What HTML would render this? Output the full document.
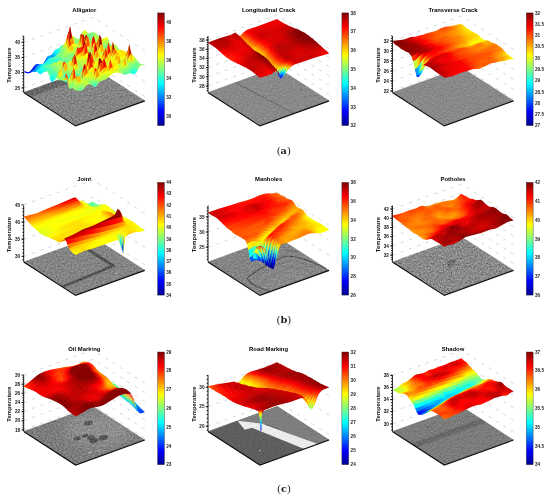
<!DOCTYPE html>
<html><head><meta charset="utf-8"><title>Temperature surfaces</title>
<style>
html,body{margin:0;padding:0;background:#fff}
svg{display:block}
text{font-family:"Liberation Sans",sans-serif;font-weight:bold;font-size:5.7px;fill:#161616}
.t{font-size:5.9px;text-anchor:middle;fill:#000}
.c{font-size:4.6px;fill:#1a1a1a}
.z{font-size:4.7px;text-anchor:end}
.y{font-size:5.9px;text-anchor:middle}
.cap{font-family:"Liberation Serif",serif;font-weight:normal;font-size:11px;text-anchor:middle;fill:#1c1c1c}
.cap tspan{font-family:"DejaVu Serif","Liberation Serif",serif;font-weight:bold;font-size:9.8px}
</style></head><body>
<svg width="550" height="502" viewBox="0 0 550 502">
<defs>
<linearGradient id="sp" x1="0" y1="0" x2="0" y2="1"><stop offset="0" stop-color="#d00"/><stop offset=".12" stop-color="#f80"/><stop offset=".25" stop-color="#ff0"/><stop offset=".42" stop-color="#7f7"/><stop offset=".6" stop-color="#0ef"/><stop offset=".8" stop-color="#05f"/><stop offset="1" stop-color="#00c"/></linearGradient>
<linearGradient id="jet" x1="0" y1="1" x2="0" y2="0">
<stop offset="0" stop-color="#00008f"/><stop offset=".125" stop-color="#00f"/><stop offset=".375" stop-color="#0ff"/><stop offset=".625" stop-color="#ff0"/><stop offset=".875" stop-color="#f00"/><stop offset="1" stop-color="#800000"/>
</linearGradient>
<filter id="n" x="0" y="0" width="1" height="1" color-interpolation-filters="sRGB">
<feTurbulence type="fractalNoise" baseFrequency=".62" numOctaves="2" seed="4"/>
<feColorMatrix type="matrix" values=".8 .8 .8 0 -.7  .8 .8 .8 0 -.7  .8 .8 .8 0 -.7  0 0 0 0 1"/>
<feComposite in2="SourceGraphic" operator="in"/>
</filter>
<filter id="n2" x="0" y="0" width="1" height="1" color-interpolation-filters="sRGB">
<feTurbulence type="fractalNoise" baseFrequency=".6" numOctaves="2" seed="9"/>
<feColorMatrix type="matrix" values="1.1 1.1 1.1 0 -1.15  1.1 1.1 1.1 0 -1.15  1.1 1.1 1.1 0 -1.15  0 0 0 0 1"/>
<feComposite in2="SourceGraphic" operator="in"/>
</filter>
<clipPath id="bc"><polygon points="23.7,92.2 75.6,125.6 144.8,100.6 92.9,67.2"/></clipPath>
<filter id="b1"><feGaussianBlur stdDeviation=".6"/></filter>
<filter id="b2" x="-.3" y="-.3" width="1.6" height="1.6"><feGaussianBlur stdDeviation="7"/></filter>
<filter id="bl"><feGaussianBlur stdDeviation=".012"/></filter>
</defs>
<rect width="550" height="502" fill="#fff"/>

<g transform="translate(0 0)">
<text class="t" x="84.3" y="11.5">Alligator</text>
<path d="M23.7 87.9 L92.9 62.9 L144.8 96.3 M23.7 72.7 L92.9 47.7 L144.8 81.1 M23.7 57.5 L92.9 32.5 L144.8 65.9 M23.7 42.3 L92.9 17.3 L144.8 50.7" fill="none" stroke="#d2d2d2" stroke-width=".9" stroke-dasharray="3.4 5.4"/>
<g transform="matrix(69.200 -25.000 -51.900 -33.400 75.60 125.60)">
<rect width="1" height="1" fill="#878787"/>
<rect x="0" y=".86" width=".75" height=".14" fill="#000" opacity=".3" filter="url(#bl)"/>
</g>
<polygon points="23.7,92.2 75.6,125.6 144.8,100.6 92.9,67.2" fill="#888" filter="url(#n)" opacity="0.24"/>
<path d="M23.7 92.5L75.6 125.9L144.8 100.9" fill="none" stroke="#0a0a0a" stroke-width="1.15" stroke-linejoin="miter"/>
<path d="M23.7 36.0 V92.2M23.7 91.0h-1.3M23.7 87.9h-1.3M23.7 84.9h-1.3M23.7 81.8h-1.3M23.7 78.8h-1.3M23.7 75.8h-1.3M23.7 72.7h-1.3M23.7 69.7h-1.3M23.7 66.6h-1.3M23.7 63.6h-1.3M23.7 60.6h-1.3M23.7 57.5h-1.3M23.7 54.5h-1.3M23.7 51.4h-1.3M23.7 48.4h-1.3M23.7 45.4h-1.3M23.7 42.3h-1.3M23.7 39.3h-1.3M23.7 36.2h-1.3M23.7 87.9h-2.2M23.7 72.7h-2.2M23.7 57.5h-2.2M23.7 42.3h-2.2" fill="none" stroke="#000" stroke-width=".9"/>
<text class="z" x="20.2" y="89.6">25</text>
<text class="z" x="20.2" y="74.4">30</text>
<text class="z" x="20.2" y="59.2">35</text>
<text class="z" x="20.2" y="44.0">40</text>
<text class="y" transform="translate(11.2 65) rotate(-90)">Temperature</text>
<g class="s">
<defs><linearGradient id="p139" gradientUnits="userSpaceOnUse" x1="24.3" x2="93.5"><stop offset="0" stop-color="#00f"/><stop offset=".075" stop-color="#00b"/><stop offset=".125" stop-color="#00e"/><stop offset=".175" stop-color="#04f"/><stop offset=".275" stop-color="#00f"/><stop offset=".35" stop-color="#0af"/><stop offset=".4" stop-color="#09f"/><stop offset=".45" stop-color="#0ff"/><stop offset=".55" stop-color="#5fa"/><stop offset=".6" stop-color="#4fb"/><stop offset=".65" stop-color="#bf4"/><stop offset=".675" stop-color="#ef1"/><stop offset=".7" stop-color="#df2"/><stop offset=".775" stop-color="#6f9"/><stop offset=".8" stop-color="#5fa"/><stop offset=".85" stop-color="#df2"/><stop offset=".875" stop-color="#ef1"/><stop offset=".925" stop-color="#9f6"/><stop offset=".95" stop-color="#7f8"/><stop offset="1" stop-color="#9f6"/></linearGradient>
<linearGradient id="p138" gradientUnits="userSpaceOnUse" x1="25.6" x2="94.8"><stop offset="0" stop-color="#00f"/><stop offset=".05" stop-color="#00d"/><stop offset=".1" stop-color="#00e"/><stop offset=".125" stop-color="#01f"/><stop offset=".15" stop-color="#04f"/><stop offset=".175" stop-color="#05f"/><stop offset=".275" stop-color="#02f"/><stop offset=".35" stop-color="#08f"/><stop offset=".4" stop-color="#08f"/><stop offset=".45" stop-color="#0ff"/><stop offset=".475" stop-color="#2fd"/><stop offset=".525" stop-color="#6f9"/><stop offset=".55" stop-color="#7f8"/><stop offset=".6" stop-color="#6f9"/><stop offset=".65" stop-color="#af5"/><stop offset=".675" stop-color="#bf4"/><stop offset=".725" stop-color="#af5"/><stop offset=".8" stop-color="#5fa"/><stop offset=".85" stop-color="#af5"/><stop offset=".875" stop-color="#af5"/><stop offset=".925" stop-color="#6f9"/><stop offset=".95" stop-color="#6f9"/><stop offset="1" stop-color="#9f6"/></linearGradient>
<linearGradient id="p137" gradientUnits="userSpaceOnUse" x1="26.9" x2="96.1"><stop offset="0" stop-color="#01f"/><stop offset=".075" stop-color="#00f"/><stop offset=".1" stop-color="#01f"/><stop offset=".15" stop-color="#05f"/><stop offset=".25" stop-color="#06f"/><stop offset=".3" stop-color="#05f"/><stop offset=".375" stop-color="#07f"/><stop offset=".4" stop-color="#09f"/><stop offset=".45" stop-color="#1fe"/><stop offset=".55" stop-color="#df2"/><stop offset=".575" stop-color="#df2"/><stop offset=".625" stop-color="#9f6"/><stop offset=".675" stop-color="#8f7"/><stop offset=".75" stop-color="#9f6"/><stop offset=".8" stop-color="#5fa"/><stop offset=".875" stop-color="#7f8"/><stop offset=".925" stop-color="#6f9"/><stop offset=".95" stop-color="#6f9"/><stop offset="1" stop-color="#af5"/></linearGradient>
<linearGradient id="p136" gradientUnits="userSpaceOnUse" x1="28.2" x2="97.4"><stop offset="0" stop-color="#02f"/><stop offset=".05" stop-color="#03f"/><stop offset=".15" stop-color="#07f"/><stop offset=".2" stop-color="#07f"/><stop offset=".25" stop-color="#0af"/><stop offset=".275" stop-color="#0af"/><stop offset=".325" stop-color="#08f"/><stop offset=".35" stop-color="#08f"/><stop offset=".425" stop-color="#1fe"/><stop offset=".5" stop-color="#9f6"/><stop offset=".525" stop-color="#ef1"/><stop offset=".55" stop-color="#f70"/><stop offset=".575" stop-color="#f00"/><stop offset=".6" stop-color="#f90"/><stop offset=".625" stop-color="#cf3"/><stop offset=".65" stop-color="#8f7"/><stop offset=".7" stop-color="#6f9"/><stop offset=".75" stop-color="#9f6"/><stop offset=".85" stop-color="#6f9"/><stop offset="1" stop-color="#9f6"/></linearGradient>
<linearGradient id="p135" gradientUnits="userSpaceOnUse" x1="29.5" x2="98.7"><stop offset="0" stop-color="#05f"/><stop offset=".025" stop-color="#04f"/><stop offset=".05" stop-color="#05f"/><stop offset=".15" stop-color="#0af"/><stop offset=".2" stop-color="#09f"/><stop offset=".25" stop-color="#0ef"/><stop offset=".275" stop-color="#0ff"/><stop offset=".325" stop-color="#0bf"/><stop offset=".375" stop-color="#0ef"/><stop offset=".5" stop-color="#af5"/><stop offset=".525" stop-color="#fe0"/><stop offset=".55" stop-color="#e00"/><stop offset=".575" stop-color="#800"/><stop offset=".6" stop-color="#f00"/><stop offset=".625" stop-color="#ff0"/><stop offset=".65" stop-color="#9f6"/><stop offset=".675" stop-color="#6f9"/><stop offset=".7" stop-color="#5fa"/><stop offset=".75" stop-color="#af5"/><stop offset=".775" stop-color="#bf4"/><stop offset=".8" stop-color="#af5"/><stop offset=".85" stop-color="#7f8"/><stop offset=".875" stop-color="#7f8"/><stop offset=".925" stop-color="#af5"/><stop offset=".95" stop-color="#bf4"/><stop offset="1" stop-color="#7f8"/></linearGradient>
<linearGradient id="p134" gradientUnits="userSpaceOnUse" x1="30.8" x2="100"><stop offset="0" stop-color="#08f"/><stop offset=".025" stop-color="#06f"/><stop offset=".05" stop-color="#07f"/><stop offset=".125" stop-color="#0cf"/><stop offset=".2" stop-color="#0cf"/><stop offset=".225" stop-color="#0ef"/><stop offset=".275" stop-color="#3fc"/><stop offset=".325" stop-color="#1fe"/><stop offset=".5" stop-color="#9f6"/><stop offset=".525" stop-color="#ef1"/><stop offset=".55" stop-color="#f30"/><stop offset=".575" stop-color="#800"/><stop offset=".6" stop-color="#f10"/><stop offset=".625" stop-color="#fe0"/><stop offset=".65" stop-color="#af5"/><stop offset=".7" stop-color="#5fa"/><stop offset=".725" stop-color="#6f9"/><stop offset=".775" stop-color="#cf3"/><stop offset=".8" stop-color="#cf3"/><stop offset=".85" stop-color="#8f7"/><stop offset=".875" stop-color="#7f8"/><stop offset=".925" stop-color="#bf4"/><stop offset=".95" stop-color="#bf4"/><stop offset="1" stop-color="#5fa"/></linearGradient>
<linearGradient id="p133" gradientUnits="userSpaceOnUse" x1="32.1" x2="101.3"><stop offset="0" stop-color="#09f"/><stop offset=".025" stop-color="#08f"/><stop offset=".05" stop-color="#08f"/><stop offset=".125" stop-color="#0df"/><stop offset=".225" stop-color="#1fe"/><stop offset=".275" stop-color="#4fb"/><stop offset=".325" stop-color="#4fb"/><stop offset=".375" stop-color="#6f9"/><stop offset=".425" stop-color="#7f8"/><stop offset=".475" stop-color="#9f6"/><stop offset=".525" stop-color="#ef1"/><stop offset=".55" stop-color="#fd0"/><stop offset=".575" stop-color="#f70"/><stop offset=".6" stop-color="#fa0"/><stop offset=".625" stop-color="#ff0"/><stop offset=".65" stop-color="#df2"/><stop offset=".675" stop-color="#df2"/><stop offset=".725" stop-color="#8f7"/><stop offset=".775" stop-color="#cf3"/><stop offset=".8" stop-color="#cf3"/><stop offset=".875" stop-color="#8f7"/><stop offset=".925" stop-color="#bf4"/><stop offset=".95" stop-color="#bf4"/><stop offset="1" stop-color="#2fd"/></linearGradient>
<linearGradient id="p132" gradientUnits="userSpaceOnUse" x1="33.4" x2="102.6"><stop offset="0" stop-color="#0af"/><stop offset=".05" stop-color="#09f"/><stop offset=".125" stop-color="#0ff"/><stop offset=".15" stop-color="#1fe"/><stop offset=".225" stop-color="#2fd"/><stop offset=".275" stop-color="#4fb"/><stop offset=".325" stop-color="#5fa"/><stop offset=".375" stop-color="#8f7"/><stop offset=".425" stop-color="#8f7"/><stop offset=".45" stop-color="#9f6"/><stop offset=".475" stop-color="#cf3"/><stop offset=".5" stop-color="#f90"/><stop offset=".525" stop-color="#f70"/><stop offset=".55" stop-color="#ff0"/><stop offset=".625" stop-color="#df2"/><stop offset=".65" stop-color="#fd0"/><stop offset=".675" stop-color="#f30"/><stop offset=".7" stop-color="#f60"/><stop offset=".725" stop-color="#df2"/><stop offset=".75" stop-color="#bf4"/><stop offset=".775" stop-color="#bf4"/><stop offset=".85" stop-color="#8f7"/><stop offset=".875" stop-color="#8f7"/><stop offset=".925" stop-color="#cf3"/><stop offset=".95" stop-color="#cf3"/><stop offset="1" stop-color="#2fd"/></linearGradient>
<linearGradient id="p131" gradientUnits="userSpaceOnUse" x1="34.7" x2="103.9"><stop offset="0" stop-color="#0cf"/><stop offset=".05" stop-color="#0bf"/><stop offset=".1" stop-color="#0ff"/><stop offset=".125" stop-color="#2fd"/><stop offset=".15" stop-color="#3fc"/><stop offset=".225" stop-color="#2fd"/><stop offset=".3" stop-color="#3fc"/><stop offset=".375" stop-color="#8f7"/><stop offset=".45" stop-color="#af5"/><stop offset=".475" stop-color="#df2"/><stop offset=".5" stop-color="#f50"/><stop offset=".525" stop-color="#f20"/><stop offset=".55" stop-color="#ff0"/><stop offset=".575" stop-color="#bf4"/><stop offset=".6" stop-color="#af5"/><stop offset=".625" stop-color="#cf3"/><stop offset=".65" stop-color="#fa0"/><stop offset=".675" stop-color="#800"/><stop offset=".7" stop-color="#a00"/><stop offset=".725" stop-color="#fc0"/><stop offset=".75" stop-color="#ef1"/><stop offset=".825" stop-color="#8f7"/><stop offset=".875" stop-color="#9f6"/><stop offset=".925" stop-color="#cf3"/><stop offset=".95" stop-color="#cf3"/><stop offset="1" stop-color="#5fa"/></linearGradient>
<linearGradient id="p130" gradientUnits="userSpaceOnUse" x1="36" x2="105.2"><stop offset="0" stop-color="#0ef"/><stop offset=".075" stop-color="#0ff"/><stop offset=".125" stop-color="#3fc"/><stop offset=".225" stop-color="#2fd"/><stop offset=".3" stop-color="#3fc"/><stop offset=".375" stop-color="#8f7"/><stop offset=".475" stop-color="#cf3"/><stop offset=".5" stop-color="#fc0"/><stop offset=".525" stop-color="#fb0"/><stop offset=".55" stop-color="#df2"/><stop offset=".575" stop-color="#9f6"/><stop offset=".6" stop-color="#8f7"/><stop offset=".625" stop-color="#af5"/><stop offset=".65" stop-color="#fd0"/><stop offset=".675" stop-color="#f10"/><stop offset=".7" stop-color="#900"/><stop offset=".725" stop-color="#f30"/><stop offset=".75" stop-color="#fd0"/><stop offset=".775" stop-color="#df2"/><stop offset=".825" stop-color="#af5"/><stop offset=".925" stop-color="#df2"/><stop offset="1" stop-color="#af5"/></linearGradient>
<linearGradient id="p129" gradientUnits="userSpaceOnUse" x1="37.3" x2="106.5"><stop offset="0" stop-color="#0ef"/><stop offset=".025" stop-color="#1fe"/><stop offset=".125" stop-color="#5fa"/><stop offset=".2" stop-color="#1fe"/><stop offset=".25" stop-color="#2fd"/><stop offset=".3" stop-color="#3fc"/><stop offset=".4" stop-color="#af5"/><stop offset=".475" stop-color="#9f6"/><stop offset=".525" stop-color="#df2"/><stop offset=".6" stop-color="#6f9"/><stop offset=".625" stop-color="#8f7"/><stop offset=".65" stop-color="#cf3"/><stop offset=".675" stop-color="#fc0"/><stop offset=".7" stop-color="#a00"/><stop offset=".725" stop-color="#b00"/><stop offset=".75" stop-color="#fc0"/><stop offset=".775" stop-color="#cf3"/><stop offset=".825" stop-color="#bf4"/><stop offset="1" stop-color="#ff0"/></linearGradient>
<linearGradient id="p128" gradientUnits="userSpaceOnUse" x1="38.6" x2="107.8"><stop offset="0" stop-color="#0df"/><stop offset=".025" stop-color="#0ff"/><stop offset=".125" stop-color="#6f9"/><stop offset=".2" stop-color="#2fd"/><stop offset=".325" stop-color="#5fa"/><stop offset=".4" stop-color="#9f6"/><stop offset=".475" stop-color="#7f8"/><stop offset=".525" stop-color="#bf4"/><stop offset=".6" stop-color="#7f8"/><stop offset=".65" stop-color="#af5"/><stop offset=".675" stop-color="#ff0"/><stop offset=".7" stop-color="#f50"/><stop offset=".725" stop-color="#f50"/><stop offset=".75" stop-color="#ef1"/><stop offset=".775" stop-color="#bf4"/><stop offset=".8" stop-color="#af5"/><stop offset=".875" stop-color="#df2"/><stop offset=".95" stop-color="#df2"/><stop offset="1" stop-color="#ff0"/></linearGradient>
<linearGradient id="p127" gradientUnits="userSpaceOnUse" x1="39.9" x2="109.1"><stop offset="0" stop-color="#0df"/><stop offset=".05" stop-color="#1fe"/><stop offset=".125" stop-color="#7f8"/><stop offset=".15" stop-color="#7f8"/><stop offset=".225" stop-color="#4fb"/><stop offset=".275" stop-color="#6f9"/><stop offset=".35" stop-color="#6f9"/><stop offset=".425" stop-color="#8f7"/><stop offset=".475" stop-color="#6f9"/><stop offset=".525" stop-color="#9f6"/><stop offset=".575" stop-color="#9f6"/><stop offset=".625" stop-color="#af5"/><stop offset=".675" stop-color="#af5"/><stop offset=".7" stop-color="#df2"/><stop offset=".725" stop-color="#fd0"/><stop offset=".75" stop-color="#fe0"/><stop offset=".8" stop-color="#bf4"/><stop offset=".875" stop-color="#cf3"/><stop offset=".925" stop-color="#af5"/><stop offset="1" stop-color="#bf4"/></linearGradient>
<linearGradient id="p126" gradientUnits="userSpaceOnUse" x1="41.2" x2="110.4"><stop offset="0" stop-color="#0ff"/><stop offset=".075" stop-color="#2fd"/><stop offset=".15" stop-color="#9f6"/><stop offset=".175" stop-color="#af5"/><stop offset=".225" stop-color="#8f7"/><stop offset=".275" stop-color="#8f7"/><stop offset=".35" stop-color="#6f9"/><stop offset=".425" stop-color="#9f6"/><stop offset=".475" stop-color="#7f8"/><stop offset=".55" stop-color="#af5"/><stop offset=".625" stop-color="#cf3"/><stop offset=".675" stop-color="#9f6"/><stop offset=".7" stop-color="#cf3"/><stop offset=".725" stop-color="#f30"/><stop offset=".75" stop-color="#f00"/><stop offset=".775" stop-color="#fc0"/><stop offset=".8" stop-color="#df2"/><stop offset=".875" stop-color="#bf4"/><stop offset=".925" stop-color="#8f7"/><stop offset="1" stop-color="#7f8"/></linearGradient>
<linearGradient id="p125" gradientUnits="userSpaceOnUse" x1="42.5" x2="111.7"><stop offset="0" stop-color="#4fb"/><stop offset=".075" stop-color="#2fd"/><stop offset=".1" stop-color="#3fc"/><stop offset=".15" stop-color="#af5"/><stop offset=".175" stop-color="#bf4"/><stop offset=".25" stop-color="#bf4"/><stop offset=".325" stop-color="#6f9"/><stop offset=".375" stop-color="#6f9"/><stop offset=".4" stop-color="#7f8"/><stop offset=".45" stop-color="#cf3"/><stop offset=".5" stop-color="#cf3"/><stop offset=".55" stop-color="#ff0"/><stop offset=".575" stop-color="#fc0"/><stop offset=".6" stop-color="#fe0"/><stop offset=".65" stop-color="#9f6"/><stop offset=".675" stop-color="#8f7"/><stop offset=".7" stop-color="#cf3"/><stop offset=".725" stop-color="#f10"/><stop offset=".75" stop-color="#c00"/><stop offset=".775" stop-color="#f90"/><stop offset=".8" stop-color="#fd0"/><stop offset=".825" stop-color="#df2"/><stop offset=".85" stop-color="#af5"/><stop offset=".925" stop-color="#7f8"/><stop offset="1" stop-color="#6f9"/></linearGradient>
<linearGradient id="p124" gradientUnits="userSpaceOnUse" x1="43.8" x2="113"><stop offset="0" stop-color="#8f7"/><stop offset=".075" stop-color="#4fb"/><stop offset=".1" stop-color="#4fb"/><stop offset=".175" stop-color="#af5"/><stop offset=".225" stop-color="#cf3"/><stop offset=".25" stop-color="#cf3"/><stop offset=".3" stop-color="#7f8"/><stop offset=".325" stop-color="#7f8"/><stop offset=".4" stop-color="#8f7"/><stop offset=".425" stop-color="#af5"/><stop offset=".45" stop-color="#fa0"/><stop offset=".475" stop-color="#f40"/><stop offset=".5" stop-color="#f50"/><stop offset=".55" stop-color="#f50"/><stop offset=".575" stop-color="#b00"/><stop offset=".6" stop-color="#f80"/><stop offset=".625" stop-color="#ef1"/><stop offset=".65" stop-color="#9f6"/><stop offset=".675" stop-color="#7f8"/><stop offset=".7" stop-color="#af5"/><stop offset=".725" stop-color="#fc0"/><stop offset=".75" stop-color="#f50"/><stop offset=".775" stop-color="#f30"/><stop offset=".8" stop-color="#f70"/><stop offset=".825" stop-color="#df2"/><stop offset=".85" stop-color="#8f7"/><stop offset=".875" stop-color="#7f8"/><stop offset=".95" stop-color="#7f8"/><stop offset="1" stop-color="#9f6"/></linearGradient>
<linearGradient id="p123" gradientUnits="userSpaceOnUse" x1="45.1" x2="114.3"><stop offset="0" stop-color="#af5"/><stop offset=".05" stop-color="#5fa"/><stop offset=".075" stop-color="#5fa"/><stop offset=".225" stop-color="#cf3"/><stop offset=".3" stop-color="#8f7"/><stop offset=".35" stop-color="#9f6"/><stop offset=".4" stop-color="#8f7"/><stop offset=".425" stop-color="#bf4"/><stop offset=".45" stop-color="#f90"/><stop offset=".475" stop-color="#f20"/><stop offset=".525" stop-color="#f30"/><stop offset=".55" stop-color="#e00"/><stop offset=".575" stop-color="#800"/><stop offset=".6" stop-color="#f40"/><stop offset=".625" stop-color="#ef1"/><stop offset=".65" stop-color="#9f6"/><stop offset=".675" stop-color="#7f8"/><stop offset=".7" stop-color="#9f6"/><stop offset=".725" stop-color="#df2"/><stop offset=".75" stop-color="#f70"/><stop offset=".775" stop-color="#800"/><stop offset=".8" stop-color="#b00"/><stop offset=".825" stop-color="#ff0"/><stop offset=".85" stop-color="#7f8"/><stop offset=".95" stop-color="#9f6"/><stop offset="1" stop-color="#bf4"/></linearGradient>
<linearGradient id="p122" gradientUnits="userSpaceOnUse" x1="46.4" x2="115.6"><stop offset="0" stop-color="#af5"/><stop offset=".05" stop-color="#5fa"/><stop offset=".075" stop-color="#5fa"/><stop offset=".125" stop-color="#8f7"/><stop offset=".225" stop-color="#bf4"/><stop offset=".275" stop-color="#af5"/><stop offset=".35" stop-color="#bf4"/><stop offset=".4" stop-color="#9f6"/><stop offset=".425" stop-color="#af5"/><stop offset=".45" stop-color="#ff0"/><stop offset=".5" stop-color="#fb0"/><stop offset=".525" stop-color="#fc0"/><stop offset=".575" stop-color="#f00"/><stop offset=".6" stop-color="#fa0"/><stop offset=".625" stop-color="#df2"/><stop offset=".65" stop-color="#af5"/><stop offset=".675" stop-color="#af5"/><stop offset=".7" stop-color="#af5"/><stop offset=".725" stop-color="#df2"/><stop offset=".75" stop-color="#f90"/><stop offset=".775" stop-color="#800"/><stop offset=".8" stop-color="#c00"/><stop offset=".825" stop-color="#ff0"/><stop offset=".85" stop-color="#9f6"/><stop offset=".9" stop-color="#af5"/><stop offset=".95" stop-color="#af5"/><stop offset="1" stop-color="#cf3"/></linearGradient>
<linearGradient id="p121" gradientUnits="userSpaceOnUse" x1="47.7" x2="116.9"><stop offset="0" stop-color="#9f6"/><stop offset=".05" stop-color="#4fb"/><stop offset=".075" stop-color="#4fb"/><stop offset=".125" stop-color="#8f7"/><stop offset=".2" stop-color="#bf4"/><stop offset=".25" stop-color="#af5"/><stop offset=".325" stop-color="#df2"/><stop offset=".4" stop-color="#af5"/><stop offset=".5" stop-color="#ff0"/><stop offset=".525" stop-color="#ef1"/><stop offset=".575" stop-color="#ff0"/><stop offset=".6" stop-color="#df2"/><stop offset=".7" stop-color="#cf3"/><stop offset=".725" stop-color="#cf3"/><stop offset=".75" stop-color="#ff0"/><stop offset=".775" stop-color="#fa0"/><stop offset=".8" stop-color="#fb0"/><stop offset=".825" stop-color="#cf3"/><stop offset=".85" stop-color="#bf4"/><stop offset=".9" stop-color="#cf3"/><stop offset=".95" stop-color="#af5"/><stop offset="1" stop-color="#bf4"/></linearGradient>
<linearGradient id="p120" gradientUnits="userSpaceOnUse" x1="49" x2="118.2"><stop offset="0" stop-color="#5fa"/><stop offset=".075" stop-color="#3fc"/><stop offset=".175" stop-color="#cf3"/><stop offset=".2" stop-color="#df2"/><stop offset=".25" stop-color="#9f6"/><stop offset=".3" stop-color="#df2"/><stop offset=".325" stop-color="#ef1"/><stop offset=".4" stop-color="#af5"/><stop offset=".425" stop-color="#bf4"/><stop offset=".475" stop-color="#ff0"/><stop offset=".5" stop-color="#fe0"/><stop offset=".525" stop-color="#ef1"/><stop offset=".575" stop-color="#af5"/><stop offset=".6" stop-color="#cf3"/><stop offset=".625" stop-color="#fc0"/><stop offset=".65" stop-color="#fb0"/><stop offset=".675" stop-color="#ef1"/><stop offset=".7" stop-color="#cf3"/><stop offset=".775" stop-color="#bf4"/><stop offset=".825" stop-color="#cf3"/><stop offset=".85" stop-color="#ef1"/><stop offset=".875" stop-color="#fe0"/><stop offset=".9" stop-color="#ff0"/><stop offset=".95" stop-color="#af5"/><stop offset="1" stop-color="#9f6"/></linearGradient>
<linearGradient id="p119" gradientUnits="userSpaceOnUse" x1="50.3" x2="119.5"><stop offset="0" stop-color="#1fe"/><stop offset=".1" stop-color="#4fb"/><stop offset=".125" stop-color="#6f9"/><stop offset=".15" stop-color="#bf4"/><stop offset=".175" stop-color="#f90"/><stop offset=".2" stop-color="#f90"/><stop offset=".225" stop-color="#cf3"/><stop offset=".25" stop-color="#9f6"/><stop offset=".3" stop-color="#fe0"/><stop offset=".325" stop-color="#fe0"/><stop offset=".35" stop-color="#ef1"/><stop offset=".4" stop-color="#bf4"/><stop offset=".425" stop-color="#bf4"/><stop offset=".5" stop-color="#ff0"/><stop offset=".525" stop-color="#ef1"/><stop offset=".575" stop-color="#9f6"/><stop offset=".6" stop-color="#ff0"/><stop offset=".625" stop-color="#f10"/><stop offset=".65" stop-color="#d00"/><stop offset=".675" stop-color="#fc0"/><stop offset=".7" stop-color="#df2"/><stop offset=".775" stop-color="#9f6"/><stop offset=".8" stop-color="#af5"/><stop offset=".825" stop-color="#df2"/><stop offset=".85" stop-color="#fd0"/><stop offset=".875" stop-color="#fb0"/><stop offset=".9" stop-color="#fd0"/><stop offset=".925" stop-color="#ef1"/><stop offset=".95" stop-color="#af5"/><stop offset=".975" stop-color="#8f7"/><stop offset="1" stop-color="#8f7"/></linearGradient>
<linearGradient id="p118" gradientUnits="userSpaceOnUse" x1="51.6" x2="120.8"><stop offset="0" stop-color="#0df"/><stop offset=".025" stop-color="#0ff"/><stop offset=".125" stop-color="#6f9"/><stop offset=".15" stop-color="#bf4"/><stop offset=".175" stop-color="#f30"/><stop offset=".2" stop-color="#f30"/><stop offset=".225" stop-color="#ef1"/><stop offset=".25" stop-color="#af5"/><stop offset=".275" stop-color="#fe0"/><stop offset=".3" stop-color="#f40"/><stop offset=".325" stop-color="#f60"/><stop offset=".35" stop-color="#ff0"/><stop offset=".375" stop-color="#cf3"/><stop offset=".4" stop-color="#af5"/><stop offset=".45" stop-color="#bf4"/><stop offset=".5" stop-color="#df2"/><stop offset=".525" stop-color="#df2"/><stop offset=".575" stop-color="#9f6"/><stop offset=".6" stop-color="#ff0"/><stop offset=".625" stop-color="#f00"/><stop offset=".65" stop-color="#b00"/><stop offset=".675" stop-color="#fc0"/><stop offset=".7" stop-color="#df2"/><stop offset=".775" stop-color="#cf3"/><stop offset=".8" stop-color="#cf3"/><stop offset=".825" stop-color="#ff0"/><stop offset=".85" stop-color="#fc0"/><stop offset=".875" stop-color="#fa0"/><stop offset=".9" stop-color="#fc0"/><stop offset=".925" stop-color="#df2"/><stop offset=".95" stop-color="#af5"/><stop offset=".975" stop-color="#8f7"/><stop offset="1" stop-color="#8f7"/></linearGradient>
<linearGradient id="p117" gradientUnits="userSpaceOnUse" x1="52.9" x2="122.1"><stop offset="0" stop-color="#0ff"/><stop offset=".075" stop-color="#6f9"/><stop offset=".125" stop-color="#5fa"/><stop offset=".15" stop-color="#9f6"/><stop offset=".175" stop-color="#fb0"/><stop offset=".2" stop-color="#fa0"/><stop offset=".225" stop-color="#cf3"/><stop offset=".25" stop-color="#cf3"/><stop offset=".275" stop-color="#f90"/><stop offset=".3" stop-color="#800"/><stop offset=".325" stop-color="#e00"/><stop offset=".35" stop-color="#ff0"/><stop offset=".375" stop-color="#af5"/><stop offset=".525" stop-color="#cf3"/><stop offset=".575" stop-color="#9f6"/><stop offset=".6" stop-color="#cf3"/><stop offset=".625" stop-color="#fa0"/><stop offset=".65" stop-color="#f80"/><stop offset=".675" stop-color="#ff0"/><stop offset=".7" stop-color="#df2"/><stop offset=".725" stop-color="#df2"/><stop offset=".75" stop-color="#fd0"/><stop offset=".775" stop-color="#fa0"/><stop offset=".8" stop-color="#fd0"/><stop offset=".825" stop-color="#fd0"/><stop offset=".875" stop-color="#fb0"/><stop offset=".9" stop-color="#fe0"/><stop offset=".95" stop-color="#9f6"/><stop offset="1" stop-color="#9f6"/></linearGradient>
<linearGradient id="p116" gradientUnits="userSpaceOnUse" x1="54.2" x2="123.4"><stop offset="0" stop-color="#4fb"/><stop offset=".025" stop-color="#6f9"/><stop offset=".05" stop-color="#df2"/><stop offset=".075" stop-color="#ff0"/><stop offset=".1" stop-color="#7f8"/><stop offset=".125" stop-color="#4fb"/><stop offset=".15" stop-color="#5fa"/><stop offset=".175" stop-color="#9f6"/><stop offset=".2" stop-color="#bf4"/><stop offset=".225" stop-color="#af5"/><stop offset=".25" stop-color="#cf3"/><stop offset=".275" stop-color="#fa0"/><stop offset=".3" stop-color="#c00"/><stop offset=".325" stop-color="#f50"/><stop offset=".35" stop-color="#bf4"/><stop offset=".375" stop-color="#8f7"/><stop offset=".425" stop-color="#bf4"/><stop offset=".5" stop-color="#df2"/><stop offset=".575" stop-color="#9f6"/><stop offset=".65" stop-color="#ef1"/><stop offset=".7" stop-color="#df2"/><stop offset=".725" stop-color="#ff0"/><stop offset=".75" stop-color="#f50"/><stop offset=".775" stop-color="#a00"/><stop offset=".8" stop-color="#f90"/><stop offset=".825" stop-color="#fe0"/><stop offset=".875" stop-color="#fd0"/><stop offset=".9" stop-color="#fe0"/><stop offset=".95" stop-color="#bf4"/><stop offset="1" stop-color="#af5"/></linearGradient>
<linearGradient id="p115" gradientUnits="userSpaceOnUse" x1="55.5" x2="124.7"><stop offset="0" stop-color="#8f7"/><stop offset=".025" stop-color="#af5"/><stop offset=".05" stop-color="#fa0"/><stop offset=".075" stop-color="#f70"/><stop offset=".1" stop-color="#9f6"/><stop offset=".125" stop-color="#4fb"/><stop offset=".15" stop-color="#4fb"/><stop offset=".225" stop-color="#9f6"/><stop offset=".275" stop-color="#ff0"/><stop offset=".3" stop-color="#fc0"/><stop offset=".325" stop-color="#df2"/><stop offset=".35" stop-color="#7f8"/><stop offset=".375" stop-color="#6f9"/><stop offset=".45" stop-color="#ef1"/><stop offset=".475" stop-color="#fd0"/><stop offset=".525" stop-color="#ef1"/><stop offset=".575" stop-color="#bf4"/><stop offset=".6" stop-color="#bf4"/><stop offset=".675" stop-color="#ff0"/><stop offset=".7" stop-color="#ef1"/><stop offset=".725" stop-color="#ef1"/><stop offset=".75" stop-color="#f60"/><stop offset=".775" stop-color="#d00"/><stop offset=".8" stop-color="#f70"/><stop offset=".825" stop-color="#fd0"/><stop offset=".85" stop-color="#ff0"/><stop offset=".9" stop-color="#fe0"/><stop offset=".925" stop-color="#ff0"/><stop offset="1" stop-color="#af5"/></linearGradient>
<linearGradient id="p114" gradientUnits="userSpaceOnUse" x1="56.8" x2="126"><stop offset="0" stop-color="#9f6"/><stop offset=".025" stop-color="#af5"/><stop offset=".05" stop-color="#fe0"/><stop offset=".075" stop-color="#fd0"/><stop offset=".1" stop-color="#8f7"/><stop offset=".125" stop-color="#4fb"/><stop offset=".15" stop-color="#4fb"/><stop offset=".2" stop-color="#6f9"/><stop offset=".275" stop-color="#bf4"/><stop offset=".3" stop-color="#bf4"/><stop offset=".35" stop-color="#6f9"/><stop offset=".375" stop-color="#5fa"/><stop offset=".4" stop-color="#7f8"/><stop offset=".425" stop-color="#bf4"/><stop offset=".45" stop-color="#fa0"/><stop offset=".475" stop-color="#e00"/><stop offset=".525" stop-color="#fe0"/><stop offset=".55" stop-color="#ef1"/><stop offset=".6" stop-color="#cf3"/><stop offset=".625" stop-color="#ef1"/><stop offset=".65" stop-color="#fb0"/><stop offset=".675" stop-color="#f60"/><stop offset=".7" stop-color="#fd0"/><stop offset=".725" stop-color="#cf3"/><stop offset=".75" stop-color="#ff0"/><stop offset=".775" stop-color="#f80"/><stop offset=".8" stop-color="#a00"/><stop offset=".825" stop-color="#f60"/><stop offset=".85" stop-color="#ff0"/><stop offset=".875" stop-color="#ff0"/><stop offset=".925" stop-color="#fd0"/><stop offset=".95" stop-color="#ff0"/><stop offset="1" stop-color="#af5"/></linearGradient>
<linearGradient id="p113" gradientUnits="userSpaceOnUse" x1="58.1" x2="127.3"><stop offset="0" stop-color="#8f7"/><stop offset=".05" stop-color="#9f6"/><stop offset=".075" stop-color="#8f7"/><stop offset=".125" stop-color="#3fc"/><stop offset=".175" stop-color="#3fc"/><stop offset=".2" stop-color="#3fc"/><stop offset=".275" stop-color="#8f7"/><stop offset=".375" stop-color="#8f7"/><stop offset=".425" stop-color="#cf3"/><stop offset=".45" stop-color="#f70"/><stop offset=".475" stop-color="#800"/><stop offset=".5" stop-color="#f30"/><stop offset=".525" stop-color="#fe0"/><stop offset=".55" stop-color="#ef1"/><stop offset=".6" stop-color="#df2"/><stop offset=".625" stop-color="#ff0"/><stop offset=".65" stop-color="#f70"/><stop offset=".675" stop-color="#900"/><stop offset=".7" stop-color="#f80"/><stop offset=".725" stop-color="#df2"/><stop offset=".75" stop-color="#cf3"/><stop offset=".775" stop-color="#f90"/><stop offset=".8" stop-color="#800"/><stop offset=".825" stop-color="#f30"/><stop offset=".85" stop-color="#fe0"/><stop offset=".875" stop-color="#ff0"/><stop offset=".925" stop-color="#fd0"/><stop offset=".95" stop-color="#fe0"/><stop offset="1" stop-color="#bf4"/></linearGradient>
<linearGradient id="p112" gradientUnits="userSpaceOnUse" x1="59.4" x2="128.6"><stop offset="0" stop-color="#9f6"/><stop offset=".125" stop-color="#1fe"/><stop offset=".2" stop-color="#2fd"/><stop offset=".325" stop-color="#9f6"/><stop offset=".375" stop-color="#fe0"/><stop offset=".4" stop-color="#fb0"/><stop offset=".425" stop-color="#fd0"/><stop offset=".45" stop-color="#fa0"/><stop offset=".475" stop-color="#f10"/><stop offset=".5" stop-color="#f90"/><stop offset=".525" stop-color="#ff0"/><stop offset=".6" stop-color="#bf4"/><stop offset=".625" stop-color="#df2"/><stop offset=".65" stop-color="#fa0"/><stop offset=".675" stop-color="#e00"/><stop offset=".7" stop-color="#f80"/><stop offset=".725" stop-color="#ef1"/><stop offset=".75" stop-color="#df2"/><stop offset=".775" stop-color="#fc0"/><stop offset=".8" stop-color="#f50"/><stop offset=".825" stop-color="#f70"/><stop offset=".85" stop-color="#fd0"/><stop offset=".875" stop-color="#ff0"/><stop offset=".925" stop-color="#fd0"/><stop offset=".95" stop-color="#fe0"/><stop offset="1" stop-color="#cf3"/></linearGradient>
<linearGradient id="p111" gradientUnits="userSpaceOnUse" x1="60.7" x2="129.9"><stop offset="0" stop-color="#af5"/><stop offset=".05" stop-color="#7f8"/><stop offset=".1" stop-color="#2fd"/><stop offset=".125" stop-color="#1fe"/><stop offset=".175" stop-color="#3fc"/><stop offset=".2" stop-color="#2fd"/><stop offset=".225" stop-color="#2fd"/><stop offset=".3" stop-color="#af5"/><stop offset=".325" stop-color="#bf4"/><stop offset=".35" stop-color="#fe0"/><stop offset=".375" stop-color="#f30"/><stop offset=".4" stop-color="#800"/><stop offset=".425" stop-color="#f20"/><stop offset=".45" stop-color="#fc0"/><stop offset=".5" stop-color="#ff0"/><stop offset=".55" stop-color="#ef1"/><stop offset=".6" stop-color="#af5"/><stop offset=".625" stop-color="#af5"/><stop offset=".65" stop-color="#ef1"/><stop offset=".675" stop-color="#fc0"/><stop offset=".7" stop-color="#fd0"/><stop offset=".725" stop-color="#ef1"/><stop offset=".75" stop-color="#df2"/><stop offset=".775" stop-color="#ef1"/><stop offset=".8" stop-color="#fc0"/><stop offset=".825" stop-color="#fb0"/><stop offset=".875" stop-color="#fe0"/><stop offset=".925" stop-color="#fd0"/><stop offset=".95" stop-color="#ff0"/><stop offset="1" stop-color="#df2"/></linearGradient>
<linearGradient id="p110" gradientUnits="userSpaceOnUse" x1="62" x2="131.2"><stop offset="0" stop-color="#cf3"/><stop offset=".025" stop-color="#cf3"/><stop offset=".1" stop-color="#5fa"/><stop offset=".15" stop-color="#6f9"/><stop offset=".175" stop-color="#5fa"/><stop offset=".2" stop-color="#3fc"/><stop offset=".225" stop-color="#3fc"/><stop offset=".25" stop-color="#6f9"/><stop offset=".275" stop-color="#bf4"/><stop offset=".3" stop-color="#fc0"/><stop offset=".35" stop-color="#fd0"/><stop offset=".375" stop-color="#d00"/><stop offset=".4" stop-color="#800"/><stop offset=".425" stop-color="#d00"/><stop offset=".45" stop-color="#fc0"/><stop offset=".475" stop-color="#df2"/><stop offset=".5" stop-color="#df2"/><stop offset=".55" stop-color="#ef1"/><stop offset=".625" stop-color="#9f6"/><stop offset=".7" stop-color="#ff0"/><stop offset=".775" stop-color="#df2"/><stop offset=".825" stop-color="#fe0"/><stop offset=".925" stop-color="#fd0"/><stop offset=".95" stop-color="#ff0"/><stop offset="1" stop-color="#df2"/></linearGradient>
<linearGradient id="p19" gradientUnits="userSpaceOnUse" x1="63.3" x2="132.5"><stop offset="0" stop-color="#ef1"/><stop offset=".075" stop-color="#bf4"/><stop offset=".1" stop-color="#fe0"/><stop offset=".125" stop-color="#fa0"/><stop offset=".15" stop-color="#ef1"/><stop offset=".2" stop-color="#4fb"/><stop offset=".225" stop-color="#4fb"/><stop offset=".25" stop-color="#af5"/><stop offset=".275" stop-color="#fe0"/><stop offset=".3" stop-color="#f00"/><stop offset=".325" stop-color="#f50"/><stop offset=".35" stop-color="#ff0"/><stop offset=".375" stop-color="#f60"/><stop offset=".4" stop-color="#d00"/><stop offset=".425" stop-color="#f60"/><stop offset=".45" stop-color="#ff0"/><stop offset=".475" stop-color="#bf4"/><stop offset=".5" stop-color="#bf4"/><stop offset=".55" stop-color="#ef1"/><stop offset=".575" stop-color="#ef1"/><stop offset=".625" stop-color="#af5"/><stop offset=".65" stop-color="#bf4"/><stop offset=".7" stop-color="#ff0"/><stop offset=".775" stop-color="#fb0"/><stop offset=".8" stop-color="#ef1"/><stop offset=".825" stop-color="#df2"/><stop offset=".875" stop-color="#ff0"/><stop offset=".925" stop-color="#f60"/><stop offset=".95" stop-color="#fb0"/><stop offset=".975" stop-color="#ef1"/><stop offset="1" stop-color="#df2"/></linearGradient>
<linearGradient id="p18" gradientUnits="userSpaceOnUse" x1="64.6" x2="133.8"><stop offset="0" stop-color="#fa0"/><stop offset=".025" stop-color="#ff0"/><stop offset=".05" stop-color="#cf3"/><stop offset=".075" stop-color="#ef1"/><stop offset=".1" stop-color="#f50"/><stop offset=".125" stop-color="#b00"/><stop offset=".15" stop-color="#fb0"/><stop offset=".175" stop-color="#9f6"/><stop offset=".2" stop-color="#4fb"/><stop offset=".225" stop-color="#7f8"/><stop offset=".25" stop-color="#f90"/><stop offset=".275" stop-color="#f10"/><stop offset=".3" stop-color="#f20"/><stop offset=".325" stop-color="#f80"/><stop offset=".35" stop-color="#df2"/><stop offset=".4" stop-color="#fe0"/><stop offset=".5" stop-color="#af5"/><stop offset=".575" stop-color="#ff0"/><stop offset=".65" stop-color="#cf3"/><stop offset=".7" stop-color="#ef1"/><stop offset=".725" stop-color="#fe0"/><stop offset=".75" stop-color="#f70"/><stop offset=".775" stop-color="#f30"/><stop offset=".8" stop-color="#ff0"/><stop offset=".825" stop-color="#bf4"/><stop offset=".85" stop-color="#bf4"/><stop offset=".875" stop-color="#ef1"/><stop offset=".9" stop-color="#f50"/><stop offset=".925" stop-color="#800"/><stop offset=".95" stop-color="#f60"/><stop offset=".975" stop-color="#ef1"/><stop offset="1" stop-color="#cf3"/></linearGradient>
<linearGradient id="p17" gradientUnits="userSpaceOnUse" x1="65.9" x2="135.1"><stop offset="0" stop-color="#e00"/><stop offset=".025" stop-color="#fd0"/><stop offset=".05" stop-color="#bf4"/><stop offset=".075" stop-color="#cf3"/><stop offset=".1" stop-color="#f90"/><stop offset=".125" stop-color="#f20"/><stop offset=".15" stop-color="#fe0"/><stop offset=".175" stop-color="#8f7"/><stop offset=".2" stop-color="#5fa"/><stop offset=".225" stop-color="#af5"/><stop offset=".25" stop-color="#f30"/><stop offset=".275" stop-color="#a00"/><stop offset=".3" stop-color="#fa0"/><stop offset=".325" stop-color="#ff0"/><stop offset=".35" stop-color="#af5"/><stop offset=".375" stop-color="#9f6"/><stop offset=".4" stop-color="#af5"/><stop offset=".425" stop-color="#df2"/><stop offset=".45" stop-color="#fc0"/><stop offset=".475" stop-color="#fd0"/><stop offset=".5" stop-color="#df2"/><stop offset=".6" stop-color="#ff0"/><stop offset=".725" stop-color="#ef1"/><stop offset=".775" stop-color="#f90"/><stop offset=".8" stop-color="#cf3"/><stop offset=".825" stop-color="#9f6"/><stop offset=".85" stop-color="#8f7"/><stop offset=".875" stop-color="#cf3"/><stop offset=".9" stop-color="#f70"/><stop offset=".925" stop-color="#a00"/><stop offset=".95" stop-color="#f70"/><stop offset=".975" stop-color="#df2"/><stop offset="1" stop-color="#cf3"/></linearGradient>
<linearGradient id="p16" gradientUnits="userSpaceOnUse" x1="67.2" x2="136.4"><stop offset="0" stop-color="#f30"/><stop offset=".025" stop-color="#ef1"/><stop offset=".05" stop-color="#9f6"/><stop offset=".075" stop-color="#9f6"/><stop offset=".1" stop-color="#df2"/><stop offset=".125" stop-color="#fb0"/><stop offset=".15" stop-color="#fd0"/><stop offset=".175" stop-color="#af5"/><stop offset=".2" stop-color="#7f8"/><stop offset=".225" stop-color="#bf4"/><stop offset=".25" stop-color="#f90"/><stop offset=".275" stop-color="#f50"/><stop offset=".3" stop-color="#fc0"/><stop offset=".325" stop-color="#df2"/><stop offset=".35" stop-color="#af5"/><stop offset=".375" stop-color="#9f6"/><stop offset=".4" stop-color="#bf4"/><stop offset=".425" stop-color="#fc0"/><stop offset=".45" stop-color="#c00"/><stop offset=".475" stop-color="#e00"/><stop offset=".5" stop-color="#f70"/><stop offset=".525" stop-color="#f90"/><stop offset=".55" stop-color="#ff0"/><stop offset=".65" stop-color="#fd0"/><stop offset=".7" stop-color="#ff0"/><stop offset=".725" stop-color="#bf4"/><stop offset=".75" stop-color="#bf4"/><stop offset=".8" stop-color="#ff0"/><stop offset=".85" stop-color="#8f7"/><stop offset=".875" stop-color="#af5"/><stop offset=".9" stop-color="#ff0"/><stop offset=".925" stop-color="#fb0"/><stop offset=".95" stop-color="#ff0"/><stop offset=".975" stop-color="#bf4"/><stop offset="1" stop-color="#af5"/></linearGradient>
<linearGradient id="p15" gradientUnits="userSpaceOnUse" x1="68.5" x2="137.7"><stop offset="0" stop-color="#bf4"/><stop offset=".025" stop-color="#8f7"/><stop offset=".05" stop-color="#7f8"/><stop offset=".075" stop-color="#8f7"/><stop offset=".1" stop-color="#cf3"/><stop offset=".125" stop-color="#f60"/><stop offset=".15" stop-color="#f70"/><stop offset=".175" stop-color="#df2"/><stop offset=".2" stop-color="#af5"/><stop offset=".225" stop-color="#bf4"/><stop offset=".25" stop-color="#ef1"/><stop offset=".275" stop-color="#fe0"/><stop offset=".3" stop-color="#ff0"/><stop offset=".4" stop-color="#cf3"/><stop offset=".425" stop-color="#f90"/><stop offset=".45" stop-color="#800"/><stop offset=".5" stop-color="#900"/><stop offset=".525" stop-color="#f00"/><stop offset=".55" stop-color="#fd0"/><stop offset=".575" stop-color="#fb0"/><stop offset=".625" stop-color="#fd0"/><stop offset=".675" stop-color="#fd0"/><stop offset=".7" stop-color="#ff0"/><stop offset=".725" stop-color="#bf4"/><stop offset=".75" stop-color="#9f6"/><stop offset=".775" stop-color="#ff0"/><stop offset=".8" stop-color="#f50"/><stop offset=".825" stop-color="#ff0"/><stop offset=".85" stop-color="#9f6"/><stop offset=".875" stop-color="#8f7"/><stop offset=".925" stop-color="#bf4"/><stop offset=".975" stop-color="#9f6"/><stop offset="1" stop-color="#9f6"/></linearGradient>
<linearGradient id="p14" gradientUnits="userSpaceOnUse" x1="69.8" x2="139"><stop offset="0" stop-color="#6f9"/><stop offset=".05" stop-color="#8f7"/><stop offset=".1" stop-color="#cf3"/><stop offset=".125" stop-color="#fb0"/><stop offset=".15" stop-color="#fc0"/><stop offset=".175" stop-color="#df2"/><stop offset=".225" stop-color="#af5"/><stop offset=".3" stop-color="#df2"/><stop offset=".325" stop-color="#fe0"/><stop offset=".35" stop-color="#f60"/><stop offset=".375" stop-color="#f80"/><stop offset=".4" stop-color="#ef1"/><stop offset=".425" stop-color="#fd0"/><stop offset=".45" stop-color="#f30"/><stop offset=".475" stop-color="#f40"/><stop offset=".5" stop-color="#d00"/><stop offset=".525" stop-color="#f30"/><stop offset=".55" stop-color="#fa0"/><stop offset=".575" stop-color="#e00"/><stop offset=".6" stop-color="#f90"/><stop offset=".625" stop-color="#fd0"/><stop offset=".7" stop-color="#ff0"/><stop offset=".75" stop-color="#bf4"/><stop offset=".775" stop-color="#ef1"/><stop offset=".8" stop-color="#f90"/><stop offset=".825" stop-color="#ef1"/><stop offset=".85" stop-color="#9f6"/><stop offset=".875" stop-color="#8f7"/><stop offset=".95" stop-color="#7f8"/><stop offset="1" stop-color="#7f8"/></linearGradient>
<linearGradient id="p13" gradientUnits="userSpaceOnUse" x1="71.1" x2="140.3"><stop offset="0" stop-color="#8f7"/><stop offset=".025" stop-color="#8f7"/><stop offset=".075" stop-color="#bf4"/><stop offset=".175" stop-color="#cf3"/><stop offset=".25" stop-color="#af5"/><stop offset=".3" stop-color="#cf3"/><stop offset=".325" stop-color="#fe0"/><stop offset=".35" stop-color="#f10"/><stop offset=".375" stop-color="#f30"/><stop offset=".4" stop-color="#ff0"/><stop offset=".425" stop-color="#df2"/><stop offset=".45" stop-color="#fd0"/><stop offset=".5" stop-color="#fa0"/><stop offset=".525" stop-color="#fd0"/><stop offset=".55" stop-color="#fa0"/><stop offset=".575" stop-color="#f00"/><stop offset=".6" stop-color="#fa0"/><stop offset=".625" stop-color="#ff0"/><stop offset=".7" stop-color="#df2"/><stop offset=".8" stop-color="#bf4"/><stop offset=".875" stop-color="#7f8"/><stop offset=".95" stop-color="#6f9"/><stop offset="1" stop-color="#7f8"/></linearGradient>
<linearGradient id="p12" gradientUnits="userSpaceOnUse" x1="72.4" x2="141.6"><stop offset="0" stop-color="#9f6"/><stop offset=".075" stop-color="#bf4"/><stop offset=".125" stop-color="#9f6"/><stop offset=".175" stop-color="#cf3"/><stop offset=".25" stop-color="#8f7"/><stop offset=".275" stop-color="#8f7"/><stop offset=".3" stop-color="#9f6"/><stop offset=".325" stop-color="#df2"/><stop offset=".35" stop-color="#f90"/><stop offset=".375" stop-color="#f90"/><stop offset=".4" stop-color="#df2"/><stop offset=".425" stop-color="#cf3"/><stop offset=".475" stop-color="#ff0"/><stop offset=".525" stop-color="#ef1"/><stop offset=".55" stop-color="#ff0"/><stop offset=".575" stop-color="#fd0"/><stop offset=".6" stop-color="#fe0"/><stop offset=".7" stop-color="#9f6"/><stop offset=".75" stop-color="#bf4"/><stop offset=".85" stop-color="#5fa"/><stop offset="1" stop-color="#7f8"/></linearGradient>
<linearGradient id="p11" gradientUnits="userSpaceOnUse" x1="73.7" x2="142.9"><stop offset="0" stop-color="#9f6"/><stop offset=".1" stop-color="#8f7"/><stop offset=".175" stop-color="#df2"/><stop offset=".2" stop-color="#cf3"/><stop offset=".275" stop-color="#5fa"/><stop offset=".3" stop-color="#6f9"/><stop offset=".35" stop-color="#cf3"/><stop offset=".375" stop-color="#df2"/><stop offset=".425" stop-color="#bf4"/><stop offset=".5" stop-color="#ef1"/><stop offset=".625" stop-color="#df2"/><stop offset=".65" stop-color="#cf3"/><stop offset=".7" stop-color="#7f8"/><stop offset=".775" stop-color="#8f7"/><stop offset=".85" stop-color="#2fd"/><stop offset=".875" stop-color="#3fc"/><stop offset=".925" stop-color="#8f7"/><stop offset="1" stop-color="#8f7"/></linearGradient>
<linearGradient id="p10" gradientUnits="userSpaceOnUse" x1="75" x2="144.2"><stop offset="0" stop-color="#9f6"/><stop offset=".1" stop-color="#6f9"/><stop offset=".15" stop-color="#bf4"/><stop offset=".175" stop-color="#cf3"/><stop offset=".225" stop-color="#9f6"/><stop offset=".275" stop-color="#4fb"/><stop offset=".3" stop-color="#4fb"/><stop offset=".35" stop-color="#af5"/><stop offset=".425" stop-color="#af5"/><stop offset=".525" stop-color="#ef1"/><stop offset=".575" stop-color="#ef1"/><stop offset=".65" stop-color="#cf3"/><stop offset=".7" stop-color="#6f9"/><stop offset=".775" stop-color="#6f9"/><stop offset=".85" stop-color="#1fe"/><stop offset=".875" stop-color="#2fd"/><stop offset=".925" stop-color="#9f6"/><stop offset=".95" stop-color="#bf4"/><stop offset="1" stop-color="#9f6"/></linearGradient></defs>
<path fill="url(#p139)" d="M23.7 71l1.7 0.5l1.8 0.8l1.7-0.1l1.7-1.4l1.8-2.2l1.7-2.7l1.7-1.7l1.7-0.2l3.5 0.9l1.7-0.6l1.8-2.5l1.7-3.5l1.7-2.3l3.5-1.1l1.7-2.1l1.7-2.6l1.8-1.2l1.7-0.6l3.5-3.2l3.4-0.7l1.8-2.3l1.7-3.7l1.7-2.6l1.7-0.5l1.8 1.1l1.7 1.6l1.7 1.2l1.8-0.6l1.7-3.2l1.7-3.8l1.8-1.4l1.7 0.8l1.7 1.6l1.7 0.6l3.5-1.4l1.3 1l-3.5 2.8l-1.7 0.2l-3.5-2l-1.7 0.9l-1.7 2.8l-1.7 2.4l-1.8 0.1l-3.4-1.4l-1.8-0.1l-1.7 0.4l-1.7 1.4l-3.5 5.1l-1.7 0.9l-1.7 0.2l-1.8 1l-3.4 3l-1.8 1.9l-1.7 3l-1.7 2.1l-3.5 0.8l-1.7 1.9l-1.7 2.9l-1.8 2l-1.7 0.3l-3.5-0.4l-1.7 0.1l-1.7 1.6l-1.8 2.7l-1.7 2.1l-1.7 1.1l-1.7 0.2l-3.5-0.5z"/>
<path fill="url(#p138)" d="M25 71.8l3.5 0.5l1.7-0.2l1.7-1.1l1.7-2.1l1.8-2.7l1.7-1.6l1.7-0.1l3.5 0.4l1.7-0.3l1.8-2l1.7-2.9l1.7-1.9l3.5-0.8l1.7-2.1l1.7-3l1.8-1.9l3.4-3l1.8-1l1.7-0.2l1.7-0.9l3.5-5.1l1.7-1.4l1.7-0.4l1.8 0.1l3.4 1.4l1.8-0.1l1.7-2.4l1.7-2.8l1.7-0.9l3.5 2l1.7-0.2l3.5-2.8l1.3 0.8l-3.5 4l-1.7 0.8l-3.5-0.6l-1.7 0.8l-1.7 1.8l-1.7 1.2l-3.5-1.1l-1.7 0.4l-1.8 1l-3.4 0.9l-3.5 2.7l-1.7 0.5l-1.7 0l-1.8 1l-3.4 4.2l-1.8 2.3l-1.7 3.2l-1.7 2.7l-1.8 0.9l-1.7 0.5l-1.7 1.3l-1.7 1.8l-1.8 1l-1.7 0.1l-5.2 1.3l-1.7 1.1l-3.5 4.1l-1.7 1l-1.7 0.7l-3.5 0.5z"/>
<path fill="url(#p137)" d="M26.3 72.6l3.5-0.5l1.7-0.7l1.7-1l3.5-4.1l1.7-1.1l5.2-1.3l1.7-0.1l1.8-1l1.7-1.8l1.7-1.3l1.7-0.5l1.8-0.9l1.7-2.7l1.7-3.2l1.8-2.3l3.4-4.2l1.8-1l1.7 0l1.7-0.5l3.5-2.7l3.4-0.9l1.8-1l1.7-0.4l3.5 1.1l1.7-1.2l1.7-1.8l1.7-0.8l3.5 0.6l1.7-0.8l3.5-4l1.3 1.7l-3.5 2.9l-5.2 2l-3.4 2.2l-1.7 0.4l-3.5-0.9l-1.7 1.1l-1.8 1.4l-1.7 0.7l-3.5-0.3l-3.4-2.4l-1.7 0.9l-3.5 5.5l-3.5 4.4l-3.4 6l-1.8 1.9l-3.4 2.2l-5.2 0.6l-3.5 2.9l-3.4 1l-3.5 3.3l-3.4 2.3l-1.8 0.8l-1.7 0.4z"/>
<path fill="url(#p136)" d="M27.6 72.9l1.7-0.4l1.8-0.8l3.4-2.3l3.5-3.3l3.4-1l3.5-2.9l5.2-0.6l3.4-2.2l1.8-1.9l3.4-6l3.5-4.4l3.5-5.5l1.7-0.9l3.4 2.4l3.5 0.3l1.7-0.7l1.8-1.4l1.7-1.1l3.5 0.9l1.7-0.4l3.4-2.2l5.2-2l3.5-2.9l1.3 2.5l-3.5 0.1l-1.7 0.8l-3.5 2.9l-1.7 0.9l-5.2-0.1l-1.7 0.7l-3.5 3.5l-1.7 0.4l-1.7-0.5l-1.8-1.7l-1.7-5.4l-1.7-6l-1.7 5.8l-1.8 6.4l-1.7 3.7l-3.5 3.8l-3.4 4.8l-3.5 4.2l-1.7 1.1l-3.5-1.3l-1.7 0.9l-1.7 2.4l-1.8 1.8l-3.4 0.6l-1.8 1.1l-5.1 4.3l-1.8 1.1l-1.7 0.3z"/>
<path fill="url(#p135)" d="M28.9 72.1l1.7-0.3l1.8-1.1l5.1-4.3l1.8-1.1l3.4-0.6l1.8-1.8l1.7-2.4l1.7-0.9l3.5 1.3l1.7-1.1l3.5-4.2l3.4-4.8l3.5-3.8l1.7-3.7l1.8-6.4l1.7-5.8l1.7 6l1.7 5.4l1.8 1.7l1.7 0.5l1.7-0.4l3.5-3.5l1.7-0.7l5.2 0.1l1.7-0.9l3.5-2.9l1.7-0.8l3.5-0.1l1.3 2.5l-1.7-1.2l-1.8-0.8l-1.7 0.9l-3.5 3.7l-1.7 0.2l-1.7-0.9l-1.8-0.5l-1.7 0.7l-1.7 1.9l-1.7 2.7l-1.8 1.7l-1.7-0.2l-1.7-1.3l-1.8-2.4l-1.7-7l-1.7-8.9l-1.8 10.2l-1.7 8.3l-1.7 3.7l-3.5 2.7l-8.6 8l-3.5-0.7l-1.7 1.1l-1.7 2.6l-1.8 1.8l-3.4 0.7l-1.8 0.9l-1.7 1.3l-3.5 3.4l-1.7 1.1l-1.7 0z"/>
<path fill="url(#p134)" d="M30.2 71.1l1.7 0l1.7-1.1l3.5-3.4l1.7-1.3l1.8-0.9l3.4-0.7l1.8-1.8l1.7-2.6l1.7-1.1l3.5 0.7l8.6-8l3.5-2.7l1.7-3.7l1.7-8.3l1.8-10.2l1.7 8.9l1.7 7l1.8 2.4l1.7 1.3l1.7 0.2l1.8-1.7l1.7-2.7l1.7-1.9l1.7-0.7l1.8 0.5l1.7 0.9l1.7-0.2l3.5-3.7l1.7-0.9l1.8 0.8l1.7 1.2l1.3 3.3l-1.7-2.2l-1.8-1.7l-1.7 0.8l-1.7 2.1l-1.8 1.3l-1.7-0.1l-1.7-0.9l-1.8-0.3l-1.7 1l-3.4 5.2l-1.8 0.9l-3.4-1.8l-1.8-2l-1.7-3.2l-1.7-1.7l-1.8 4.5l-1.7 5.3l-1.7 2.5l-3.5 1.6l-1.7 1.2l-3.5 1.7l-3.4 2.8l-3.5 0.7l-1.7 1.2l-1.7 2.3l-1.8 1.6l-3.4 1.1l-1.8 1.1l-1.7 1.4l-3.5 3.8l-1.7 0.7l-1.7-0.4z"/>
<path fill="url(#p133)" d="M31.5 70.6l1.7 0.4l1.7-0.7l3.5-3.8l1.7-1.4l1.8-1.1l3.4-1.1l1.8-1.6l1.7-2.3l1.7-1.2l3.5-0.7l3.4-2.8l3.5-1.7l1.7-1.2l3.5-1.6l1.7-2.5l1.7-5.3l1.8-4.5l1.7 1.7l1.7 3.2l1.8 2l3.4 1.8l1.8-0.9l3.4-5.2l1.7-1l1.8 0.3l1.7 0.9l1.7 0.1l1.8-1.3l1.7-2.1l1.7-0.8l1.8 1.7l1.7 2.2l1.3 2.8l-3.5-5.2l-1.7 0.4l-1.7 2l-1.8 1.4l-1.7 0.4l-3.5-0.2l-1.7 0.5l-1.7 1.7l-1.7 1.4l-3.5-2.4l-1.7 1.1l-1.8 0.7l-1.7-0.7l-1.7 0.5l-1.8 2.6l-1.7 0.1l-1.7 1.4l-1.7 2.2l-1.8 1.2l-1.7 1.2l-3.5 1.4l-3.4 2.7l-3.5 1.4l-1.7 1.3l-1.7 1.9l-1.8 1.3l-3.4 1.2l-1.8 1.4l-5.2 5.7l-1.7 0.5l-1.7-0.5z"/>
<path fill="url(#p132)" d="M32.8 70.9l1.7 0.5l1.7-0.5l5.2-5.7l1.8-1.4l3.4-1.2l1.8-1.3l1.7-1.9l1.7-1.3l3.5-1.4l3.4-2.7l3.5-1.4l1.7-1.2l1.8-1.2l1.7-2.2l1.7-1.4l1.7-0.1l1.8-2.6l1.7-0.5l1.7 0.7l1.8-0.7l1.7-1.1l3.5 2.4l1.7-1.4l1.7-1.7l1.7-0.5l3.5 0.2l1.7-0.4l1.8-1.4l1.7-2l1.7-0.4l3.5 5.2l1.3 0.4l-3.5-4.4l-1.7 0.3l-3.5 3.6l-1.7 1.1l-1.7 0.5l-3.5-0.8l-1.7 0.4l-1.7-0.8l-1.8-7l-1.7-1.2l-1.7 8.1l-1.8 3.5l-1.7 1.2l-1.7 0.7l-1.8-1l-1.7-5.8l-1.7 2l-1.7 6.8l-1.8 2.2l-1.7 1.2l-3.5 1.8l-3.4 3.2l-1.8 1l-1.7 0.5l-3.4 2.4l-5.2 1.7l-1.8 1.5l-3.4 4.3l-1.8 1.5l-1.7 0.5l-1.7 0z"/>
<path fill="url(#p131)" d="M34.1 71.1l1.7 0l1.7-0.5l1.8-1.5l3.4-4.3l1.8-1.5l5.2-1.7l3.4-2.4l1.7-0.5l1.8-1l3.4-3.2l3.5-1.8l1.7-1.2l1.8-2.2l1.7-6.8l1.7-2l1.7 5.8l1.8 1l1.7-0.7l1.7-1.2l1.8-3.5l1.7-8.1l1.7 1.2l1.8 7l1.7 0.8l1.7-0.4l3.5 0.8l1.7-0.5l1.7-1.1l3.5-3.6l1.7-0.3l3.5 4.4l1.3-1.7l-3.5-1.4l-1.7 0.4l-5.2 4.2l-1.7 0.6l-1.8-0.1l-5.2-2.1l-1.7-6.5l-1.7-0.7l-1.7 8.6l-1.8 4.5l-1.7 1.9l-1.7 0.1l-1.8-1.4l-1.7-3.6l-1.7 1.5l-1.8 4.5l-1.7 1.6l-5.2 3.4l-1.7 1.5l-1.7 2.1l-1.8 1.4l-5.2 2.2l-5.1 1l-1.8 1.1l-3.4 3.7l-1.8 0.9l-3.4 1.3z"/>
<path fill="url(#p130)" d="M35.4 70.5l3.4-1.3l1.8-0.9l3.4-3.7l1.8-1.1l5.1-1l5.2-2.2l1.8-1.4l1.7-2.1l1.7-1.5l5.2-3.4l1.7-1.6l1.8-4.5l1.7-1.5l1.7 3.6l1.8 1.4l1.7-0.1l1.7-1.9l1.8-4.5l1.7-8.6l1.7 0.7l1.7 6.5l5.2 2.1l1.8 0.1l1.7-0.6l5.2-4.2l1.7-0.4l3.5 1.4l1.3-2l-6.9 3l-3.5 2.1l-3.5 1.3l-1.7-0.2l-1.7-2.1l-1.8-6.2l-1.7 0.6l-1.7 7.6l-3.5 6.4l-1.7 1.6l-1.7-0.2l-1.8-1.1l-1.7-0.6l-1.7 1.3l-1.8 1.8l-3.4 0.9l-3.5 2.4l-1.7 1.5l-3.5 3.8l-1.7 1.1l-3.5 1.7l-1.7 0.5l-5.2 0.4l-3.4 2.4l-1.8 0.8l-3.4 2.6z"/>
<path fill="url(#p129)" d="M36.7 70.6l3.4-2.6l1.8-0.8l3.4-2.4l5.2-0.4l1.7-0.5l3.5-1.7l1.7-1.1l3.5-3.8l1.7-1.5l3.5-2.4l3.4-0.9l1.8-1.8l1.7-1.3l1.7 0.6l1.8 1.1l1.7 0.2l1.7-1.6l3.5-6.4l1.7-7.6l1.7-0.6l1.8 6.2l1.7 2.1l1.7 0.2l3.5-1.3l3.5-2.1l6.9-3l1.3-0.2l-3.5 2.8l-1.7 0.9l-3.5 1.1l-5.2 3.4l-1.7 0.5l-1.7-1.7l-1.8-6.6l-1.7 0.2l-1.7 8l-1.7 3.8l-1.8 2.2l-1.7 1.3l-1.7-0.2l-1.8-1l-1.7 0.1l-3.5 3.3l-1.7 0.3l-1.7-0.3l-1.7 0.7l-5.2 4.9l-7 4.7l-1.7 0.8l-1.7 0.1l-3.5-0.9l-1.7 0.9l-3.5 2.6l-3.4 3.9z"/>
<path fill="url(#p128)" d="M38 72.2l3.4-3.9l3.5-2.6l1.7-0.9l3.5 0.9l1.7-0.1l1.7-0.8l7-4.7l5.2-4.9l1.7-0.7l1.7 0.3l1.7-0.3l3.5-3.3l1.7-0.1l1.8 1l1.7 0.2l1.7-1.3l1.8-2.2l1.7-3.8l1.7-8l1.7-0.2l1.8 6.6l1.7 1.7l1.7-0.5l5.2-3.4l3.5-1.1l1.7-0.9l3.5-2.8l1.3 3l-5.2 3.1l-3.5 0.4l-3.4 2.4l-3.5 1.9l-1.7 0.3l-1.8-0.9l-1.7 0.6l-1.7 2l-3.5 2.1l-1.7 1.3l-1.7 0.6l-1.8-0.3l-1.7 0.5l-3.5 3.5l-1.7 0.3l-1.7-0.4l-1.7 0.6l-3.5 3l-5.2 2.3l-3.5 2.6l-1.7 0.6l-3.4-0.8l-1.8 0.2l-5.2 5l-3.4 4z"/>
<path fill="url(#p127)" d="M39.3 73.7l3.4-4l5.2-5l1.8-0.2l3.4 0.8l1.7-0.6l3.5-2.6l5.2-2.3l3.5-3l1.7-0.6l1.7 0.4l1.7-0.3l3.5-3.5l1.7-0.5l1.8 0.3l1.7-0.6l1.7-1.3l3.5-2.1l1.7-2l1.7-0.6l1.8 0.9l1.7-0.3l3.5-1.9l3.4-2.4l3.5-0.4l5.2-3.1l1.3 4.7l-5.2 1.5l-3.5-0.6l-3.4 1.4l-1.8 0.3l-1.7-0.4l-1.7-1.8l-1.8 1.8l-1.7 4.3l-1.7 1.2l-1.8-0.5l-1.7 0.1l-3.4 2.8l-3.5 1.3l-1.7 1.8l-1.8 1.2l-3.4-0.1l-1.8 1l-1.7 1.5l-1.7 0.9l-5.2 0.8l-3.5 2.3l-1.7 0.1l-1.7-0.5l-1.8 0.4l-1.7 1.6l-3.4 4.3l-5.2 4.2z"/>
<path fill="url(#p126)" d="M40.6 73.8l5.2-4.2l3.4-4.3l1.7-1.6l1.8-0.4l1.7 0.5l1.7-0.1l3.5-2.3l5.2-0.8l1.7-0.9l1.7-1.5l1.8-1l3.4 0.1l1.8-1.2l1.7-1.8l3.5-1.3l3.4-2.8l1.7-0.1l1.8 0.5l1.7-1.2l1.7-4.3l1.8-1.8l1.7 1.8l1.7 0.4l1.8-0.3l3.4-1.4l3.5 0.6l5.2-1.5l1.3 2.9l-5.2 1.2l-3.5-0.8l-3.4-0.3l-1.8-0.5l-1.7-2.1l-1.7-7l-1.8 3l-1.7 10.1l-1.7 3l-3.5-1l-1.7 0.4l-3.5 2.1l-3.4 3.4l-1.8 0.7l-1.7-0.3l-1.7 0.5l-3.5 2.9l-1.7 0.6l-1.7 0.4l-1.8 0l-1.7-0.6l-1.7 0.4l-1.8 0.9l-3.4 0.2l-1.8 1.4l-3.4 5.5l-1.7 1.3l-5.2 1.7z"/>
<path fill="url(#p125)" d="M41.9 72.3l5.2-1.7l1.7-1.3l3.4-5.5l1.8-1.4l3.4-0.2l1.8-0.9l1.7-0.4l1.7 0.6l1.8 0l1.7-0.4l1.7-0.6l3.5-2.9l1.7-0.5l1.7 0.3l1.8-0.7l3.4-3.4l3.5-2.1l1.7-0.4l3.5 1l1.7-3l1.7-10.1l1.8-3l1.7 7l1.7 2.1l1.8 0.5l3.4 0.3l3.5 0.8l5.2-1.2l1.3 0.5l-5.2 2.2l-5.2 0.5l-1.7-1.4l-1.8-2.5l-1.7-0.6l-1.7-1.9l-1.8 2.9l-1.7 6.6l-1.7 2.7l-1.8-0.6l-3.4-3.5l-1.7-1.3l-1.8 2.8l-3.4 3.3l-3.5 1.2l-1.7 2.7l-1.8 1.9l-1.7 1.1l-3.4 1.2l-1.8 0.1l-1.7-1.2l-1.7-0.5l-5.2 2.5l-1.8 1.9l-1.7 2.5l-1.7 2.2l-1.7 0.8l-5.2-0.1z"/>
<path fill="url(#p124)" d="M43.2 70.6l5.2 0.1l1.7-0.8l1.7-2.2l1.7-2.5l1.8-1.9l5.2-2.5l1.7 0.5l1.7 1.2l1.8-0.1l3.4-1.2l1.7-1.1l1.8-1.9l1.7-2.7l3.5-1.2l3.4-3.3l1.8-2.8l1.7 1.3l3.4 3.5l1.8 0.6l1.7-2.7l1.7-6.6l1.8-2.9l1.7 1.9l1.7 0.6l1.8 2.5l1.7 1.4l5.2-0.5l5.2-2.2l1.3-0.3l-3.5 2.6l-6.9 3.3l-1.7-2.6l-1.8-6.2l-1.7-1.7l-3.5 10l-1.7 3.2l-1.7 1.7l-1.8-0.7l-1.7-2.2l-1.7-4.7l-1.7-7.2l-1.8 6.7l-3.4 1.5l-1.8-0.7l-1.7 5.4l-1.7 6.1l-1.8 1.9l-3.4 1.1l-3.5 1.8l-3.4-1.8l-1.8 0.3l-6.9 6.3l-1.7 1.4l-1.8 0.8l-1.7 0.2l-3.4-0.9z"/>
<path fill="url(#p123)" d="M44.5 69.8l3.4 0.9l1.7-0.2l1.8-0.8l1.7-1.4l6.9-6.3l1.8-0.3l3.4 1.8l3.5-1.8l3.4-1.1l1.8-1.9l1.7-6.1l1.7-5.4l1.8 0.7l3.4-1.5l1.8-6.7l1.7 7.2l1.7 4.7l1.7 2.2l1.8 0.7l1.7-1.7l1.7-3.2l3.5-10l1.7 1.7l1.8 6.2l1.7 2.6l6.9-3.3l3.5-2.6l1.3 0.4l-3.5 2.8l-3.5 1.2l-3.4 2.6l-1.8-2.7l-1.7-10.5l-1.7-2.9l-1.7 10.8l-1.8 5.3l-1.7 2.4l-1.7 1.1l-1.8-0.1l-1.7-1.3l-1.7-3.9l-1.8-6.5l-1.7 5.8l-1.7 4.5l-1.7 0.2l-1.8 1.4l-1.7 1.8l-1.7 3.5l-1.8 1.2l-3.4 0.4l-3.5 2.2l-1.7 0.3l-1.7-0.4l-1.8 0l-1.7 1.2l-1.7 1.8l-3.5 2.1l-3.5 2.9l-1.7 0.5l-3.4-2z"/>
<path fill="url(#p122)" d="M45.8 69.7l3.4 2l1.7-0.5l3.5-2.9l3.5-2.1l1.7-1.8l1.7-1.2l1.8 0l1.7 0.4l1.7-0.3l3.5-2.2l3.4-0.4l1.8-1.2l1.7-3.5l1.7-1.8l1.8-1.4l1.7-0.2l1.7-4.5l1.7-5.8l1.8 6.5l1.7 3.9l1.7 1.3l1.8 0.1l1.7-1.1l1.7-2.4l1.8-5.3l1.7-10.8l1.7 2.9l1.7 10.5l1.8 2.7l3.4-2.6l3.5-1.2l3.5-2.8l1.3 1.5l-3.5 2.3l-3.5 0.4l-1.7 0.8l-1.7 1.6l-1.8-0.4l-1.7-4.6l-1.7-0.8l-1.7 5l-1.8 2.5l-1.7 1.1l-1.7 0.8l-3.5 0.8l-1.7-0.4l-1.8-1l-1.7 1.4l-1.7 1.9l-1.7-0.2l-3.5 2.2l-1.7 2l-1.8 0.8l-3.4-0.3l-1.8 0.5l-3.4 2.4l-1.7 0.8l-1.8 0.2l-1.7 0.6l-5.2 3.5l-3.5 3.7l-1.7 0.6l-3.4-2.4z"/>
<path fill="url(#p121)" d="M47.1 70.7l3.4 2.4l1.7-0.6l3.5-3.7l5.2-3.5l1.7-0.6l1.8-0.2l1.7-0.8l3.4-2.4l1.8-0.5l3.4 0.3l1.8-0.8l1.7-2l3.5-2.2l1.7 0.2l1.7-1.9l1.7-1.4l1.8 1l1.7 0.4l3.5-0.8l1.7-0.8l1.7-1.1l1.8-2.5l1.7-5l1.7 0.8l1.7 4.6l1.8 0.4l1.7-1.6l1.7-0.8l3.5-0.4l3.5-2.3l1.3 2.6l-1.8 0.8l-1.7 0.3l-3.5-1l-1.7 0.3l-3.5 3.6l-5.1 1.6l-1.8 0.1l-3.4 0.9l-1.8-0.1l-1.7 1.2l-1.7 2l-1.8 0.8l-5.1-1.5l-1.8 1.1l-3.4 3.7l-1.8 1l-3.4-0.4l-1.8 0.2l-1.7 0.9l-3.4 3.3l-3.5 0.6l-1.7 0.9l-3.5 3l-3.5 3.9l-1.7 0.4l-1.7-0.9l-1.7-0.5z"/>
<path fill="url(#p120)" d="M48.4 73.1l1.7 0.5l1.7 0.9l1.7-0.4l3.5-3.9l3.5-3l1.7-0.9l3.5-0.6l3.4-3.3l1.7-0.9l1.8-0.2l3.4 0.4l1.8-1l3.4-3.7l1.8-1.1l5.1 1.5l1.8-0.8l1.7-2l1.7-1.2l1.8 0.1l3.4-0.9l1.8-0.1l5.1-1.6l3.5-3.6l1.7-0.3l3.5 1l1.7-0.3l1.8-0.8l1.3 2.5l-1.8 0.3l-1.7-0.5l-3.5-2.6l-1.7-0.1l-1.7 1.9l-1.8 3l-1.7 2.4l-1.7 0.9l-3.5-1.2l-1.7 0.5l-1.7-0.4l-1.8-2.7l-1.7 1.2l-1.7 4.8l-1.8 2.5l-1.7-0.9l-1.7-1.4l-1.8-0.1l-1.7 1.3l-3.4 3.7l-1.8 0.9l-3.4-0.4l-1.8 0.2l-1.7 1.1l-3.4 3.8l-1.8 0l-1.7-1.1l-1.7 0.9l-1.8 2.8l-1.7 2.2l-3.5 3.5l-5.2 1.4z"/>
<path fill="url(#p119)" d="M49.6 76.7l5.2-1.4l3.5-3.5l1.7-2.2l1.8-2.8l1.7-0.9l1.7 1.1l1.8 0l3.4-3.8l1.7-1.1l1.8-0.2l3.4 0.4l1.8-0.9l3.4-3.7l1.7-1.3l1.8 0.1l1.7 1.4l1.7 0.9l1.8-2.5l1.7-4.8l1.7-1.2l1.8 2.7l1.7 0.4l1.7-0.5l3.5 1.2l1.7-0.9l1.7-2.4l1.8-3l1.7-1.9l1.7 0.1l3.5 2.6l1.7 0.5l1.8-0.3l1.2 1.5l-1.7 0.5l-1.7-0.6l-3.5-3.6l-1.7-0.5l-1.7 1.8l-3.5 5.9l-1.7 1.3l-3.5-0.8l-1.7 0.3l-1.7-1.7l-1.8-8.6l-1.7 3l-1.7 9.3l-1.8 3.4l-1.7-0.6l-1.7-1l-1.8 0.4l-3.4 3.2l-1.7 1.1l-1.8 0.6l-1.7-0.1l-3.5-1.5l-1.7 0.9l-1.7 3l-1.8 2.5l-1.7-1.2l-1.7-5.3l-1.7 0.9l-1.8 7.5l-1.7 3.1l-5.2 4.3l-3.5 3.4z"/>
<path fill="url(#p118)" d="M50.9 80.6l3.5-3.4l5.2-4.3l1.7-3.1l1.8-7.5l1.7-0.9l1.7 5.3l1.7 1.2l1.8-2.5l1.7-3l1.7-0.9l3.5 1.5l1.7 0.1l1.8-0.6l1.7-1.1l3.4-3.2l1.8-0.4l1.7 1l1.7 0.6l1.8-3.4l1.7-9.3l1.7-3l1.8 8.6l1.7 1.7l1.7-0.3l3.5 0.8l1.7-1.3l3.5-5.9l1.7-1.8l1.7 0.5l3.5 3.6l1.7 0.6l1.7-0.5l1.3 0.9l-1.7 1l-1.7 0l-1.7-1.4l-1.8-2.2l-1.7-0.9l-1.7 1.1l-3.5 4.5l-3.5 2.1l-3.4 1.1l-1.7-1l-1.8-4.2l-1.7 1.7l-1.7 6.1l-1.8 2.6l-3.4-1.1l-1.8 0.7l-3.4 2.6l-5.2 1.8l-1.7-1.4l-1.8-5l-1.7-1.3l-1.7 6.8l-1.8 4.3l-1.7-0.4l-1.7-4.8l-1.7 1.1l-1.8 7.2l-1.7 3l-3.5 2.2l-1.7 1.7l-3.5 4z"/>
<path fill="url(#p117)" d="M52.2 81.9l3.5-4l1.7-1.7l3.5-2.2l1.7-3l1.8-7.2l1.7-1.1l1.7 4.8l1.7 0.4l1.8-4.3l1.7-6.8l1.7 1.3l1.8 5l1.7 1.4l5.2-1.8l3.4-2.6l1.8-0.7l3.4 1.1l1.8-2.6l1.7-6.1l1.7-1.7l1.8 4.2l1.7 1l3.4-1.1l3.5-2.1l3.5-4.5l1.7-1.1l1.7 0.9l1.8 2.2l1.7 1.4l1.7 0l1.7-1l1.3 0.8l-1.7 1.1l-1.7 0.4l-1.7-0.9l-1.8-1.6l-1.7-0.9l-1.7 0.8l-1.8 1.2l-1.7-0.2l-1.7-1.7l-1.8 3l-1.7 3.5l-1.7 1.3l-3.5 0.4l-1.7 1.1l-1.7 2.3l-1.8 1.4l-3.4-0.8l-1.8 0.5l-5.1 2.7l-3.5 2.8l-1.7-1.1l-1.8-7.5l-1.7-4.3l-1.7 9.2l-1.8 5.1l-1.7 1.7l-1.7-0.3l-1.7 1.4l-1.8 2.9l-1.7 2l-1.7 0l-1.8-0.4l-1.7 1.3l-1.7 2.1l-1.8 1.2z"/>
<path fill="url(#p116)" d="M53.5 79.9l1.8-1.2l1.7-2.1l1.7-1.3l1.8 0.4l1.7 0l1.7-2l1.8-2.9l1.7-1.4l1.7 0.3l1.7-1.7l1.8-5.1l1.7-9.2l1.7 4.3l1.8 7.5l1.7 1.1l3.5-2.8l5.1-2.7l1.8-0.5l3.4 0.8l1.8-1.4l1.7-2.3l1.7-1.1l3.5-0.4l1.7-1.3l1.7-3.5l1.8-3l1.7 1.7l1.7 0.2l1.8-1.2l1.7-0.8l1.7 0.9l1.8 1.6l1.7 0.9l1.7-0.4l1.7-1.1l1.3 1.2l-1.7 0.4l-1.7-0.1l-3.5-1.1l-1.7 0.3l-3.5 2.1l-1.7-2.3l-1.7-7.8l-1.8 6.7l-1.7 6.3l-1.7 1.3l-1.7 0.6l-5.2 3.6l-1.8 0.7l-3.4-0.4l-1.8 0.2l-1.7 0.8l-3.5 2.4l-3.4 4.5l-1.7 0.1l-1.8-3.5l-1.7-2.2l-1.7 2.4l-1.8 2.8l-1.7 2.2l-1.7 1.4l-3.5 3.6l-1.7 1l-1.7-1.5l-1.8-5.3l-1.7 1.6l-1.7 4.8l-1.8 1.5z"/>
<path fill="url(#p115)" d="M54.8 77.9l1.8-1.5l1.7-4.8l1.7-1.6l1.8 5.3l1.7 1.5l1.7-1l3.5-3.6l1.7-1.4l1.7-2.2l1.8-2.8l1.7-2.4l1.7 2.2l1.8 3.5l1.7-0.1l3.4-4.5l3.5-2.4l1.7-0.8l1.8-0.2l3.4 0.4l1.8-0.7l5.2-3.6l1.7-0.6l1.7-1.3l1.7-6.3l1.8-6.7l1.7 7.8l1.7 2.3l3.5-2.1l1.7-0.3l3.5 1.1l1.7 0.1l1.7-0.4l1.3 1.9l-1.7-0.5l-1.7-1.2l-1.8-0.6l-1.7 0.5l-3.4 2.7l-3.5-1.9l-1.7 1.3l-3.5 5.2l-3.5-1.3l-3.4 3.2l-1.7 1.1l-1.8 0.5l-3.4-0.2l-1.8-0.9l-1.7-0.2l-3.5 5.9l-1.7 2.7l-1.7 2.3l-1.7 0.5l-3.5-2.9l-1.7 0.1l-1.8 1.4l-3.4 3.9l-1.8 1.6l-1.7 1.4l-1.7 0.5l-1.7-1.7l-1.8-5.5l-1.7 1.3l-1.7 4.8l-1.8 1.6z"/>
<path fill="url(#p114)" d="M56.1 77.7l1.8-1.6l1.7-4.8l1.7-1.3l1.8 5.5l1.7 1.7l1.7-0.5l1.7-1.4l1.8-1.6l3.4-3.9l1.8-1.4l1.7-0.1l3.5 2.9l1.7-0.5l1.7-2.3l1.7-2.7l3.5-5.9l1.7 0.2l1.8 0.9l3.4 0.2l1.8-0.5l1.7-1.1l3.4-3.2l3.5 1.3l3.5-5.2l1.7-1.3l3.5 1.9l3.4-2.7l1.7-0.5l1.8 0.6l1.7 1.2l1.7 0.5l1.3 1.2l-1.7-0.8l-1.7-1.4l-1.8-0.4l-1.7 1.2l-1.7 1.7l-1.7 0.2l-1.8-4.7l-1.7-7l-1.7 11.8l-1.8 5.3l-1.7 0.2l-1.7-3.5l-1.8-4.2l-1.7 4.4l-1.7 3.8l-1.7 1.4l-1.8 0.4l-1.7 0.1l-1.7-0.4l-1.8-3.9l-1.7-5.4l-1.7 8.8l-1.8 6.3l-1.7 2.8l-1.7 1.5l-1.7 0.4l-3.5-0.5l-1.7 0.3l-1.8 1l-3.4 3.7l-3.5 1.7l-1.7 0.5l-1.7-0.5l-1.8-1.3l-1.7 0.3l-1.7 1.3l-1.8 0.8z"/>
<path fill="url(#p113)" d="M57.4 78.6l1.8-0.8l1.7-1.3l1.7-0.3l1.8 1.3l1.7 0.5l1.7-0.5l3.5-1.7l3.4-3.7l1.8-1l1.7-0.3l3.5 0.5l1.7-0.4l1.7-1.5l1.7-2.8l1.8-6.3l1.7-8.8l1.7 5.4l1.8 3.9l1.7 0.4l1.7-0.1l1.8-0.4l1.7-1.4l1.7-3.8l1.7-4.4l1.8 4.2l1.7 3.5l1.7-0.2l1.8-5.3l1.7-11.8l1.7 7l1.8 4.7l1.7-0.2l1.7-1.7l1.7-1.2l1.8 0.4l1.7 1.4l1.7 0.8l1.3 0.2l-1.7-0.3l-1.7-0.8l-1.8-0.1l-3.4 2.7l-1.7-0.4l-1.8-3.3l-1.7-1.5l-1.7 5.5l-1.8 4.1l-1.7 0l-1.7-4.2l-1.8-6.5l-1.7 7.8l-1.7 5.3l-1.7 1.4l-5.2 0.2l-1.8-3.5l-1.7-4.9l-1.7 7.4l-1.8 5.4l-8.6 6.2l-3.5 2.1l-3.4 3.2l-5.2 1.8l-3.5-0.5l-5.2 0.2z"/>
<path fill="url(#p112)" d="M58.7 79.6l5.2-0.2l3.5 0.5l5.2-1.8l3.4-3.2l3.5-2.1l8.6-6.2l1.8-5.4l1.7-7.4l1.7 4.9l1.8 3.5l5.2-0.2l1.7-1.4l1.7-5.3l1.7-7.8l1.8 6.5l1.7 4.2l1.7 0l1.8-4.1l1.7-5.5l1.7 1.5l1.8 3.3l1.7 0.4l3.4-2.7l1.8 0.1l1.7 0.8l1.7 0.3l1.3 0.8l-1.7 0.1l-3.5-0.6l-3.4 1.8l-1.7-0.3l-1.8-1l-1.7 0.8l-1.7 3.1l-1.8 2.3l-1.7-0.2l-1.7-1.5l-1.8-0.4l-3.4 6.7l-1.7 0.9l-3.5-0.7l-1.7 0.6l-3.5-1.2l-1.7 1.7l-1.8-1.6l-1.7-1l-1.7 3l-1.8 3.9l-1.7 2.6l-3.4 3.2l-3.5 3.7l-1.7 1.1l-1.8 0.4l-3.4 2l-1.8-0.1l-5.1-2.1l-1.8 0z"/>
<path fill="url(#p111)" d="M60 79.7l1.8 0l5.1 2.1l1.8 0.1l3.4-2l1.8-0.4l1.7-1.1l3.5-3.7l3.4-3.2l1.7-2.6l1.8-3.9l1.7-3l1.7 1l1.8 1.6l1.7-1.7l3.5 1.2l1.7-0.6l3.5 0.7l1.7-0.9l3.4-6.7l1.8 0.4l1.7 1.5l1.7 0.2l1.8-2.3l1.7-3.1l1.7-0.8l1.8 1l1.7 0.3l3.4-1.8l3.5 0.6l1.7-0.1l1.3 1.4l-1.7 0.5l-3.5-0.6l-6.9 1.7l-3.4 4.2l-1.8 0.7l-3.4-0.6l-1.8 1.5l-1.7 2.6l-1.7 2l-1.8 0.1l-1.7-1l-1.7-0.5l-3.5 1.8l-1.7 0.4l-1.7-1.8l-1.8-5.9l-1.7-7.3l-1.7 9.1l-1.8 7.7l-1.7 2.9l-1.7 0.9l-1.7 2.2l-1.8 3l-1.7 2.3l-1.7 0.5l-1.8-0.2l-1.7 1.1l-1.7 1.6l-1.8 0.2l-3.4-2.7l-1.7-0.7l-1.8 0.1z"/>
<path fill="url(#p110)" d="M61.3 79.1l1.8-0.1l1.7 0.7l3.4 2.7l1.8-0.2l1.7-1.6l1.7-1.1l1.8 0.2l1.7-0.5l1.7-2.3l1.8-3l1.7-2.2l1.7-0.9l1.7-2.9l1.8-7.7l1.7-9.1l1.7 7.3l1.8 5.9l1.7 1.8l1.7-0.4l3.5-1.8l1.7 0.5l1.7 1l1.8-0.1l1.7-2l1.7-2.6l1.8-1.5l3.4 0.6l1.8-0.7l3.4-4.2l6.9-1.7l3.5 0.6l1.7-0.5l1.3 1.4l-1.7 0.7l-3.5-0.8l-6.9 3.6l-1.7 1.8l-1.7 0.7l-3.5-0.5l-1.7 0.9l-3.5 4l-1.7 1.1l-1.8-0.3l-1.7-0.9l-1.7-0.1l-3.5 3l-1.7 0.7l-1.7-1.5l-3.5-10.7l-3.5 13.3l-1.7-1.3l-1.7-0.5l-1.7 5.5l-1.8 4.1l-1.7 2.9l-1.7 0l-1.8-1.4l-1.7-0.3l-3.5 2.1l-1.7-0.1l-1.7-1.1l-1.7-0.4l-1.8 0.6z"/>
<path fill="url(#p19)" d="M62.6 79.2l1.8-0.6l1.7 0.4l1.7 1.1l1.7 0.1l3.5-2.1l1.7 0.3l1.8 1.4l1.7 0l1.7-2.9l1.8-4.1l1.7-5.5l1.7 0.5l1.7 1.3l3.5-13.3l3.5 10.7l1.7 1.5l1.7-0.7l3.5-3l1.7 0.1l1.7 0.9l1.8 0.3l1.7-1.1l3.5-4l1.7-0.9l3.5 0.5l1.7-0.7l1.7-1.8l6.9-3.6l3.5 0.8l1.7-0.7l1.3 1.7l-1.7 0.4l-1.7-2.4l-1.8-3.2l-3.4 7.8l-1.8 1.5l-1.7 0.8l-1.7-0.2l-1.7-3.5l-1.8 1.1l-1.7 2.6l-3.5 3.4l-1.7 1.3l-1.7 0.5l-3.5-0.6l-1.7 0.7l-3.5 3.8l-1.7 0.8l-1.7-0.4l-1.8-1.7l-1.7-0.9l-3.5 4.2l-1.7-5.1l-1.7-2.4l-1.7 7.9l-1.8 3.7l-1.7 4.9l-1.7 0.5l-1.8-2.7l-1.7-3.4l-1.7-4.2l-3.5 8.4l-1.7 0.7l-1.7-0.3l-1.8 0.3z"/>
<path fill="url(#p18)" d="M63.9 79.5l1.8-0.3l1.7 0.3l1.7-0.7l3.5-8.4l1.7 4.2l1.7 3.4l1.8 2.7l1.7-0.5l1.7-4.9l1.8-3.7l1.7-7.9l1.7 2.4l1.7 5.1l3.5-4.2l1.7 0.9l1.8 1.7l1.7 0.4l1.7-0.8l3.5-3.8l1.7-0.7l3.5 0.6l1.7-0.5l1.7-1.3l3.5-3.4l1.7-2.6l1.8-1.1l1.7 3.5l1.7 0.2l1.7-0.8l1.8-1.5l3.4-7.8l1.8 3.2l1.7 2.4l1.7-0.4l1.3 2l-1.7-0.1l-1.7-4.5l-1.8-7.8l-1.7 8.9l-1.7 6.5l-1.8 2.3l-1.7 0.6l-1.7-1.4l-1.7-5.9l-1.8 2.9l-1.7 3.5l-5.2 2.7l-3.5 0.5l-1.7 0.5l-1.7 1.4l-1.7 1.8l-1.8 1.3l-3.4 0.4l-5.2 3.4l-1.8 0.1l-1.7-2l-1.7-0.6l-1.8-7l-1.7 5.7l-1.7 9.5l-1.7 2.1l-1.8-2.2l-1.7-4.4l-1.7-7.5l-1.8 5.5l-1.7 6.4l-1.7 1.6l-1.7-1.6l-1.8-2.6z"/>
<path fill="url(#p17)" d="M65.2 76.6l1.8 2.6l1.7 1.6l1.7-1.6l1.7-6.4l1.8-5.5l1.7 7.5l1.7 4.4l1.8 2.2l1.7-2.1l1.7-9.5l1.7-5.7l1.8 7l1.7 0.6l1.7 2l1.8-0.1l5.2-3.4l3.4-0.4l1.8-1.3l1.7-1.8l1.7-1.4l1.7-0.5l3.5-0.5l5.2-2.7l1.7-3.5l1.8-2.9l1.7 5.9l1.7 1.4l1.7-0.6l1.8-2.3l1.7-6.5l1.7-8.9l1.8 7.8l1.7 4.5l1.7 0.1l1.3 1.9l-1.7 0.3l-3.5-4.2l-1.7 3.6l-1.7 4.2l-1.8 2l-3.4 0.3l-1.8-0.6l-3.4 0.6l-1.7-0.9l-1.8-0.4l-3.4 1.2l-5.2 3.6l-3.5 0.6l-1.7-2.3l-1.7 0.3l-1.8 4.3l-1.7 3.5l-1.7 1.5l-1.8-0.2l-1.7-1.2l-1.7-2.4l-1.8-4.3l-1.7 3.8l-1.7 7.3l-1.7 2.5l-1.8-0.4l-1.7-0.9l-1.7-1.6l-1.8 1.4l-1.7 2.5l-1.7 0.7l-1.8-2.7l-1.7-7.9z"/>
<path fill="url(#p16)" d="M66.5 72.1l1.7 7.9l1.8 2.7l1.7-0.7l1.7-2.5l1.8-1.4l1.7 1.6l1.7 0.9l1.8 0.4l1.7-2.5l1.7-7.3l1.7-3.8l1.8 4.3l1.7 2.4l1.7 1.2l1.8 0.2l1.7-1.5l1.7-3.5l1.8-4.3l1.7-0.3l1.7 2.3l3.5-0.6l5.2-3.6l3.4-1.2l1.8 0.4l1.7 0.9l3.4-0.6l1.8 0.6l3.4-0.3l1.8-2l1.7-4.2l1.7-3.6l3.5 4.2l1.7-0.3l1.3 2.2l-1.7 0.8l-3.5-0.2l-3.4 3.4l-1.8 0.6l-1.7-1.7l-1.7-2.3l-1.8 4.1l-1.7 2.6l-1.7-1l-1.7-2l-1.8-1l-1.7 0.4l-1.7 1.1l-3.5 2.9l-1.7 0.6l-1.8-4.4l-1.7-1.3l-1.7-3.3l-1.7-0.8l-1.8 10.4l-1.7 5.1l-1.7 1.7l-1.8 0.1l-5.2-1.9l-1.7 1.9l-1.7 3.3l-1.7 1.7l-1.8-0.6l-1.7-3.5l-1.7 0.4l-1.8 5.2l-1.7 2.3l-1.7 0.8l-1.8-0.5l-1.7-1.9z"/>
<path fill="url(#p15)" d="M67.8 82.5l1.7 1.9l1.8 0.5l1.7-0.8l1.7-2.3l1.8-5.2l1.7-0.4l1.7 3.5l1.8 0.6l1.7-1.7l1.7-3.3l1.7-1.9l5.2 1.9l1.8-0.1l1.7-1.7l1.7-5.1l1.8-10.4l1.7 0.8l1.7 3.3l1.7 1.3l1.8 4.4l1.7-0.6l3.5-2.9l1.7-1.1l1.7-0.4l1.8 1l1.7 2l1.7 1l1.7-2.6l1.8-4.1l1.7 2.3l1.7 1.7l1.8-0.6l3.4-3.4l3.5 0.2l1.7-0.8l1.3 2.5l-3.4 1.6l-5.2 1.4l-1.8-0.1l-1.7-2.2l-1.7-4.5l-1.8 6.2l-1.7 2.9l-1.7-0.9l-1.7-1.5l-1.8-0.5l-3.4 1.6l-1.8-0.1l-1.7-0.8l-1.7 3.3l-1.8-6.3l-1.7-2.9l-1.7 3.9l-1.7 0.2l-1.8 6.9l-1.7 3.8l-1.7-0.3l-1.8 0.1l-1.7 1.4l-3.5 1.5l-3.4 3.1l-1.7 0.7l-1.8-0.4l-1.7-3.4l-1.7 0.3l-1.8 5.3l-1.7 2.4l-1.7 2l-1.8 1.4l-1.7 0.6z"/>
<path fill="url(#p14)" d="M69.1 88.1l1.7-0.6l1.8-1.4l1.7-2l1.7-2.4l1.8-5.3l1.7-0.3l1.7 3.4l1.8 0.4l1.7-0.7l3.4-3.1l3.5-1.5l1.7-1.4l1.8-0.1l1.7 0.3l1.7-3.8l1.8-6.9l1.7-0.2l1.7-3.9l1.7 2.9l1.8 6.3l1.7-3.3l1.7 0.8l1.8 0.1l3.4-1.6l1.8 0.5l1.7 1.5l1.7 0.9l1.7-2.9l1.8-6.2l1.7 4.5l1.7 2.2l1.8 0.1l5.2-1.4l3.4-1.6l1.3 2.2l-3.4 1.6l-1.8 0.5l-5.2 0.3l-3.4-0.6l-1.8 1.1l-1.7 0.4l-1.7-0.5l-1.7 0l-5.2 1.1l-1.8-2l-1.7-6l-1.7 7.7l-1.8 1.3l-1.7-1l-1.7 1.9l-1.7 1.2l-1.8 2.9l-1.7 0.4l-1.7-4.7l-1.8-0.4l-1.7 6.2l-1.7 2.5l-3.5 2.5l-1.7 0.9l-1.8 0l-1.7 0.4l-6.9 2.9l-3.5 3.8l-1.7 0.9z"/>
<path fill="url(#p13)" d="M70.4 88.3l1.7-0.9l3.5-3.8l6.9-2.9l1.7-0.4l1.8 0l1.7-0.9l3.5-2.5l1.7-2.5l1.7-6.2l1.8 0.4l1.7 4.7l1.7-0.4l1.8-2.9l1.7-1.2l1.7-1.9l1.7 1l1.8-1.3l1.7-7.7l1.7 6l1.8 2l5.2-1.1l1.7 0l1.7 0.5l1.7-0.4l1.8-1.1l3.4 0.6l5.2-0.3l1.8-0.5l3.4-1.6l1.3 1.3l-3.5 1.7l-6.9 2.3l-3.4-0.2l-3.5-0.8l-1.7 0.7l-1.8 1.2l-1.7 0.3l-3.4-0.2l-3.5-1.4l-1.7 2.4l-1.8 1.4l-1.7-0.5l-1.7 0.8l-3.5 3.5l-1.7-0.3l-1.7-4.4l-1.8-0.1l-1.7 6.2l-1.7 2.7l-1.8 1.3l-1.7 1l-1.7 0.1l-1.8-0.4l-1.7 0.4l-3.4 2.9l-3.5-0.3l-3.5 2.8l-1.7 0.7z"/>
<path fill="url(#p12)" d="M71.7 87.5l1.7-0.7l3.5-2.8l3.5 0.3l3.4-2.9l1.7-0.4l1.8 0.4l1.7-0.1l1.7-1l1.8-1.3l1.7-2.7l1.7-6.2l1.8 0.1l1.7 4.4l1.7 0.3l3.5-3.5l1.7-0.8l1.7 0.5l1.8-1.4l1.7-2.4l3.5 1.4l3.4 0.2l1.7-0.3l1.8-1.2l1.7-0.7l3.5 0.8l3.4 0.2l6.9-2.3l3.5-1.7l1.3 0.9l-5.2 2.1l-3.4 3.2l-1.8 1l-1.7-0.2l-3.5-1.5l-1.7 0.3l-3.5 2.5l-3.4-1.4l-1.7 0l-1.8 0.4l-3.4 1.5l-3.5 0.3l-1.7 0.9l-3.5 3l-1.7 0.5l-1.7-0.4l-1.8 0.8l-1.7 2.5l-1.7 2.1l-1.8 1.2l-1.7 0.2l-3.5-1.5l-1.7 0l-1.7 1.5l-1.7 2l-1.8 0.9l-1.7-0.1l-1.7 0.6l-1.8 1.1l-1.7 0.7z"/>
<path fill="url(#p11)" d="M73 88.2l1.7-0.7l1.8-1.1l1.7-0.6l1.7 0.1l1.8-0.9l1.7-2l1.7-1.5l1.7 0l3.5 1.5l1.7-0.2l1.8-1.2l1.7-2.1l1.7-2.5l1.8-0.8l1.7 0.4l1.7-0.5l3.5-3l1.7-0.9l3.5-0.3l3.4-1.5l1.8-0.4l1.7 0l3.4 1.4l3.5-2.5l1.7-0.3l3.5 1.5l1.7 0.2l1.8-1l3.4-3.2l5.2-2.1l1.3 1l-3.5 0.3l-1.7 1.2l-3.4 5l-1.8 1.5l-1.7-0.3l-1.7-0.9l-1.8-0.3l-1.7 0.7l-1.7 1.1l-1.8 0.3l-3.4-2.1l-3.5 0.4l-6.9 2.4l-5.2 3.8l-3.4 1.2l-1.8 0.9l-3.4 4.4l-1.8 1.1l-1.7-0.7l-1.7-1.3l-1.8-0.7l-1.7-0.1l-1.7 1.4l-1.7 2.4l-1.8 1.8l-6.9 1.4z"/>
<path fill="url(#p10)" d="M74.3 89.3l6.9-1.4l1.8-1.8l1.7-2.4l1.7-1.4l1.7 0.1l1.8 0.7l1.7 1.3l1.7 0.7l1.8-1.1l3.4-4.4l1.8-0.9l3.4-1.2l5.2-3.8l6.9-2.4l3.5-0.4l3.4 2.1l1.8-0.3l1.7-1.1l1.7-0.7l1.8 0.3l1.7 0.9l1.7 0.3l1.8-1.5l3.4-5l1.7-1.2l3.5-0.3l1.3 1.2l-1.7-0.6l-1.8 0l-1.7 1.9l-3.4 5.8l-1.8 1.6l-1.7-0.1l-1.7-0.7l-1.8 0l-3.4 1.2l-1.8 0l-3.4-1.8l-5.2-0.4l-1.7 0.5l-1.8 1.1l-3.4 3.1l-3.5 2.6l-5.2 1.7l-1.7 2.2l-1.7 2.6l-1.8 0.9l-3.4-2.6l-1.8-0.4l-1.7 0.2l-1.7 1.3l-1.8 2.6l-1.7 2l-1.7 0.7l-1.7 0.1l-3.5-0.8z"/>
</g>

<rect x="157.6" y="12.9" width="6.8" height="112.7" fill="url(#jet)" stroke="#2a2a2a" stroke-width=".4"/>
<text class="c" x="166.3" y="117.9">30</text>
<text class="c" x="166.3" y="99.1">32</text>
<text class="c" x="166.3" y="80.3">34</text>
<text class="c" x="166.3" y="61.6">36</text>
<text class="c" x="166.3" y="42.8">38</text>
<text class="c" x="166.3" y="24.0">40</text>
</g>
<g transform="translate(184.3 0)">
<text class="t" x="84.3" y="11.5">Longitudinal Crack</text>
<path d="M23.7 86.0 L92.9 61.0 L144.8 94.4 M23.7 76.8 L92.9 51.8 L144.8 85.2 M23.7 67.6 L92.9 42.6 L144.8 76.0 M23.7 58.4 L92.9 33.4 L144.8 66.8 M23.7 49.2 L92.9 24.2 L144.8 57.6 M23.7 40.0 L92.9 15.0 L144.8 48.4" fill="none" stroke="#d2d2d2" stroke-width=".9" stroke-dasharray="3.4 5.4"/>
<g transform="matrix(69.200 -25.000 -51.900 -33.400 75.60 125.60)">
<rect width="1" height="1" fill="#8b8b8b"/>
<path d="M.392 1L.487 0" stroke="#4a4a4a" stroke-width=".013" fill="none" opacity=".8"/><circle cx=".9" cy=".405" r=".013" fill="#444" opacity=".7"/>
</g>
<polygon points="23.7,92.2 75.6,125.6 144.8,100.6 92.9,67.2" fill="#888" filter="url(#n)" opacity="0.13"/>
<path d="M23.7 92.5L75.6 125.9L144.8 100.9" fill="none" stroke="#0a0a0a" stroke-width="1.15" stroke-linejoin="miter"/>
<path d="M23.7 36.0 V92.2M23.7 90.6h-1.3M23.7 88.3h-1.3M23.7 86.0h-1.3M23.7 83.7h-1.3M23.7 81.4h-1.3M23.7 79.1h-1.3M23.7 76.8h-1.3M23.7 74.5h-1.3M23.7 72.2h-1.3M23.7 69.9h-1.3M23.7 67.6h-1.3M23.7 65.3h-1.3M23.7 63.0h-1.3M23.7 60.7h-1.3M23.7 58.4h-1.3M23.7 56.1h-1.3M23.7 53.8h-1.3M23.7 51.5h-1.3M23.7 49.2h-1.3M23.7 46.9h-1.3M23.7 44.6h-1.3M23.7 42.3h-1.3M23.7 40.0h-1.3M23.7 37.7h-1.3M23.7 86.0h-2.2M23.7 76.8h-2.2M23.7 67.6h-2.2M23.7 58.4h-2.2M23.7 49.2h-2.2M23.7 40.0h-2.2" fill="none" stroke="#000" stroke-width=".9"/>
<text class="z" x="20.2" y="87.7">28</text>
<text class="z" x="20.2" y="78.5">30</text>
<text class="z" x="20.2" y="69.3">32</text>
<text class="z" x="20.2" y="60.1">34</text>
<text class="z" x="20.2" y="50.9">36</text>
<text class="z" x="20.2" y="41.7">38</text>
<text class="y" transform="translate(11.2 65) rotate(-90)">Temperature</text>
<g class="s">
<defs><linearGradient id="p229" gradientUnits="userSpaceOnUse" x1="24.6" x2="93.8"><stop offset="0" stop-color="#b00"/><stop offset=".167" stop-color="#a00"/><stop offset=".333" stop-color="#c00"/><stop offset=".367" stop-color="#b00"/><stop offset=".4" stop-color="#b00"/><stop offset=".433" stop-color="#f50"/><stop offset=".467" stop-color="#f60"/><stop offset=".533" stop-color="#f00"/><stop offset=".6" stop-color="#e00"/><stop offset="1" stop-color="#e00"/></linearGradient>
<linearGradient id="p228" gradientUnits="userSpaceOnUse" x1="26.3" x2="95.5"><stop offset="0" stop-color="#b00"/><stop offset=".167" stop-color="#a00"/><stop offset=".3" stop-color="#c00"/><stop offset=".367" stop-color="#b00"/><stop offset=".4" stop-color="#c00"/><stop offset=".433" stop-color="#f80"/><stop offset=".467" stop-color="#f60"/><stop offset=".533" stop-color="#f00"/><stop offset=".6" stop-color="#e00"/><stop offset="1" stop-color="#e00"/></linearGradient>
<linearGradient id="p227" gradientUnits="userSpaceOnUse" x1="28" x2="97.2"><stop offset="0" stop-color="#b00"/><stop offset=".167" stop-color="#b00"/><stop offset=".3" stop-color="#d00"/><stop offset=".367" stop-color="#b00"/><stop offset=".4" stop-color="#d00"/><stop offset=".433" stop-color="#f90"/><stop offset=".533" stop-color="#f00"/><stop offset=".6" stop-color="#d00"/><stop offset="1" stop-color="#e00"/></linearGradient>
<linearGradient id="p226" gradientUnits="userSpaceOnUse" x1="29.8" x2="99"><stop offset="0" stop-color="#b00"/><stop offset=".167" stop-color="#b00"/><stop offset=".3" stop-color="#d00"/><stop offset=".367" stop-color="#b00"/><stop offset=".4" stop-color="#e00"/><stop offset=".433" stop-color="#fa0"/><stop offset=".467" stop-color="#f60"/><stop offset=".533" stop-color="#f00"/><stop offset=".6" stop-color="#d00"/><stop offset="1" stop-color="#e00"/></linearGradient>
<linearGradient id="p225" gradientUnits="userSpaceOnUse" x1="31.5" x2="100.7"><stop offset="0" stop-color="#b00"/><stop offset=".167" stop-color="#b00"/><stop offset=".3" stop-color="#e00"/><stop offset=".367" stop-color="#b00"/><stop offset=".4" stop-color="#f10"/><stop offset=".433" stop-color="#fa0"/><stop offset=".5" stop-color="#f20"/><stop offset=".533" stop-color="#e00"/><stop offset=".6" stop-color="#d00"/><stop offset="1" stop-color="#d00"/></linearGradient>
<linearGradient id="p224" gradientUnits="userSpaceOnUse" x1="33.2" x2="102.4"><stop offset="0" stop-color="#c00"/><stop offset=".133" stop-color="#b00"/><stop offset=".3" stop-color="#e00"/><stop offset=".367" stop-color="#c00"/><stop offset=".4" stop-color="#f30"/><stop offset=".433" stop-color="#fa0"/><stop offset=".5" stop-color="#f20"/><stop offset=".533" stop-color="#e00"/><stop offset=".6" stop-color="#c00"/><stop offset=".8" stop-color="#d00"/><stop offset="1" stop-color="#d00"/></linearGradient>
<linearGradient id="p223" gradientUnits="userSpaceOnUse" x1="34.9" x2="104.1"><stop offset="0" stop-color="#d00"/><stop offset=".133" stop-color="#c00"/><stop offset=".3" stop-color="#e00"/><stop offset=".367" stop-color="#c00"/><stop offset=".4" stop-color="#f60"/><stop offset=".433" stop-color="#fa0"/><stop offset=".5" stop-color="#f20"/><stop offset=".533" stop-color="#e00"/><stop offset=".6" stop-color="#c00"/><stop offset=".8" stop-color="#d00"/><stop offset="1" stop-color="#c00"/></linearGradient>
<linearGradient id="p222" gradientUnits="userSpaceOnUse" x1="36.7" x2="105.9"><stop offset="0" stop-color="#e00"/><stop offset=".133" stop-color="#d00"/><stop offset=".267" stop-color="#e00"/><stop offset=".3" stop-color="#e00"/><stop offset=".333" stop-color="#c00"/><stop offset=".367" stop-color="#d00"/><stop offset=".4" stop-color="#fa0"/><stop offset=".433" stop-color="#fa0"/><stop offset=".5" stop-color="#f20"/><stop offset=".533" stop-color="#e00"/><stop offset=".6" stop-color="#c00"/><stop offset=".8" stop-color="#d00"/><stop offset="1" stop-color="#b00"/></linearGradient>
<linearGradient id="p221" gradientUnits="userSpaceOnUse" x1="38.4" x2="107.6"><stop offset="0" stop-color="#f00"/><stop offset=".167" stop-color="#d00"/><stop offset=".3" stop-color="#e00"/><stop offset=".333" stop-color="#c00"/><stop offset=".367" stop-color="#e00"/><stop offset=".4" stop-color="#fd0"/><stop offset=".433" stop-color="#fa0"/><stop offset=".5" stop-color="#f20"/><stop offset=".533" stop-color="#e00"/><stop offset=".6" stop-color="#c00"/><stop offset=".767" stop-color="#d00"/><stop offset="1" stop-color="#b00"/></linearGradient>
<linearGradient id="p220" gradientUnits="userSpaceOnUse" x1="40.1" x2="109.3"><stop offset="0" stop-color="#f10"/><stop offset=".167" stop-color="#d00"/><stop offset=".267" stop-color="#e00"/><stop offset=".333" stop-color="#c00"/><stop offset=".367" stop-color="#f00"/><stop offset=".4" stop-color="#ff0"/><stop offset=".5" stop-color="#f30"/><stop offset=".533" stop-color="#f00"/><stop offset=".6" stop-color="#d00"/><stop offset=".767" stop-color="#d00"/><stop offset="1" stop-color="#a00"/></linearGradient>
<linearGradient id="p219" gradientUnits="userSpaceOnUse" x1="41.9" x2="111.1"><stop offset="0" stop-color="#f10"/><stop offset=".1" stop-color="#f00"/><stop offset=".167" stop-color="#e00"/><stop offset=".267" stop-color="#e00"/><stop offset=".333" stop-color="#c00"/><stop offset=".367" stop-color="#f10"/><stop offset=".4" stop-color="#ff0"/><stop offset=".5" stop-color="#f30"/><stop offset=".533" stop-color="#f00"/><stop offset=".6" stop-color="#d00"/><stop offset=".767" stop-color="#d00"/><stop offset="1" stop-color="#900"/></linearGradient>
<linearGradient id="p218" gradientUnits="userSpaceOnUse" x1="43.6" x2="112.8"><stop offset="0" stop-color="#f20"/><stop offset=".1" stop-color="#f00"/><stop offset=".167" stop-color="#e00"/><stop offset=".267" stop-color="#e00"/><stop offset=".333" stop-color="#c00"/><stop offset=".367" stop-color="#f40"/><stop offset=".4" stop-color="#ff0"/><stop offset=".5" stop-color="#f30"/><stop offset=".533" stop-color="#f00"/><stop offset=".6" stop-color="#d00"/><stop offset=".8" stop-color="#c00"/><stop offset="1" stop-color="#800"/></linearGradient>
<linearGradient id="p217" gradientUnits="userSpaceOnUse" x1="45.3" x2="114.5"><stop offset="0" stop-color="#f20"/><stop offset=".1" stop-color="#f00"/><stop offset=".333" stop-color="#c00"/><stop offset=".367" stop-color="#f70"/><stop offset=".4" stop-color="#ff0"/><stop offset=".5" stop-color="#f30"/><stop offset=".533" stop-color="#f00"/><stop offset=".6" stop-color="#d00"/><stop offset=".767" stop-color="#d00"/><stop offset=".933" stop-color="#800"/><stop offset="1" stop-color="#800"/></linearGradient>
<linearGradient id="p216" gradientUnits="userSpaceOnUse" x1="47.1" x2="116.3"><stop offset="0" stop-color="#f20"/><stop offset=".1" stop-color="#f00"/><stop offset=".167" stop-color="#d00"/><stop offset=".267" stop-color="#d00"/><stop offset=".3" stop-color="#c00"/><stop offset=".333" stop-color="#c00"/><stop offset=".367" stop-color="#fa0"/><stop offset=".4" stop-color="#ff0"/><stop offset=".5" stop-color="#f20"/><stop offset=".533" stop-color="#f00"/><stop offset=".6" stop-color="#d00"/><stop offset=".767" stop-color="#c00"/><stop offset=".933" stop-color="#800"/><stop offset="1" stop-color="#800"/></linearGradient>
<linearGradient id="p215" gradientUnits="userSpaceOnUse" x1="48.8" x2="118"><stop offset="0" stop-color="#f10"/><stop offset=".067" stop-color="#f00"/><stop offset=".167" stop-color="#d00"/><stop offset=".267" stop-color="#c00"/><stop offset=".3" stop-color="#b00"/><stop offset=".333" stop-color="#c00"/><stop offset=".367" stop-color="#fd0"/><stop offset=".4" stop-color="#fe0"/><stop offset=".5" stop-color="#f20"/><stop offset=".533" stop-color="#e00"/><stop offset=".6" stop-color="#c00"/><stop offset=".767" stop-color="#c00"/><stop offset=".933" stop-color="#800"/><stop offset="1" stop-color="#800"/></linearGradient>
<linearGradient id="p214" gradientUnits="userSpaceOnUse" x1="50.5" x2="119.7"><stop offset="0" stop-color="#f10"/><stop offset=".233" stop-color="#c00"/><stop offset=".3" stop-color="#a00"/><stop offset=".333" stop-color="#c00"/><stop offset=".367" stop-color="#ff0"/><stop offset=".4" stop-color="#fd0"/><stop offset=".5" stop-color="#f10"/><stop offset=".533" stop-color="#d00"/><stop offset=".6" stop-color="#c00"/><stop offset=".767" stop-color="#c00"/><stop offset=".9" stop-color="#800"/><stop offset="1" stop-color="#800"/></linearGradient>
<linearGradient id="p213" gradientUnits="userSpaceOnUse" x1="52.2" x2="121.4"><stop offset="0" stop-color="#f00"/><stop offset=".233" stop-color="#b00"/><stop offset=".3" stop-color="#900"/><stop offset=".333" stop-color="#c00"/><stop offset=".367" stop-color="#ff0"/><stop offset=".5" stop-color="#f00"/><stop offset=".567" stop-color="#b00"/><stop offset=".767" stop-color="#c00"/><stop offset=".9" stop-color="#800"/><stop offset="1" stop-color="#800"/></linearGradient>
<linearGradient id="p212" gradientUnits="userSpaceOnUse" x1="54" x2="123.2"><stop offset="0" stop-color="#e00"/><stop offset=".233" stop-color="#b00"/><stop offset=".3" stop-color="#800"/><stop offset=".333" stop-color="#d00"/><stop offset=".367" stop-color="#fe0"/><stop offset=".467" stop-color="#f20"/><stop offset=".5" stop-color="#e00"/><stop offset=".567" stop-color="#b00"/><stop offset=".767" stop-color="#b00"/><stop offset=".9" stop-color="#800"/><stop offset="1" stop-color="#800"/></linearGradient>
<linearGradient id="p211" gradientUnits="userSpaceOnUse" x1="55.7" x2="124.9"><stop offset="0" stop-color="#e00"/><stop offset=".233" stop-color="#a00"/><stop offset=".3" stop-color="#800"/><stop offset=".333" stop-color="#f10"/><stop offset=".367" stop-color="#fc0"/><stop offset=".467" stop-color="#f10"/><stop offset=".5" stop-color="#d00"/><stop offset=".567" stop-color="#b00"/><stop offset=".767" stop-color="#b00"/><stop offset=".9" stop-color="#800"/><stop offset="1" stop-color="#800"/></linearGradient>
<linearGradient id="p210" gradientUnits="userSpaceOnUse" x1="57.4" x2="126.6"><stop offset="0" stop-color="#d00"/><stop offset=".2" stop-color="#b00"/><stop offset=".233" stop-color="#a00"/><stop offset=".267" stop-color="#800"/><stop offset=".3" stop-color="#800"/><stop offset=".333" stop-color="#f40"/><stop offset=".367" stop-color="#fb0"/><stop offset=".467" stop-color="#f00"/><stop offset=".533" stop-color="#b00"/><stop offset=".767" stop-color="#b00"/><stop offset=".933" stop-color="#800"/><stop offset="1" stop-color="#800"/></linearGradient>
<linearGradient id="p29" gradientUnits="userSpaceOnUse" x1="59.2" x2="128.4"><stop offset="0" stop-color="#c00"/><stop offset=".2" stop-color="#b00"/><stop offset=".267" stop-color="#800"/><stop offset=".3" stop-color="#800"/><stop offset=".333" stop-color="#f80"/><stop offset=".367" stop-color="#fb0"/><stop offset=".433" stop-color="#f30"/><stop offset=".467" stop-color="#e00"/><stop offset=".533" stop-color="#b00"/><stop offset=".767" stop-color="#c00"/><stop offset=".933" stop-color="#800"/><stop offset="1" stop-color="#800"/></linearGradient>
<linearGradient id="p28" gradientUnits="userSpaceOnUse" x1="60.9" x2="130.1"><stop offset="0" stop-color="#c00"/><stop offset=".2" stop-color="#c00"/><stop offset=".267" stop-color="#800"/><stop offset=".3" stop-color="#800"/><stop offset=".333" stop-color="#fb0"/><stop offset=".367" stop-color="#fa0"/><stop offset=".433" stop-color="#f20"/><stop offset=".467" stop-color="#d00"/><stop offset=".533" stop-color="#b00"/><stop offset=".767" stop-color="#c00"/><stop offset="1" stop-color="#800"/></linearGradient>
<linearGradient id="p27" gradientUnits="userSpaceOnUse" x1="62.6" x2="131.8"><stop offset="0" stop-color="#c00"/><stop offset=".167" stop-color="#c00"/><stop offset=".2" stop-color="#c00"/><stop offset=".267" stop-color="#800"/><stop offset=".3" stop-color="#800"/><stop offset=".333" stop-color="#fd0"/><stop offset=".433" stop-color="#f10"/><stop offset=".467" stop-color="#d00"/><stop offset=".533" stop-color="#b00"/><stop offset=".667" stop-color="#d00"/><stop offset=".767" stop-color="#d00"/><stop offset="1" stop-color="#800"/></linearGradient>
<linearGradient id="p26" gradientUnits="userSpaceOnUse" x1="64.4" x2="133.6"><stop offset="0" stop-color="#b00"/><stop offset=".2" stop-color="#c00"/><stop offset=".267" stop-color="#800"/><stop offset=".3" stop-color="#b00"/><stop offset=".333" stop-color="#fd0"/><stop offset=".433" stop-color="#f10"/><stop offset=".5" stop-color="#b00"/><stop offset=".733" stop-color="#d00"/><stop offset="1" stop-color="#900"/></linearGradient>
<linearGradient id="p25" gradientUnits="userSpaceOnUse" x1="66.1" x2="135.3"><stop offset="0" stop-color="#b00"/><stop offset=".167" stop-color="#d00"/><stop offset=".2" stop-color="#c00"/><stop offset=".267" stop-color="#800"/><stop offset=".3" stop-color="#e00"/><stop offset=".333" stop-color="#fe0"/><stop offset=".433" stop-color="#f10"/><stop offset=".5" stop-color="#b00"/><stop offset=".7" stop-color="#d00"/><stop offset="1" stop-color="#a00"/></linearGradient>
<linearGradient id="p24" gradientUnits="userSpaceOnUse" x1="67.8" x2="137"><stop offset="0" stop-color="#b00"/><stop offset=".167" stop-color="#d00"/><stop offset=".2" stop-color="#d00"/><stop offset=".267" stop-color="#800"/><stop offset=".3" stop-color="#f40"/><stop offset=".333" stop-color="#ff0"/><stop offset=".433" stop-color="#f10"/><stop offset=".467" stop-color="#d00"/><stop offset=".5" stop-color="#b00"/><stop offset=".667" stop-color="#d00"/><stop offset="1" stop-color="#b00"/></linearGradient>
<linearGradient id="p23" gradientUnits="userSpaceOnUse" x1="69.5" x2="138.7"><stop offset="0" stop-color="#c00"/><stop offset=".167" stop-color="#e00"/><stop offset=".2" stop-color="#d00"/><stop offset=".233" stop-color="#a00"/><stop offset=".267" stop-color="#900"/><stop offset=".3" stop-color="#fc0"/><stop offset=".333" stop-color="#cf3"/><stop offset=".367" stop-color="#fd0"/><stop offset=".433" stop-color="#f20"/><stop offset=".467" stop-color="#d00"/><stop offset=".533" stop-color="#c00"/><stop offset=".667" stop-color="#d00"/><stop offset="1" stop-color="#c00"/></linearGradient>
<linearGradient id="p22" gradientUnits="userSpaceOnUse" x1="71.3" x2="140.5"><stop offset="0" stop-color="#c00"/><stop offset=".167" stop-color="#e00"/><stop offset=".2" stop-color="#d00"/><stop offset=".233" stop-color="#a00"/><stop offset=".267" stop-color="#a00"/><stop offset=".3" stop-color="#7f8"/><stop offset=".333" stop-color="#5fa"/><stop offset=".367" stop-color="#bf4"/><stop offset=".4" stop-color="#fb0"/><stop offset=".433" stop-color="#f40"/><stop offset=".467" stop-color="#f00"/><stop offset=".5" stop-color="#d00"/><stop offset=".533" stop-color="#c00"/><stop offset="1" stop-color="#d00"/></linearGradient>
<linearGradient id="p21" gradientUnits="userSpaceOnUse" x1="73" x2="142.2"><stop offset="0" stop-color="#d00"/><stop offset=".167" stop-color="#f00"/><stop offset=".2" stop-color="#d00"/><stop offset=".233" stop-color="#a00"/><stop offset=".267" stop-color="#c00"/><stop offset=".3" stop-color="#08f"/><stop offset=".333" stop-color="#0bf"/><stop offset=".367" stop-color="#4fb"/><stop offset=".4" stop-color="#ef1"/><stop offset=".433" stop-color="#f70"/><stop offset=".467" stop-color="#f20"/><stop offset=".5" stop-color="#d00"/><stop offset=".533" stop-color="#c00"/><stop offset=".767" stop-color="#c00"/><stop offset="1" stop-color="#e00"/></linearGradient>
<linearGradient id="p20" gradientUnits="userSpaceOnUse" x1="74.7" x2="143.9"><stop offset="0" stop-color="#d00"/><stop offset=".167" stop-color="#f00"/><stop offset=".233" stop-color="#a00"/><stop offset=".267" stop-color="#f10"/><stop offset=".3" stop-color="#00e"/><stop offset=".333" stop-color="#05f"/><stop offset=".367" stop-color="#0ef"/><stop offset=".4" stop-color="#bf4"/><stop offset=".433" stop-color="#fa0"/><stop offset=".467" stop-color="#f30"/><stop offset=".5" stop-color="#e00"/><stop offset=".533" stop-color="#d00"/><stop offset=".767" stop-color="#c00"/><stop offset="1" stop-color="#f00"/></linearGradient></defs>
<path fill="url(#p229)" d="M23.7 42.6l11.5-4.4l11.6-3.4l2.3-1.4l2.3-0.8l2.3 2.8l2.3 0.4l2.3-2.6l2.3-1.9l2.3-1.5l9.2-3.1l20.8-7.7l1.7 1.7l-20.7 7.7l-9.3 3.1l-2.3 1.4l-2.3 1.9l-2.3 2.4l-2.3 1.1l-2.3-3.8l-2.3 0.5l-2.3 1.5l-11.5 3.4l-11.6 4.4z"/>
<path fill="url(#p228)" d="M25.4 43.7l11.6-4.4l11.5-3.4l2.3-1.5l2.3-0.5l2.3 3.8l2.3-1.1l2.3-2.4l2.3-1.9l2.3-1.4l9.3-3.1l20.7-7.7l1.8 1.7l-20.8 7.6l-9.2 3.1l-2.3 1.4l-7 6.5l-2.3-4.5l-2.3 0.2l-2.3 1.6l-2.3 0.9l-9.2 2.4l-11.5 4.3z"/>
<path fill="url(#p227)" d="M27.2 44.7l11.5-4.3l9.2-2.4l2.3-0.9l2.3-1.6l2.3-0.2l2.3 4.5l7-6.5l2.3-1.4l9.2-3.1l20.8-7.6l1.7 1.6l-30 10.6l-2.3 1.4l-2.3 2l-2.3 2.3l-2.3 2.9l-2.3-4.5l-2.3-0.1l-2.3 1.5l-2.3 1l-9.3 2.3l-11.5 4.2z"/>
<path fill="url(#p226)" d="M28.9 45.8l11.5-4.2l9.3-2.3l2.3-1l2.3-1.5l2.3 0.1l2.3 4.5l2.3-2.9l2.3-2.3l2.3-2l2.3-1.4l30-10.6l1.7 1.6l-30 10.6l-2.3 1.4l-2.3 2l-2.3 2.3l-2.3 3l-2.3-3.8l-2.3-0.7l-4.6 2.6l-9.2 2.3l-11.6 4.1z"/>
<path fill="url(#p225)" d="M30.6 47l11.6-4.1l9.2-2.3l4.6-2.6l2.3 0.7l2.3 3.8l2.3-3l2.3-2.3l2.3-2l2.3-1.4l30-10.6l1.8 1.5l-13.9 5.2l-16.1 5.5l-2.3 1.4l-2.3 2.1l-2.4 2.3l-2.3 3l-2.3-2.8l-2.3-1.5l-4.6 2.6l-11.5 3l-9.2 3.5z"/>
<path fill="url(#p224)" d="M32.4 48.4l9.2-3.5l11.5-3l4.6-2.6l2.3 1.5l2.3 2.8l2.3-3l2.4-2.3l2.3-2.1l2.3-1.4l16.1-5.5l13.9-5.2l1.7 1.5l-13.9 5.3l-16.1 5.5l-2.3 1.5l-2.3 2l-4.6 5.3l-2.3-1.5l-2.3-2.5l-4.7 2.6l-11.5 3.1l-9.2 3.6z"/>
<path fill="url(#p223)" d="M34.1 49.9l9.2-3.6l11.5-3.1l4.7-2.6l2.3 2.5l2.3 1.5l4.6-5.3l2.3-2l2.3-1.5l16.1-5.5l13.9-5.3l1.7 1.4l-13.8 5.5l-11.6 3.8l-4.6 1.8l-2.3 1.5l-2.3 2.1l-4.6 5.1l-2.3 0.1l-2.3-3.7l-2.3 0.8l-2.3 1.5l-11.6 3.4l-9.2 3.8z"/>
<path fill="url(#p222)" d="M35.8 51.5l9.2-3.8l11.6-3.4l2.3-1.5l2.3-0.8l2.3 3.7l2.3-0.1l4.6-5.1l2.3-2.1l2.3-1.5l4.6-1.8l11.6-3.8l13.8-5.5l1.7 1.3l-13.8 5.8l-11.5 3.9l-4.6 1.9l-2.4 1.5l-2.3 2l-4.6 5.1l-2.3 1.5l-2.3-4.8l-2.3 0.4l-2.3 1.6l-2.3 0.9l-9.2 2.8l-9.3 4z"/>
<path fill="url(#p221)" d="M37.5 53.1l9.3-4l9.2-2.8l2.3-0.9l2.3-1.6l2.3-0.4l2.3 4.8l2.3-1.5l4.6-5.1l2.3-2l2.4-1.5l4.6-1.9l11.5-3.9l13.8-5.8l1.8 1.3l-16.2 7l-9.2 3.2l-4.6 1.9l-2.3 1.5l-2.3 2.1l-6.9 7.4l-2.4-5.4l-2.3 0l-2.3 1.5l-2.3 1l-6.9 2.1l-11.5 5.2z"/>
<path fill="url(#p220)" d="M39.3 54.7l11.5-5.2l6.9-2.1l2.3-1l2.3-1.5l2.3 0l2.4 5.4l6.9-7.4l2.3-2.1l2.3-1.5l4.6-1.9l9.2-3.2l16.2-7l1.7 1.3l-16.1 7.4l-9.3 3.3l-4.6 2l-2.3 1.5l-2.3 2l-6.9 7.6l-2.3-5.1l-2.3-0.6l-4.6 2.5l-7 2.2l-11.5 5.4z"/>
<path fill="url(#p219)" d="M41 56.1l11.5-5.4l7-2.2l4.6-2.5l2.3 0.6l2.3 5.1l6.9-7.6l2.3-2l2.3-1.5l4.6-2l9.3-3.3l16.1-7.4l1.7 1.2l-16.1 7.9l-9.2 3.4l-4.7 2l-2.3 1.5l-2.3 2l-6.9 7.6l-2.3-4.4l-2.3-1.4l-4.6 2.5l-6.9 2.3l-11.6 5.6z"/>
<path fill="url(#p218)" d="M42.7 57.5l11.6-5.6l6.9-2.3l4.6-2.5l2.3 1.4l2.3 4.4l6.9-7.6l2.3-2l2.3-1.5l4.7-2l9.2-3.4l16.1-7.9l1.8 1.3l-4.7 2.2l-11.5 6.1l-9.2 3.4l-4.6 2l-2.3 1.5l-2.3 2l-7 7.5l-2.3-3.1l-2.3-2.5l-4.6 2.3l-6.9 2.4l-11.5 5.7z"/>
<path fill="url(#p217)" d="M44.5 58.7l11.5-5.7l6.9-2.4l4.6-2.3l2.3 2.5l2.3 3.1l7-7.5l2.3-2l2.3-1.5l4.6-2l9.2-3.4l11.5-6.1l4.7-2.2l1.7 1.4l-4.6 2.2l-6.9 4.1l-4.7 2.3l-9.2 3.4l-4.6 2l-2.3 1.4l-2.3 2l-6.9 7.4l-2.3-1.5l-2.3-3.9l-2.3 0.7l-2.4 1.4l-6.9 2.5l-11.5 5.8z"/>
<path fill="url(#p216)" d="M46.2 59.8l11.5-5.8l6.9-2.5l2.4-1.4l2.3-0.7l2.3 3.9l2.3 1.5l6.9-7.4l2.3-2l2.3-1.4l4.6-2l9.2-3.4l4.7-2.3l6.9-4.1l4.6-2.2l1.7 1.5l-4.6 2.3l-6.9 4.1l-4.6 2.4l-9.3 3.2l-4.6 2l-2.3 1.4l-2.3 2l-6.9 7.3l-2.3 0.1l-2.3-5.3l-2.3 0.4l-2.3 1.5l-6.9 2.7l-11.6 5.7z"/>
<path fill="url(#p215)" d="M47.9 60.7l11.6-5.7l6.9-2.7l2.3-1.5l2.3-0.4l2.3 5.3l2.3-0.1l6.9-7.3l2.3-2l2.3-1.4l4.6-2l9.3-3.2l4.6-2.4l6.9-4.1l4.6-2.3l1.8 1.5l-4.7 2.3l-6.9 4.2l-4.6 2.3l-9.2 3.2l-4.6 1.9l-2.3 1.4l-2.4 1.9l-6.9 7.2l-2.3 1.5l-2.3-6.3l-2.3 0.1l-2.3 1.5l-6.9 2.9l-11.6 5.7z"/>
<path fill="url(#p214)" d="M49.6 61.6l11.6-5.7l6.9-2.9l2.3-1.5l2.3-0.1l2.3 6.3l2.3-1.5l6.9-7.2l2.4-1.9l2.3-1.4l4.6-1.9l9.2-3.2l4.6-2.3l6.9-4.2l4.7-2.3l1.7 1.6l-4.6 2.3l-9.3 5.4l-4.6 2l-9.2 3l-4.6 2.4l-2.3 1.7l-9.2 9.3l-2.4-6.4l-2.3-0.4l-4.6 2.8l-4.6 1.9l-11.5 5.6z"/>
<path fill="url(#p213)" d="M51.4 62.4l11.5-5.6l4.6-1.9l4.6-2.8l2.3 0.4l2.4 6.4l9.2-9.3l2.3-1.7l4.6-2.4l9.2-3l4.6-2l9.3-5.4l4.6-2.3l1.7 1.7l-4.6 2.3l-9.2 5.3l-4.6 1.9l-9.3 3l-4.6 2.2l-2.3 1.7l-2.3 2.1l-6.9 7.1l-2.3-5.7l-2.3-1l-4.6 2.9l-16.2 7.5z"/>
<path fill="url(#p212)" d="M53.1 63.2l16.2-7.5l4.6-2.9l2.3 1l2.3 5.7l6.9-7.1l2.3-2.1l2.3-1.7l4.6-2.2l9.3-3l4.6-1.9l9.2-5.3l4.6-2.3l1.7 1.8l-4.6 2.3l-9.2 5.1l-4.6 1.9l-9.2 3l-4.7 2l-2.3 1.5l-2.3 2l-6.9 7.1l-2.3-4.6l-2.3-1.9l-4.6 3.1l-16.2 7.4z"/>
<path fill="url(#p211)" d="M54.8 64l16.2-7.4l4.6-3.1l2.3 1.9l2.3 4.6l6.9-7.1l2.3-2l2.3-1.5l4.7-2l9.2-3l4.6-1.9l9.2-5.1l4.6-2.3l1.8 1.9l-16.2 8.3l-11.5 3.8l-4.6 1.8l-2.3 1.4l-2.3 1.8l-7 7l-4.6-6.1l-2.3 1.3l-2.3 1.9l-2.3 1.2l-13.8 6z"/>
<path fill="url(#p210)" d="M56.6 64.8l13.8-6l2.3-1.2l2.3-1.9l2.3-1.3l4.6 6.1l7-7l2.3-1.8l2.3-1.4l4.6-1.8l11.5-3.8l16.2-8.3l1.7 2l-16.1 8.2l-13.9 4.5l-4.6 2l-2.3 1.7l-6.9 6.9l-2.3-1l-2.3-4.7l-2.3 1.2l-2.4 2.1l-2.3 1.3l-13.8 5.7z"/>
<path fill="url(#p29)" d="M58.3 65.7l13.8-5.7l2.3-1.3l2.4-2.1l2.3-1.2l2.3 4.7l2.3 1l6.9-6.9l2.3-1.7l4.6-2l13.9-4.5l16.1-8.2l1.7 2l-16.1 8.1l-4.6 1.7l-11.6 3.4l-2.3 1.1l-2.3 1.5l-6.9 6.8l-2.3 0.8l-2.3-6l-2.3 1l-2.3 2.2l-2.3 1.4l-4.6 2l-9.3 3.4z"/>
<path fill="url(#p28)" d="M60 66.6l9.3-3.4l4.6-2l2.3-1.4l2.3-2.2l2.3-1l2.3 6l2.3-0.8l6.9-6.8l2.3-1.5l2.3-1.1l11.6-3.4l4.6-1.7l16.1-8.1l1.8 2.1l-13.9 6.9l-4.6 2l-16.1 4.9l-2.3 1.4l-2.4 2l-4.6 4.7l-2.3 2.1l-2.3-6.7l-2.3 0.6l-2.3 2.3l-2.3 1.6l-4.6 1.9l-9.2 3.1z"/>
<path fill="url(#p27)" d="M61.8 67.5l9.2-3.1l4.6-1.9l2.3-1.6l2.3-2.3l2.3-0.6l2.3 6.7l2.3-2.1l4.6-4.7l2.4-2l2.3-1.4l16.1-4.9l4.6-2l13.9-6.9l1.7 2.1l-18.5 8.6l-6.9 2.3l-9.2 2.4l-2.3 1.3l-2.3 2l-6.9 7.2l-2.4-6.3l-2.3 0.1l-2.3 2.2l-2.3 1.7l-4.6 1.8l-9.2 2.9z"/>
<path fill="url(#p26)" d="M63.5 68.4l9.2-2.9l4.6-1.8l2.3-1.7l2.3-2.2l2.3-0.1l2.4 6.3l6.9-7.2l2.3-2l2.3-1.3l9.2-2.4l6.9-2.3l18.5-8.6l1.7 2.1l-20.7 9.2l-4.7 1.5l-9.2 2.3l-2.3 1.2l-2.3 1.8l-6.9 7.5l-2.3-5.3l-2.3-0.9l-4.6 3.9l-4.7 1.8l-9.2 2.7z"/>
<path fill="url(#p25)" d="M65.2 69.4l9.2-2.7l4.7-1.8l4.6-3.9l2.3 0.9l2.3 5.3l6.9-7.5l2.3-1.8l2.3-1.2l9.2-2.3l4.7-1.5l20.7-9.2l1.8 2.2l-23.1 9.5l-11.5 3l-2.4 1.2l-2.3 1.8l-6.9 7.6l-2.3-3.8l-2.3-2.3l-4.6 3.8l-2.3 1.1l-11.6 3.3z"/>
<path fill="url(#p24)" d="M66.9 70.5l11.6-3.3l2.3-1.1l4.6-3.8l2.3 2.3l2.3 3.8l6.9-7.6l2.3-1.8l2.4-1.2l11.5-3l23.1-9.5l1.7 2.2l-23.1 8.9l-11.5 3.2l-2.3 1.1l-2.3 1.9l-7 7.8l-2.3-2.1l-2.3-4l-2.3 1.6l-2.3 2.1l-2.3 1.1l-11.5 3.3z"/>
<path fill="url(#p23)" d="M68.7 71.8l11.5-3.3l2.3-1.1l2.3-2.1l2.3-1.6l2.3 4l2.3 2.1l7-7.8l2.3-1.9l2.3-1.1l11.5-3.2l23.1-8.9l1.7 2.2l-13.8 4.7l-11.6 4.5l-9.2 2.5l-2.3 1.2l-2.3 1.8l-6.9 8l-2.3 0l-2.3-6l-2.3 1.2l-2.4 2.2l-2.3 1.2l-11.5 3.4z"/>
<path fill="url(#p22)" d="M70.4 73.2l11.5-3.4l2.3-1.2l2.4-2.2l2.3-1.2l2.3 6l2.3 0l6.9-8l2.3-1.8l2.3-1.2l9.2-2.5l11.6-4.5l13.8-4.7l1.7 2.1l-13.8 4.4l-11.5 4.4l-9.3 2.6l-2.3 1.2l-2.3 1.9l-6.9 8.4l-2.3 1.6l-2.3-7.7l-2.3 0.8l-2.3 2.2l-2.3 1.3l-11.6 3.5z"/>
<path fill="url(#p21)" d="M72.1 74.6l11.6-3.5l2.3-1.3l2.3-2.2l2.3-0.8l2.3 7.7l2.3-1.6l6.9-8.4l2.3-1.9l2.3-1.2l9.3-2.6l11.5-4.4l13.8-4.4l1.8 2.1l-13.9 4.1l-11.5 4.3l-9.2 2.8l-2.3 1.2l-2.3 2l-2.3 2.7l-4.7 6l-2.3 2.4l-2.3-8.5l-2.3 0.3l-2.3 2.1l-2.3 1.5l-11.5 3.6z"/>
<path fill="url(#p20)" d="M73.9 76l11.5-3.6l2.3-1.5l2.3-2.1l2.3-0.3l2.3 8.5l2.3-2.4l4.7-6l2.3-2.7l2.3-2l2.3-1.2l9.2-2.8l11.5-4.3l13.9-4.1l1.7 2l-13.8 3.9l-11.6 4.2l-9.2 2.8l-2.3 1.3l-2.3 2l-2.3 2.7l-4.6 6.2l-2.3 2.5l-2.3-7.8l-2.4-0.8l-4.6 3.7l-11.5 3.6z"/>
</g>

<rect x="157.6" y="12.9" width="6.8" height="112.7" fill="url(#jet)" stroke="#2a2a2a" stroke-width=".4"/>
<text class="c" x="166.3" y="127.3">32</text>
<text class="c" x="166.3" y="108.5">33</text>
<text class="c" x="166.3" y="89.7">34</text>
<text class="c" x="166.3" y="71.0">35</text>
<text class="c" x="166.3" y="52.2">36</text>
<text class="c" x="166.3" y="33.4">37</text>
<text class="c" x="166.3" y="14.6">38</text>
</g>
<g transform="translate(368.7 0)">
<text class="t" x="84.3" y="11.5">Transverse Crack</text>
<path d="M23.7 91.0 L92.9 66.0 L144.8 99.4 M23.7 81.0 L92.9 56.0 L144.8 89.4 M23.7 71.0 L92.9 46.0 L144.8 79.4 M23.7 61.0 L92.9 36.0 L144.8 69.4 M23.7 51.0 L92.9 26.0 L144.8 59.4 M23.7 41.0 L92.9 16.0 L144.8 49.4" fill="none" stroke="#d2d2d2" stroke-width=".9" stroke-dasharray="3.4 5.4"/>
<g transform="matrix(69.200 -25.000 -51.900 -33.400 75.60 125.60)">
<rect width="1" height="1" fill="#8b8b8b"/>

</g>
<polygon points="23.7,92.2 75.6,125.6 144.8,100.6 92.9,67.2" fill="#888" filter="url(#n)" opacity="0.13"/>
<path d="M23.7 92.5L75.6 125.9L144.8 100.9" fill="none" stroke="#0a0a0a" stroke-width="1.15" stroke-linejoin="miter"/>
<path d="M23.7 36.0 V92.2M23.7 91.0h-1.3M23.7 88.5h-1.3M23.7 86.0h-1.3M23.7 83.5h-1.3M23.7 81.0h-1.3M23.7 78.5h-1.3M23.7 76.0h-1.3M23.7 73.5h-1.3M23.7 71.0h-1.3M23.7 68.5h-1.3M23.7 66.0h-1.3M23.7 63.5h-1.3M23.7 61.0h-1.3M23.7 58.5h-1.3M23.7 56.0h-1.3M23.7 53.5h-1.3M23.7 51.0h-1.3M23.7 48.5h-1.3M23.7 46.0h-1.3M23.7 43.5h-1.3M23.7 41.0h-1.3M23.7 38.5h-1.3M23.7 36.0h-1.3M23.7 91.0h-2.2M23.7 81.0h-2.2M23.7 71.0h-2.2M23.7 61.0h-2.2M23.7 51.0h-2.2M23.7 41.0h-2.2" fill="none" stroke="#000" stroke-width=".9"/>
<text class="z" x="20.2" y="92.7">22</text>
<text class="z" x="20.2" y="82.7">24</text>
<text class="z" x="20.2" y="72.7">26</text>
<text class="z" x="20.2" y="62.7">28</text>
<text class="z" x="20.2" y="52.7">30</text>
<text class="z" x="20.2" y="42.7">32</text>
<text class="y" transform="translate(11.2 65) rotate(-90)">Temperature</text>
<g class="s">
<defs><linearGradient id="p329" gradientUnits="userSpaceOnUse" x1="24.6" x2="93.8"><stop offset="0" stop-color="#800"/><stop offset=".067" stop-color="#800"/><stop offset=".167" stop-color="#b00"/><stop offset=".267" stop-color="#c00"/><stop offset=".333" stop-color="#f10"/><stop offset=".633" stop-color="#f60"/><stop offset=".7" stop-color="#f40"/><stop offset=".767" stop-color="#f50"/><stop offset="1" stop-color="#fd0"/></linearGradient>
<linearGradient id="p328" gradientUnits="userSpaceOnUse" x1="26.3" x2="95.5"><stop offset="0" stop-color="#800"/><stop offset=".1" stop-color="#800"/><stop offset=".333" stop-color="#f10"/><stop offset=".633" stop-color="#f60"/><stop offset=".767" stop-color="#f50"/><stop offset="1" stop-color="#fd0"/></linearGradient>
<linearGradient id="p327" gradientUnits="userSpaceOnUse" x1="28" x2="97.2"><stop offset="0" stop-color="#800"/><stop offset=".1" stop-color="#800"/><stop offset=".333" stop-color="#f00"/><stop offset=".4" stop-color="#f20"/><stop offset=".633" stop-color="#f60"/><stop offset=".8" stop-color="#f70"/><stop offset="1" stop-color="#fe0"/></linearGradient>
<linearGradient id="p326" gradientUnits="userSpaceOnUse" x1="29.8" x2="99"><stop offset="0" stop-color="#800"/><stop offset=".1" stop-color="#800"/><stop offset=".333" stop-color="#f00"/><stop offset=".5" stop-color="#f50"/><stop offset=".833" stop-color="#f90"/><stop offset="1" stop-color="#fe0"/></linearGradient>
<linearGradient id="p325" gradientUnits="userSpaceOnUse" x1="31.5" x2="100.7"><stop offset="0" stop-color="#900"/><stop offset=".1" stop-color="#800"/><stop offset=".367" stop-color="#f00"/><stop offset=".5" stop-color="#f50"/><stop offset=".8" stop-color="#f90"/><stop offset="1" stop-color="#fe0"/></linearGradient>
<linearGradient id="p324" gradientUnits="userSpaceOnUse" x1="33.2" x2="102.4"><stop offset="0" stop-color="#900"/><stop offset=".2" stop-color="#a00"/><stop offset=".333" stop-color="#f00"/><stop offset=".5" stop-color="#f50"/><stop offset=".6" stop-color="#f50"/><stop offset="1" stop-color="#fe0"/></linearGradient>
<linearGradient id="p323" gradientUnits="userSpaceOnUse" x1="34.9" x2="104.1"><stop offset="0" stop-color="#800"/><stop offset=".167" stop-color="#900"/><stop offset=".333" stop-color="#f00"/><stop offset=".433" stop-color="#f30"/><stop offset=".8" stop-color="#f90"/><stop offset=".9" stop-color="#fc0"/><stop offset="1" stop-color="#fe0"/></linearGradient>
<linearGradient id="p322" gradientUnits="userSpaceOnUse" x1="36.7" x2="105.9"><stop offset="0" stop-color="#800"/><stop offset=".2" stop-color="#a00"/><stop offset=".367" stop-color="#f00"/><stop offset=".433" stop-color="#f30"/><stop offset=".767" stop-color="#f80"/><stop offset=".9" stop-color="#fc0"/><stop offset="1" stop-color="#fd0"/></linearGradient>
<linearGradient id="p321" gradientUnits="userSpaceOnUse" x1="38.4" x2="107.6"><stop offset="0" stop-color="#800"/><stop offset=".2" stop-color="#a00"/><stop offset=".367" stop-color="#f00"/><stop offset=".567" stop-color="#f50"/><stop offset=".767" stop-color="#f80"/><stop offset=".9" stop-color="#fc0"/><stop offset="1" stop-color="#fd0"/></linearGradient>
<linearGradient id="p320" gradientUnits="userSpaceOnUse" x1="40.1" x2="109.3"><stop offset="0" stop-color="#800"/><stop offset=".233" stop-color="#b00"/><stop offset=".367" stop-color="#f00"/><stop offset=".533" stop-color="#f40"/><stop offset=".6" stop-color="#f60"/><stop offset=".767" stop-color="#f90"/><stop offset=".9" stop-color="#fc0"/><stop offset="1" stop-color="#fd0"/></linearGradient>
<linearGradient id="p319" gradientUnits="userSpaceOnUse" x1="41.9" x2="111.1"><stop offset="0" stop-color="#a00"/><stop offset=".033" stop-color="#b00"/><stop offset=".1" stop-color="#900"/><stop offset=".2" stop-color="#a00"/><stop offset=".4" stop-color="#f00"/><stop offset=".867" stop-color="#fc0"/><stop offset="1" stop-color="#fe0"/></linearGradient>
<linearGradient id="p318" gradientUnits="userSpaceOnUse" x1="43.6" x2="112.8"><stop offset="0" stop-color="#f30"/><stop offset=".033" stop-color="#f30"/><stop offset=".067" stop-color="#f00"/><stop offset=".1" stop-color="#c00"/><stop offset=".167" stop-color="#a00"/><stop offset=".4" stop-color="#f00"/><stop offset=".667" stop-color="#f80"/><stop offset=".733" stop-color="#f90"/><stop offset=".867" stop-color="#fe0"/><stop offset=".933" stop-color="#fd0"/><stop offset="1" stop-color="#ff0"/></linearGradient>
<linearGradient id="p317" gradientUnits="userSpaceOnUse" x1="45.3" x2="114.5"><stop offset="0" stop-color="#bf4"/><stop offset=".033" stop-color="#cf3"/><stop offset=".067" stop-color="#fc0"/><stop offset=".1" stop-color="#f50"/><stop offset=".133" stop-color="#f10"/><stop offset=".167" stop-color="#e00"/><stop offset=".367" stop-color="#f00"/><stop offset=".6" stop-color="#f70"/><stop offset=".667" stop-color="#fa0"/><stop offset=".733" stop-color="#fa0"/><stop offset=".8" stop-color="#fd0"/><stop offset=".867" stop-color="#ff0"/><stop offset="1" stop-color="#ef1"/></linearGradient>
<linearGradient id="p316" gradientUnits="userSpaceOnUse" x1="47.1" x2="116.3"><stop offset="0" stop-color="#08f"/><stop offset=".033" stop-color="#0af"/><stop offset=".067" stop-color="#4fb"/><stop offset=".1" stop-color="#ef1"/><stop offset=".133" stop-color="#f70"/><stop offset=".167" stop-color="#f30"/><stop offset=".2" stop-color="#f10"/><stop offset=".267" stop-color="#f00"/><stop offset=".533" stop-color="#f60"/><stop offset=".8" stop-color="#fe0"/><stop offset="1" stop-color="#ff0"/></linearGradient>
<linearGradient id="p315" gradientUnits="userSpaceOnUse" x1="48.8" x2="118"><stop offset="0" stop-color="#00f"/><stop offset=".033" stop-color="#04f"/><stop offset=".067" stop-color="#0ef"/><stop offset=".1" stop-color="#bf4"/><stop offset=".133" stop-color="#fa0"/><stop offset=".167" stop-color="#f40"/><stop offset=".2" stop-color="#f20"/><stop offset=".267" stop-color="#f10"/><stop offset=".5" stop-color="#f50"/><stop offset=".567" stop-color="#f50"/><stop offset=".733" stop-color="#fb0"/><stop offset="1" stop-color="#fd0"/></linearGradient>
<linearGradient id="p314" gradientUnits="userSpaceOnUse" x1="50.5" x2="119.7"><stop offset="0" stop-color="#0af"/><stop offset=".033" stop-color="#0ef"/><stop offset=".067" stop-color="#8f7"/><stop offset=".1" stop-color="#fc0"/><stop offset=".133" stop-color="#f50"/><stop offset=".167" stop-color="#f10"/><stop offset=".2" stop-color="#f00"/><stop offset=".367" stop-color="#f00"/><stop offset=".5" stop-color="#f40"/><stop offset=".567" stop-color="#f40"/><stop offset=".633" stop-color="#f50"/><stop offset=".733" stop-color="#f90"/><stop offset=".867" stop-color="#f90"/><stop offset=".933" stop-color="#fb0"/><stop offset="1" stop-color="#fb0"/></linearGradient>
<linearGradient id="p313" gradientUnits="userSpaceOnUse" x1="52.2" x2="121.4"><stop offset="0" stop-color="#df2"/><stop offset=".033" stop-color="#fe0"/><stop offset=".1" stop-color="#f30"/><stop offset=".133" stop-color="#e00"/><stop offset=".167" stop-color="#d00"/><stop offset=".333" stop-color="#d00"/><stop offset=".4" stop-color="#f00"/><stop offset=".5" stop-color="#f30"/><stop offset=".6" stop-color="#f40"/><stop offset=".733" stop-color="#f80"/><stop offset=".833" stop-color="#f70"/><stop offset=".933" stop-color="#fa0"/><stop offset="1" stop-color="#fa0"/></linearGradient>
<linearGradient id="p312" gradientUnits="userSpaceOnUse" x1="54" x2="123.2"><stop offset="0" stop-color="#f30"/><stop offset=".067" stop-color="#e00"/><stop offset=".133" stop-color="#c00"/><stop offset=".233" stop-color="#d00"/><stop offset=".333" stop-color="#d00"/><stop offset=".4" stop-color="#f00"/><stop offset=".467" stop-color="#f30"/><stop offset=".733" stop-color="#f70"/><stop offset=".833" stop-color="#f70"/><stop offset=".933" stop-color="#fa0"/><stop offset="1" stop-color="#fa0"/></linearGradient>
<linearGradient id="p311" gradientUnits="userSpaceOnUse" x1="55.7" x2="124.9"><stop offset="0" stop-color="#d00"/><stop offset=".067" stop-color="#b00"/><stop offset=".2" stop-color="#e00"/><stop offset=".367" stop-color="#e00"/><stop offset=".467" stop-color="#f30"/><stop offset=".767" stop-color="#f80"/><stop offset="1" stop-color="#f90"/></linearGradient>
<linearGradient id="p310" gradientUnits="userSpaceOnUse" x1="57.4" x2="126.6"><stop offset="0" stop-color="#b00"/><stop offset=".067" stop-color="#b00"/><stop offset=".2" stop-color="#e00"/><stop offset=".367" stop-color="#f00"/><stop offset=".467" stop-color="#f30"/><stop offset=".767" stop-color="#f80"/><stop offset="1" stop-color="#f80"/></linearGradient>
<linearGradient id="p39" gradientUnits="userSpaceOnUse" x1="59.2" x2="128.4"><stop offset="0" stop-color="#a00"/><stop offset=".2" stop-color="#e00"/><stop offset=".3" stop-color="#f00"/><stop offset=".733" stop-color="#f70"/><stop offset="1" stop-color="#f70"/></linearGradient>
<linearGradient id="p38" gradientUnits="userSpaceOnUse" x1="60.9" x2="130.1"><stop offset="0" stop-color="#900"/><stop offset=".067" stop-color="#b00"/><stop offset=".133" stop-color="#b00"/><stop offset=".2" stop-color="#d00"/><stop offset=".367" stop-color="#f00"/><stop offset=".433" stop-color="#f30"/><stop offset=".633" stop-color="#f50"/><stop offset="1" stop-color="#f70"/></linearGradient>
<linearGradient id="p37" gradientUnits="userSpaceOnUse" x1="62.6" x2="131.8"><stop offset="0" stop-color="#900"/><stop offset=".2" stop-color="#d00"/><stop offset=".4" stop-color="#f10"/><stop offset=".567" stop-color="#f40"/><stop offset="1" stop-color="#f80"/></linearGradient>
<linearGradient id="p36" gradientUnits="userSpaceOnUse" x1="64.4" x2="133.6"><stop offset="0" stop-color="#a00"/><stop offset=".1" stop-color="#c00"/><stop offset=".4" stop-color="#f00"/><stop offset=".533" stop-color="#f40"/><stop offset=".8" stop-color="#f50"/><stop offset="1" stop-color="#f80"/></linearGradient>
<linearGradient id="p35" gradientUnits="userSpaceOnUse" x1="66.1" x2="135.3"><stop offset="0" stop-color="#a00"/><stop offset=".1" stop-color="#d00"/><stop offset=".367" stop-color="#f00"/><stop offset=".533" stop-color="#f40"/><stop offset=".8" stop-color="#f50"/><stop offset="1" stop-color="#fa0"/></linearGradient>
<linearGradient id="p34" gradientUnits="userSpaceOnUse" x1="67.8" x2="137"><stop offset="0" stop-color="#a00"/><stop offset=".2" stop-color="#e00"/><stop offset=".367" stop-color="#e00"/><stop offset=".533" stop-color="#f40"/><stop offset=".8" stop-color="#f60"/><stop offset="1" stop-color="#fc0"/></linearGradient>
<linearGradient id="p33" gradientUnits="userSpaceOnUse" x1="69.5" x2="138.7"><stop offset="0" stop-color="#b00"/><stop offset=".2" stop-color="#e00"/><stop offset=".367" stop-color="#f00"/><stop offset=".6" stop-color="#f60"/><stop offset=".733" stop-color="#f50"/><stop offset=".8" stop-color="#f70"/><stop offset=".867" stop-color="#f90"/><stop offset=".933" stop-color="#fb0"/><stop offset="1" stop-color="#fe0"/></linearGradient>
<linearGradient id="p32" gradientUnits="userSpaceOnUse" x1="71.3" x2="140.5"><stop offset="0" stop-color="#b00"/><stop offset=".2" stop-color="#e00"/><stop offset=".367" stop-color="#f00"/><stop offset=".5" stop-color="#f40"/><stop offset=".633" stop-color="#f60"/><stop offset=".733" stop-color="#f50"/><stop offset=".833" stop-color="#f90"/><stop offset=".9" stop-color="#fa0"/><stop offset="1" stop-color="#fe0"/></linearGradient>
<linearGradient id="p31" gradientUnits="userSpaceOnUse" x1="73" x2="142.2"><stop offset="0" stop-color="#b00"/><stop offset=".2" stop-color="#f00"/><stop offset=".367" stop-color="#f00"/><stop offset=".5" stop-color="#f50"/><stop offset=".733" stop-color="#f60"/><stop offset=".9" stop-color="#fa0"/><stop offset="1" stop-color="#fe0"/></linearGradient>
<linearGradient id="p30" gradientUnits="userSpaceOnUse" x1="74.7" x2="143.9"><stop offset="0" stop-color="#b00"/><stop offset=".067" stop-color="#d00"/><stop offset=".167" stop-color="#f00"/><stop offset=".333" stop-color="#f00"/><stop offset=".433" stop-color="#f30"/><stop offset=".5" stop-color="#f60"/><stop offset=".7" stop-color="#f50"/><stop offset=".8" stop-color="#f80"/><stop offset="1" stop-color="#ff0"/></linearGradient></defs>
<path fill="url(#p329)" d="M23.7 41l11.5-1.6l7-2.3l4.6-0.3l4.6-1.6l2.3-0.1l4.6-1.8l6.9-1.7l2.3-0.8l4.6-2.5l4.7-1.5l4.6-0.5l11.5-2.6l1.7 2.2l-16.1 2.8l-9.2 4l-4.7 1l-9.2 3l-6.9 1.9l-4.6 0.3l-6.9 2.1l-7 1l-4.6 1.7z"/>
<path fill="url(#p328)" d="M25.4 43.1l4.6-1.7l7-1l6.9-2.1l4.6-0.3l6.9-1.9l9.2-3l4.7-1l9.2-4l16.1-2.8l1.8 1.8l-16.2 3.1l-9.2 3.8l-4.6 1l-11.6 3.6l-4.6 1.1l-4.6 0.4l-6.9 1.8l-6.9 1.1l-4.6 2.4z"/>
<path fill="url(#p327)" d="M27.2 44.8l4.6-2.4l6.9-1.1l6.9-1.8l4.6-0.4l4.6-1.1l11.6-3.6l4.6-1l9.2-3.8l16.2-3.1l1.7 1.9l-11.5 2.1l-4.7 1.3l-6.9 2.8l-18.4 5.1l-6.9 1l-11.6 2.8l-4.6 0.5l-4.6 2.3z"/>
<path fill="url(#p326)" d="M28.9 45.7l4.6-2.3l4.6-0.5l11.6-2.8l6.9-1l18.4-5.1l6.9-2.8l4.7-1.3l11.5-2.1l1.7 1.7l-13.8 3.2l-20.8 6.6l-16.1 2.9l-9.3 2.5l-4.6 0.8l-4.6 2.1z"/>
<path fill="url(#p325)" d="M30.6 47l4.6-2.1l4.6-0.8l9.3-2.5l16.1-2.9l20.8-6.6l13.8-3.2l1.8 1.9l-25.4 6.4l-9.2 3.2l-4.7 0.5l-9.2 2.2l-6.9 1.1l-6.9 2.2l-6.9 2.8z"/>
<path fill="url(#p324)" d="M32.4 48.6l6.9-2.8l6.9-2.2l6.9-1.1l9.2-2.2l4.7-0.5l9.2-3.2l25.4-6.4l1.7 1.7l-2.3 0.9l-11.6 2.4l-6.9 2.1l-6.9 1.6l-4.6 1.6l-6.9 1.8l-7 1.5l-4.6 0.5l-4.6 0.9l-6.9 2.1l-4.6 2.2l-2.3 0.5z"/>
<path fill="url(#p323)" d="M34.1 49.4l2.3-0.5l4.6-2.2l6.9-2.1l4.6-0.9l4.6-0.5l7-1.5l6.9-1.8l4.6-1.6l6.9-1.6l6.9-2.1l11.6-2.4l2.3-0.9l1.7 1.3l-6.9 2.4l-6.9 1.1l-6.9 2.2l-16.2 4.3l-2.3 0.8l-9.2 1.4l-9.3 2.1l-11.5 4.1z"/>
<path fill="url(#p322)" d="M35.8 50.4l11.5-4.1l9.3-2.1l9.2-1.4l2.3-0.8l16.2-4.3l6.9-2.2l6.9-1.1l6.9-2.4l1.7 1.6l-6.9 2.4l-6.9 1.1l-6.9 1.8l-9.2 3.1l-2.4 0.4l-6.9 2l-6.9 1.1l-4.6 1.4l-4.6 0.8l-6.9 2.3l-4.7 0.9l-2.3 1z"/>
<path fill="url(#p321)" d="M37.5 51.3l2.3-1l4.7-0.9l6.9-2.3l4.6-0.8l4.6-1.4l6.9-1.1l6.9-2l2.4-0.4l9.2-3.1l6.9-1.8l6.9-1.1l6.9-2.4l1.8 1.7l-6.9 2.4l-4.7 1.2l-4.6 0.7l-6.9 1.8l-4.6 1.9l-4.6 0.6l-11.6 3l-9.2 1.9l-9.2 2.8l-6.9 1.4z"/>
<path fill="url(#p320)" d="M39.3 51.8l6.9-1.4l9.2-2.8l9.2-1.9l11.6-3l4.6-0.6l4.6-1.9l6.9-1.8l4.6-0.7l4.7-1.2l6.9-2.4l1.7 1.9l-9.2 3l-6.9 1.5l-11.6 3.2l-6.9 1.3l-9.2 2.3l-9.3 1.7l-13.8 4.6l-2.3 0.4z"/>
<path fill="url(#p319)" d="M41 53.4l2.3-0.4l13.8-4.6l9.3-1.7l9.2-2.3l6.9-1.3l11.6-3.2l6.9-1.5l9.2-3l1.7 2.2l-4.6 1l-4.6 1.9l-6.9 1.2l-20.8 5.2l-6.9 1.3l-13.8 3.3l-4.6 1.7l-4.7 3l-2.3 0.4z"/>
<path fill="url(#p318)" d="M42.7 56l2.3-0.4l4.7-3l4.6-1.7l13.8-3.3l6.9-1.3l20.8-5.2l6.9-1.2l4.6-1.9l4.6-1l1.8 2.2l-4.7 1l-2.3 1.3l-2.3 0.8l-9.2 1.3l-4.6 1.7l-4.6 0.5l-11.6 2.9l-2.3 0l-6.9 1.9l-4.6 1.7l-4.6 1.1l-2.3 1.1l-2.3 1.7l-4.6 4.7l-2.3 0.8z"/>
<path fill="url(#p317)" d="M44.5 61.1l2.3-0.8l4.6-4.7l2.3-1.7l2.3-1.1l4.6-1.1l4.6-1.7l6.9-1.9l2.3 0l11.6-2.9l4.6-0.5l4.6-1.7l9.2-1.3l2.3-0.8l2.3-1.3l4.7-1l1.7 1.8l-2.3 0.7l-4.6 1.9l-6.9 2.2l-4.7 0.5l-4.6 1.4l-4.6 0.5l-6.9 1.5l-4.6 1.4l-4.6 0.8l-4.6 1.4l-7 2.5l-2.3 1l-2.3 2l-2.3 3.1l-2.3 3.9l-2.3 3.2l-2.3 1.4z"/>
<path fill="url(#p316)" d="M46.2 69.2l2.3-1.4l2.3-3.2l2.3-3.9l2.3-3.1l2.3-2l2.3-1l7-2.5l4.6-1.4l4.6-0.8l4.6-1.4l6.9-1.5l4.6-0.5l4.6-1.4l4.7-0.5l6.9-2.2l4.6-1.9l2.3-0.7l1.7 1l-9.2 3.1l-4.6 2l-18.5 3.9l-6.9 2.2l-4.6 0.9l-2.3 1l-4.6 1.1l-4.6 2.1l-2.3 1.6l-2.4 2.9l-2.3 4.2l-2.3 4.9l-2.3 4.2l-2.3 2z"/>
<path fill="url(#p315)" d="M47.9 76.3l2.3-2l2.3-4.2l2.3-4.9l2.3-4.2l2.4-2.9l2.3-1.6l4.6-2.1l4.6-1.1l2.3-1l4.6-0.9l6.9-2.2l18.5-3.9l4.6-2l9.2-3.1l1.8 0.6l-4.7 1.9l-4.6 0.9l-4.6 2.1l-4.6 1.5l-4.6 0.6l-6.9 1.5l-4.7 2.1l-6.9 1.4l-9.2 2.9l-4.6 2.1l-2.3 1.6l-2.3 2.6l-2.3 3.9l-2.3 4.8l-2.3 4.3l-2.4 2.3z"/>
<path fill="url(#p314)" d="M49.6 76.7l2.4-2.3l2.3-4.3l2.3-4.8l2.3-3.9l2.3-2.6l2.3-1.6l4.6-2.1l9.2-2.9l6.9-1.4l4.7-2.1l6.9-1.5l4.6-0.6l4.6-1.5l4.6-2.1l4.6-0.9l4.7-1.9l1.7 1.1l-4.6 2l-4.6 0.6l-2.4 0.7l-2.3 1.2l-4.6 1.7l-9.2 2l-6.9 2.5l-6.9 1.2l-4.7 1.2l-4.6 2l-4.6 1.5l-2.3 1.1l-2.3 1.5l-2.3 2.7l-4.6 7.1l-2.3 2z"/>
<path fill="url(#p313)" d="M51.4 71.7l2.3-2l4.6-7.1l2.3-2.7l2.3-1.5l2.3-1.1l4.6-1.5l4.6-2l4.7-1.2l6.9-1.2l6.9-2.5l9.2-2l4.6-1.7l2.3-1.2l2.4-0.7l4.6-0.6l4.6-2l1.7 1.9l-4.6 1.8l-6.9 1.2l-6.9 2.9l-9.3 2.2l-6.9 2.2l-11.5 2.1l-4.6 2.1l-9.3 3.1l-2.3 1.3l-2.3 1.9l-2.3 2.4l-2.3 1.4z"/>
<path fill="url(#p312)" d="M53.1 66.6l2.3-1.4l2.3-2.4l2.3-1.9l2.3-1.3l9.3-3.1l4.6-2.1l11.5-2.1l6.9-2.2l9.3-2.2l6.9-2.9l6.9-1.2l4.6-1.8l1.7 1.3l-2.3 0.6l-4.6 1.9l-4.6 1.1l-6.9 2.7l-11.5 3l-7 2.2l-6.9 1.1l-11.5 4.2l-9.2 2.5l-4.7 2.6z"/>
<path fill="url(#p311)" d="M54.8 64.6l4.7-2.6l9.2-2.5l11.5-4.2l6.9-1.1l7-2.2l11.5-3l6.9-2.7l4.6-1.1l4.6-1.9l2.3-0.6l1.8 1.1l-2.3 0.8l-4.7 2.2l-4.6 1.4l-4.6 1.9l-6.9 1.7l-13.8 4.4l-7 1.2l-11.5 4.2l-9.2 2l-4.6 2.3z"/>
<path fill="url(#p310)" d="M56.6 65.3l4.6-2.3l9.2-2l11.5-4.2l7-1.2l13.8-4.4l6.9-1.7l4.6-1.9l4.6-1.4l4.7-2.2l2.3-0.8l1.7 1.4l-18.5 7.1l-6.9 1.7l-13.8 4.5l-4.6 0.9l-6.9 1.9l-4.7 2.1l-11.5 2.7l-2.3 1z"/>
<path fill="url(#p39)" d="M58.3 65.9l2.3-1l11.5-2.7l4.7-2.1l6.9-1.9l4.6-0.9l13.8-4.5l6.9-1.7l18.5-7.1l1.7 1.8l-13.8 4.8l-4.6 2l-11.6 3.6l-4.6 1.1l-4.6 1.8l-4.6 0.9l-6.9 1.9l-4.6 1.6l-4.6 0.9l-4.7 1.8l-4.6 0.9z"/>
<path fill="url(#p38)" d="M60 66.5l4.6-0.9l4.7-1.8l4.6-0.9l4.6-1.6l6.9-1.9l4.6-0.9l4.6-1.8l4.6-1.1l11.6-3.6l4.6-2l13.8-4.8l1.8 1.8l-7 2.5l-2.3 0.5l-9.2 3.5l-11.5 3.7l-9.3 2.6l-6.9 1.5l-9.2 3.1l-4.6 0.8l-4.6 1.9l-4.6 1z"/>
<path fill="url(#p37)" d="M61.8 67.5l4.6-1l4.6-1.9l4.6-0.8l9.2-3.1l6.9-1.5l9.3-2.6l11.5-3.7l9.2-3.5l2.3-0.5l7-2.5l1.7 1.7l-6.9 2.5l-2.3 0.3l-23.1 8l-13.8 3.3l-11.6 4.1l-11.5 3.1z"/>
<path fill="url(#p36)" d="M63.5 68.8l11.5-3.1l11.6-4.1l13.8-3.3l23.1-8l2.3-0.3l6.9-2.5l1.7 2.3l-13.8 3.7l-18.5 6.6l-4.6 0.8l-9.2 2.5l-6.9 2.4l-9.3 3.6l-6.9 1.2z"/>
<path fill="url(#p35)" d="M65.2 70l6.9-1.2l9.3-3.6l6.9-2.4l9.2-2.5l4.6-0.8l18.5-6.6l13.8-3.7l1.8 2.7l-13.9 2.7l-9.2 3.1l-9.2 3.6l-13.9 3.1l-16.1 6.1l-7 1.4z"/>
<path fill="url(#p34)" d="M66.9 71.3l7-1.4l16.1-6.1l13.9-3.1l9.2-3.6l9.2-3.1l13.9-2.7l1.7 2.6l-4.6 0.4l-4.6 1.4l-4.7 0.6l-4.6 1.3l-9.2 3.7l-9.2 2.4l-9.3 1.8l-9.2 3.7l-2.3 0.4l-11.5 3.6z"/>
<path fill="url(#p33)" d="M68.7 72.6l11.5-3.6l2.3-0.4l9.2-3.7l9.3-1.8l9.2-2.4l9.2-3.7l4.6-1.3l4.7-0.6l4.6-1.4l4.6-0.4l1.7 2.1l-2.3 0.4l-2.3 0l-2.3 0.3l-4.6 1.5l-2.3 0.2l-4.6 1l-9.3 3.6l-9.2 2.6l-4.6 0.6l-2.3 0.6l-11.6 4l-2.3 0.4l-11.5 3.8z"/>
<path fill="url(#p32)" d="M70.4 73.8l11.5-3.8l2.3-0.4l11.6-4l2.3-0.6l4.6-0.6l9.2-2.6l9.3-3.6l4.6-1l2.3-0.2l4.6-1.5l2.3-0.3l2.3 0l2.3-0.4l1.7 1.7l-6.9 0.9l-4.6 1.3l-2.3 0.1l-4.6 1l-6.9 2.8l-9.3 3.1l-4.6 1.1l-4.6 0.7l-4.6 1.7l-2.3 0.5l-4.6 2.1l-4.6 1.1l-4.6 1.6l-4.7 0.9z"/>
<path fill="url(#p31)" d="M72.1 74.8l4.7-0.9l4.6-1.6l4.6-1.1l4.6-2.1l2.3-0.5l4.6-1.7l4.6-0.7l4.6-1.1l9.3-3.1l6.9-2.8l4.6-1l2.3-0.1l4.6-1.3l6.9-0.9l1.8 1.8l-13.9 2.4l-4.6 1.2l-16.1 5.9l-11.6 2.2l-11.5 4.6l-11.5 2.6z"/>
<path fill="url(#p30)" d="M73.9 76l11.5-2.6l11.5-4.6l11.6-2.2l16.1-5.9l4.6-1.2l13.9-2.4l1.7 2l-4.6 0.5l-4.6 1.4l-4.6 0.5l-4.7 1.2l-2.3 0.2l-2.3 0.7l-4.6 2.3l-6.9 3l-4.6 0l-2.3 0.6l-11.6 3.5l-4.6 2.1l-4.6 1.5l-6.9 1.1z"/>
</g>

<rect x="157.6" y="12.9" width="6.8" height="112.7" fill="url(#jet)" stroke="#2a2a2a" stroke-width=".4"/>
<text class="c" x="166.3" y="127.3">27</text>
<text class="c" x="166.3" y="116.0">27.5</text>
<text class="c" x="166.3" y="104.8">28</text>
<text class="c" x="166.3" y="93.5">28.5</text>
<text class="c" x="166.3" y="82.2">29</text>
<text class="c" x="166.3" y="71.0">29.5</text>
<text class="c" x="166.3" y="59.7">30</text>
<text class="c" x="166.3" y="48.4">30.5</text>
<text class="c" x="166.3" y="37.1">31</text>
<text class="c" x="166.3" y="25.9">31.5</text>
<text class="c" x="166.3" y="14.6">32</text>
</g>
<g transform="translate(0 169.5)">
<text class="t" x="84.3" y="11.5">Joint</text>
<path d="M23.7 86.9 L92.9 61.9 L144.8 95.3 M23.7 69.7 L92.9 44.7 L144.8 78.1 M23.7 52.6 L92.9 27.6 L144.8 61.0 M23.7 35.4 L92.9 10.4 L144.8 43.8" fill="none" stroke="#d2d2d2" stroke-width=".9" stroke-dasharray="3.4 5.4"/>
<g transform="matrix(69.200 -25.000 -51.900 -33.400 75.60 125.60)">
<rect width="1" height="1" fill="#868686"/>
<path d="M0 .25L.77 .30L.77 .85" stroke="#3a3a3a" stroke-width=".05" fill="none" stroke-linejoin="miter" opacity=".85"/><rect x=".675" y=".125" width=".03" height=".014" fill="#ddd"/>
</g>
<polygon points="23.7,92.2 75.6,125.6 144.8,100.6 92.9,67.2" fill="#888" filter="url(#n)" opacity="0.22"/>
<path d="M23.7 92.5L75.6 125.9L144.8 100.9" fill="none" stroke="#0a0a0a" stroke-width="1.15" stroke-linejoin="miter"/>
<path d="M23.7 36.0 V92.2M23.7 90.3h-1.3M23.7 86.9h-1.3M23.7 83.5h-1.3M23.7 80.0h-1.3M23.7 76.6h-1.3M23.7 73.2h-1.3M23.7 69.7h-1.3M23.7 66.3h-1.3M23.7 62.9h-1.3M23.7 59.4h-1.3M23.7 56.0h-1.3M23.7 52.6h-1.3M23.7 49.2h-1.3M23.7 45.7h-1.3M23.7 42.3h-1.3M23.7 38.9h-1.3M23.7 86.9h-2.2M23.7 69.7h-2.2M23.7 52.6h-2.2M23.7 35.4h-2.2" fill="none" stroke="#000" stroke-width=".9"/>
<text class="z" x="20.2" y="88.6">30</text>
<text class="z" x="20.2" y="71.4">35</text>
<text class="z" x="20.2" y="54.3">40</text>
<text class="z" x="20.2" y="37.1">45</text>
<text class="y" transform="translate(11.2 65) rotate(-90)">Temperature</text>
<g class="s">
<defs><linearGradient id="p431" gradientUnits="userSpaceOnUse" x1="24.5" x2="93.7"><stop offset="0" stop-color="#f60"/><stop offset=".188" stop-color="#f70"/><stop offset=".594" stop-color="#f00"/><stop offset=".719" stop-color="#d00"/><stop offset=".75" stop-color="#f00"/><stop offset=".781" stop-color="#fb0"/><stop offset=".812" stop-color="#ff0"/><stop offset=".844" stop-color="#ef1"/><stop offset=".906" stop-color="#6f9"/><stop offset="1" stop-color="#6f9"/></linearGradient>
<linearGradient id="p430" gradientUnits="userSpaceOnUse" x1="26.1" x2="95.3"><stop offset="0" stop-color="#f70"/><stop offset=".188" stop-color="#f80"/><stop offset=".719" stop-color="#f10"/><stop offset=".75" stop-color="#f20"/><stop offset=".781" stop-color="#fc0"/><stop offset=".812" stop-color="#ef1"/><stop offset=".844" stop-color="#ef1"/><stop offset=".906" stop-color="#6f9"/><stop offset="1" stop-color="#6f9"/></linearGradient>
<linearGradient id="p429" gradientUnits="userSpaceOnUse" x1="27.8" x2="97"><stop offset="0" stop-color="#f90"/><stop offset=".219" stop-color="#fa0"/><stop offset=".719" stop-color="#f50"/><stop offset=".75" stop-color="#f50"/><stop offset=".781" stop-color="#fd0"/><stop offset=".812" stop-color="#ef1"/><stop offset=".844" stop-color="#ef1"/><stop offset=".906" stop-color="#6f9"/><stop offset="1" stop-color="#6f9"/></linearGradient>
<linearGradient id="p428" gradientUnits="userSpaceOnUse" x1="29.4" x2="98.6"><stop offset="0" stop-color="#fb0"/><stop offset=".25" stop-color="#fb0"/><stop offset=".719" stop-color="#f80"/><stop offset=".75" stop-color="#f90"/><stop offset=".781" stop-color="#fe0"/><stop offset=".844" stop-color="#ef1"/><stop offset=".906" stop-color="#7f8"/><stop offset="1" stop-color="#7f8"/></linearGradient>
<linearGradient id="p427" gradientUnits="userSpaceOnUse" x1="31" x2="100.2"><stop offset="0" stop-color="#fd0"/><stop offset=".5" stop-color="#fd0"/><stop offset=".719" stop-color="#fc0"/><stop offset=".75" stop-color="#fc0"/><stop offset=".781" stop-color="#ff0"/><stop offset=".844" stop-color="#ef1"/><stop offset=".906" stop-color="#8f7"/><stop offset="1" stop-color="#9f6"/></linearGradient>
<linearGradient id="p426" gradientUnits="userSpaceOnUse" x1="32.6" x2="101.8"><stop offset="0" stop-color="#fe0"/><stop offset=".5" stop-color="#ff0"/><stop offset=".75" stop-color="#fe0"/><stop offset=".844" stop-color="#ef1"/><stop offset=".906" stop-color="#af5"/><stop offset="1" stop-color="#bf4"/></linearGradient>
<linearGradient id="p425" gradientUnits="userSpaceOnUse" x1="34.2" x2="103.4"><stop offset="0" stop-color="#ff0"/><stop offset=".719" stop-color="#ff0"/><stop offset=".844" stop-color="#ef1"/><stop offset=".906" stop-color="#cf3"/><stop offset="1" stop-color="#df2"/></linearGradient>
<linearGradient id="p424" gradientUnits="userSpaceOnUse" x1="35.9" x2="105.1"><stop offset="0" stop-color="#ef1"/><stop offset=".656" stop-color="#ff0"/><stop offset=".906" stop-color="#df2"/><stop offset="1" stop-color="#ef1"/></linearGradient>
<linearGradient id="p423" gradientUnits="userSpaceOnUse" x1="37.5" x2="106.7"><stop offset="0" stop-color="#ef1"/><stop offset=".188" stop-color="#ff0"/><stop offset=".812" stop-color="#ef1"/><stop offset="1" stop-color="#ff0"/></linearGradient>
<linearGradient id="p422" gradientUnits="userSpaceOnUse" x1="39.1" x2="108.3"><stop offset="0" stop-color="#df2"/><stop offset=".188" stop-color="#ff0"/><stop offset=".781" stop-color="#ef1"/><stop offset="1" stop-color="#ff0"/></linearGradient>
<linearGradient id="p421" gradientUnits="userSpaceOnUse" x1="40.7" x2="109.9"><stop offset="0" stop-color="#df2"/><stop offset=".188" stop-color="#ff0"/><stop offset="1" stop-color="#ff0"/></linearGradient>
<linearGradient id="p420" gradientUnits="userSpaceOnUse" x1="42.4" x2="111.6"><stop offset="0" stop-color="#df2"/><stop offset=".188" stop-color="#ff0"/><stop offset=".438" stop-color="#fe0"/><stop offset=".812" stop-color="#ff0"/><stop offset=".875" stop-color="#fe0"/><stop offset=".906" stop-color="#ff0"/><stop offset="1" stop-color="#ef1"/></linearGradient>
<linearGradient id="p419" gradientUnits="userSpaceOnUse" x1="44" x2="113.2"><stop offset="0" stop-color="#df2"/><stop offset=".156" stop-color="#ff0"/><stop offset=".25" stop-color="#fe0"/><stop offset=".438" stop-color="#fd0"/><stop offset=".781" stop-color="#ff0"/><stop offset=".812" stop-color="#ff0"/><stop offset=".844" stop-color="#fc0"/><stop offset=".875" stop-color="#fc0"/><stop offset=".906" stop-color="#ff0"/><stop offset="1" stop-color="#ef1"/></linearGradient>
<linearGradient id="p418" gradientUnits="userSpaceOnUse" x1="45.6" x2="114.8"><stop offset="0" stop-color="#ef1"/><stop offset=".438" stop-color="#fd0"/><stop offset=".625" stop-color="#ff0"/><stop offset=".781" stop-color="#ff0"/><stop offset=".812" stop-color="#fe0"/><stop offset=".844" stop-color="#fb0"/><stop offset=".875" stop-color="#fb0"/><stop offset=".906" stop-color="#fe0"/><stop offset="1" stop-color="#df2"/></linearGradient>
<linearGradient id="p417" gradientUnits="userSpaceOnUse" x1="47.2" x2="116.4"><stop offset="0" stop-color="#ff0"/><stop offset=".438" stop-color="#fd0"/><stop offset=".625" stop-color="#ff0"/><stop offset=".75" stop-color="#ff0"/><stop offset=".812" stop-color="#fd0"/><stop offset=".844" stop-color="#fa0"/><stop offset=".875" stop-color="#fa0"/><stop offset=".906" stop-color="#fe0"/><stop offset=".938" stop-color="#ef1"/><stop offset="1" stop-color="#df2"/></linearGradient>
<linearGradient id="p416" gradientUnits="userSpaceOnUse" x1="48.8" x2="118"><stop offset="0" stop-color="#ff0"/><stop offset=".469" stop-color="#fd0"/><stop offset=".625" stop-color="#ff0"/><stop offset=".75" stop-color="#ff0"/><stop offset=".812" stop-color="#fd0"/><stop offset=".844" stop-color="#f90"/><stop offset=".875" stop-color="#f90"/><stop offset=".906" stop-color="#fd0"/><stop offset=".938" stop-color="#ef1"/><stop offset="1" stop-color="#df2"/></linearGradient>
<linearGradient id="p415" gradientUnits="userSpaceOnUse" x1="50.5" x2="119.7"><stop offset="0" stop-color="#fe0"/><stop offset=".5" stop-color="#fd0"/><stop offset=".656" stop-color="#ff0"/><stop offset=".75" stop-color="#ff0"/><stop offset=".812" stop-color="#fd0"/><stop offset=".844" stop-color="#f80"/><stop offset=".875" stop-color="#f80"/><stop offset=".906" stop-color="#fd0"/><stop offset=".938" stop-color="#ff0"/><stop offset="1" stop-color="#df2"/></linearGradient>
<linearGradient id="p414" gradientUnits="userSpaceOnUse" x1="52.1" x2="121.3"><stop offset="0" stop-color="#fd0"/><stop offset=".5" stop-color="#fd0"/><stop offset=".75" stop-color="#ff0"/><stop offset=".781" stop-color="#fe0"/><stop offset=".812" stop-color="#fc0"/><stop offset=".844" stop-color="#f80"/><stop offset=".875" stop-color="#f80"/><stop offset=".906" stop-color="#fd0"/><stop offset=".938" stop-color="#ff0"/><stop offset="1" stop-color="#ef1"/></linearGradient>
<linearGradient id="p413" gradientUnits="userSpaceOnUse" x1="53.7" x2="122.9"><stop offset="0" stop-color="#fd0"/><stop offset=".75" stop-color="#fe0"/><stop offset=".781" stop-color="#fe0"/><stop offset=".812" stop-color="#fc0"/><stop offset=".844" stop-color="#f70"/><stop offset=".875" stop-color="#f80"/><stop offset=".906" stop-color="#fd0"/><stop offset=".938" stop-color="#ff0"/><stop offset="1" stop-color="#ef1"/></linearGradient>
<linearGradient id="p412" gradientUnits="userSpaceOnUse" x1="55.3" x2="124.5"><stop offset="0" stop-color="#fd0"/><stop offset=".375" stop-color="#fe0"/><stop offset=".719" stop-color="#fd0"/><stop offset=".781" stop-color="#fd0"/><stop offset=".812" stop-color="#fb0"/><stop offset=".844" stop-color="#f60"/><stop offset=".875" stop-color="#f70"/><stop offset=".906" stop-color="#fd0"/><stop offset=".938" stop-color="#ff0"/><stop offset="1" stop-color="#ef1"/></linearGradient>
<linearGradient id="p411" gradientUnits="userSpaceOnUse" x1="56.9" x2="126.1"><stop offset="0" stop-color="#fc0"/><stop offset=".375" stop-color="#fd0"/><stop offset=".656" stop-color="#fb0"/><stop offset=".781" stop-color="#f80"/><stop offset=".812" stop-color="#f60"/><stop offset=".844" stop-color="#f00"/><stop offset=".875" stop-color="#f30"/><stop offset=".906" stop-color="#fd0"/><stop offset=".938" stop-color="#ff0"/><stop offset="1" stop-color="#ef1"/></linearGradient>
<linearGradient id="p410" gradientUnits="userSpaceOnUse" x1="58.6" x2="127.8"><stop offset="0" stop-color="#fc0"/><stop offset=".125" stop-color="#fc0"/><stop offset=".406" stop-color="#f90"/><stop offset=".594" stop-color="#f60"/><stop offset=".781" stop-color="#f10"/><stop offset=".812" stop-color="#d00"/><stop offset=".844" stop-color="#800"/><stop offset=".875" stop-color="#d00"/><stop offset=".906" stop-color="#fc0"/><stop offset=".938" stop-color="#ff0"/><stop offset="1" stop-color="#ff0"/></linearGradient>
<linearGradient id="p49" gradientUnits="userSpaceOnUse" x1="60.2" x2="129.4"><stop offset="0" stop-color="#f90"/><stop offset=".156" stop-color="#f80"/><stop offset=".531" stop-color="#f00"/><stop offset=".812" stop-color="#800"/><stop offset=".844" stop-color="#800"/><stop offset=".875" stop-color="#b00"/><stop offset=".906" stop-color="#fc0"/><stop offset=".938" stop-color="#fe0"/><stop offset="1" stop-color="#ff0"/></linearGradient>
<linearGradient id="p48" gradientUnits="userSpaceOnUse" x1="61.8" x2="131"><stop offset="0" stop-color="#f40"/><stop offset=".219" stop-color="#f00"/><stop offset=".344" stop-color="#c00"/><stop offset=".625" stop-color="#900"/><stop offset=".781" stop-color="#900"/><stop offset=".844" stop-color="#800"/><stop offset=".875" stop-color="#f10"/><stop offset=".906" stop-color="#fd0"/><stop offset="1" stop-color="#ff0"/></linearGradient>
<linearGradient id="p47" gradientUnits="userSpaceOnUse" x1="63.4" x2="132.6"><stop offset="0" stop-color="#d00"/><stop offset=".312" stop-color="#900"/><stop offset=".719" stop-color="#f00"/><stop offset=".844" stop-color="#f20"/><stop offset=".906" stop-color="#fe0"/><stop offset="1" stop-color="#fe0"/></linearGradient>
<linearGradient id="p46" gradientUnits="userSpaceOnUse" x1="65.1" x2="134.3"><stop offset="0" stop-color="#b00"/><stop offset=".281" stop-color="#d00"/><stop offset=".375" stop-color="#f00"/><stop offset=".531" stop-color="#f40"/><stop offset=".844" stop-color="#f90"/><stop offset=".906" stop-color="#fe0"/><stop offset="1" stop-color="#fe0"/></linearGradient>
<linearGradient id="p45" gradientUnits="userSpaceOnUse" x1="66.7" x2="135.9"><stop offset="0" stop-color="#f00"/><stop offset=".281" stop-color="#f50"/><stop offset=".5" stop-color="#fa0"/><stop offset=".719" stop-color="#fc0"/><stop offset=".844" stop-color="#fc0"/><stop offset="1" stop-color="#ff0"/></linearGradient>
<linearGradient id="p44" gradientUnits="userSpaceOnUse" x1="68.3" x2="137.5"><stop offset="0" stop-color="#f70"/><stop offset=".469" stop-color="#fd0"/><stop offset=".688" stop-color="#fe0"/><stop offset=".844" stop-color="#fd0"/><stop offset="1" stop-color="#ff0"/></linearGradient>
<linearGradient id="p43" gradientUnits="userSpaceOnUse" x1="69.9" x2="139.1"><stop offset="0" stop-color="#fc0"/><stop offset=".125" stop-color="#fc0"/><stop offset=".438" stop-color="#ff0"/><stop offset=".688" stop-color="#ef1"/><stop offset=".844" stop-color="#fd0"/><stop offset="1" stop-color="#ef1"/></linearGradient>
<linearGradient id="p42" gradientUnits="userSpaceOnUse" x1="71.5" x2="140.7"><stop offset="0" stop-color="#fe0"/><stop offset=".125" stop-color="#fd0"/><stop offset=".438" stop-color="#ff0"/><stop offset=".625" stop-color="#ff0"/><stop offset=".656" stop-color="#df2"/><stop offset=".688" stop-color="#9f6"/><stop offset=".719" stop-color="#fe0"/><stop offset=".812" stop-color="#fd0"/><stop offset="1" stop-color="#ef1"/></linearGradient>
<linearGradient id="p41" gradientUnits="userSpaceOnUse" x1="73.2" x2="142.4"><stop offset="0" stop-color="#ff0"/><stop offset=".125" stop-color="#fd0"/><stop offset=".281" stop-color="#ff0"/><stop offset=".625" stop-color="#ff0"/><stop offset=".656" stop-color="#af5"/><stop offset=".688" stop-color="#0ef"/><stop offset=".719" stop-color="#ff0"/><stop offset=".812" stop-color="#fd0"/><stop offset=".938" stop-color="#ff0"/><stop offset="1" stop-color="#ef1"/></linearGradient>
<linearGradient id="p40" gradientUnits="userSpaceOnUse" x1="74.8" x2="144"><stop offset="0" stop-color="#ff0"/><stop offset=".125" stop-color="#fd0"/><stop offset=".281" stop-color="#ff0"/><stop offset=".625" stop-color="#ff0"/><stop offset=".656" stop-color="#6f9"/><stop offset=".688" stop-color="#05f"/><stop offset=".719" stop-color="#ff0"/><stop offset=".75" stop-color="#fd0"/><stop offset=".812" stop-color="#fc0"/><stop offset=".938" stop-color="#ff0"/><stop offset="1" stop-color="#ef1"/></linearGradient></defs>
<path fill="url(#p431)" d="M23.7 47l13-3.3l10.8-4.7l10.8-4.2l15.1-6.6l2.2-0.5l2.2 3.1l2.1 0.7l2.2-0.6l2.2 1.4l2.1 1.9l2.2-0.5l4.3-1.8l1.6 1.7l-4.3 1.8l-2.2 0.5l-2.1-1.9l-2.2-1.4l-2.2 0.6l-2.1-0.6l-2.2-2.8l-2.1 0.5l-15.2 6.5l-21.6 8.7l-13 3.6z"/>
<path fill="url(#p430)" d="M25.3 48.5l13-3.6l21.6-8.7l15.2-6.5l2.1-0.5l2.2 2.8l2.1 0.6l2.2-0.6l2.2 1.4l2.1 1.9l2.2-0.5l4.3-1.8l1.6 1.7l-4.3 1.8l-2.1 0.5l-2.2-1.9l-2.2-1.3l-2.1 0.5l-2.2-0.4l-2.2-2.1l-2.1 0.6l-15.2 6.4l-19.4 7.6l-15.2 4.5z"/>
<path fill="url(#p429)" d="M26.9 50.3l15.2-4.5l19.4-7.6l15.2-6.4l2.1-0.6l2.2 2.1l2.2 0.4l2.1-0.5l2.2 1.3l2.2 1.9l2.1-0.5l4.3-1.8l1.7 1.3l-4.4 1.8l-2.1 0.5l-2.2-1.6l-2.1-1.2l-2.2 0.5l-2.2 0l-2.1-1.2l-2.2 0.5l-17.3 7.2l-19.5 7l-12.9 4z"/>
<path fill="url(#p428)" d="M28.6 52.3l12.9-4l19.5-7l17.3-7.2l2.2-0.5l2.1 1.2l2.2 0l2.2-0.5l2.1 1.2l2.2 1.6l2.1-0.5l4.4-1.8l1.6 0.8l-6.5 2.5l-4.3-2.1l-2.2 0.6l-2.1 0.2l-2.2-0.5l-2.2 0.6l-15.1 6.3l-34.6 11.6z"/>
<path fill="url(#p427)" d="M30.2 54.2l34.6-11.6l15.1-6.3l2.2-0.6l2.2 0.5l2.1-0.2l2.2-0.6l4.3 2.1l6.5-2.5l1.6 0.5l-6.5 2.7l-4.3-1.1l-2.2 0.6l-4.3 0.6l-2.2 0.5l-15.1 6.1l-10.8 3.4l-23.8 8.2z"/>
<path fill="url(#p426)" d="M31.8 55.9l23.8-8.2l10.8-3.4l15.1-6.1l2.2-0.5l4.3-0.6l2.2-0.6l4.3 1.1l6.5-2.7l1.6 0.4l-6.5 2.9l-4.3-0.1l-10.8 3l-10.8 4.5l-13 3.9l-17.3 6.5l-6.5 2.1z"/>
<path fill="url(#p425)" d="M33.4 57.5l6.5-2.1l17.3-6.5l13-3.9l10.8-4.5l10.8-3l4.3 0.1l6.5-2.9l1.7 0.7l-6.5 3l-4.4 0.8l-10.8 3.3l-10.8 4.2l-17.3 5.4l-13 5.3l-6.4 2.2z"/>
<path fill="url(#p424)" d="M35.1 59l6.4-2.2l13-5.3l17.3-5.4l10.8-4.2l10.8-3.3l4.4-0.8l6.5-3l1.6 0.9l-6.5 3l-6.5 2.3l-8.6 2.6l-10.9 4.1l-17.3 5.5l-4.3 1.7l-8.6 3.9l-6.5 2.3z"/>
<path fill="url(#p423)" d="M36.7 60.5l6.5-2.3l8.6-3.9l4.3-1.7l17.3-5.5l10.9-4.1l8.6-2.6l6.5-2.3l6.5-3l1.6 1.4l-15.1 6.3l-8.7 2.6l-28.1 9.6l-13 6.1l-4.3 1.5z"/>
<path fill="url(#p422)" d="M38.3 62l4.3-1.5l13-6.1l28.1-9.6l8.7-2.6l15.1-6.3l1.6 1.8l-8.6 3.1l-6.5 2.9l-23.8 7.6l-13 4.7l-4.3 1.9l-8.7 4.5l-4.3 1.6z"/>
<path fill="url(#p421)" d="M39.9 63.4l4.3-1.6l8.7-4.5l4.3-1.9l13-4.7l23.8-7.6l6.5-2.9l8.6-3.1l1.6 1.9l-4.3 1.6l-4.3 0.7l-2.2 0.8l-2.1 1.5l-2.2 0.9l-23.8 7.6l-13 4.8l-4.3 1.9l-8.6 4.6l-4.4 1.7z"/>
<path fill="url(#p420)" d="M41.5 64.5l4.4-1.7l8.6-4.6l4.3-1.9l13-4.8l23.8-7.6l2.2-0.9l2.1-1.5l2.2-0.8l4.3-0.7l4.3-1.6l1.7 2l-4.4 1.4l-2.1 0.2l-2.2-0.3l-2.1 0.8l-2.2 1.8l-2.2 1.1l-13 4.4l-10.8 3.2l-12.9 4.8l-4.4 1.9l-8.6 4.6l-4.3 1.7z"/>
<path fill="url(#p419)" d="M43.2 65.4l4.3-1.7l8.6-4.6l4.4-1.9l12.9-4.8l10.8-3.2l13-4.4l2.2-1.1l2.2-1.8l2.1-0.8l2.2 0.3l2.1-0.2l4.4-1.4l1.6 1.8l-4.3 1.3l-2.2 0l-2.2-0.8l-2.1 0.7l-2.2 2.2l-2.2 1.3l-10.8 3.8l-12.9 3.7l-10.9 4l-4.3 1.8l-10.8 5.5l-4.3 1.5z"/>
<path fill="url(#p418)" d="M44.8 66l4.3-1.5l10.8-5.5l4.3-1.8l10.9-4l12.9-3.7l10.8-3.8l2.2-1.3l2.2-2.2l2.1-0.7l2.2 0.8l2.2 0l4.3-1.3l1.6 1.8l-4.3 1.1l-2.2-0.2l-2.1-1.3l-2.2 0.7l-2.2 2.6l-2.1 1.5l-2.2 0.9l-8.6 3.1l-13 3.6l-13 4.8l-10.8 5.3l-6.5 2.3z"/>
<path fill="url(#p417)" d="M46.4 66.6l6.5-2.3l10.8-5.3l13-4.8l13-3.6l8.6-3.1l2.2-0.9l2.1-1.5l2.2-2.6l2.2-0.7l2.1 1.3l2.2 0.2l4.3-1.1l1.6 1.7l-4.3 0.9l-2.2-0.4l-2.1-1.7l-2.2 0.7l-2.1 3l-2.2 1.7l-2.2 0.9l-8.6 3.2l-10.8 2.8l-15.2 5.6l-10.8 5l-6.5 2.2z"/>
<path fill="url(#p416)" d="M48 67.2l6.5-2.2l10.8-5l15.2-5.6l10.8-2.8l8.6-3.2l2.2-0.9l2.2-1.7l2.1-3l2.2-0.7l2.1 1.7l2.2 0.4l4.3-0.9l1.7 1.6l-4.4 0.9l-2.1-0.6l-2.2-2l-2.2 0.7l-2.1 3.3l-2.2 1.8l-2.1 1l-6.5 2.5l-13 3.6l-17.3 6.4l-8.7 3.9l-6.5 2.1z"/>
<path fill="url(#p415)" d="M49.6 67.9l6.5-2.1l8.7-3.9l17.3-6.4l13-3.6l6.5-2.5l2.1-1l2.2-1.8l2.1-3.3l2.2-0.7l2.2 2l2.1 0.6l4.4-0.9l1.6 1.5l-4.4 0.9l-2.1-0.6l-2.2-2.2l-2.1 0.8l-2.2 3.4l-2.2 1.9l-2.1 1l-6.5 2.4l-10.8 3l-8.7 3.5l-10.8 3.7l-8.6 3.6l-6.5 2z"/>
<path fill="url(#p414)" d="M51.3 68.6l6.5-2l8.6-3.6l10.8-3.7l8.7-3.5l10.8-3l6.5-2.4l2.1-1l2.2-1.9l2.2-3.4l2.1-0.8l2.2 2.2l2.1 0.6l4.4-0.9l1.6 1.5l-4.3 1l-2.2-0.6l-2.2-2.2l-2.1 0.8l-2.2 3.5l-2.1 1.8l-2.2 1l-6.5 2.4l-10.8 3.1l-8.7 3.5l-10.8 3.6l-8.6 3.4l-6.5 1.9z"/>
<path fill="url(#p413)" d="M52.9 69.3l6.5-1.9l8.6-3.4l10.8-3.6l8.7-3.5l10.8-3.1l6.5-2.4l2.2-1l2.1-1.8l2.2-3.5l2.1-0.8l2.2 2.2l2.2 0.6l4.3-1l1.6 1.6l-4.3 1l-2.2-0.5l-2.1-2.3l-2.2 0.6l-2.2 3.5l-2.1 1.9l-2.2 0.9l-6.5 2.5l-10.8 3.3l-8.6 3.5l-8.7 2.8l-8.6 3.2l-8.7 2.6z"/>
<path fill="url(#p412)" d="M54.5 70.1l8.7-2.6l8.6-3.2l8.7-2.8l8.6-3.5l10.8-3.3l6.5-2.5l2.2-0.9l2.1-1.9l2.2-3.5l2.2-0.6l2.1 2.3l2.2 0.5l4.3-1l1.6 1.5l-4.3 1.1l-2.2-0.4l-2.1-3.2l-2.2 0.1l-2.1 3.7l-2.2 2l-4.3 2l-23.8 9l-8.7 2.9l-8.6 3.2l-8.7 2.6z"/>
<path fill="url(#p411)" d="M56.1 71l8.7-2.6l8.6-3.2l8.7-2.9l23.8-9l4.3-2l2.2-2l2.1-3.7l2.2-0.1l2.1 3.2l2.2 0.4l4.3-1.1l1.7 1.4l-4.4 1.3l-2.1-0.6l-2.2-5.1l-2.2-1.4l-2.1 4.1l-2.2 2.3l-8.6 4.8l-17.3 7.6l-19.5 7.5l-8.6 2.6z"/>
<path fill="url(#p410)" d="M57.8 71.9l8.6-2.6l19.5-7.5l17.3-7.6l8.6-4.8l2.2-2.3l2.1-4.1l2.2 1.4l2.2 5.1l2.1 0.6l4.4-1.3l1.6 1.4l-4.3 1.3l-2.2-0.8l-2.2-7.6l-2.1-3.4l-2.2 4.8l-2.2 2.5l-10.8 6.4l-12.9 6.8l-19.5 9l-10.8 3.8z"/>
<path fill="url(#p49)" d="M59.4 72.4l10.8-3.8l19.5-9l12.9-6.8l10.8-6.4l2.2-2.5l2.2-4.8l2.1 3.4l2.2 7.6l2.2 0.8l4.3-1.3l1.6 1.5l-4.3 1.2l-2.2-0.4l-2.1-6.9l-2.2-4.2l-2.2 3.5l-2.1 1.8l-32.5 15.7l-12.9 7.2l-8.7 3.6z"/>
<path fill="url(#p48)" d="M61 72l8.7-3.6l12.9-7.2l32.5-15.7l2.1-1.8l2.2-3.5l2.2 4.2l2.1 6.9l2.2 0.4l4.3-1.2l1.6 1.4l-6.5 1.8l-4.3-5.7l-15.1 4.5l-19.5 6.5l-4.3 1.9l-8.7 4.8l-10.8 5.2z"/>
<path fill="url(#p47)" d="M62.6 70.3l10.8-5.2l8.7-4.8l4.3-1.9l19.5-6.5l15.1-4.5l4.3 5.7l6.5-1.8l1.6 1.6l-6.4 1.9l-4.4-1.7l-6.5 1.8l-15.1 3.6l-15.1 2.7l-4.4 1.5l-17.3 6.9z"/>
<path fill="url(#p46)" d="M64.2 69l17.3-6.9l4.4-1.5l15.1-2.7l15.1-3.6l6.5-1.8l4.4 1.7l6.4-1.9l1.7 1.8l-6.5 1.8l-4.3 0.5l-8.7 3.1l-15.1 4.1l-15.2 2.4l-19.4 5.2z"/>
<path fill="url(#p45)" d="M65.9 70.6l19.4-5.2l15.2-2.4l15.1-4.1l8.7-3.1l4.3-0.5l6.5-1.8l1.6 1.8l-10.8 2.9l-8.7 3.5l-17.3 5.8l-10.8 2.3l-21.6 5.6z"/>
<path fill="url(#p44)" d="M67.5 74.8l21.6-5.6l10.8-2.3l17.3-5.8l8.7-3.5l10.8-2.9l1.6 1.9l-10.8 2.8l-10.8 4.7l-4.3 1.3l-10.8 4l-23.8 6.8l-8.7 3.2z"/>
<path fill="url(#p43)" d="M69.1 78.8l8.7-3.2l23.8-6.8l10.8-4l4.3-1.3l10.8-4.7l10.8-2.8l1.6 1.9l-10.8 2.5l-8.6 3.7l-2.2 2.3l-4.3 0.2l-13 4.9l-21.6 6.6l-8.7 3.7z"/>
<path fill="url(#p42)" d="M70.7 81.2l8.7-3.7l21.6-6.6l13-4.9l4.3-0.2l2.2-2.3l8.6-3.7l10.8-2.5l1.7 1.8l-10.9 2.2l-6.4 2.6l-2.2 1.4l-2.2 6.3l-2.1-2.7l-2.2-1.2l-13 4.9l-12.9 4.2l-8.7 2.5l-8.6 4z"/>
<path fill="url(#p41)" d="M72.4 82.7l8.6-4l8.7-2.5l12.9-4.2l13-4.9l2.2 1.2l2.1 2.7l2.2-6.3l2.2-1.4l6.4-2.6l10.9-2.2l1.6 1.7l-10.8 2l-2.2 0.6l-4.3 2l-2.2 1.8l-2.1 13.2l-2.2-7.3l-2.2-3.6l-23.8 8.4l-10.8 3.1l-8.6 4z"/>
<path fill="url(#p40)" d="M74 83.8l8.6-4l10.8-3.1l23.8-8.4l2.2 3.6l2.2 7.3l2.1-13.2l2.2-1.8l4.3-2l2.2-0.6l10.8-2l1.6 1.7l-4.3 0.9l-6.5 0.9l-2.2 0.6l-4.3 2.1l-2.2 2l-2.1 17.1l-2.2-9.9l-2.2-5l-25.9 9.1l-8.7 2.4l-8.6 4z"/>
</g>

<rect x="157.6" y="12.9" width="6.8" height="112.7" fill="url(#jet)" stroke="#2a2a2a" stroke-width=".4"/>
<text class="c" x="166.3" y="127.3">34</text>
<text class="c" x="166.3" y="116.0">35</text>
<text class="c" x="166.3" y="104.8">36</text>
<text class="c" x="166.3" y="93.5">37</text>
<text class="c" x="166.3" y="82.2">38</text>
<text class="c" x="166.3" y="71.0">39</text>
<text class="c" x="166.3" y="59.7">40</text>
<text class="c" x="166.3" y="48.4">41</text>
<text class="c" x="166.3" y="37.1">42</text>
<text class="c" x="166.3" y="25.9">43</text>
<text class="c" x="166.3" y="14.6">44</text>
</g>
<g transform="translate(184.3 169.5)">
<text class="t" x="84.3" y="11.5">Manholes</text>
<path d="M23.7 77.6 L92.9 52.6 L144.8 86.0 M23.7 62.5 L92.9 37.5 L144.8 70.9 M23.7 47.4 L92.9 22.4 L144.8 55.8" fill="none" stroke="#d2d2d2" stroke-width=".9" stroke-dasharray="3.4 5.4"/>
<g transform="matrix(69.200 -25.000 -51.900 -33.400 75.60 125.60)">
<rect width="1" height="1" fill="#868686"/>

</g>
<g clip-path="url(#bc)"><path d="M63 109C68 103 80 97 99 87.5C108 85 120 89 140 98L150 112L95 126L85 121.5C75 118.5 65 114 63 109Z" fill="#a0a0a0" fill-opacity=".22" stroke="#2c2c2c" stroke-width="1.1" stroke-opacity=".75"/><path d="M70 109.5C75 104 86 99 100 92C108 90 118 93 132 99" fill="none" stroke="#444" stroke-width="2.2" stroke-dasharray="1 1.1" opacity=".35"/><path d="M78 113C84 108 94 103 104 98C110 97 118 99 128 104" fill="none" stroke="#444" stroke-width="2.2" stroke-dasharray="1 1.1" opacity=".3"/><path d="M100 80L112 82.5L125 78" fill="none" stroke="#3a3a3a" stroke-width=".8" opacity=".6"/></g>
<polygon points="23.7,92.2 75.6,125.6 144.8,100.6 92.9,67.2" fill="#888" filter="url(#n)" opacity="0.2"/>
<path d="M23.7 92.5L75.6 125.9L144.8 100.9" fill="none" stroke="#0a0a0a" stroke-width="1.15" stroke-linejoin="miter"/>
<path d="M23.7 36.0 V92.2M23.7 89.7h-1.3M23.7 86.7h-1.3M23.7 83.7h-1.3M23.7 80.6h-1.3M23.7 77.6h-1.3M23.7 74.6h-1.3M23.7 71.6h-1.3M23.7 68.6h-1.3M23.7 65.5h-1.3M23.7 62.5h-1.3M23.7 59.5h-1.3M23.7 56.5h-1.3M23.7 53.5h-1.3M23.7 50.4h-1.3M23.7 47.4h-1.3M23.7 44.4h-1.3M23.7 41.4h-1.3M23.7 38.4h-1.3M23.7 77.6h-2.2M23.7 62.5h-2.2M23.7 47.4h-2.2" fill="none" stroke="#000" stroke-width=".9"/>
<text class="z" x="20.2" y="79.3">25</text>
<text class="z" x="20.2" y="64.2">30</text>
<text class="z" x="20.2" y="49.1">35</text>
<text class="y" transform="translate(11.2 65) rotate(-90)">Temperature</text>
<g class="s">
<defs><linearGradient id="p535" gradientUnits="userSpaceOnUse" x1="24.4" x2="93.6"><stop offset="0" stop-color="#c00"/><stop offset=".333" stop-color="#f00"/><stop offset=".528" stop-color="#f20"/><stop offset=".806" stop-color="#f20"/><stop offset="1" stop-color="#f70"/></linearGradient>
<linearGradient id="p534" gradientUnits="userSpaceOnUse" x1="25.9" x2="95.1"><stop offset="0" stop-color="#c00"/><stop offset=".278" stop-color="#f00"/><stop offset=".778" stop-color="#f10"/><stop offset="1" stop-color="#f70"/></linearGradient>
<linearGradient id="p533" gradientUnits="userSpaceOnUse" x1="27.3" x2="96.5"><stop offset="0" stop-color="#c00"/><stop offset=".111" stop-color="#c00"/><stop offset=".278" stop-color="#f00"/><stop offset=".778" stop-color="#f10"/><stop offset="1" stop-color="#f70"/></linearGradient>
<linearGradient id="p532" gradientUnits="userSpaceOnUse" x1="28.7" x2="97.9"><stop offset="0" stop-color="#c00"/><stop offset=".083" stop-color="#c00"/><stop offset=".278" stop-color="#f00"/><stop offset=".75" stop-color="#f10"/><stop offset="1" stop-color="#f70"/></linearGradient>
<linearGradient id="p531" gradientUnits="userSpaceOnUse" x1="30.2" x2="99.4"><stop offset="0" stop-color="#c00"/><stop offset=".306" stop-color="#f00"/><stop offset=".472" stop-color="#e00"/><stop offset=".667" stop-color="#f00"/><stop offset=".778" stop-color="#f10"/><stop offset="1" stop-color="#f70"/></linearGradient>
<linearGradient id="p530" gradientUnits="userSpaceOnUse" x1="31.6" x2="100.8"><stop offset="0" stop-color="#c00"/><stop offset=".306" stop-color="#f00"/><stop offset=".472" stop-color="#d00"/><stop offset=".694" stop-color="#f00"/><stop offset="1" stop-color="#f60"/></linearGradient>
<linearGradient id="p529" gradientUnits="userSpaceOnUse" x1="33.1" x2="102.3"><stop offset="0" stop-color="#c00"/><stop offset=".194" stop-color="#d00"/><stop offset=".306" stop-color="#f00"/><stop offset=".472" stop-color="#c00"/><stop offset=".75" stop-color="#f00"/><stop offset=".861" stop-color="#f40"/><stop offset="1" stop-color="#f60"/></linearGradient>
<linearGradient id="p528" gradientUnits="userSpaceOnUse" x1="34.5" x2="103.7"><stop offset="0" stop-color="#d00"/><stop offset=".194" stop-color="#d00"/><stop offset=".306" stop-color="#f00"/><stop offset=".5" stop-color="#c00"/><stop offset=".694" stop-color="#f00"/><stop offset=".75" stop-color="#f00"/><stop offset=".861" stop-color="#f40"/><stop offset="1" stop-color="#f60"/></linearGradient>
<linearGradient id="p527" gradientUnits="userSpaceOnUse" x1="36" x2="105.2"><stop offset="0" stop-color="#e00"/><stop offset=".222" stop-color="#e00"/><stop offset=".333" stop-color="#e00"/><stop offset=".5" stop-color="#b00"/><stop offset=".667" stop-color="#f00"/><stop offset=".778" stop-color="#f10"/><stop offset=".861" stop-color="#f30"/><stop offset="1" stop-color="#f50"/></linearGradient>
<linearGradient id="p526" gradientUnits="userSpaceOnUse" x1="37.4" x2="106.6"><stop offset="0" stop-color="#f00"/><stop offset=".222" stop-color="#e00"/><stop offset=".333" stop-color="#f00"/><stop offset=".5" stop-color="#c00"/><stop offset=".667" stop-color="#f00"/><stop offset="1" stop-color="#f50"/></linearGradient>
<linearGradient id="p525" gradientUnits="userSpaceOnUse" x1="38.8" x2="108"><stop offset="0" stop-color="#f10"/><stop offset=".333" stop-color="#f00"/><stop offset=".5" stop-color="#c00"/><stop offset=".639" stop-color="#f00"/><stop offset="1" stop-color="#f40"/></linearGradient>
<linearGradient id="p524" gradientUnits="userSpaceOnUse" x1="40.3" x2="109.5"><stop offset="0" stop-color="#f20"/><stop offset=".222" stop-color="#f00"/><stop offset=".361" stop-color="#f00"/><stop offset=".5" stop-color="#d00"/><stop offset=".583" stop-color="#f00"/><stop offset=".861" stop-color="#f20"/><stop offset="1" stop-color="#f60"/></linearGradient>
<linearGradient id="p523" gradientUnits="userSpaceOnUse" x1="41.7" x2="110.9"><stop offset="0" stop-color="#f30"/><stop offset=".222" stop-color="#f10"/><stop offset=".556" stop-color="#f00"/><stop offset=".639" stop-color="#f20"/><stop offset=".861" stop-color="#f20"/><stop offset="1" stop-color="#f80"/></linearGradient>
<linearGradient id="p522" gradientUnits="userSpaceOnUse" x1="43.2" x2="112.4"><stop offset="0" stop-color="#f40"/><stop offset=".528" stop-color="#f00"/><stop offset=".667" stop-color="#f30"/><stop offset=".833" stop-color="#f30"/><stop offset="1" stop-color="#fa0"/></linearGradient>
<linearGradient id="p521" gradientUnits="userSpaceOnUse" x1="44.6" x2="113.8"><stop offset="0" stop-color="#f40"/><stop offset=".528" stop-color="#f10"/><stop offset=".667" stop-color="#f30"/><stop offset=".806" stop-color="#f40"/><stop offset=".917" stop-color="#f90"/><stop offset="1" stop-color="#fa0"/></linearGradient>
<linearGradient id="p520" gradientUnits="userSpaceOnUse" x1="46" x2="115.2"><stop offset="0" stop-color="#f40"/><stop offset=".528" stop-color="#f10"/><stop offset=".778" stop-color="#f50"/><stop offset=".861" stop-color="#f90"/><stop offset=".917" stop-color="#fb0"/><stop offset="1" stop-color="#fa0"/></linearGradient>
<linearGradient id="p519" gradientUnits="userSpaceOnUse" x1="47.5" x2="116.7"><stop offset="0" stop-color="#f50"/><stop offset=".528" stop-color="#f20"/><stop offset=".667" stop-color="#f40"/><stop offset=".833" stop-color="#fb0"/><stop offset="1" stop-color="#f90"/></linearGradient>
<linearGradient id="p518" gradientUnits="userSpaceOnUse" x1="48.9" x2="118.1"><stop offset="0" stop-color="#f50"/><stop offset=".111" stop-color="#f40"/><stop offset=".389" stop-color="#f40"/><stop offset=".5" stop-color="#f30"/><stop offset=".639" stop-color="#f60"/><stop offset=".75" stop-color="#fb0"/><stop offset="1" stop-color="#f90"/></linearGradient>
<linearGradient id="p517" gradientUnits="userSpaceOnUse" x1="50.4" x2="119.6"><stop offset="0" stop-color="#f50"/><stop offset=".389" stop-color="#f50"/><stop offset=".472" stop-color="#f30"/><stop offset=".556" stop-color="#f40"/><stop offset=".694" stop-color="#fc0"/><stop offset=".722" stop-color="#fd0"/><stop offset=".806" stop-color="#f90"/><stop offset=".889" stop-color="#f80"/><stop offset="1" stop-color="#fa0"/></linearGradient>
<linearGradient id="p516" gradientUnits="userSpaceOnUse" x1="51.8" x2="121"><stop offset="0" stop-color="#f50"/><stop offset=".361" stop-color="#f50"/><stop offset=".472" stop-color="#f30"/><stop offset=".556" stop-color="#f70"/><stop offset=".639" stop-color="#fc0"/><stop offset=".667" stop-color="#fd0"/><stop offset=".806" stop-color="#f70"/><stop offset=".861" stop-color="#f70"/><stop offset=".917" stop-color="#f80"/><stop offset="1" stop-color="#fc0"/></linearGradient>
<linearGradient id="p515" gradientUnits="userSpaceOnUse" x1="53.3" x2="122.5"><stop offset="0" stop-color="#f50"/><stop offset=".444" stop-color="#f50"/><stop offset=".611" stop-color="#fc0"/><stop offset=".639" stop-color="#fc0"/><stop offset=".778" stop-color="#f60"/><stop offset=".833" stop-color="#f60"/><stop offset=".889" stop-color="#f70"/><stop offset="1" stop-color="#fe0"/></linearGradient>
<linearGradient id="p514" gradientUnits="userSpaceOnUse" x1="54.7" x2="123.9"><stop offset="0" stop-color="#f50"/><stop offset=".361" stop-color="#f60"/><stop offset=".417" stop-color="#f70"/><stop offset=".528" stop-color="#fc0"/><stop offset=".75" stop-color="#f50"/><stop offset=".806" stop-color="#f50"/><stop offset=".861" stop-color="#f70"/><stop offset=".972" stop-color="#ff0"/><stop offset="1" stop-color="#ef1"/></linearGradient>
<linearGradient id="p513" gradientUnits="userSpaceOnUse" x1="56.1" x2="125.3"><stop offset="0" stop-color="#f50"/><stop offset=".306" stop-color="#f60"/><stop offset=".361" stop-color="#f70"/><stop offset=".417" stop-color="#fb0"/><stop offset=".472" stop-color="#fd0"/><stop offset=".5" stop-color="#fc0"/><stop offset=".639" stop-color="#f60"/><stop offset=".75" stop-color="#f50"/><stop offset=".806" stop-color="#f60"/><stop offset=".972" stop-color="#ff0"/><stop offset="1" stop-color="#ef1"/></linearGradient>
<linearGradient id="p512" gradientUnits="userSpaceOnUse" x1="57.6" x2="126.8"><stop offset="0" stop-color="#f40"/><stop offset=".222" stop-color="#f50"/><stop offset=".278" stop-color="#f70"/><stop offset=".389" stop-color="#fe0"/><stop offset=".417" stop-color="#fe0"/><stop offset=".556" stop-color="#f60"/><stop offset=".667" stop-color="#f40"/><stop offset=".75" stop-color="#f60"/><stop offset=".944" stop-color="#fe0"/><stop offset="1" stop-color="#ef1"/></linearGradient>
<linearGradient id="p511" gradientUnits="userSpaceOnUse" x1="59" x2="128.2"><stop offset="0" stop-color="#f40"/><stop offset=".194" stop-color="#f50"/><stop offset=".222" stop-color="#f60"/><stop offset=".306" stop-color="#fd0"/><stop offset=".361" stop-color="#ff0"/><stop offset=".389" stop-color="#fe0"/><stop offset=".5" stop-color="#f50"/><stop offset=".611" stop-color="#f30"/><stop offset=".944" stop-color="#fe0"/><stop offset="1" stop-color="#ef1"/></linearGradient>
<linearGradient id="p510" gradientUnits="userSpaceOnUse" x1="60.5" x2="129.7"><stop offset="0" stop-color="#f50"/><stop offset=".167" stop-color="#f60"/><stop offset=".278" stop-color="#ff0"/><stop offset=".306" stop-color="#ef1"/><stop offset=".333" stop-color="#fe0"/><stop offset=".472" stop-color="#f40"/><stop offset=".556" stop-color="#f20"/><stop offset=".694" stop-color="#f70"/><stop offset=".861" stop-color="#fb0"/><stop offset=".944" stop-color="#fe0"/><stop offset="1" stop-color="#ef1"/></linearGradient>
<linearGradient id="p59" gradientUnits="userSpaceOnUse" x1="61.9" x2="131.1"><stop offset="0" stop-color="#f70"/><stop offset=".111" stop-color="#f80"/><stop offset=".222" stop-color="#fe0"/><stop offset=".278" stop-color="#ff0"/><stop offset=".361" stop-color="#f70"/><stop offset=".444" stop-color="#f30"/><stop offset=".5" stop-color="#f10"/><stop offset=".667" stop-color="#f80"/><stop offset=".861" stop-color="#fb0"/><stop offset=".972" stop-color="#ff0"/><stop offset="1" stop-color="#ef1"/></linearGradient>
<linearGradient id="p58" gradientUnits="userSpaceOnUse" x1="63.3" x2="132.5"><stop offset="0" stop-color="#ef1"/><stop offset=".083" stop-color="#fd0"/><stop offset=".167" stop-color="#df2"/><stop offset=".194" stop-color="#ef1"/><stop offset=".222" stop-color="#fe0"/><stop offset=".361" stop-color="#f30"/><stop offset=".444" stop-color="#f20"/><stop offset=".5" stop-color="#f30"/><stop offset=".667" stop-color="#fa0"/><stop offset=".833" stop-color="#fb0"/><stop offset="1" stop-color="#ff0"/></linearGradient>
<linearGradient id="p57" gradientUnits="userSpaceOnUse" x1="64.8" x2="134"><stop offset="0" stop-color="#0ff"/><stop offset=".028" stop-color="#1fe"/><stop offset=".083" stop-color="#5fa"/><stop offset=".139" stop-color="#6f9"/><stop offset=".194" stop-color="#fe0"/><stop offset=".222" stop-color="#fa0"/><stop offset=".25" stop-color="#f70"/><stop offset=".306" stop-color="#f30"/><stop offset=".361" stop-color="#f10"/><stop offset=".417" stop-color="#f20"/><stop offset=".667" stop-color="#fa0"/><stop offset=".806" stop-color="#fb0"/><stop offset="1" stop-color="#ff0"/></linearGradient>
<linearGradient id="p56" gradientUnits="userSpaceOnUse" x1="66.2" x2="135.4"><stop offset="0" stop-color="#04f"/><stop offset=".056" stop-color="#06f"/><stop offset=".111" stop-color="#0af"/><stop offset=".139" stop-color="#0ef"/><stop offset=".167" stop-color="#7f8"/><stop offset=".194" stop-color="#fd0"/><stop offset=".222" stop-color="#f60"/><stop offset=".25" stop-color="#f30"/><stop offset=".306" stop-color="#f10"/><stop offset=".556" stop-color="#f90"/><stop offset=".778" stop-color="#fb0"/><stop offset="1" stop-color="#fe0"/></linearGradient>
<linearGradient id="p55" gradientUnits="userSpaceOnUse" x1="67.7" x2="136.9"><stop offset="0" stop-color="#05f"/><stop offset=".083" stop-color="#01f"/><stop offset=".111" stop-color="#02f"/><stop offset=".139" stop-color="#05f"/><stop offset=".167" stop-color="#0ef"/><stop offset=".194" stop-color="#cf3"/><stop offset=".222" stop-color="#f70"/><stop offset=".25" stop-color="#f20"/><stop offset=".278" stop-color="#f10"/><stop offset=".472" stop-color="#f80"/><stop offset=".583" stop-color="#fa0"/><stop offset=".75" stop-color="#fa0"/><stop offset=".944" stop-color="#fe0"/><stop offset="1" stop-color="#fe0"/></linearGradient>
<linearGradient id="p54" gradientUnits="userSpaceOnUse" x1="69.1" x2="138.3"><stop offset="0" stop-color="#2fd"/><stop offset=".028" stop-color="#0ff"/><stop offset=".083" stop-color="#04f"/><stop offset=".111" stop-color="#00e"/><stop offset=".139" stop-color="#00b"/><stop offset=".167" stop-color="#03f"/><stop offset=".194" stop-color="#2fd"/><stop offset=".222" stop-color="#fd0"/><stop offset=".25" stop-color="#f50"/><stop offset=".278" stop-color="#f30"/><stop offset=".306" stop-color="#f30"/><stop offset=".389" stop-color="#f80"/><stop offset=".444" stop-color="#f90"/><stop offset=".583" stop-color="#fa0"/><stop offset=".722" stop-color="#f90"/><stop offset=".833" stop-color="#fc0"/><stop offset=".944" stop-color="#fe0"/><stop offset="1" stop-color="#fe0"/></linearGradient>
<linearGradient id="p53" gradientUnits="userSpaceOnUse" x1="70.6" x2="139.8"><stop offset="0" stop-color="#fe0"/><stop offset=".028" stop-color="#ef1"/><stop offset=".056" stop-color="#9f6"/><stop offset=".083" stop-color="#0ef"/><stop offset=".111" stop-color="#02f"/><stop offset=".139" stop-color="#008"/><stop offset=".167" stop-color="#008"/><stop offset=".194" stop-color="#04f"/><stop offset=".222" stop-color="#5fa"/><stop offset=".25" stop-color="#fc0"/><stop offset=".278" stop-color="#f70"/><stop offset=".306" stop-color="#f50"/><stop offset=".389" stop-color="#f90"/><stop offset=".444" stop-color="#f90"/><stop offset=".583" stop-color="#fa0"/><stop offset=".722" stop-color="#f80"/><stop offset=".861" stop-color="#fd0"/><stop offset=".944" stop-color="#ff0"/><stop offset="1" stop-color="#fe0"/></linearGradient>
<linearGradient id="p52" gradientUnits="userSpaceOnUse" x1="72" x2="141.2"><stop offset="0" stop-color="#f50"/><stop offset=".028" stop-color="#f70"/><stop offset=".056" stop-color="#fb0"/><stop offset=".083" stop-color="#af5"/><stop offset=".111" stop-color="#0af"/><stop offset=".139" stop-color="#009"/><stop offset=".167" stop-color="#008"/><stop offset=".194" stop-color="#008"/><stop offset=".222" stop-color="#09f"/><stop offset=".25" stop-color="#af5"/><stop offset=".278" stop-color="#fa0"/><stop offset=".306" stop-color="#f70"/><stop offset=".417" stop-color="#fa0"/><stop offset=".556" stop-color="#f90"/><stop offset=".694" stop-color="#f80"/><stop offset=".75" stop-color="#f90"/><stop offset=".889" stop-color="#ff0"/><stop offset="1" stop-color="#ff0"/></linearGradient>
<linearGradient id="p51" gradientUnits="userSpaceOnUse" x1="73.4" x2="142.6"><stop offset="0" stop-color="#f20"/><stop offset=".056" stop-color="#f60"/><stop offset=".083" stop-color="#fc0"/><stop offset=".111" stop-color="#3fc"/><stop offset=".139" stop-color="#00e"/><stop offset=".167" stop-color="#008"/><stop offset=".194" stop-color="#008"/><stop offset=".222" stop-color="#01f"/><stop offset=".25" stop-color="#4fb"/><stop offset=".278" stop-color="#fd0"/><stop offset=".306" stop-color="#f80"/><stop offset=".417" stop-color="#fa0"/><stop offset=".694" stop-color="#f70"/><stop offset=".75" stop-color="#f80"/><stop offset=".861" stop-color="#fe0"/><stop offset="1" stop-color="#ff0"/></linearGradient>
<linearGradient id="p50" gradientUnits="userSpaceOnUse" x1="74.9" x2="144.1"><stop offset="0" stop-color="#f10"/><stop offset=".056" stop-color="#f40"/><stop offset=".083" stop-color="#f80"/><stop offset=".111" stop-color="#8f7"/><stop offset=".139" stop-color="#04f"/><stop offset=".167" stop-color="#008"/><stop offset=".194" stop-color="#008"/><stop offset=".222" stop-color="#00d"/><stop offset=".25" stop-color="#2fd"/><stop offset=".278" stop-color="#fe0"/><stop offset=".306" stop-color="#f90"/><stop offset=".333" stop-color="#f80"/><stop offset=".389" stop-color="#fa0"/><stop offset=".694" stop-color="#f70"/><stop offset=".75" stop-color="#f80"/><stop offset=".861" stop-color="#ff0"/><stop offset="1" stop-color="#ff0"/></linearGradient></defs>
<path fill="url(#p535)" d="M23.7 43.1l11.5-4.2l13.5-3.8l5.8-2.1l5.7-1.4l7.7-2.5l5.8-2.8l5.7-1.8l3.9-0.7l3.8 0.3l5.8-0.9l1.4 1.4l-3.8 0.7l-5.8 0.2l-3.8 0.6l-7.7 2.5l-11.5 4.4l-5.8 1.5l-3.8 1.5l-15.4 4.4l-11.6 4.2z"/>
<path fill="url(#p534)" d="M25.1 44l11.6-4.2l15.4-4.4l3.8-1.5l5.8-1.5l11.5-4.4l7.7-2.5l3.8-0.6l5.8-0.2l3.8-0.7l1.5 1.5l-7.7 0.7l-7.7 1.3l-11.5 3.9l-3.9 1.6l-7.7 2.2l-11.5 4.2l-9.6 2.7l-9.6 3.4z"/>
<path fill="url(#p533)" d="M26.6 44.9l9.6-3.4l9.6-2.7l11.5-4.2l7.7-2.2l3.9-1.6l11.5-3.9l7.7-1.3l7.7-0.7l1.4 1.4l-5.7 0.5l-9.7 1.6l-11.5 3.7l-3.8 1.6l-7.7 2.1l-9.6 4l-13.5 3.6l-7.7 2.9z"/>
<path fill="url(#p532)" d="M28 45.7l7.7-2.9l13.5-3.6l9.6-4l7.7-2.1l3.8-1.6l11.5-3.7l9.7-1.6l5.7-0.5l1.5 1.3l-17.3 2.7l-13.5 4.4l-5.8 1.5l-11.5 4.9l-15.4 4.3l-5.7 2.2z"/>
<path fill="url(#p531)" d="M29.5 46.4l5.7-2.2l15.4-4.3l11.5-4.9l5.8-1.5l13.5-4.4l17.3-2.7l1.4 1.3l-9.6 2l-7.7 0.8l-7.7 2l-11.5 3.5l-5.8 2.8l-5.7 2.3l-7.7 2.2l-13.5 4.4z"/>
<path fill="url(#p530)" d="M30.9 47.1l13.5-4.4l7.7-2.2l5.7-2.3l5.8-2.8l11.5-3.5l7.7-2l7.7-0.8l9.6-2l1.5 1.5l-9.7 2.1l-5.7 0.1l-1.9 0.4l-3.9 1.2l-7.7 1.6l-7.7 2.4l-11.5 5.6l-7.7 2l-5.8 2.2l-7.6 2.5z"/>
<path fill="url(#p529)" d="M32.4 48.1l7.6-2.5l5.8-2.2l7.7-2l11.5-5.6l7.7-2.4l7.7-1.6l3.9-1.2l1.9-0.4l5.7-0.1l9.7-2.1l1.4 1.6l-9.6 1.9l-5.8 0.1l-5.8 1.7l-9.6 1.8l-5.7 1.8l-9.6 5.4l-2 0.8l-7.7 1.8l-13.4 5.1z"/>
<path fill="url(#p528)" d="M33.8 49.4l13.4-5.1l7.7-1.8l2-0.8l9.6-5.4l5.7-1.8l9.6-1.8l5.8-1.7l5.8-0.1l9.6-1.9l1.4 1.1l-11.5 2.4l-3.8 0.1l-5.8 1.8l-11.5 1.9l-5.8 2.3l-5.8 3.5l-3.8 1.8l-7.7 2l-13.5 5.4z"/>
<path fill="url(#p527)" d="M35.2 50.7l13.5-5.4l7.7-2l3.8-1.8l5.8-3.5l5.8-2.3l11.5-1.9l5.8-1.8l3.8-0.1l11.5-2.4l1.5 1l-9.6 2.5l-5.8 0.8l-5.8 1.7l-11.5 1.7l-5.8 2.3l-3.8 2.5l-3.9 1.9l-3.8 1.4l-3.8 1l-11.6 5.1l-3.8 1.3z"/>
<path fill="url(#p526)" d="M36.7 52.1l3.8-1.3l11.6-5.1l3.8-1l3.8-1.4l3.9-1.9l3.8-2.5l5.8-2.3l11.5-1.7l5.8-1.7l5.8-0.8l9.6-2.5l1.4 1.2l-5.7 1.7l-9.7 2.1l-5.7 1.7l-9.6 1.6l-3.9 1l-3.8 1.6l-5.8 3.4l-9.6 3.3l-11.5 5.4l-3.9 1.3z"/>
<path fill="url(#p525)" d="M38.1 53.6l3.9-1.3l11.5-5.4l9.6-3.3l5.8-3.4l3.8-1.6l3.9-1l9.6-1.6l5.7-1.7l9.7-2.1l5.7-1.7l1.5 1.8l-9.7 2l-13.4 4l-11.5 2.4l-3.9 1.4l-5.8 3.3l-9.6 3.4l-9.6 4.7l-5.7 2.2z"/>
<path fill="url(#p524)" d="M39.6 55.1l5.7-2.2l9.6-4.7l9.6-3.4l5.8-3.3l3.9-1.4l11.5-2.4l13.4-4l9.7-2l1.4 2.5l-3.8 0l-5.8 0.8l-15.4 5.3l-7.7 1.2l-5.7 2.2l-7.7 3.7l-7.7 2.7l-9.6 4.7l-5.8 2.2z"/>
<path fill="url(#p523)" d="M41 56.4l5.8-2.2l9.6-4.7l7.7-2.7l7.7-3.7l5.7-2.2l7.7-1.2l15.4-5.3l5.8-0.8l3.8 0l1.4 3.2l-5.7-0.8l-3.9 0.2l-3.8 1.1l-11.5 4.4l-7.7 1.1l-15.4 6.6l-5.8 2.1l-15.4 6.9z"/>
<path fill="url(#p522)" d="M42.4 57.8l15.4-6.9l5.8-2.1l15.4-6.6l7.7-1.1l11.5-4.4l3.8-1.1l3.9-0.2l5.7 0.8l1.5 2l-1.9 0.6l-2 0.1l-5.7-0.7l-3.9 0.4l-9.6 3.8l-9.6 1.8l-36.5 15.5z"/>
<path fill="url(#p521)" d="M43.9 59.1l36.5-15.5l9.6-1.8l9.6-3.8l3.9-0.4l5.7 0.7l2-0.1l1.9-0.6l1.4 1.3l-3.8 1.7l-1.9 0.6l-3.9 0.1l-3.8-0.5l-2 0.1l-7.6 2.6l-9.7 2l-15.3 6.8l-5.8 2.1l-11.5 5l-3.9 1.3z"/>
<path fill="url(#p520)" d="M45.3 60.1l3.9-1.3l11.5-5l5.8-2.1l15.3-6.8l9.7-2l7.6-2.6l2-0.1l3.8 0.5l3.9-0.1l1.9-0.6l3.8-1.7l1.5 1.4l-9.6 4l-2 0.4l-3.8-0.4l-1.9 0.1l-5.8 0.9l-9.6 2.1l-7.7 3.6l-3.8 1.3l-11.6 4.8l-5.7 1.9l-3.9 1.9l-3.8 1.5z"/>
<path fill="url(#p519)" d="M46.8 61.2l3.8-1.5l3.9-1.9l5.7-1.9l11.6-4.8l3.8-1.3l7.7-3.6l9.6-2.1l5.8-0.9l1.9-0.1l3.8 0.4l2-0.4l9.6-4l1.4 1.1l-1.9 1l-5.8 2.2l-3.8 2.1l-1.9 0.6l-3.9 0.8l-5.8-0.5l-9.6 1.8l-9.6 4.3l-3.8 1.2l-9.6 4.2l-5.8 1.5l-7.7 3.7z"/>
<path fill="url(#p518)" d="M48.2 62.5l7.7-3.7l5.8-1.5l9.6-4.2l3.8-1.2l9.6-4.3l9.6-1.8l5.8 0.5l3.9-0.8l1.9-0.6l3.8-2.1l5.8-2.2l1.9-1l1.5 1.5l-7.7 2.8l-5.8 2.8l-3.8 2.4l-2 0.7l-9.6-0.7l-5.8 1.1l-1.9 0.7l-5.7 2.9l-5.8 1.8l-7.7 3.5l-5.8 1.7l-7.7 3.4z"/>
<path fill="url(#p517)" d="M49.6 63.6l7.7-3.4l5.8-1.7l7.7-3.5l5.8-1.8l5.7-2.9l1.9-0.7l5.8-1.1l9.6 0.7l2-0.7l3.8-2.4l5.8-2.8l7.7-2.8l1.4 2.4l-3.9 0.1l-3.8 0.9l-5.8 2.9l-5.7 3.9l-2 1l-1.9 0.6l-1.9-0.1l-3.8-1.1l-2-0.1l-5.7 0.9l-7.7 3.9l-5.8 1.7l-7.7 3.5l-3.8 1.2l-7.7 3z"/>
<path fill="url(#p516)" d="M51.1 64.6l7.7-3l3.8-1.2l7.7-3.5l5.8-1.7l7.7-3.9l5.7-0.9l2 0.1l3.8 1.1l1.9 0.1l1.9-0.6l2-1l5.7-3.9l5.8-2.9l3.8-0.9l3.9-0.1l1.4 2.7l-7.7-0.5l-1.9 0.3l-1.9 0.7l-1.9 1.1l-9.6 6.4l-2 0.9l-1.9 0.3l-7.7-0.9l-1.9 0.1l-7.7 3.5l-5.7 1.9l-5.8 2.5l-9.6 3.1l-3.9 1.6z"/>
<path fill="url(#p515)" d="M52.5 65.4l3.9-1.6l9.6-3.1l5.8-2.5l5.7-1.9l7.7-3.5l1.9-0.1l7.7 0.9l1.9-0.3l2-0.9l9.6-6.4l1.9-1.1l1.9-0.7l1.9-0.3l7.7 0.5l1.5 2.3l-3.9 0.1l-5.7-0.8l-2 0l-1.9 0.5l-1.9 0.9l-9.6 6.4l-5.8 2.8l-1.9 0.2l-3.8-0.8l-3.9 0.6l-17.3 6.1l-3.8 1.6l-7.7 2.5z"/>
<path fill="url(#p514)" d="M54 66.2l7.7-2.5l3.8-1.6l17.3-6.1l3.9-0.6l3.8 0.8l1.9-0.2l5.8-2.8l9.6-6.4l1.9-0.9l1.9-0.5l2 0l5.7 0.8l3.9-0.1l1.4 1.9l-1.9 0.3l-5.8 0l-5.7-0.6l-2 0.2l-1.9 0.7l-7.7 4.5l-7.7 5.3l-1.9 0.8l-1.9 0.2l-5.8-0.3l-3.8 0.6l-11.5 3.9l-3.9 1.7l-7.7 2.3z"/>
<path fill="url(#p513)" d="M55.4 67l7.7-2.3l3.9-1.7l11.5-3.9l3.8-0.6l5.8 0.3l1.9-0.2l1.9-0.8l7.7-5.3l7.7-4.5l1.9-0.7l2-0.2l5.7 0.6l5.8 0l1.9-0.3l1.5 1.5l-9.7 1.2l-7.6-0.3l-3.9 0.7l-1.9 0.8l-5.8 3.6l-7.7 5.9l-1.9 1.2l-1.9 0.5l-5.8-0.9l-3.8 0.5l-5.8 1.6l-5.8 2.4l-7.6 2.2z"/>
<path fill="url(#p512)" d="M56.9 67.7l7.6-2.2l5.8-2.4l5.8-1.6l3.8-0.5l5.8 0.9l1.9-0.5l1.9-1.2l7.7-5.9l5.8-3.6l1.9-0.8l3.9-0.7l7.6 0.3l9.7-1.2l1.4 1.6l-5.8 0.6l-5.7 1.2l-3.9 0.2l-5.7-0.2l-3.9 0.5l-1.9 0.8l-5.8 3.6l-1.9 1.5l-5.8 5.7l-1.9 1.2l-1.9 0.3l-5.8-1.1l-3.8 0l-3.9 0.9l-5.7 2.2l-5.8 1.7z"/>
<path fill="url(#p511)" d="M58.3 68.4l5.8-1.7l5.7-2.2l3.9-0.9l3.8 0l5.8 1.1l1.9-0.3l1.9-1.2l5.8-5.7l1.9-1.5l5.8-3.6l1.9-0.8l3.9-0.5l5.7 0.2l3.9-0.2l5.7-1.2l5.8-0.6l1.4 1.5l-5.7 0.6l-9.6 2.1l-5.8 0.4l-5.8-0.2l-1.9 0.3l-1.9 0.7l-3.9 2.4l-1.9 1.6l-5.7 5.9l-2 1.6l-1.9 1.2l-1.9 0.6l-1.9-0.2l-3.9-1.4l-1.9-0.3l-1.9 0.2l-11.6 3.6z"/>
<path fill="url(#p510)" d="M59.7 69.3l11.6-3.6l1.9-0.2l1.9 0.3l3.9 1.4l1.9 0.2l1.9-0.6l1.9-1.2l2-1.6l5.7-5.9l1.9-1.6l3.9-2.4l1.9-0.7l1.9-0.3l5.8 0.2l5.8-0.4l9.6-2.1l5.7-0.6l1.5 1.4l-9.6 1.3l-11.6 3.1l-1.9 0.2l-7.7-0.7l-1.9 0.3l-1.9 0.7l-1.9 1.3l-7.7 7l-3.9 4.1l-1.9 1.3l-1.9 0.2l-3.9-1.3l-3.8-0.3l-3.9 0.8l-5.7 1.9z"/>
<path fill="url(#p59)" d="M61.2 70.9l5.7-1.9l3.9-0.8l3.8 0.3l3.9 1.3l1.9-0.2l1.9-1.3l3.9-4.1l7.7-7l1.9-1.3l1.9-0.7l1.9-0.3l7.7 0.7l1.9-0.2l11.6-3.1l9.6-1.3l1.4 1.4l-9.6 1.5l-13.4 4.2l-3.9 0.2l-7.7-0.7l-1.9 0.4l-3.8 2.4l-3.9 2.9l-1.9 1.8l-3.9 4.3l-1.9 1.6l-1.9 1l-1.9 0.5l-3.9 0l-1.9-0.5l-1.9 0.2l-5.8 2.7z"/>
<path fill="url(#p58)" d="M62.6 74.3l5.8-2.7l1.9-0.2l1.9 0.5l3.9 0l1.9-0.5l1.9-1l1.9-1.6l3.9-4.3l1.9-1.8l3.9-2.9l3.8-2.4l1.9-0.4l7.7 0.7l3.9-0.2l13.4-4.2l9.6-1.5l1.5 1.4l-11.6 2.3l-9.6 3.4l-3.8 0.9l-5.8 0.6l-5.8-0.4l-3.8 0.6l-1.9 0.7l-1.9 1.1l-3.9 3.2l-5.8 5.7l-3.8 4.5l-1.9 1.3l-3.9 0l-3.8 3.1l-1.9 1z"/>
<path fill="url(#p57)" d="M64.1 80.6l1.9-1l3.8-3.1l3.9 0l1.9-1.3l3.8-4.5l5.8-5.7l3.9-3.2l1.9-1.1l1.9-0.7l3.8-0.6l5.8 0.4l5.8-0.6l3.8-0.9l9.6-3.4l11.6-2.3l1.4 1.3l-5.8 1.6l-7.6 1.7l-9.7 3.2l-5.7 1.5l-7.7 0.8l-5.8-0.2l-1.9 0.2l-1.9 0.6l-3.9 2.5l-1.9 1.8l-1.9 2.4l-1.9 3.2l-2 4.1l-1.9 3.3l-1.9 1.9l-1.9 1.3l-3.9 3.8l-1.9 1.1z"/>
<path fill="url(#p56)" d="M65.5 88.1l1.9-1.1l3.9-3.8l1.9-1.3l1.9-1.9l1.9-3.3l2-4.1l1.9-3.2l1.9-2.4l1.9-1.8l3.9-2.5l1.9-0.6l1.9-0.2l5.8 0.2l7.7-0.8l5.7-1.5l9.7-3.2l7.6-1.7l5.8-1.6l1.5 1.2l-3.9 1.4l-13.5 3.3l-13.4 4.4l-5.8 1.3l-3.8 0.3l-5.8-0.7l-1.9 0.1l-1.9 0.7l-2 1.6l-1.9 3.1l-1.9 4.7l-1.9 5.4l-1.9 4.5l-2 3.1l-3.8 3.1l-3.9 1.5z"/>
<path fill="url(#p55)" d="M66.9 91.7l3.9-1.5l3.8-3.1l2-3.1l1.9-4.5l1.9-5.4l1.9-4.7l1.9-3.1l2-1.6l1.9-0.7l1.9-0.1l5.8 0.7l3.8-0.3l5.8-1.3l13.4-4.4l13.5-3.3l3.9-1.4l1.4 1.5l-3.9 1.5l-7.6 2.1l-7.7 1.4l-9.6 3.7l-9.7 2.8l-3.8 0.6l-1.9 0l-3.9-0.8l-1.9 0.2l-1.9 1.5l-1.9 3.9l-3.9 13.2l-1.9 4.3l-1.9 1.4l-1.9 0l-3.9-1.7l-1.9 0z"/>
<path fill="url(#p54)" d="M68.4 88.9l1.9 0l3.9 1.7l1.9 0l1.9-1.4l1.9-4.3l3.9-13.2l1.9-3.9l1.9-1.5l1.9-0.2l3.9 0.8l1.9 0l3.8-0.6l9.7-2.8l9.6-3.7l7.7-1.4l7.6-2.1l3.9-1.5l1.4 1.6l-3.8 1.6l-5.8 1.4l-9.6 1.6l-5.8 2.2l-3.8 1.9l-9.6 3.1l-5.8 1.2l-3.8-0.3l-1.9 0.8l-2 2.4l-1.9 5.2l-1.9 7.6l-1.9 6.5l-2 2.2l-1.9-1.8l-1.9-3.3l-1.9-2.9l-1.9-1.7l-2-0.3z"/>
<path fill="url(#p53)" d="M69.8 83.2l2 0.3l1.9 1.7l1.9 2.9l1.9 3.3l1.9 1.8l2-2.2l1.9-6.5l1.9-7.6l1.9-5.2l2-2.4l1.9-0.8l3.8 0.3l5.8-1.2l9.6-3.1l3.8-1.9l5.8-2.2l9.6-1.6l5.8-1.4l3.8-1.6l1.5 1.7l-3.9 1.6l-3.8 1.1l-3.9 0.7l-5.7 0.5l-3.9 1l-3.8 1.4l-5.8 2.8l-11.5 3.9l-3.9 0l-1.9 0.4l-1.9 1.9l-1.9 4.2l-1.9 6.8l-2 7.7l-1.9 4.7l-1.9-1.2l-3.9-10.3l-1.9-3.5l-1.9-1.6l-1.9-0.2z"/>
<path fill="url(#p52)" d="M71.3 78.8l1.9 0.2l1.9 1.6l1.9 3.5l3.9 10.3l1.9 1.2l1.9-4.7l2-7.7l1.9-6.8l1.9-4.2l1.9-1.9l1.9-0.4l3.9 0l11.5-3.9l5.8-2.8l3.8-1.4l3.9-1l5.7-0.5l3.9-0.7l3.8-1.1l3.9-1.6l1.4 1.7l-3.8 1.6l-5.8 1.6l-7.7 0.4l-3.8 0.7l-9.6 4.4l-5.8 2.1l-3.8 1.7l-2 0.6l-3.8 0.2l-1.9 0.6l-2 2.8l-1.9 5.7l-1.9 7.9l-1.9 7.1l-2 2l-1.9-3.9l-1.9-7l-1.9-5.6l-1.9-2.9l-2-1.2l-1.9-0.1z"/>
<path fill="url(#p51)" d="M72.7 76.7l1.9 0.1l2 1.2l1.9 2.9l1.9 5.6l1.9 7l1.9 3.9l2-2l1.9-7.1l1.9-7.9l1.9-5.7l2-2.8l1.9-0.6l3.8-0.2l2-0.6l3.8-1.7l5.8-2.1l9.6-4.4l3.8-0.7l7.7-0.4l5.8-1.6l3.8-1.6l1.5 1.6l-3.9 1.6l-5.8 1.6l-7.6 0.1l-3.9 0.7l-9.6 4.6l-3.8 1.2l-5.8 2.5l-1.9 0.8l-3.9 0.5l-1.9 0.9l-1.9 3.1l-1.9 6.3l-2 8.5l-1.9 6.4l-1.9 0.1l-1.9-5.9l-2-7.4l-1.9-5.2l-1.9-2.2l-1.9-0.7l-1.9 0z"/>
<path fill="url(#p50)" d="M74.2 76.5l1.9 0l1.9 0.7l1.9 2.2l1.9 5.2l2 7.4l1.9 5.9l1.9-0.1l1.9-6.4l2-8.5l1.9-6.3l1.9-3.1l1.9-0.9l3.9-0.5l1.9-0.8l5.8-2.5l3.8-1.2l9.6-4.6l3.9-0.7l7.6-0.1l5.8-1.6l3.9-1.6l1.4 1.6l-7.7 2.8l-1.9 0.4l-7.7-0.1l-3.8 0.9l-3.9 1.6l-5.8 2.9l-3.8 1.1l-7.7 3.3l-3.8 0.8l-2 1l-1.9 3.1l-1.9 6.5l-1.9 8.6l-1.9 6.2l-2-0.6l-1.9-6.6l-1.9-7.5l-1.9-4.8l-2-2l-1.9-0.5l-1.9 0.2z"/>
</g>

<rect x="157.6" y="12.9" width="6.8" height="112.7" fill="url(#jet)" stroke="#2a2a2a" stroke-width=".4"/>
<text class="c" x="166.3" y="127.3">26</text>
<text class="c" x="166.3" y="108.5">28</text>
<text class="c" x="166.3" y="89.7">30</text>
<text class="c" x="166.3" y="71.0">32</text>
<text class="c" x="166.3" y="52.2">34</text>
<text class="c" x="166.3" y="33.4">36</text>
<text class="c" x="166.3" y="14.6">38</text>
</g>
<g transform="translate(368.7 169.5)">
<text class="t" x="84.3" y="11.5">Potholes</text>
<path d="M23.7 85.6 L92.9 60.6 L144.8 94.0 M23.7 76.4 L92.9 51.4 L144.8 84.8 M23.7 67.2 L92.9 42.2 L144.8 75.6 M23.7 58.0 L92.9 33.0 L144.8 66.4 M23.7 48.8 L92.9 23.8 L144.8 57.2 M23.7 39.6 L92.9 14.6 L144.8 48.0" fill="none" stroke="#d2d2d2" stroke-width=".9" stroke-dasharray="3.4 5.4"/>
<g transform="matrix(69.200 -25.000 -51.900 -33.400 75.60 125.60)">
<rect width="1" height="1" fill="#8f8f8f"/>

</g>
<g clip-path="url(#bc)"><g fill="#222" filter="url(#b1)"><ellipse cx="82.5" cy="93.5" rx="4.5" ry="2.6" opacity=".3"/><ellipse cx="81" cy="96.5" rx="2" ry="3" opacity=".25"/><ellipse cx="84.5" cy="91.5" rx="2.5" ry="1.5" opacity=".3"/></g></g>
<polygon points="23.7,92.2 75.6,125.6 144.8,100.6 92.9,67.2" fill="#888" filter="url(#n)" opacity="0.33"/>
<path d="M23.7 92.5L75.6 125.9L144.8 100.9" fill="none" stroke="#0a0a0a" stroke-width="1.15" stroke-linejoin="miter"/>
<path d="M23.7 36.0 V92.2M23.7 90.2h-1.3M23.7 87.9h-1.3M23.7 85.6h-1.3M23.7 83.3h-1.3M23.7 81.0h-1.3M23.7 78.7h-1.3M23.7 76.4h-1.3M23.7 74.1h-1.3M23.7 71.8h-1.3M23.7 69.5h-1.3M23.7 67.2h-1.3M23.7 64.9h-1.3M23.7 62.6h-1.3M23.7 60.3h-1.3M23.7 58.0h-1.3M23.7 55.7h-1.3M23.7 53.4h-1.3M23.7 51.1h-1.3M23.7 48.8h-1.3M23.7 46.5h-1.3M23.7 44.2h-1.3M23.7 41.9h-1.3M23.7 39.6h-1.3M23.7 37.3h-1.3M23.7 85.6h-2.2M23.7 76.4h-2.2M23.7 67.2h-2.2M23.7 58.0h-2.2M23.7 48.8h-2.2M23.7 39.6h-2.2" fill="none" stroke="#000" stroke-width=".9"/>
<text class="z" x="20.2" y="87.3">32</text>
<text class="z" x="20.2" y="78.1">34</text>
<text class="z" x="20.2" y="68.9">36</text>
<text class="z" x="20.2" y="59.7">38</text>
<text class="z" x="20.2" y="50.5">40</text>
<text class="z" x="20.2" y="41.3">42</text>
<text class="y" transform="translate(11.2 65) rotate(-90)">Temperature</text>
<g class="s">
<defs><linearGradient id="p629" gradientUnits="userSpaceOnUse" x1="24.6" x2="93.8"><stop offset="0" stop-color="#f20"/><stop offset=".133" stop-color="#f50"/><stop offset=".4" stop-color="#f40"/><stop offset=".5" stop-color="#f80"/><stop offset=".533" stop-color="#f80"/><stop offset=".733" stop-color="#f70"/><stop offset=".867" stop-color="#f80"/><stop offset=".9" stop-color="#f80"/><stop offset="1" stop-color="#f10"/></linearGradient>
<linearGradient id="p628" gradientUnits="userSpaceOnUse" x1="26.3" x2="95.5"><stop offset="0" stop-color="#f40"/><stop offset=".133" stop-color="#f60"/><stop offset=".233" stop-color="#f40"/><stop offset=".3" stop-color="#f50"/><stop offset=".4" stop-color="#f40"/><stop offset=".5" stop-color="#f70"/><stop offset=".567" stop-color="#f60"/><stop offset=".667" stop-color="#f70"/><stop offset=".833" stop-color="#f70"/><stop offset=".9" stop-color="#f60"/><stop offset="1" stop-color="#f10"/></linearGradient>
<linearGradient id="p627" gradientUnits="userSpaceOnUse" x1="28" x2="97.2"><stop offset="0" stop-color="#f40"/><stop offset=".133" stop-color="#f60"/><stop offset=".233" stop-color="#f50"/><stop offset=".3" stop-color="#f60"/><stop offset=".367" stop-color="#f50"/><stop offset=".5" stop-color="#f60"/><stop offset=".567" stop-color="#f50"/><stop offset=".667" stop-color="#f70"/><stop offset=".767" stop-color="#f70"/><stop offset=".867" stop-color="#f60"/><stop offset="1" stop-color="#f10"/></linearGradient>
<linearGradient id="p626" gradientUnits="userSpaceOnUse" x1="29.8" x2="99"><stop offset="0" stop-color="#f50"/><stop offset=".3" stop-color="#f70"/><stop offset=".4" stop-color="#f50"/><stop offset=".5" stop-color="#f60"/><stop offset=".567" stop-color="#f50"/><stop offset=".667" stop-color="#f70"/><stop offset=".767" stop-color="#f80"/><stop offset="1" stop-color="#f10"/></linearGradient>
<linearGradient id="p625" gradientUnits="userSpaceOnUse" x1="31.5" x2="100.7"><stop offset="0" stop-color="#f50"/><stop offset=".067" stop-color="#f50"/><stop offset=".167" stop-color="#f70"/><stop offset=".267" stop-color="#f70"/><stop offset=".4" stop-color="#f50"/><stop offset=".5" stop-color="#f60"/><stop offset=".6" stop-color="#f50"/><stop offset=".733" stop-color="#f80"/><stop offset="1" stop-color="#f10"/></linearGradient>
<linearGradient id="p624" gradientUnits="userSpaceOnUse" x1="33.2" x2="102.4"><stop offset="0" stop-color="#f60"/><stop offset=".1" stop-color="#f60"/><stop offset=".2" stop-color="#f80"/><stop offset=".4" stop-color="#f50"/><stop offset=".5" stop-color="#f70"/><stop offset=".6" stop-color="#f50"/><stop offset=".733" stop-color="#f70"/><stop offset="1" stop-color="#f00"/></linearGradient>
<linearGradient id="p623" gradientUnits="userSpaceOnUse" x1="34.9" x2="104.1"><stop offset="0" stop-color="#f60"/><stop offset=".2" stop-color="#f80"/><stop offset=".367" stop-color="#f60"/><stop offset=".5" stop-color="#f80"/><stop offset=".633" stop-color="#f50"/><stop offset=".733" stop-color="#f70"/><stop offset=".8" stop-color="#f50"/><stop offset=".867" stop-color="#f20"/><stop offset="1" stop-color="#e00"/></linearGradient>
<linearGradient id="p622" gradientUnits="userSpaceOnUse" x1="36.7" x2="105.9"><stop offset="0" stop-color="#f70"/><stop offset=".2" stop-color="#f80"/><stop offset=".267" stop-color="#f60"/><stop offset=".367" stop-color="#f60"/><stop offset=".467" stop-color="#f90"/><stop offset=".5" stop-color="#f90"/><stop offset=".6" stop-color="#f50"/><stop offset=".767" stop-color="#f60"/><stop offset=".867" stop-color="#f10"/><stop offset="1" stop-color="#e00"/></linearGradient>
<linearGradient id="p621" gradientUnits="userSpaceOnUse" x1="38.4" x2="107.6"><stop offset="0" stop-color="#f70"/><stop offset=".2" stop-color="#f80"/><stop offset=".267" stop-color="#f60"/><stop offset=".367" stop-color="#f60"/><stop offset=".467" stop-color="#fa0"/><stop offset=".567" stop-color="#f70"/><stop offset=".667" stop-color="#f70"/><stop offset=".767" stop-color="#f40"/><stop offset=".867" stop-color="#f00"/><stop offset="1" stop-color="#d00"/></linearGradient>
<linearGradient id="p620" gradientUnits="userSpaceOnUse" x1="40.1" x2="109.3"><stop offset="0" stop-color="#f70"/><stop offset=".2" stop-color="#f80"/><stop offset=".367" stop-color="#f60"/><stop offset=".467" stop-color="#f90"/><stop offset=".567" stop-color="#f80"/><stop offset=".633" stop-color="#f90"/><stop offset=".667" stop-color="#f80"/><stop offset=".833" stop-color="#f00"/><stop offset="1" stop-color="#c00"/></linearGradient>
<linearGradient id="p619" gradientUnits="userSpaceOnUse" x1="41.9" x2="111.1"><stop offset="0" stop-color="#f80"/><stop offset=".1" stop-color="#f60"/><stop offset=".2" stop-color="#f70"/><stop offset=".367" stop-color="#f60"/><stop offset=".5" stop-color="#f90"/><stop offset=".633" stop-color="#f90"/><stop offset=".667" stop-color="#f80"/><stop offset=".8" stop-color="#f10"/><stop offset=".833" stop-color="#e00"/><stop offset="1" stop-color="#900"/></linearGradient>
<linearGradient id="p618" gradientUnits="userSpaceOnUse" x1="43.6" x2="112.8"><stop offset="0" stop-color="#f90"/><stop offset=".133" stop-color="#f60"/><stop offset=".4" stop-color="#f60"/><stop offset=".567" stop-color="#f90"/><stop offset=".667" stop-color="#f80"/><stop offset=".8" stop-color="#f10"/><stop offset=".867" stop-color="#c00"/><stop offset="1" stop-color="#800"/></linearGradient>
<linearGradient id="p617" gradientUnits="userSpaceOnUse" x1="45.3" x2="114.5"><stop offset="0" stop-color="#f90"/><stop offset=".133" stop-color="#f70"/><stop offset=".267" stop-color="#f50"/><stop offset=".467" stop-color="#f60"/><stop offset=".567" stop-color="#f80"/><stop offset=".7" stop-color="#f60"/><stop offset=".8" stop-color="#f00"/><stop offset=".867" stop-color="#b00"/><stop offset="1" stop-color="#900"/></linearGradient>
<linearGradient id="p616" gradientUnits="userSpaceOnUse" x1="47.1" x2="116.3"><stop offset="0" stop-color="#f90"/><stop offset=".067" stop-color="#f90"/><stop offset=".267" stop-color="#f40"/><stop offset=".367" stop-color="#f60"/><stop offset=".467" stop-color="#f50"/><stop offset=".567" stop-color="#f70"/><stop offset=".7" stop-color="#f50"/><stop offset=".767" stop-color="#f00"/><stop offset=".867" stop-color="#a00"/><stop offset="1" stop-color="#a00"/></linearGradient>
<linearGradient id="p615" gradientUnits="userSpaceOnUse" x1="48.8" x2="118"><stop offset="0" stop-color="#f80"/><stop offset=".067" stop-color="#f80"/><stop offset=".167" stop-color="#f70"/><stop offset=".267" stop-color="#f30"/><stop offset=".367" stop-color="#f50"/><stop offset=".5" stop-color="#f40"/><stop offset=".6" stop-color="#f50"/><stop offset=".667" stop-color="#f40"/><stop offset=".733" stop-color="#f10"/><stop offset=".767" stop-color="#e00"/><stop offset=".867" stop-color="#a00"/><stop offset="1" stop-color="#c00"/></linearGradient>
<linearGradient id="p614" gradientUnits="userSpaceOnUse" x1="50.5" x2="119.7"><stop offset="0" stop-color="#f80"/><stop offset=".167" stop-color="#f70"/><stop offset=".267" stop-color="#f20"/><stop offset=".367" stop-color="#f30"/><stop offset=".5" stop-color="#f10"/><stop offset=".6" stop-color="#f30"/><stop offset=".7" stop-color="#f20"/><stop offset=".733" stop-color="#f00"/><stop offset=".8" stop-color="#c00"/><stop offset=".867" stop-color="#b00"/><stop offset="1" stop-color="#c00"/></linearGradient>
<linearGradient id="p613" gradientUnits="userSpaceOnUse" x1="52.2" x2="121.4"><stop offset="0" stop-color="#f90"/><stop offset=".1" stop-color="#f60"/><stop offset=".167" stop-color="#f60"/><stop offset=".3" stop-color="#f00"/><stop offset=".367" stop-color="#f10"/><stop offset=".467" stop-color="#f00"/><stop offset=".7" stop-color="#f00"/><stop offset=".8" stop-color="#c00"/><stop offset="1" stop-color="#b00"/></linearGradient>
<linearGradient id="p612" gradientUnits="userSpaceOnUse" x1="54" x2="123.2"><stop offset="0" stop-color="#f90"/><stop offset=".1" stop-color="#f40"/><stop offset=".167" stop-color="#f40"/><stop offset=".267" stop-color="#f00"/><stop offset=".333" stop-color="#e00"/><stop offset=".4" stop-color="#f00"/><stop offset=".467" stop-color="#d00"/><stop offset=".667" stop-color="#e00"/><stop offset=".767" stop-color="#c00"/><stop offset=".933" stop-color="#b00"/><stop offset="1" stop-color="#900"/></linearGradient>
<linearGradient id="p611" gradientUnits="userSpaceOnUse" x1="55.7" x2="124.9"><stop offset="0" stop-color="#f80"/><stop offset=".1" stop-color="#f30"/><stop offset=".233" stop-color="#f00"/><stop offset=".333" stop-color="#d00"/><stop offset=".4" stop-color="#e00"/><stop offset=".467" stop-color="#d00"/><stop offset=".6" stop-color="#f00"/><stop offset=".733" stop-color="#b00"/><stop offset=".933" stop-color="#a00"/><stop offset="1" stop-color="#800"/></linearGradient>
<linearGradient id="p610" gradientUnits="userSpaceOnUse" x1="57.4" x2="126.6"><stop offset="0" stop-color="#f60"/><stop offset=".067" stop-color="#f30"/><stop offset=".167" stop-color="#f00"/><stop offset=".333" stop-color="#b00"/><stop offset=".6" stop-color="#e00"/><stop offset=".7" stop-color="#b00"/><stop offset=".933" stop-color="#900"/><stop offset="1" stop-color="#800"/></linearGradient>
<linearGradient id="p69" gradientUnits="userSpaceOnUse" x1="59.2" x2="128.4"><stop offset="0" stop-color="#f30"/><stop offset=".1" stop-color="#e00"/><stop offset=".333" stop-color="#900"/><stop offset=".367" stop-color="#900"/><stop offset=".5" stop-color="#d00"/><stop offset=".567" stop-color="#e00"/><stop offset=".733" stop-color="#a00"/><stop offset=".9" stop-color="#900"/><stop offset="1" stop-color="#800"/></linearGradient>
<linearGradient id="p68" gradientUnits="userSpaceOnUse" x1="60.9" x2="130.1"><stop offset="0" stop-color="#f00"/><stop offset=".133" stop-color="#c00"/><stop offset=".2" stop-color="#d00"/><stop offset=".3" stop-color="#800"/><stop offset=".333" stop-color="#800"/><stop offset=".4" stop-color="#900"/><stop offset=".467" stop-color="#c00"/><stop offset=".5" stop-color="#d00"/><stop offset=".633" stop-color="#c00"/><stop offset=".733" stop-color="#a00"/><stop offset="1" stop-color="#800"/></linearGradient>
<linearGradient id="p67" gradientUnits="userSpaceOnUse" x1="62.6" x2="131.8"><stop offset="0" stop-color="#c00"/><stop offset=".1" stop-color="#b00"/><stop offset=".2" stop-color="#c00"/><stop offset=".3" stop-color="#800"/><stop offset=".4" stop-color="#900"/><stop offset=".5" stop-color="#c00"/><stop offset="1" stop-color="#900"/></linearGradient>
<linearGradient id="p66" gradientUnits="userSpaceOnUse" x1="64.4" x2="133.6"><stop offset="0" stop-color="#c00"/><stop offset=".267" stop-color="#900"/><stop offset=".4" stop-color="#900"/><stop offset=".5" stop-color="#c00"/><stop offset=".567" stop-color="#b00"/><stop offset=".667" stop-color="#c00"/><stop offset="1" stop-color="#900"/></linearGradient>
<linearGradient id="p65" gradientUnits="userSpaceOnUse" x1="66.1" x2="135.3"><stop offset="0" stop-color="#c00"/><stop offset=".133" stop-color="#a00"/><stop offset=".267" stop-color="#900"/><stop offset=".667" stop-color="#c00"/><stop offset="1" stop-color="#800"/></linearGradient>
<linearGradient id="p64" gradientUnits="userSpaceOnUse" x1="67.8" x2="137"><stop offset="0" stop-color="#c00"/><stop offset=".167" stop-color="#900"/><stop offset=".433" stop-color="#a00"/><stop offset=".667" stop-color="#d00"/><stop offset=".933" stop-color="#800"/><stop offset="1" stop-color="#800"/></linearGradient>
<linearGradient id="p63" gradientUnits="userSpaceOnUse" x1="69.5" x2="138.7"><stop offset="0" stop-color="#b00"/><stop offset=".067" stop-color="#a00"/><stop offset=".2" stop-color="#a00"/><stop offset=".3" stop-color="#900"/><stop offset=".667" stop-color="#d00"/><stop offset=".933" stop-color="#800"/><stop offset="1" stop-color="#800"/></linearGradient>
<linearGradient id="p62" gradientUnits="userSpaceOnUse" x1="71.3" x2="140.5"><stop offset="0" stop-color="#b00"/><stop offset=".067" stop-color="#900"/><stop offset=".2" stop-color="#b00"/><stop offset=".3" stop-color="#800"/><stop offset=".5" stop-color="#c00"/><stop offset=".667" stop-color="#c00"/><stop offset=".9" stop-color="#800"/><stop offset="1" stop-color="#800"/></linearGradient>
<linearGradient id="p61" gradientUnits="userSpaceOnUse" x1="73" x2="142.2"><stop offset="0" stop-color="#b00"/><stop offset=".067" stop-color="#900"/><stop offset=".2" stop-color="#b00"/><stop offset=".3" stop-color="#800"/><stop offset=".5" stop-color="#b00"/><stop offset=".7" stop-color="#b00"/><stop offset=".9" stop-color="#800"/><stop offset="1" stop-color="#800"/></linearGradient>
<linearGradient id="p60" gradientUnits="userSpaceOnUse" x1="74.7" x2="143.9"><stop offset="0" stop-color="#b00"/><stop offset=".067" stop-color="#a00"/><stop offset=".133" stop-color="#c00"/><stop offset=".167" stop-color="#c00"/><stop offset=".3" stop-color="#800"/><stop offset=".367" stop-color="#800"/><stop offset=".533" stop-color="#a00"/><stop offset=".667" stop-color="#a00"/><stop offset=".733" stop-color="#b00"/><stop offset=".867" stop-color="#800"/><stop offset="1" stop-color="#800"/></linearGradient></defs>
<path fill="url(#p629)" d="M23.7 46.1l4.6-1l6.9-2.2l4.6-1.9l7-2.1l4.6-2.1l2.3-0.5l4.6 0.4l2.3-0.5l4.6-1.7l9.2-2.5l9.3-1.5l2.3-0.7l2.3-1.8l2.3-2.1l2.3-1.6l1.7 1.6l-6.9 5l-2.3 0.9l-9.2 1.6l-4.6 1.4l-7 1.5l-4.6 1.7l-6.9 0.8l-6.9 2.8l-4.6 1.3l-6.9 3.1l-9.3 2.4z"/>
<path fill="url(#p628)" d="M25.4 47.8l9.3-2.4l6.9-3.1l4.6-1.3l6.9-2.8l6.9-0.8l4.6-1.7l7-1.5l4.6-1.4l9.2-1.6l2.3-0.9l6.9-5l1.8 1.4l-7 4.5l-4.6 1.7l-11.5 2.8l-6.9 1l-4.6 1.9l-7 1.6l-2.3 0.8l-4.6 2.2l-4.6 1.1l-6.9 3.3l-9.2 2.4z"/>
<path fill="url(#p627)" d="M27.2 49.4l9.2-2.4l6.9-3.3l4.6-1.1l4.6-2.2l2.3-0.8l7-1.6l4.6-1.9l6.9-1l11.5-2.8l4.6-1.7l7-4.5l1.7 1.7l-6.9 3.7l-9.3 3.8l-6.9 1.5l-6.9 0.9l-4.6 1.9l-6.9 1.8l-2.3 1l-4.6 2.6l-4.7 0.9l-6.9 2.9l-9.2 2.5z"/>
<path fill="url(#p626)" d="M28.9 50.7l9.2-2.5l6.9-2.9l4.7-0.9l4.6-2.6l2.3-1l6.9-1.8l4.6-1.9l6.9-0.9l6.9-1.5l9.3-3.8l6.9-3.7l1.7 1.7l-16.1 7.6l-2.3 0.7l-9.3 1.1l-2.3 0.6l-4.6 1.8l-6.9 1.8l-2.3 1l-4.6 2.8l-9.2 2.8l-7 1.6l-4.6 1.8z"/>
<path fill="url(#p625)" d="M30.6 51.9l4.6-1.8l7-1.6l9.2-2.8l4.6-2.8l2.3-1l6.9-1.8l4.6-1.8l2.3-0.6l9.3-1.1l2.3-0.7l16.1-7.6l1.8 1.3l-16.2 7.6l-4.6 1.2l-6.9 0.8l-6.9 2.7l-4.7 0.9l-4.6 1.8l-4.6 2.5l-6.9 2.8l-9.2 2l-4.6 1.9z"/>
<path fill="url(#p624)" d="M32.4 53.2l4.6-1.9l9.2-2l6.9-2.8l4.6-2.5l4.6-1.8l4.7-0.9l6.9-2.7l6.9-0.8l4.6-1.2l16.2-7.6l1.7 0.8l-4.6 2.6l-4.6 1.8l-7 3.5l-2.3 0.8l-6.9 0.9l-2.3 0.7l-6.9 3.2l-4.6 1l-4.6 1.5l-11.6 5.3l-6.9 1.7l-6.9 2.5z"/>
<path fill="url(#p623)" d="M34.1 54.7l6.9-2.5l6.9-1.7l11.6-5.3l4.6-1.5l4.6-1l6.9-3.2l2.3-0.7l6.9-0.9l2.3-0.8l7-3.5l4.6-1.8l4.6-2.6l1.7 1l-4.6 2.4l-4.6 1.8l-6.9 3.9l-2.3 0.8l-7 1.2l-4.6 2l-4.6 2.7l-9.2 2.3l-6.9 2.6l-4.6 2.2l-13.9 4.7z"/>
<path fill="url(#p622)" d="M35.8 56.2l13.9-4.7l4.6-2.2l6.9-2.6l9.2-2.3l4.6-2.7l4.6-2l7-1.2l2.3-0.8l6.9-3.9l4.6-1.8l4.6-2.4l1.7 1.3l-9.2 3.7l-6.9 4.2l-13.8 4.9l-4.7 2.9l-2.3 1l-6.9 0.8l-6.9 2.4l-4.6 2.5l-4.6 1.5l-4.6 1.9l-4.7 1.3z"/>
<path fill="url(#p621)" d="M37.5 57.4l4.7-1.3l4.6-1.9l4.6-1.5l4.6-2.5l6.9-2.4l6.9-0.8l2.3-1l4.7-2.9l13.8-4.9l6.9-4.2l9.2-3.7l1.8 0.9l-4.6 2.1l-4.7 1.6l-9.2 5.3l-4.6 3l-2.3 0.9l-4.6 1.2l-6.9 3.5l-4.6 0.2l-2.4 0.4l-6.9 2.7l-4.6 2.3l-13.8 4.6z"/>
<path fill="url(#p620)" d="M39.3 58.4l13.8-4.6l4.6-2.3l6.9-2.7l2.4-0.4l4.6-0.2l6.9-3.5l4.6-1.2l2.3-0.9l4.6-3l9.2-5.3l4.7-1.6l4.6-2.1l1.7 0.2l-4.6 2.7l-4.6 1.8l-2.3 1.3l-7 4.3l-4.6 3.6l-2.3 1.1l-4.6 1.3l-6.9 2.6l-4.6 0.4l-2.3 0.6l-11.6 4.8l-6.9 2.1l-6.9 2.9z"/>
<path fill="url(#p619)" d="M41 59.7l6.9-2.9l6.9-2.1l11.6-4.8l2.3-0.6l4.6-0.4l6.9-2.6l4.6-1.3l2.3-1.1l4.6-3.6l7-4.3l2.3-1.3l4.6-1.8l4.6-2.7l1.7 0.5l-4.6 3l-4.6 2l-13.8 9.8l-2.3 1l-7 2.5l-6.9 1.3l-4.6 1.3l-6.9 2.8l-11.5 4.1l-7 3.6z"/>
<path fill="url(#p618)" d="M42.7 61.5l7-3.6l11.5-4.1l6.9-2.8l4.6-1.3l6.9-1.3l7-2.5l2.3-1l13.8-9.8l4.6-2l4.6-3l1.8 1.6l-9.3 4.7l-9.2 7l-4.6 2.7l-6.9 3.1l-2.3 0.7l-4.6 0.5l-2.4 0.6l-13.8 5l-6.9 2.7l-9.2 4.9z"/>
<path fill="url(#p617)" d="M44.5 63l9.2-4.9l6.9-2.7l13.8-5l2.4-0.6l4.6-0.5l2.3-0.7l6.9-3.1l4.6-2.7l9.2-7l9.3-4.7l1.7 2.2l-9.2 3.8l-4.6 3.1l-7 5.3l-9.2 4.3l-6.9 1.4l-6.9 2.7l-7 2l-4.6 2.3l-4.6 1.9l-6.9 3.6l-2.3 0.8z"/>
<path fill="url(#p616)" d="M46.2 63.9l2.3-0.8l6.9-3.6l4.6-1.9l4.6-2.3l7-2l6.9-2.7l6.9-1.4l9.2-4.3l7-5.3l4.6-3.1l9.2-3.8l1.7 2.2l-6.9 2l-4.6 2l-2.3 1.5l-6.9 5.4l-2.3 1.3l-7 2.9l-6.9 1.9l-6.9 3l-6.9 1.5l-4.6 2.9l-9.3 4.4l-4.6 1.3z"/>
<path fill="url(#p615)" d="M47.9 64.4l4.6-1.3l9.3-4.4l4.6-2.9l6.9-1.5l6.9-3l6.9-1.9l7-2.9l2.3-1.3l6.9-5.4l2.3-1.5l4.6-2l6.9-2l1.8 2.2l-7 1.6l-4.6 1.8l-2.3 1.2l-6.9 5l-2.3 1.4l-4.6 1.8l-7 1.9l-9.2 4.1l-4.6 0.8l-2.3 0.8l-4.6 3.3l-2.3 1.3l-6.9 3.1l-4.7 1.5z"/>
<path fill="url(#p614)" d="M49.6 65.5l4.7-1.5l6.9-3.1l2.3-1.3l4.6-3.3l2.3-0.8l4.6-0.8l9.2-4.1l7-1.9l4.6-1.8l2.3-1.4l6.9-5l2.3-1.2l4.6-1.8l7-1.6l1.7 1.6l-6.9 2.1l-7 2.6l-6.9 4.4l-2.3 1.1l-6.9 2.4l-4.6 1.2l-9.2 4.1l-4.7 1l-2.3 1l-4.6 3.6l-2.3 1.4l-4.6 1.9l-6.9 3.2z"/>
<path fill="url(#p613)" d="M51.4 66.9l6.9-3.2l4.6-1.9l2.3-1.4l4.6-3.6l2.3-1l4.7-1l9.2-4.1l4.6-1.2l6.9-2.4l2.3-1.1l6.9-4.4l7-2.6l6.9-2.1l1.7 0.9l-4.6 2.2l-9.2 3.4l-9.3 4.7l-6.9 2.4l-4.6 1.2l-6.9 3.1l-6.9 2.2l-9.3 6l-4.6 1.7l-6.9 4.2z"/>
<path fill="url(#p612)" d="M53.1 68.3l6.9-4.2l4.6-1.7l9.3-6l6.9-2.2l6.9-3.1l4.6-1.2l6.9-2.4l9.3-4.7l9.2-3.4l4.6-2.2l1.7 0.7l-4.6 2.7l-13.8 5.6l-6.9 3.6l-2.3 0.9l-9.3 2.5l-4.6 2.4l-4.6 1.3l-2.3 0.9l-9.2 5.3l-4.6 2l-7 4.8z"/>
<path fill="url(#p611)" d="M54.8 69.3l7-4.8l4.6-2l9.2-5.3l2.3-0.9l4.6-1.3l4.6-2.4l9.3-2.5l2.3-0.9l6.9-3.6l13.8-5.6l4.6-2.7l1.8 1.1l-4.6 2.8l-4.7 1.8l-4.6 2.2l-6.9 2.5l-6.9 4l-9.2 2.4l-11.6 4.3l-6.9 3.3l-6.9 3.8l-2.3 1.4l-4.6 3.5z"/>
<path fill="url(#p610)" d="M56.6 69.8l4.6-3.5l2.3-1.4l6.9-3.8l6.9-3.3l11.6-4.3l9.2-2.4l6.9-4l6.9-2.5l4.6-2.2l4.7-1.8l4.6-2.8l1.7 1.6l-4.6 2.7l-9.2 3.8l-4.7 1.5l-2.3 1.1l-6.9 4.1l-2.3 1l-4.6 1.3l-9.2 1.8l-2.3 0.8l-11.6 5.8l-6.9 3.9l-4.6 3.2z"/>
<path fill="url(#p69)" d="M58.3 69.8l4.6-3.2l6.9-3.9l11.6-5.8l2.3-0.8l9.2-1.8l4.6-1.3l2.3-1l6.9-4.1l2.3-1.1l4.7-1.5l9.2-3.8l4.6-2.7l1.7 2l-6.9 3.2l-11.5 4.4l-9.2 4.9l-7 2.7l-2.3 0.5l-4.6 0.1l-2.3 0.3l-2.3 0.8l-2.3 1l-4.6 3.2l-2.3 1.3l-4.6 1.5l-9.3 5.2z"/>
<path fill="url(#p68)" d="M60 69.3l9.3-5.2l4.6-1.5l2.3-1.3l4.6-3.2l2.3-1l2.3-0.8l2.3-0.3l4.6-0.1l2.3-0.5l7-2.7l9.2-4.9l11.5-4.4l6.9-3.2l1.8 2.1l-11.6 4.8l-4.6 1.6l-6.9 3.4l-6.9 2.6l-4.6 2.1l-2.3 0.6l-4.7 0l-2.3 0.4l-4.6 1.6l-6.9 4.7l-4.6 1.1l-2.3 0.9l-6.9 3.4z"/>
<path fill="url(#p67)" d="M61.8 68.9l6.9-3.4l2.3-0.9l4.6-1.1l6.9-4.7l4.6-1.6l2.3-0.4l4.7 0l2.3-0.6l4.6-2.1l6.9-2.6l6.9-3.4l4.6-1.6l11.6-4.8l1.7 1.9l-9.2 3.6l-4.7 2.2l-9.2 3.8l-6.9 2.2l-4.6 2.2l-2.3 0.5l-4.6 0.5l-7 2.4l-2.3 0.9l-4.6 2.7l-6.9 2.2l-6.9 3.1z"/>
<path fill="url(#p66)" d="M63.5 69.3l6.9-3.1l6.9-2.2l4.6-2.7l2.3-0.9l7-2.4l4.6-0.5l2.3-0.5l4.6-2.2l6.9-2.2l9.2-3.8l4.7-2.2l9.2-3.6l1.7 1.5l-4.6 2.2l-4.6 1.6l-4.6 2.4l-9.2 3.8l-7 1.9l-4.6 2l-6.9 1.7l-4.6 2l-4.6 1.1l-9.3 3.6l-9.2 4.1z"/>
<path fill="url(#p65)" d="M65.2 70.3l9.2-4.1l9.3-3.6l4.6-1.1l4.6-2l6.9-1.7l4.6-2l7-1.9l9.2-3.8l4.6-2.4l4.6-1.6l4.6-2.2l1.8 0.9l-4.7 2.5l-18.4 8.7l-16.2 4.6l-6.9 2.7l-4.6 1.2l-6.9 2.3l-11.6 5.3z"/>
<path fill="url(#p64)" d="M66.9 71.5l11.6-5.3l6.9-2.3l4.6-1.2l6.9-2.7l16.2-4.6l18.4-8.7l4.7-2.5l1.7 1.1l-9.2 5.3l-13.9 6.7l-16.1 4.5l-9.3 3l-6.9 2.7l-4.6 1.4l-9.2 4.2z"/>
<path fill="url(#p63)" d="M68.7 72.5l9.2-4.2l4.6-1.4l6.9-2.7l9.3-3l16.1-4.5l13.9-6.7l9.2-5.3l1.7 2l-4.6 2.1l-6.9 4l-4.6 1.8l-7 3.6l-11.5 3.7l-4.6 1l-9.2 2.7l-7 3.4l-6.9 1.8l-4.6 1.9l-2.3 1.3z"/>
<path fill="url(#p62)" d="M70.4 73.4l2.3-1.3l4.6-1.9l6.9-1.8l7-3.4l9.2-2.7l4.6-1l11.5-3.7l7-3.6l4.6-1.8l6.9-4l4.6-2.1l1.7 2.4l-4.6 1.5l-16.1 8l-6.9 2.1l-7 2.7l-6.9 1.5l-6.9 1.9l-6.9 4.2l-9.2 2.2l-4.7 2.5z"/>
<path fill="url(#p61)" d="M72.1 74.5l4.7-2.5l9.2-2.2l6.9-4.2l6.9-1.9l6.9-1.5l7-2.7l6.9-2.1l16.1-8l4.6-1.5l1.8 2l-4.6 1.1l-2.3 1l-11.6 6.1l-6.9 1.9l-6.9 2.7l-13.9 3.4l-2.3 0.9l-6.9 4.4l-2.3 1.1l-2.3 0.8l-4.6 0.7l-2.3 1l-2.3 1.4z"/>
<path fill="url(#p60)" d="M73.9 75.8l2.3-1.4l2.3-1l4.6-0.7l2.3-0.8l2.3-1.1l6.9-4.4l2.3-0.9l13.9-3.4l6.9-2.7l6.9-1.9l11.6-6.1l2.3-1l4.6-1.1l1.7 1.8l-4.6 1l-2.3 0.9l-9.2 5.3l-2.4 1l-4.6 0.6l-9.2 3.6l-13.8 3.4l-2.3 0.9l-4.7 3.1l-6.9 3.8l-4.6 0.7l-2.3 0.8l-2.3 1.4z"/>
</g>

<rect x="157.6" y="12.9" width="6.8" height="112.7" fill="url(#jet)" stroke="#2a2a2a" stroke-width=".4"/>
<text class="c" x="166.3" y="127.3">36</text>
<text class="c" x="166.3" y="108.5">37</text>
<text class="c" x="166.3" y="89.7">38</text>
<text class="c" x="166.3" y="71.0">39</text>
<text class="c" x="166.3" y="52.2">40</text>
<text class="c" x="166.3" y="33.4">41</text>
<text class="c" x="166.3" y="14.6">42</text>
</g>
<g transform="translate(0 339.1)">
<text class="t" x="84.3" y="11.5">Oil Marking</text>
<path d="M23.7 90.8 L92.9 65.8 L144.8 99.2 M23.7 81.7 L92.9 56.7 L144.8 90.1 M23.7 72.5 L92.9 47.5 L144.8 80.9 M23.7 63.4 L92.9 38.4 L144.8 71.8 M23.7 54.2 L92.9 29.2 L144.8 62.6 M23.7 45.1 L92.9 20.1 L144.8 53.5 M23.7 35.9 L92.9 10.9 L144.8 44.3" fill="none" stroke="#d2d2d2" stroke-width=".9" stroke-dasharray="3.4 5.4"/>
<g transform="matrix(69.200 -25.000 -51.900 -33.400 75.60 125.60)">
<rect width="1" height="1" fill="#7c7c7c"/>

</g>
<g clip-path="url(#bc)"><ellipse cx="98" cy="90" rx="34" ry="18" fill="#b0b0b0" opacity=".45" filter="url(#b2)"/><g fill="#2a2a2a" opacity=".7" filter="url(#b1)"><ellipse cx="88.1" cy="84.1" rx="4.4" ry="2.1" transform="rotate(-12 88.1 84.1)"/><ellipse cx="77.4" cy="99.2" rx="3.5" ry="1.9" transform="rotate(-12 77.4 99.2)"/><ellipse cx="85" cy="96.8" rx="3.2" ry="1.7" transform="rotate(-12 85 96.8)"/><ellipse cx="90.9" cy="98.3" rx="3.8" ry="2.1" transform="rotate(-12 90.9 98.3)"/><ellipse cx="93.8" cy="101.6" rx="4.6" ry="2.5" transform="rotate(-12 93.8 101.6)"/><ellipse cx="103.2" cy="98.7" rx="4.8" ry="2.6" transform="rotate(-12 103.2 98.7)"/></g><g fill="#c8c8c8" opacity=".6" filter="url(#b1)"><ellipse cx="90.4" cy="113.4" rx="2" ry="1.2"/><ellipse cx="99.2" cy="111.7" rx="2" ry="1.2"/></g></g>
<polygon points="23.7,92.2 75.6,125.6 144.8,100.6 92.9,67.2" fill="#888" filter="url(#n)" opacity="0.22"/>
<path d="M23.7 92.5L75.6 125.9L144.8 100.9" fill="none" stroke="#0a0a0a" stroke-width="1.15" stroke-linejoin="miter"/>
<path d="M23.7 36.0 V92.2M23.7 90.8h-1.3M23.7 88.5h-1.3M23.7 86.3h-1.3M23.7 84.0h-1.3M23.7 81.7h-1.3M23.7 79.4h-1.3M23.7 77.1h-1.3M23.7 74.8h-1.3M23.7 72.5h-1.3M23.7 70.2h-1.3M23.7 68.0h-1.3M23.7 65.7h-1.3M23.7 63.4h-1.3M23.7 61.1h-1.3M23.7 58.8h-1.3M23.7 56.5h-1.3M23.7 54.2h-1.3M23.7 51.9h-1.3M23.7 49.7h-1.3M23.7 47.4h-1.3M23.7 45.1h-1.3M23.7 42.8h-1.3M23.7 40.5h-1.3M23.7 38.2h-1.3M23.7 90.8h-2.2M23.7 81.7h-2.2M23.7 72.5h-2.2M23.7 63.4h-2.2M23.7 54.2h-2.2M23.7 45.1h-2.2M23.7 35.9h-2.2" fill="none" stroke="#000" stroke-width=".9"/>
<text class="z" x="20.2" y="92.5">18</text>
<text class="z" x="20.2" y="83.4">20</text>
<text class="z" x="20.2" y="74.2">22</text>
<text class="z" x="20.2" y="65.1">24</text>
<text class="z" x="20.2" y="55.9">26</text>
<text class="z" x="20.2" y="46.8">28</text>
<text class="z" x="20.2" y="37.6">30</text>
<text class="y" transform="translate(11.2 65) rotate(-90)">Temperature</text>
<g class="s">
<defs><linearGradient id="p731" gradientUnits="userSpaceOnUse" x1="24.5" x2="93.7"><stop offset="0" stop-color="#f30"/><stop offset=".062" stop-color="#f10"/><stop offset=".156" stop-color="#900"/><stop offset=".188" stop-color="#800"/><stop offset=".219" stop-color="#800"/><stop offset=".344" stop-color="#f00"/><stop offset=".656" stop-color="#f70"/><stop offset=".781" stop-color="#f50"/><stop offset=".844" stop-color="#fa0"/><stop offset=".875" stop-color="#f80"/><stop offset=".906" stop-color="#f80"/><stop offset=".938" stop-color="#fd0"/><stop offset=".969" stop-color="#bf4"/><stop offset="1" stop-color="#9f6"/></linearGradient>
<linearGradient id="p730" gradientUnits="userSpaceOnUse" x1="26.1" x2="95.3"><stop offset="0" stop-color="#f30"/><stop offset=".062" stop-color="#f10"/><stop offset=".156" stop-color="#900"/><stop offset=".188" stop-color="#800"/><stop offset=".219" stop-color="#900"/><stop offset=".344" stop-color="#f00"/><stop offset=".469" stop-color="#f30"/><stop offset=".594" stop-color="#f20"/><stop offset=".688" stop-color="#f30"/><stop offset=".75" stop-color="#f20"/><stop offset=".781" stop-color="#f20"/><stop offset=".844" stop-color="#f80"/><stop offset=".875" stop-color="#f60"/><stop offset=".906" stop-color="#f70"/><stop offset=".938" stop-color="#fc0"/><stop offset=".969" stop-color="#cf3"/><stop offset="1" stop-color="#af5"/></linearGradient>
<linearGradient id="p729" gradientUnits="userSpaceOnUse" x1="27.8" x2="97"><stop offset="0" stop-color="#f20"/><stop offset=".062" stop-color="#f00"/><stop offset=".188" stop-color="#900"/><stop offset=".219" stop-color="#900"/><stop offset=".344" stop-color="#f10"/><stop offset=".438" stop-color="#f40"/><stop offset=".5" stop-color="#f30"/><stop offset=".562" stop-color="#f00"/><stop offset=".75" stop-color="#d00"/><stop offset=".781" stop-color="#e00"/><stop offset=".844" stop-color="#f60"/><stop offset=".875" stop-color="#f40"/><stop offset=".906" stop-color="#f50"/><stop offset=".938" stop-color="#fb0"/><stop offset=".969" stop-color="#df2"/><stop offset="1" stop-color="#bf4"/></linearGradient>
<linearGradient id="p728" gradientUnits="userSpaceOnUse" x1="29.4" x2="98.6"><stop offset="0" stop-color="#f20"/><stop offset=".062" stop-color="#f00"/><stop offset=".188" stop-color="#a00"/><stop offset=".25" stop-color="#b00"/><stop offset=".312" stop-color="#e00"/><stop offset=".344" stop-color="#f10"/><stop offset=".438" stop-color="#f40"/><stop offset=".469" stop-color="#f40"/><stop offset=".531" stop-color="#f00"/><stop offset=".625" stop-color="#900"/><stop offset=".75" stop-color="#900"/><stop offset=".781" stop-color="#b00"/><stop offset=".812" stop-color="#f10"/><stop offset=".844" stop-color="#f40"/><stop offset=".875" stop-color="#f30"/><stop offset=".906" stop-color="#f50"/><stop offset=".938" stop-color="#fb0"/><stop offset=".969" stop-color="#df2"/><stop offset="1" stop-color="#cf3"/></linearGradient>
<linearGradient id="p727" gradientUnits="userSpaceOnUse" x1="31" x2="100.2"><stop offset="0" stop-color="#f10"/><stop offset=".062" stop-color="#e00"/><stop offset=".188" stop-color="#b00"/><stop offset=".25" stop-color="#c00"/><stop offset=".312" stop-color="#f00"/><stop offset=".406" stop-color="#f40"/><stop offset=".438" stop-color="#f50"/><stop offset=".5" stop-color="#f10"/><stop offset=".531" stop-color="#d00"/><stop offset=".594" stop-color="#800"/><stop offset=".625" stop-color="#800"/><stop offset=".75" stop-color="#800"/><stop offset=".781" stop-color="#900"/><stop offset=".812" stop-color="#f00"/><stop offset=".844" stop-color="#f30"/><stop offset=".875" stop-color="#f20"/><stop offset=".906" stop-color="#f50"/><stop offset=".938" stop-color="#fb0"/><stop offset=".969" stop-color="#df2"/><stop offset="1" stop-color="#cf3"/></linearGradient>
<linearGradient id="p726" gradientUnits="userSpaceOnUse" x1="32.6" x2="101.8"><stop offset="0" stop-color="#f00"/><stop offset=".188" stop-color="#c00"/><stop offset=".312" stop-color="#f00"/><stop offset=".406" stop-color="#f40"/><stop offset=".438" stop-color="#f40"/><stop offset=".5" stop-color="#f00"/><stop offset=".562" stop-color="#800"/><stop offset=".594" stop-color="#800"/><stop offset=".75" stop-color="#800"/><stop offset=".781" stop-color="#900"/><stop offset=".812" stop-color="#f00"/><stop offset=".844" stop-color="#f30"/><stop offset=".875" stop-color="#f20"/><stop offset=".906" stop-color="#f60"/><stop offset=".938" stop-color="#fc0"/><stop offset=".969" stop-color="#cf3"/><stop offset="1" stop-color="#bf4"/></linearGradient>
<linearGradient id="p725" gradientUnits="userSpaceOnUse" x1="34.2" x2="103.4"><stop offset="0" stop-color="#e00"/><stop offset=".188" stop-color="#d00"/><stop offset=".312" stop-color="#f00"/><stop offset=".406" stop-color="#f20"/><stop offset=".469" stop-color="#f10"/><stop offset=".5" stop-color="#e00"/><stop offset=".562" stop-color="#800"/><stop offset=".75" stop-color="#800"/><stop offset=".781" stop-color="#900"/><stop offset=".812" stop-color="#f00"/><stop offset=".844" stop-color="#f40"/><stop offset=".875" stop-color="#f40"/><stop offset=".906" stop-color="#f70"/><stop offset=".938" stop-color="#fe0"/><stop offset=".969" stop-color="#af5"/><stop offset="1" stop-color="#9f6"/></linearGradient>
<linearGradient id="p724" gradientUnits="userSpaceOnUse" x1="35.9" x2="105.1"><stop offset="0" stop-color="#e00"/><stop offset=".188" stop-color="#e00"/><stop offset=".438" stop-color="#f00"/><stop offset=".469" stop-color="#e00"/><stop offset=".562" stop-color="#800"/><stop offset=".75" stop-color="#800"/><stop offset=".781" stop-color="#a00"/><stop offset=".812" stop-color="#f20"/><stop offset=".844" stop-color="#f50"/><stop offset=".875" stop-color="#f50"/><stop offset=".906" stop-color="#f90"/><stop offset=".938" stop-color="#ef1"/><stop offset=".969" stop-color="#8f7"/><stop offset="1" stop-color="#8f7"/></linearGradient>
<linearGradient id="p723" gradientUnits="userSpaceOnUse" x1="37.5" x2="106.7"><stop offset="0" stop-color="#e00"/><stop offset=".406" stop-color="#e00"/><stop offset=".469" stop-color="#c00"/><stop offset=".562" stop-color="#800"/><stop offset=".75" stop-color="#800"/><stop offset=".781" stop-color="#c00"/><stop offset=".812" stop-color="#f40"/><stop offset=".844" stop-color="#f60"/><stop offset=".875" stop-color="#f70"/><stop offset=".906" stop-color="#fb0"/><stop offset=".938" stop-color="#cf3"/><stop offset=".969" stop-color="#7f8"/><stop offset="1" stop-color="#7f8"/></linearGradient>
<linearGradient id="p722" gradientUnits="userSpaceOnUse" x1="39.1" x2="108.3"><stop offset="0" stop-color="#e00"/><stop offset=".312" stop-color="#e00"/><stop offset=".469" stop-color="#b00"/><stop offset=".562" stop-color="#800"/><stop offset=".75" stop-color="#800"/><stop offset=".781" stop-color="#d00"/><stop offset=".812" stop-color="#f50"/><stop offset=".844" stop-color="#f70"/><stop offset=".875" stop-color="#f80"/><stop offset=".906" stop-color="#fc0"/><stop offset=".938" stop-color="#bf4"/><stop offset=".969" stop-color="#6f9"/><stop offset="1" stop-color="#6f9"/></linearGradient>
<linearGradient id="p721" gradientUnits="userSpaceOnUse" x1="40.7" x2="109.9"><stop offset="0" stop-color="#e00"/><stop offset=".281" stop-color="#f00"/><stop offset=".562" stop-color="#800"/><stop offset=".719" stop-color="#800"/><stop offset=".75" stop-color="#900"/><stop offset=".781" stop-color="#e00"/><stop offset=".812" stop-color="#f60"/><stop offset=".875" stop-color="#f80"/><stop offset=".906" stop-color="#fd0"/><stop offset=".938" stop-color="#af5"/><stop offset=".969" stop-color="#6f9"/><stop offset="1" stop-color="#6f9"/></linearGradient>
<linearGradient id="p720" gradientUnits="userSpaceOnUse" x1="42.4" x2="111.6"><stop offset="0" stop-color="#e00"/><stop offset=".281" stop-color="#e00"/><stop offset=".562" stop-color="#800"/><stop offset=".719" stop-color="#800"/><stop offset=".75" stop-color="#a00"/><stop offset=".781" stop-color="#f00"/><stop offset=".812" stop-color="#f60"/><stop offset=".875" stop-color="#f80"/><stop offset=".906" stop-color="#fd0"/><stop offset=".938" stop-color="#af5"/><stop offset=".969" stop-color="#6f9"/><stop offset="1" stop-color="#6f9"/></linearGradient>
<linearGradient id="p719" gradientUnits="userSpaceOnUse" x1="44" x2="113.2"><stop offset="0" stop-color="#d00"/><stop offset=".125" stop-color="#d00"/><stop offset=".281" stop-color="#e00"/><stop offset=".594" stop-color="#800"/><stop offset=".719" stop-color="#800"/><stop offset=".75" stop-color="#b00"/><stop offset=".781" stop-color="#f10"/><stop offset=".812" stop-color="#f70"/><stop offset=".875" stop-color="#f80"/><stop offset=".906" stop-color="#fd0"/><stop offset=".938" stop-color="#af5"/><stop offset=".969" stop-color="#7f8"/><stop offset="1" stop-color="#7f8"/></linearGradient>
<linearGradient id="p718" gradientUnits="userSpaceOnUse" x1="45.6" x2="114.8"><stop offset="0" stop-color="#c00"/><stop offset=".125" stop-color="#c00"/><stop offset=".281" stop-color="#e00"/><stop offset=".406" stop-color="#b00"/><stop offset=".656" stop-color="#800"/><stop offset=".719" stop-color="#900"/><stop offset=".75" stop-color="#c00"/><stop offset=".781" stop-color="#f20"/><stop offset=".812" stop-color="#f70"/><stop offset=".875" stop-color="#f80"/><stop offset=".906" stop-color="#fd0"/><stop offset=".938" stop-color="#af5"/><stop offset=".969" stop-color="#7f8"/><stop offset="1" stop-color="#7f8"/></linearGradient>
<linearGradient id="p717" gradientUnits="userSpaceOnUse" x1="47.2" x2="116.4"><stop offset="0" stop-color="#b00"/><stop offset=".125" stop-color="#b00"/><stop offset=".281" stop-color="#d00"/><stop offset=".438" stop-color="#a00"/><stop offset=".656" stop-color="#a00"/><stop offset=".719" stop-color="#b00"/><stop offset=".75" stop-color="#d00"/><stop offset=".781" stop-color="#f30"/><stop offset=".812" stop-color="#f80"/><stop offset=".844" stop-color="#f70"/><stop offset=".875" stop-color="#f80"/><stop offset=".906" stop-color="#fe0"/><stop offset=".938" stop-color="#9f6"/><stop offset=".969" stop-color="#7f8"/><stop offset="1" stop-color="#7f8"/></linearGradient>
<linearGradient id="p716" gradientUnits="userSpaceOnUse" x1="48.8" x2="118"><stop offset="0" stop-color="#a00"/><stop offset=".125" stop-color="#a00"/><stop offset=".281" stop-color="#d00"/><stop offset=".438" stop-color="#a00"/><stop offset=".625" stop-color="#b00"/><stop offset=".719" stop-color="#d00"/><stop offset=".75" stop-color="#f00"/><stop offset=".812" stop-color="#f90"/><stop offset=".844" stop-color="#f80"/><stop offset=".875" stop-color="#f90"/><stop offset=".906" stop-color="#ff0"/><stop offset=".938" stop-color="#8f7"/><stop offset=".969" stop-color="#6f9"/><stop offset="1" stop-color="#6f9"/></linearGradient>
<linearGradient id="p715" gradientUnits="userSpaceOnUse" x1="50.5" x2="119.7"><stop offset="0" stop-color="#900"/><stop offset=".125" stop-color="#900"/><stop offset=".25" stop-color="#c00"/><stop offset=".469" stop-color="#b00"/><stop offset=".719" stop-color="#f00"/><stop offset=".75" stop-color="#f20"/><stop offset=".812" stop-color="#fb0"/><stop offset=".844" stop-color="#f90"/><stop offset=".875" stop-color="#fb0"/><stop offset=".906" stop-color="#df2"/><stop offset=".938" stop-color="#6f9"/><stop offset=".969" stop-color="#4fb"/><stop offset="1" stop-color="#4fb"/></linearGradient>
<linearGradient id="p714" gradientUnits="userSpaceOnUse" x1="52.1" x2="121.3"><stop offset="0" stop-color="#900"/><stop offset=".094" stop-color="#900"/><stop offset=".25" stop-color="#c00"/><stop offset=".469" stop-color="#b00"/><stop offset=".656" stop-color="#f00"/><stop offset=".719" stop-color="#f20"/><stop offset=".812" stop-color="#fc0"/><stop offset=".844" stop-color="#fa0"/><stop offset=".875" stop-color="#fc0"/><stop offset=".906" stop-color="#bf4"/><stop offset=".938" stop-color="#4fb"/><stop offset=".969" stop-color="#2fd"/><stop offset="1" stop-color="#2fd"/></linearGradient>
<linearGradient id="p713" gradientUnits="userSpaceOnUse" x1="53.7" x2="122.9"><stop offset="0" stop-color="#800"/><stop offset=".094" stop-color="#900"/><stop offset=".25" stop-color="#c00"/><stop offset=".469" stop-color="#b00"/><stop offset=".625" stop-color="#f00"/><stop offset=".719" stop-color="#f40"/><stop offset=".781" stop-color="#fa0"/><stop offset=".812" stop-color="#fc0"/><stop offset=".844" stop-color="#fb0"/><stop offset=".875" stop-color="#fe0"/><stop offset=".938" stop-color="#1fe"/><stop offset="1" stop-color="#1fe"/></linearGradient>
<linearGradient id="p712" gradientUnits="userSpaceOnUse" x1="55.3" x2="124.5"><stop offset="0" stop-color="#800"/><stop offset=".219" stop-color="#b00"/><stop offset=".469" stop-color="#c00"/><stop offset=".594" stop-color="#e00"/><stop offset=".719" stop-color="#f50"/><stop offset=".781" stop-color="#fa0"/><stop offset=".812" stop-color="#fb0"/><stop offset=".844" stop-color="#fb0"/><stop offset=".875" stop-color="#ff0"/><stop offset=".906" stop-color="#6f9"/><stop offset=".938" stop-color="#0ef"/><stop offset="1" stop-color="#0ef"/></linearGradient>
<linearGradient id="p711" gradientUnits="userSpaceOnUse" x1="56.9" x2="126.1"><stop offset="0" stop-color="#800"/><stop offset=".062" stop-color="#800"/><stop offset=".219" stop-color="#b00"/><stop offset=".5" stop-color="#d00"/><stop offset=".594" stop-color="#e00"/><stop offset=".719" stop-color="#f40"/><stop offset=".781" stop-color="#f90"/><stop offset=".844" stop-color="#fa0"/><stop offset=".875" stop-color="#ef1"/><stop offset=".906" stop-color="#5fa"/><stop offset=".938" stop-color="#0df"/><stop offset="1" stop-color="#0df"/></linearGradient>
<linearGradient id="p710" gradientUnits="userSpaceOnUse" x1="58.6" x2="127.8"><stop offset="0" stop-color="#800"/><stop offset=".062" stop-color="#800"/><stop offset=".219" stop-color="#b00"/><stop offset=".406" stop-color="#d00"/><stop offset=".531" stop-color="#d00"/><stop offset=".625" stop-color="#f00"/><stop offset=".719" stop-color="#f30"/><stop offset=".781" stop-color="#f70"/><stop offset=".844" stop-color="#f80"/><stop offset=".875" stop-color="#ff0"/><stop offset=".906" stop-color="#4fb"/><stop offset=".938" stop-color="#0cf"/><stop offset="1" stop-color="#0cf"/></linearGradient>
<linearGradient id="p79" gradientUnits="userSpaceOnUse" x1="60.2" x2="129.4"><stop offset="0" stop-color="#800"/><stop offset=".062" stop-color="#800"/><stop offset=".156" stop-color="#a00"/><stop offset=".406" stop-color="#e00"/><stop offset=".562" stop-color="#d00"/><stop offset=".688" stop-color="#f10"/><stop offset=".781" stop-color="#f40"/><stop offset=".812" stop-color="#f40"/><stop offset=".844" stop-color="#f60"/><stop offset=".875" stop-color="#ff0"/><stop offset=".906" stop-color="#4fb"/><stop offset=".938" stop-color="#0cf"/><stop offset="1" stop-color="#0cf"/></linearGradient>
<linearGradient id="p78" gradientUnits="userSpaceOnUse" x1="61.8" x2="131"><stop offset="0" stop-color="#800"/><stop offset=".062" stop-color="#800"/><stop offset=".406" stop-color="#e00"/><stop offset=".625" stop-color="#d00"/><stop offset=".812" stop-color="#f00"/><stop offset=".844" stop-color="#f30"/><stop offset=".875" stop-color="#fe0"/><stop offset=".906" stop-color="#4fb"/><stop offset=".938" stop-color="#0bf"/><stop offset="1" stop-color="#0cf"/></linearGradient>
<linearGradient id="p77" gradientUnits="userSpaceOnUse" x1="63.4" x2="132.6"><stop offset="0" stop-color="#800"/><stop offset=".25" stop-color="#a00"/><stop offset=".438" stop-color="#e00"/><stop offset=".656" stop-color="#b00"/><stop offset=".812" stop-color="#c00"/><stop offset=".844" stop-color="#f10"/><stop offset=".875" stop-color="#fe0"/><stop offset=".906" stop-color="#3fc"/><stop offset=".938" stop-color="#0bf"/><stop offset="1" stop-color="#0cf"/></linearGradient>
<linearGradient id="p76" gradientUnits="userSpaceOnUse" x1="65.1" x2="134.3"><stop offset="0" stop-color="#800"/><stop offset=".125" stop-color="#900"/><stop offset=".25" stop-color="#a00"/><stop offset=".438" stop-color="#e00"/><stop offset=".656" stop-color="#900"/><stop offset=".812" stop-color="#900"/><stop offset=".844" stop-color="#f00"/><stop offset=".875" stop-color="#fd0"/><stop offset=".906" stop-color="#3fc"/><stop offset=".938" stop-color="#0bf"/><stop offset="1" stop-color="#0bf"/></linearGradient>
<linearGradient id="p75" gradientUnits="userSpaceOnUse" x1="66.7" x2="135.9"><stop offset="0" stop-color="#900"/><stop offset=".125" stop-color="#a00"/><stop offset=".25" stop-color="#900"/><stop offset=".438" stop-color="#d00"/><stop offset=".625" stop-color="#800"/><stop offset=".812" stop-color="#800"/><stop offset=".844" stop-color="#e00"/><stop offset=".875" stop-color="#fe0"/><stop offset=".906" stop-color="#2fd"/><stop offset=".938" stop-color="#0af"/><stop offset="1" stop-color="#0af"/></linearGradient>
<linearGradient id="p74" gradientUnits="userSpaceOnUse" x1="68.3" x2="137.5"><stop offset="0" stop-color="#a00"/><stop offset=".094" stop-color="#a00"/><stop offset=".25" stop-color="#800"/><stop offset=".406" stop-color="#b00"/><stop offset=".469" stop-color="#b00"/><stop offset=".562" stop-color="#800"/><stop offset=".812" stop-color="#800"/><stop offset=".844" stop-color="#e00"/><stop offset=".875" stop-color="#fe0"/><stop offset=".906" stop-color="#1fe"/><stop offset=".938" stop-color="#09f"/><stop offset="1" stop-color="#09f"/></linearGradient>
<linearGradient id="p73" gradientUnits="userSpaceOnUse" x1="69.9" x2="139.1"><stop offset="0" stop-color="#a00"/><stop offset=".094" stop-color="#a00"/><stop offset=".188" stop-color="#800"/><stop offset=".281" stop-color="#800"/><stop offset=".406" stop-color="#a00"/><stop offset=".531" stop-color="#800"/><stop offset=".812" stop-color="#800"/><stop offset=".844" stop-color="#f00"/><stop offset=".875" stop-color="#ef1"/><stop offset=".906" stop-color="#0ef"/><stop offset=".938" stop-color="#08f"/><stop offset="1" stop-color="#07f"/></linearGradient>
<linearGradient id="p72" gradientUnits="userSpaceOnUse" x1="71.5" x2="140.7"><stop offset="0" stop-color="#b00"/><stop offset=".156" stop-color="#800"/><stop offset=".281" stop-color="#800"/><stop offset=".375" stop-color="#900"/><stop offset=".469" stop-color="#800"/><stop offset=".812" stop-color="#800"/><stop offset=".844" stop-color="#f10"/><stop offset=".875" stop-color="#cf3"/><stop offset=".906" stop-color="#0cf"/><stop offset=".938" stop-color="#06f"/><stop offset="1" stop-color="#06f"/></linearGradient>
<linearGradient id="p71" gradientUnits="userSpaceOnUse" x1="73.2" x2="142.4"><stop offset="0" stop-color="#b00"/><stop offset=".156" stop-color="#800"/><stop offset=".312" stop-color="#800"/><stop offset=".375" stop-color="#900"/><stop offset=".469" stop-color="#800"/><stop offset=".812" stop-color="#800"/><stop offset=".844" stop-color="#f20"/><stop offset=".875" stop-color="#bf4"/><stop offset=".906" stop-color="#0bf"/><stop offset=".938" stop-color="#05f"/><stop offset="1" stop-color="#04f"/></linearGradient>
<linearGradient id="p70" gradientUnits="userSpaceOnUse" x1="74.8" x2="144"><stop offset="0" stop-color="#b00"/><stop offset=".125" stop-color="#800"/><stop offset=".375" stop-color="#800"/><stop offset=".438" stop-color="#800"/><stop offset=".812" stop-color="#800"/><stop offset=".844" stop-color="#f40"/><stop offset=".875" stop-color="#9f6"/><stop offset=".906" stop-color="#09f"/><stop offset=".938" stop-color="#04f"/><stop offset="1" stop-color="#04f"/></linearGradient></defs>
<path fill="url(#p731)" d="M23.7 46.8l4.3-2.8l8.7-7.4l2.1-1.4l4.4-2.3l4.3-1.5l4.3-1l13-2.4l8.6-1.2l4.4-1.5l4.3-2.4l2.2-0.8l2.1 1.9l2.2 3.2l2.1 2.6l2.2 0.3l1.6 1.2l-2.1-0.2l-2.2-2.5l-2.2-3.3l-2.1-2.1l-2.2 0.6l-6.5 3l-10.8 2.3l-8.6 2.6l-8.7 1.8l-4.3 1.4l-4.3 2.1l-2.2 1.5l-8.7 7.1l-4.3 2.7z"/>
<path fill="url(#p730)" d="M25.3 47.7l4.3-2.7l8.7-7.1l2.2-1.5l4.3-2.1l4.3-1.4l8.7-1.8l8.6-2.6l10.8-2.3l6.5-3l2.2-0.6l2.1 2.1l2.2 3.3l2.2 2.5l2.1 0.2l1.6 1l-2.1 0l-2.2-2.5l-2.1-3.4l-2.2-2.3l-2.2 0.3l-6.5 2.8l-6.4 1.4l-4.4 1.4l-8.6 4.2l-4.3 1.2l-6.5 1.1l-4.4 1.5l-4.3 2.4l-8.6 6.7l-4.4 2.6z"/>
<path fill="url(#p729)" d="M26.9 48.5l4.4-2.6l8.6-6.7l4.3-2.4l4.4-1.5l6.5-1.1l4.3-1.2l8.6-4.2l4.4-1.4l6.4-1.4l6.5-2.8l2.2-0.3l2.2 2.3l2.1 3.4l2.2 2.5l2.1 0l1.7 1.2l-2.2 0l-2.2-2.4l-2.1-3.5l-2.2-2.6l-2.1 0.1l-4.4 1.7l-10.8 3l-4.3 2.6l-4.3 3.3l-2.2 1.3l-2.2 1l-2.1 0.5l-6.5 0.7l-4.3 1.2l-2.2 0.9l-4.3 2.6l-6.5 4.7l-4.3 2.4z"/>
<path fill="url(#p728)" d="M28.6 49.2l4.3-2.4l6.5-4.7l4.3-2.6l2.2-0.9l4.3-1.2l6.5-0.7l2.1-0.5l2.2-1l2.2-1.3l4.3-3.3l4.3-2.6l10.8-3l4.4-1.7l2.1-0.1l2.2 2.6l2.1 3.5l2.2 2.4l2.2 0l1.6 1.5l-2.2 0.1l-2.1-2.4l-2.2-3.6l-2.2-2.8l-2.1-0.3l-10.8 2.9l-4.4 1.7l-2.1 1.5l-2.2 1.8l-4.3 4.2l-2.2 1.7l-2.1 1.1l-2.2 0.6l-8.6 0.8l-4.4 1.4l-4.3 2.2l-6.5 4.1l-4.3 2.2z"/>
<path fill="url(#p727)" d="M30.2 49.8l4.3-2.2l6.5-4.1l4.3-2.2l4.4-1.4l8.6-0.8l2.2-0.6l2.1-1.1l2.2-1.7l4.3-4.2l2.2-1.8l2.1-1.5l4.4-1.7l10.8-2.9l2.1 0.3l2.2 2.8l2.2 3.6l2.1 2.4l2.2-0.1l1.6 1.8l-2.2 0.3l-2.1-2.3l-2.2-3.7l-2.1-3l-2.2-0.6l-8.7 1.8l-4.3 1.3l-2.1 1.2l-2.2 1.6l-2.2 2.1l-4.3 4.6l-2.2 1.9l-2.1 1.3l-2.2 0.6l-8.6 0.9l-4.4 1.2l-4.3 1.9l-6.5 3.6l-4.3 2z"/>
<path fill="url(#p726)" d="M31.8 50.5l4.3-2l6.5-3.6l4.3-1.9l4.4-1.2l8.6-0.9l2.2-0.6l2.1-1.3l2.2-1.9l4.3-4.6l2.2-2.1l2.2-1.6l2.1-1.2l4.3-1.3l8.7-1.8l2.2 0.6l2.1 3l2.2 3.7l2.1 2.3l2.2-0.3l1.6 2.3l-2.1 0.3l-2.2-2.2l-2.2-3.7l-2.1-3.2l-2.2-0.9l-8.6 1.3l-4.4 1.3l-2.1 1.2l-2.2 1.7l-6.5 6.7l-2.1 1.9l-2.2 1.4l-2.2 0.8l-8.6 1.3l-4.3 1.3l-15.2 6.6z"/>
<path fill="url(#p725)" d="M33.4 51.3l15.2-6.6l4.3-1.3l8.6-1.3l2.2-0.8l2.2-1.4l2.1-1.9l6.5-6.7l2.2-1.7l2.1-1.2l4.4-1.3l8.6-1.3l2.2 0.9l2.1 3.2l2.2 3.7l2.2 2.2l2.1-0.3l1.7 2.4l-2.2 0.4l-2.2-2l-4.3-7.1l-2.2-1.2l-8.6 0.9l-4.3 1.3l-2.2 1.2l-2.2 1.6l-6.4 6.2l-2.2 1.8l-2.2 1.3l-4.3 1.6l-10.8 2.9l-15.1 5.9z"/>
<path fill="url(#p724)" d="M35.1 52.1l15.1-5.9l10.8-2.9l4.3-1.6l2.2-1.3l2.2-1.8l6.4-6.2l2.2-1.6l2.2-1.2l4.3-1.3l8.6-0.9l2.2 1.2l4.3 7.1l2.2 2l2.2-0.4l1.6 2.3l-2.2 0.5l-2.1-1.8l-4.4-7.1l-2.1-1.4l-8.7 0.6l-4.3 1.2l-2.2 1.2l-2.1 1.5l-8.7 7l-4.3 2.4l-28.1 10z"/>
<path fill="url(#p723)" d="M36.7 53.1l28.1-10l4.3-2.4l8.7-7l2.1-1.5l2.2-1.2l4.3-1.2l8.7-0.6l2.1 1.4l4.4 7.1l2.1 1.8l2.2-0.5l1.6 2.1l-2.2 0.6l-2.1-1.6l-4.4-7.1l-2.1-1.6l-8.7 0.6l-4.3 1.2l-2.2 1.1l-10.8 7.5l-6.5 3.3l-8.6 3.6l-17.3 6.1z"/>
<path fill="url(#p722)" d="M38.3 54.2l17.3-6.1l8.6-3.6l6.5-3.3l10.8-7.5l2.2-1.1l4.3-1.2l8.7-0.6l2.1 1.6l4.4 7.1l2.1 1.6l2.2-0.6l1.6 1.8l-2.1 0.6l-2.2-1.4l-4.3-6.9l-2.2-1.7l-8.6 0.7l-4.4 1.2l-2.1 1l-10.8 6.7l-13 6.5l-19.5 6.8z"/>
<path fill="url(#p721)" d="M39.9 55.2l19.5-6.8l13-6.5l10.8-6.7l2.1-1l4.4-1.2l8.6-0.7l2.2 1.7l4.3 6.9l2.2 1.4l2.1-0.6l1.6 1.5l-2.1 0.7l-2.2-1.2l-4.3-6.9l-2.2-1.7l-8.6 1l-4.3 1.2l-2.2 1l-8.7 5l-15.1 7.7l-19.5 6.8z"/>
<path fill="url(#p720)" d="M41.5 56.2l19.5-6.8l15.1-7.7l8.7-5l2.2-1l4.3-1.2l8.6-1l2.2 1.7l4.3 6.9l2.2 1.2l2.1-0.7l1.7 1.4l-2.2 0.7l-2.2-1l-4.3-6.8l-2.1-1.8l-8.7 1.5l-4.3 1.2l-2.2 0.9l-23.8 12.2l-10.8 3.4l-8.6 3.4z"/>
<path fill="url(#p719)" d="M43.2 57.1l8.6-3.4l10.8-3.4l23.8-12.2l2.2-0.9l4.3-1.2l8.7-1.5l2.1 1.8l4.3 6.8l2.2 1l2.2-0.7l1.6 1.4l-2.2 0.7l-2.1-0.8l-4.4-6.7l-2.1-2l-13 3.4l-17.3 7.8l-8.7 4.6l-4.3 1.5l-6.5 1.6l-8.6 3.5z"/>
<path fill="url(#p718)" d="M44.8 57.8l8.6-3.5l6.5-1.6l4.3-1.5l8.7-4.6l17.3-7.8l13-3.4l2.1 2l4.4 6.7l2.1 0.8l2.2-0.7l1.6 1.6l-2.2 0.8l-2.1-0.7l-2.2-3.1l-2.1-3.6l-2.2-2.1l-15.1 4.8l-15.2 6.3l-8.6 4.4l-4.4 1.4l-6.4 1.5l-8.7 3.4z"/>
<path fill="url(#p717)" d="M46.4 58.3l8.7-3.4l6.4-1.5l4.4-1.4l8.6-4.4l15.2-6.3l15.1-4.8l2.2 2.1l2.1 3.6l2.2 3.1l2.1 0.7l2.2-0.8l1.6 1.9l-2.1 0.8l-2.2-0.4l-2.2-3.1l-2.1-3.7l-2.2-2.2l-28.1 9.8l-10.8 5.1l-4.3 1.4l-6.5 1.3l-8.7 3.4z"/>
<path fill="url(#p716)" d="M48 58.9l8.7-3.4l6.5-1.3l4.3-1.4l10.8-5.1l28.1-9.8l2.2 2.2l2.1 3.7l2.2 3.1l2.2 0.4l2.1-0.8l1.7 2.2l-2.2 0.8l-2.2-0.2l-2.1-3l-2.2-3.8l-2.2-2.3l-2.1 0.6l-6.5 2.8l-19.5 5.8l-12.9 5.6l-8.7 1.9l-8.7 3.2z"/>
<path fill="url(#p715)" d="M49.6 59.5l8.7-3.2l8.7-1.9l12.9-5.6l19.5-5.8l6.5-2.8l2.1-0.6l2.2 2.3l2.2 3.8l2.1 3l2.2 0.2l2.2-0.8l1.6 2.5l-2.2 0.9l-2.2-0.1l-2.1-3l-2.2-3.8l-2.1-2.5l-2.2 0.6l-6.5 2.9l-17.3 4.3l-4.3 1.4l-10.8 4.6l-10.8 2.4l-6.5 2.4z"/>
<path fill="url(#p714)" d="M51.3 60.1l6.5-2.4l10.8-2.4l10.8-4.6l4.3-1.4l17.3-4.3l6.5-2.9l2.2-0.6l2.1 2.5l2.2 3.8l2.1 3l2.2 0.1l2.2-0.9l1.6 2.6l-2.2 0.9l-2.1 0.1l-2.2-2.9l-2.2-4l-2.1-2.7l-2.2 0.6l-4.3 2.2l-2.2 0.8l-10.8 1.9l-6.5 1.6l-4.3 1.4l-10.8 4.3l-10.8 2.5l-6.5 2.1z"/>
<path fill="url(#p713)" d="M52.9 60.8l6.5-2.1l10.8-2.5l10.8-4.3l4.3-1.4l6.5-1.6l10.8-1.9l2.2-0.8l4.3-2.2l2.2-0.6l2.1 2.7l2.2 4l2.2 2.9l2.1-0.1l2.2-0.9l1.6 2.5l-2.1 0.9l-2.2 0.4l-2.2-2.9l-2.1-4.1l-2.2-2.9l-2.2 0.3l-4.3 2.3l-2.1 0.7l-2.2 0.5l-8.7 1l-4.3 1l-6.5 2.1l-10.8 4l-10.8 2.5l-6.5 1.9z"/>
<path fill="url(#p712)" d="M54.5 61.6l6.5-1.9l10.8-2.5l10.8-4l6.5-2.1l4.3-1l8.7-1l2.2-0.5l2.1-0.7l4.3-2.3l2.2-0.3l2.2 2.9l2.1 4.1l2.2 2.9l2.2-0.4l2.1-0.9l1.6 2.3l-2.1 0.9l-2.2 0.5l-2.2-2.7l-2.1-4.3l-2.2-3.2l-2.1 0.2l-4.4 2.2l-2.1 0.7l-13 1.8l-21.6 7.2l-10.8 2.3l-4.4 1.2z"/>
<path fill="url(#p711)" d="M56.1 62.4l4.4-1.2l10.8-2.3l21.6-7.2l13-1.8l2.1-0.7l4.4-2.2l2.1-0.2l2.2 3.2l2.1 4.3l2.2 2.7l2.2-0.5l2.1-0.9l1.7 2l-4.4 1.6l-2.1-2.7l-2.2-4.4l-2.2-3.6l-2.1 0l-4.3 2.1l-2.2 0.7l-10.8 1.6l-23.8 7.6l-15.1 3.4z"/>
<path fill="url(#p710)" d="M57.8 63.3l15.1-3.4l23.8-7.6l10.8-1.6l2.2-0.7l4.3-2.1l2.1 0l2.2 3.6l2.2 4.4l2.1 2.7l4.4-1.6l1.6 1.8l-4.3 1.7l-2.2-2.6l-2.2-4.7l-2.1-3.8l-2.2-0.4l-4.3 2l-2.2 0.7l-10.8 2.2l-13 4.6l-15.1 4.1l-10.8 2.1z"/>
<path fill="url(#p79)" d="M59.4 64.1l10.8-2.1l15.1-4.1l13-4.6l10.8-2.2l2.2-0.7l4.3-2l2.2 0.4l2.1 3.8l2.2 4.7l2.2 2.6l4.3-1.7l1.6 1.6l-4.3 1.9l-2.2-2.6l-2.1-4.9l-2.2-4.2l-2.2-0.8l-4.3 1.8l-13 3.9l-10.8 4.3l-8.6 1.9l-8.7 2.4l-10.8 2.2z"/>
<path fill="url(#p78)" d="M61 65.1l10.8-2.2l8.7-2.4l8.6-1.9l10.8-4.3l13-3.9l4.3-1.8l2.2 0.8l2.2 4.2l2.1 4.9l2.2 2.6l4.3-1.9l1.6 1.7l-4.3 1.9l-2.2-2.6l-2.1-5.1l-2.2-4.7l-2.1-1.2l-13 4.7l-10.8 4.8l-4.4 1.6l-8.6 1.7l-10.8 3.1l-8.7 1.7z"/>
<path fill="url(#p77)" d="M62.6 66.2l8.7-1.7l10.8-3.1l8.6-1.7l4.4-1.6l10.8-4.8l13-4.7l2.1 1.2l2.2 4.7l2.1 5.1l2.2 2.6l4.3-1.9l1.6 1.9l-4.3 1.8l-2.1-2.6l-4.4-10.5l-2.1-1.7l-10.8 3.9l-10.9 5.5l-4.3 1.9l-4.3 1.2l-8.7 1.6l-8.6 2.8l-8.7 2.1z"/>
<path fill="url(#p76)" d="M64.2 67.6l8.7-2.1l8.6-2.8l8.7-1.6l4.3-1.2l4.3-1.9l10.9-5.5l10.8-3.9l2.1 1.7l4.4 10.5l2.1 2.6l4.3-1.8l1.7 2l-4.4 1.7l-2.1-2.5l-4.3-11.3l-2.2-2.3l-8.7 2.9l-12.9 7.1l-4.4 2l-4.3 1.2l-8.6 1.6l-8.7 3.3l-8.6 2.4z"/>
<path fill="url(#p75)" d="M65.9 69.1l8.6-2.4l8.7-3.3l8.6-1.6l4.3-1.2l4.4-2l12.9-7.1l8.7-2.9l2.2 2.3l4.3 11.3l2.1 2.5l4.4-1.7l1.6 2.2l-4.3 1.5l-2.2-2.4l-4.3-11.9l-2.2-2.8l-4.3 0.9l-4.3 1.5l-4.4 2.3l-8.6 5.2l-4.3 2.1l-4.4 1.4l-8.6 1.7l-10.8 4.5l-6.5 2.1z"/>
<path fill="url(#p74)" d="M67.5 70.7l6.5-2.1l10.8-4.5l8.6-1.7l4.4-1.4l4.3-2.1l8.6-5.2l4.4-2.3l4.3-1.5l4.3-0.9l2.2 2.8l4.3 11.9l2.2 2.4l4.3-1.5l1.6 2.3l-4.3 1.4l-2.2-2.3l-4.3-12.4l-2.2-3.4l-4.3 0.6l-4.3 1.3l-4.3 2.2l-8.7 5.4l-4.3 2.3l-4.3 1.6l-6.5 1.2l-4.4 1.3l-8.6 4.2l-6.5 2.5z"/>
<path fill="url(#p73)" d="M69.1 72.2l6.5-2.5l8.6-4.2l4.4-1.3l6.5-1.2l4.3-1.6l4.3-2.3l8.7-5.4l4.3-2.2l4.3-1.3l4.3-0.6l2.2 3.4l4.3 12.4l2.2 2.3l4.3-1.4l1.6 2.3l-4.3 1.4l-2.2-2.2l-2.1-6.1l-2.2-6.7l-2.1-3.9l-2.2 0l-4.3 0.6l-4.4 1.6l-12.9 7.9l-4.4 2.2l-2.1 0.8l-8.7 1.8l-2.1 0.7l-8.7 4.6l-6.5 2.8z"/>
<path fill="url(#p72)" d="M70.7 73.5l6.5-2.8l8.7-4.6l2.1-0.7l8.7-1.8l2.1-0.8l4.4-2.2l12.9-7.9l4.4-1.6l4.3-0.6l2.2 0l2.1 3.9l2.2 6.7l2.1 6.1l2.2 2.2l4.3-1.4l1.7 2.4l-4.4 1.2l-2.1-1.9l-2.2-6.1l-2.2-6.9l-2.1-4.3l-4.3-0.2l-4.4 0.7l-2.1 0.8l-4.4 2.4l-8.6 5.6l-4.3 2.3l-4.4 1.5l-6.4 1.1l-2.2 0.7l-2.2 1l-8.6 5l-4.3 2z"/>
<path fill="url(#p71)" d="M72.4 74.7l4.3-2l8.6-5l2.2-1l2.2-0.7l6.4-1.1l4.4-1.5l4.3-2.3l8.6-5.6l4.4-2.4l2.1-0.8l4.4-0.7l4.3 0.2l2.1 4.3l2.2 6.9l2.2 6.1l2.1 1.9l4.4-1.2l1.6 2.1l-4.3 1.3l-2.2-1.6l-2.2-6l-2.1-7.1l-2.2-4.7l-2.2-0.4l-4.3 0.1l-2.1 0.4l-4.4 1.7l-15.1 9.3l-4.3 1.4l-6.5 1.1l-2.2 0.7l-4.3 2.2l-6.5 3.9l-4.3 2.1z"/>
<path fill="url(#p70)" d="M74 75.7l4.3-2.1l6.5-3.9l4.3-2.2l2.2-0.7l6.5-1.1l4.3-1.4l15.1-9.3l4.4-1.7l2.1-0.4l4.3-0.1l2.2 0.4l2.2 4.7l2.1 7.1l2.2 6l2.2 1.6l4.3-1.3l1.6 1.9l-4.3 1.3l-2.2-1.3l-2.1-5.9l-2.2-7.1l-2.2-4.9l-2.1-0.6l-4.4 0l-2.1 0.4l-4.4 1.6l-15.1 9.2l-4.3 1.5l-6.5 1l-4.3 1.5l-8.7 5.3l-4.3 2.1z"/>
</g>

<rect x="157.6" y="12.9" width="6.8" height="112.7" fill="url(#jet)" stroke="#2a2a2a" stroke-width=".4"/>
<text class="c" x="166.3" y="127.3">23</text>
<text class="c" x="166.3" y="108.5">24</text>
<text class="c" x="166.3" y="89.7">25</text>
<text class="c" x="166.3" y="71.0">26</text>
<text class="c" x="166.3" y="52.2">27</text>
<text class="c" x="166.3" y="33.4">28</text>
<text class="c" x="166.3" y="14.6">29</text>
</g>
<g transform="translate(184.3 339.1)">
<text class="t" x="84.3" y="11.5">Road Marking</text>
<path d="M23.7 87.1 L92.9 62.1 L144.8 95.5 M23.7 67.6 L92.9 42.6 L144.8 76.0 M23.7 48.1 L92.9 23.1 L144.8 56.5" fill="none" stroke="#d2d2d2" stroke-width=".9" stroke-dasharray="3.4 5.4"/>
<g transform="matrix(69.200 -25.000 -51.900 -33.400 75.60 125.60)">
<rect width="1" height="1" fill="#5c5c5c"/>

</g>
<g clip-path="url(#bc)"><polygon points="20,95 53,81.6 81.5,84.9 129,103.4 150,110 150,60 20,60" fill="#7e7e7e"/><polygon points="53.1,81.6 81.5,84.9 60.4,90.7" fill="#f6f6f6"/><polygon points="67.3,88.5 79.1,85.2 135,105.5 120,110" fill="#f6f6f6"/><circle cx="75.5" cy="111.6" r=".8" fill="#ccc"/></g>
<polygon points="23.7,92.2 75.6,125.6 144.8,100.6 92.9,67.2" fill="#888" filter="url(#n)" opacity="0.08"/>
<path d="M23.7 92.5L75.6 125.9L144.8 100.9" fill="none" stroke="#0a0a0a" stroke-width="1.15" stroke-linejoin="miter"/>
<path d="M23.7 36.0 V92.2M23.7 91.0h-1.3M23.7 87.1h-1.3M23.7 83.2h-1.3M23.7 79.3h-1.3M23.7 75.4h-1.3M23.7 71.5h-1.3M23.7 67.6h-1.3M23.7 63.7h-1.3M23.7 59.8h-1.3M23.7 55.9h-1.3M23.7 52.0h-1.3M23.7 48.1h-1.3M23.7 44.2h-1.3M23.7 40.3h-1.3M23.7 36.4h-1.3M23.7 87.1h-2.2M23.7 67.6h-2.2M23.7 48.1h-2.2" fill="none" stroke="#000" stroke-width=".9"/>
<text class="z" x="20.2" y="88.8">20</text>
<text class="z" x="20.2" y="69.3">25</text>
<text class="z" x="20.2" y="49.8">30</text>
<text class="y" transform="translate(11.2 65) rotate(-90)">Temperature</text>
<g class="s">
<defs><linearGradient id="p833" gradientUnits="userSpaceOnUse" x1="24.5" x2="93.7"><stop offset="0" stop-color="#f50"/><stop offset=".147" stop-color="#e00"/><stop offset=".235" stop-color="#c00"/><stop offset=".382" stop-color="#c00"/><stop offset=".412" stop-color="#f30"/><stop offset=".441" stop-color="#df2"/><stop offset=".471" stop-color="#fe0"/><stop offset=".559" stop-color="#f40"/><stop offset=".618" stop-color="#f00"/><stop offset=".676" stop-color="#c00"/><stop offset=".765" stop-color="#a00"/><stop offset="1" stop-color="#a00"/></linearGradient>
<linearGradient id="p832" gradientUnits="userSpaceOnUse" x1="26" x2="95.2"><stop offset="0" stop-color="#f50"/><stop offset=".147" stop-color="#e00"/><stop offset=".235" stop-color="#c00"/><stop offset=".324" stop-color="#c00"/><stop offset=".382" stop-color="#c00"/><stop offset=".412" stop-color="#e00"/><stop offset=".441" stop-color="#ef1"/><stop offset=".471" stop-color="#ff0"/><stop offset=".559" stop-color="#f50"/><stop offset=".618" stop-color="#f00"/><stop offset=".676" stop-color="#c00"/><stop offset=".765" stop-color="#900"/><stop offset="1" stop-color="#a00"/></linearGradient>
<linearGradient id="p831" gradientUnits="userSpaceOnUse" x1="27.5" x2="96.7"><stop offset="0" stop-color="#f40"/><stop offset=".147" stop-color="#e00"/><stop offset=".265" stop-color="#c00"/><stop offset=".412" stop-color="#c00"/><stop offset=".441" stop-color="#fb0"/><stop offset=".471" stop-color="#ef1"/><stop offset=".5" stop-color="#fd0"/><stop offset=".618" stop-color="#f00"/><stop offset=".676" stop-color="#c00"/><stop offset=".765" stop-color="#900"/><stop offset="1" stop-color="#a00"/></linearGradient>
<linearGradient id="p830" gradientUnits="userSpaceOnUse" x1="29" x2="98.2"><stop offset="0" stop-color="#f40"/><stop offset=".147" stop-color="#e00"/><stop offset=".265" stop-color="#c00"/><stop offset=".412" stop-color="#c00"/><stop offset=".441" stop-color="#f50"/><stop offset=".471" stop-color="#ef1"/><stop offset=".5" stop-color="#fe0"/><stop offset=".618" stop-color="#f10"/><stop offset=".647" stop-color="#e00"/><stop offset=".706" stop-color="#b00"/><stop offset=".794" stop-color="#900"/><stop offset="1" stop-color="#a00"/></linearGradient>
<linearGradient id="p829" gradientUnits="userSpaceOnUse" x1="30.6" x2="99.8"><stop offset="0" stop-color="#f40"/><stop offset=".118" stop-color="#f00"/><stop offset=".235" stop-color="#c00"/><stop offset=".324" stop-color="#b00"/><stop offset=".412" stop-color="#c00"/><stop offset=".441" stop-color="#f00"/><stop offset=".471" stop-color="#ef1"/><stop offset=".5" stop-color="#ff0"/><stop offset=".588" stop-color="#f50"/><stop offset=".647" stop-color="#e00"/><stop offset=".706" stop-color="#b00"/><stop offset=".794" stop-color="#900"/><stop offset="1" stop-color="#b00"/></linearGradient>
<linearGradient id="p828" gradientUnits="userSpaceOnUse" x1="32.1" x2="101.3"><stop offset="0" stop-color="#f30"/><stop offset=".118" stop-color="#f00"/><stop offset=".294" stop-color="#b00"/><stop offset=".412" stop-color="#b00"/><stop offset=".441" stop-color="#c00"/><stop offset=".471" stop-color="#fc0"/><stop offset=".5" stop-color="#ff0"/><stop offset=".647" stop-color="#f00"/><stop offset=".706" stop-color="#c00"/><stop offset=".794" stop-color="#a00"/><stop offset="1" stop-color="#b00"/></linearGradient>
<linearGradient id="p827" gradientUnits="userSpaceOnUse" x1="33.6" x2="102.8"><stop offset="0" stop-color="#f30"/><stop offset=".118" stop-color="#f00"/><stop offset=".265" stop-color="#c00"/><stop offset=".441" stop-color="#c00"/><stop offset=".471" stop-color="#f50"/><stop offset=".5" stop-color="#ff0"/><stop offset=".647" stop-color="#f10"/><stop offset=".735" stop-color="#b00"/><stop offset=".794" stop-color="#a00"/><stop offset="1" stop-color="#b00"/></linearGradient>
<linearGradient id="p826" gradientUnits="userSpaceOnUse" x1="35.1" x2="104.3"><stop offset="0" stop-color="#f20"/><stop offset=".118" stop-color="#f00"/><stop offset=".235" stop-color="#c00"/><stop offset=".353" stop-color="#b00"/><stop offset=".441" stop-color="#b00"/><stop offset=".471" stop-color="#f00"/><stop offset=".5" stop-color="#fe0"/><stop offset=".529" stop-color="#fd0"/><stop offset=".647" stop-color="#f10"/><stop offset=".676" stop-color="#e00"/><stop offset=".735" stop-color="#b00"/><stop offset=".794" stop-color="#a00"/><stop offset="1" stop-color="#b00"/></linearGradient>
<linearGradient id="p825" gradientUnits="userSpaceOnUse" x1="36.7" x2="105.9"><stop offset="0" stop-color="#f20"/><stop offset=".118" stop-color="#f00"/><stop offset=".324" stop-color="#b00"/><stop offset=".441" stop-color="#b00"/><stop offset=".471" stop-color="#d00"/><stop offset=".5" stop-color="#fb0"/><stop offset=".529" stop-color="#fd0"/><stop offset=".647" stop-color="#f20"/><stop offset=".676" stop-color="#f00"/><stop offset=".735" stop-color="#c00"/><stop offset=".794" stop-color="#a00"/><stop offset="1" stop-color="#b00"/></linearGradient>
<linearGradient id="p824" gradientUnits="userSpaceOnUse" x1="38.2" x2="107.4"><stop offset="0" stop-color="#f20"/><stop offset=".118" stop-color="#f00"/><stop offset=".324" stop-color="#b00"/><stop offset=".471" stop-color="#c00"/><stop offset=".5" stop-color="#f60"/><stop offset=".529" stop-color="#fd0"/><stop offset=".676" stop-color="#f00"/><stop offset=".735" stop-color="#c00"/><stop offset=".794" stop-color="#a00"/><stop offset="1" stop-color="#b00"/></linearGradient>
<linearGradient id="p823" gradientUnits="userSpaceOnUse" x1="39.7" x2="108.9"><stop offset="0" stop-color="#f10"/><stop offset=".088" stop-color="#f00"/><stop offset=".324" stop-color="#c00"/><stop offset=".471" stop-color="#c00"/><stop offset=".5" stop-color="#f10"/><stop offset=".529" stop-color="#fc0"/><stop offset=".559" stop-color="#fa0"/><stop offset=".676" stop-color="#f00"/><stop offset=".735" stop-color="#c00"/><stop offset=".794" stop-color="#a00"/><stop offset="1" stop-color="#a00"/></linearGradient>
<linearGradient id="p822" gradientUnits="userSpaceOnUse" x1="41.3" x2="110.5"><stop offset="0" stop-color="#f10"/><stop offset=".088" stop-color="#f00"/><stop offset=".353" stop-color="#c00"/><stop offset=".471" stop-color="#c00"/><stop offset=".5" stop-color="#d00"/><stop offset=".529" stop-color="#fa0"/><stop offset=".559" stop-color="#fa0"/><stop offset=".676" stop-color="#f00"/><stop offset=".794" stop-color="#a00"/><stop offset="1" stop-color="#a00"/></linearGradient>
<linearGradient id="p821" gradientUnits="userSpaceOnUse" x1="42.8" x2="112"><stop offset="0" stop-color="#f10"/><stop offset=".294" stop-color="#c00"/><stop offset=".5" stop-color="#d00"/><stop offset=".529" stop-color="#f60"/><stop offset=".559" stop-color="#fa0"/><stop offset=".676" stop-color="#f00"/><stop offset=".794" stop-color="#a00"/><stop offset="1" stop-color="#900"/></linearGradient>
<linearGradient id="p820" gradientUnits="userSpaceOnUse" x1="44.3" x2="113.5"><stop offset="0" stop-color="#f00"/><stop offset=".294" stop-color="#c00"/><stop offset=".5" stop-color="#d00"/><stop offset=".529" stop-color="#f10"/><stop offset=".559" stop-color="#fa0"/><stop offset=".676" stop-color="#f10"/><stop offset=".706" stop-color="#e00"/><stop offset=".824" stop-color="#900"/><stop offset="1" stop-color="#900"/></linearGradient>
<linearGradient id="p819" gradientUnits="userSpaceOnUse" x1="45.8" x2="115"><stop offset="0" stop-color="#f00"/><stop offset=".294" stop-color="#c00"/><stop offset=".5" stop-color="#d00"/><stop offset=".529" stop-color="#e00"/><stop offset=".559" stop-color="#f80"/><stop offset=".588" stop-color="#f80"/><stop offset=".676" stop-color="#f10"/><stop offset=".706" stop-color="#e00"/><stop offset=".824" stop-color="#900"/><stop offset="1" stop-color="#900"/></linearGradient>
<linearGradient id="p818" gradientUnits="userSpaceOnUse" x1="47.4" x2="116.6"><stop offset="0" stop-color="#e00"/><stop offset=".265" stop-color="#c00"/><stop offset=".529" stop-color="#d00"/><stop offset=".559" stop-color="#f50"/><stop offset=".588" stop-color="#f80"/><stop offset=".706" stop-color="#e00"/><stop offset=".824" stop-color="#a00"/><stop offset="1" stop-color="#900"/></linearGradient>
<linearGradient id="p817" gradientUnits="userSpaceOnUse" x1="48.9" x2="118.1"><stop offset="0" stop-color="#e00"/><stop offset=".265" stop-color="#c00"/><stop offset=".529" stop-color="#d00"/><stop offset=".559" stop-color="#f20"/><stop offset=".588" stop-color="#f80"/><stop offset=".706" stop-color="#f00"/><stop offset=".824" stop-color="#a00"/><stop offset="1" stop-color="#900"/></linearGradient>
<linearGradient id="p816" gradientUnits="userSpaceOnUse" x1="50.4" x2="119.6"><stop offset="0" stop-color="#d00"/><stop offset=".265" stop-color="#b00"/><stop offset=".529" stop-color="#d00"/><stop offset=".559" stop-color="#e00"/><stop offset=".588" stop-color="#f80"/><stop offset=".618" stop-color="#f70"/><stop offset=".706" stop-color="#f10"/><stop offset=".735" stop-color="#e00"/><stop offset=".853" stop-color="#a00"/><stop offset="1" stop-color="#900"/></linearGradient>
<linearGradient id="p815" gradientUnits="userSpaceOnUse" x1="51.9" x2="121.1"><stop offset="0" stop-color="#d00"/><stop offset=".265" stop-color="#b00"/><stop offset=".559" stop-color="#d00"/><stop offset=".588" stop-color="#f60"/><stop offset=".618" stop-color="#f80"/><stop offset=".735" stop-color="#f00"/><stop offset=".853" stop-color="#a00"/><stop offset="1" stop-color="#900"/></linearGradient>
<linearGradient id="p814" gradientUnits="userSpaceOnUse" x1="53.5" x2="122.7"><stop offset="0" stop-color="#d00"/><stop offset=".265" stop-color="#a00"/><stop offset=".559" stop-color="#c00"/><stop offset=".588" stop-color="#f20"/><stop offset=".618" stop-color="#f80"/><stop offset=".735" stop-color="#f00"/><stop offset=".853" stop-color="#a00"/><stop offset="1" stop-color="#900"/></linearGradient>
<linearGradient id="p813" gradientUnits="userSpaceOnUse" x1="55" x2="124.2"><stop offset="0" stop-color="#d00"/><stop offset=".265" stop-color="#900"/><stop offset=".559" stop-color="#c00"/><stop offset=".588" stop-color="#e00"/><stop offset=".618" stop-color="#f80"/><stop offset=".647" stop-color="#f70"/><stop offset=".765" stop-color="#e00"/><stop offset=".882" stop-color="#a00"/><stop offset="1" stop-color="#900"/></linearGradient>
<linearGradient id="p812" gradientUnits="userSpaceOnUse" x1="56.5" x2="125.7"><stop offset="0" stop-color="#d00"/><stop offset=".265" stop-color="#900"/><stop offset=".588" stop-color="#d00"/><stop offset=".618" stop-color="#f60"/><stop offset=".647" stop-color="#f80"/><stop offset=".765" stop-color="#f00"/><stop offset=".882" stop-color="#a00"/><stop offset="1" stop-color="#900"/></linearGradient>
<linearGradient id="p811" gradientUnits="userSpaceOnUse" x1="58" x2="127.2"><stop offset="0" stop-color="#d00"/><stop offset=".265" stop-color="#900"/><stop offset=".588" stop-color="#c00"/><stop offset=".618" stop-color="#f30"/><stop offset=".647" stop-color="#f80"/><stop offset=".765" stop-color="#f00"/><stop offset=".882" stop-color="#a00"/><stop offset="1" stop-color="#800"/></linearGradient>
<linearGradient id="p810" gradientUnits="userSpaceOnUse" x1="59.6" x2="128.8"><stop offset="0" stop-color="#d00"/><stop offset=".206" stop-color="#900"/><stop offset=".294" stop-color="#900"/><stop offset=".588" stop-color="#c00"/><stop offset=".618" stop-color="#f00"/><stop offset=".647" stop-color="#f80"/><stop offset=".676" stop-color="#f70"/><stop offset=".765" stop-color="#f10"/><stop offset=".794" stop-color="#e00"/><stop offset=".882" stop-color="#a00"/><stop offset="1" stop-color="#800"/></linearGradient>
<linearGradient id="p89" gradientUnits="userSpaceOnUse" x1="61.1" x2="130.3"><stop offset="0" stop-color="#e00"/><stop offset=".265" stop-color="#800"/><stop offset=".618" stop-color="#d00"/><stop offset=".647" stop-color="#f70"/><stop offset=".676" stop-color="#f70"/><stop offset=".794" stop-color="#e00"/><stop offset=".882" stop-color="#a00"/><stop offset="1" stop-color="#800"/></linearGradient>
<linearGradient id="p88" gradientUnits="userSpaceOnUse" x1="62.6" x2="131.8"><stop offset="0" stop-color="#e00"/><stop offset=".265" stop-color="#900"/><stop offset=".618" stop-color="#c00"/><stop offset=".647" stop-color="#f30"/><stop offset=".676" stop-color="#f80"/><stop offset=".794" stop-color="#f00"/><stop offset=".882" stop-color="#a00"/><stop offset="1" stop-color="#800"/></linearGradient>
<linearGradient id="p87" gradientUnits="userSpaceOnUse" x1="64.2" x2="133.4"><stop offset="0" stop-color="#e00"/><stop offset=".294" stop-color="#900"/><stop offset=".618" stop-color="#c00"/><stop offset=".647" stop-color="#f00"/><stop offset=".676" stop-color="#f80"/><stop offset=".794" stop-color="#f00"/><stop offset=".882" stop-color="#a00"/><stop offset="1" stop-color="#800"/></linearGradient>
<linearGradient id="p86" gradientUnits="userSpaceOnUse" x1="65.7" x2="134.9"><stop offset="0" stop-color="#e00"/><stop offset=".294" stop-color="#900"/><stop offset=".647" stop-color="#d00"/><stop offset=".676" stop-color="#f70"/><stop offset=".706" stop-color="#f70"/><stop offset=".794" stop-color="#f10"/><stop offset=".912" stop-color="#a00"/><stop offset="1" stop-color="#800"/></linearGradient>
<linearGradient id="p85" gradientUnits="userSpaceOnUse" x1="67.2" x2="136.4"><stop offset="0" stop-color="#e00"/><stop offset=".294" stop-color="#900"/><stop offset=".647" stop-color="#c00"/><stop offset=".676" stop-color="#f40"/><stop offset=".706" stop-color="#f80"/><stop offset=".824" stop-color="#e00"/><stop offset=".912" stop-color="#a00"/><stop offset="1" stop-color="#800"/></linearGradient>
<linearGradient id="p84" gradientUnits="userSpaceOnUse" x1="68.7" x2="137.9"><stop offset="0" stop-color="#d00"/><stop offset=".294" stop-color="#900"/><stop offset=".647" stop-color="#c00"/><stop offset=".676" stop-color="#f10"/><stop offset=".706" stop-color="#f90"/><stop offset=".765" stop-color="#f60"/><stop offset=".824" stop-color="#f00"/><stop offset=".912" stop-color="#a00"/><stop offset="1" stop-color="#800"/></linearGradient>
<linearGradient id="p83" gradientUnits="userSpaceOnUse" x1="70.3" x2="139.5"><stop offset="0" stop-color="#c00"/><stop offset=".206" stop-color="#900"/><stop offset=".324" stop-color="#900"/><stop offset=".618" stop-color="#c00"/><stop offset=".647" stop-color="#c00"/><stop offset=".676" stop-color="#f00"/><stop offset=".706" stop-color="#fa0"/><stop offset=".735" stop-color="#fb0"/><stop offset=".765" stop-color="#f90"/><stop offset=".824" stop-color="#f10"/><stop offset=".853" stop-color="#d00"/><stop offset=".912" stop-color="#a00"/><stop offset="1" stop-color="#800"/></linearGradient>
<linearGradient id="p82" gradientUnits="userSpaceOnUse" x1="71.8" x2="141"><stop offset="0" stop-color="#c00"/><stop offset=".206" stop-color="#900"/><stop offset=".353" stop-color="#900"/><stop offset=".618" stop-color="#c00"/><stop offset=".676" stop-color="#f00"/><stop offset=".706" stop-color="#fb0"/><stop offset=".735" stop-color="#ff0"/><stop offset=".765" stop-color="#fd0"/><stop offset=".824" stop-color="#f30"/><stop offset=".853" stop-color="#e00"/><stop offset=".912" stop-color="#a00"/><stop offset="1" stop-color="#900"/></linearGradient>
<linearGradient id="p81" gradientUnits="userSpaceOnUse" x1="73.3" x2="142.5"><stop offset="0" stop-color="#b00"/><stop offset=".029" stop-color="#c00"/><stop offset=".059" stop-color="#a00"/><stop offset=".265" stop-color="#900"/><stop offset=".529" stop-color="#b00"/><stop offset=".647" stop-color="#d00"/><stop offset=".676" stop-color="#f10"/><stop offset=".706" stop-color="#fa0"/><stop offset=".735" stop-color="#bf4"/><stop offset=".765" stop-color="#cf3"/><stop offset=".794" stop-color="#fc0"/><stop offset=".824" stop-color="#f50"/><stop offset=".853" stop-color="#f00"/><stop offset=".912" stop-color="#b00"/><stop offset="1" stop-color="#900"/></linearGradient>
<linearGradient id="p80" gradientUnits="userSpaceOnUse" x1="74.8" x2="144"><stop offset="0" stop-color="#c00"/><stop offset=".029" stop-color="#f00"/><stop offset=".059" stop-color="#a00"/><stop offset=".235" stop-color="#900"/><stop offset=".529" stop-color="#b00"/><stop offset=".618" stop-color="#c00"/><stop offset=".647" stop-color="#e00"/><stop offset=".676" stop-color="#f20"/><stop offset=".706" stop-color="#f90"/><stop offset=".735" stop-color="#8f7"/><stop offset=".765" stop-color="#af5"/><stop offset=".794" stop-color="#fe0"/><stop offset=".824" stop-color="#f60"/><stop offset=".853" stop-color="#f10"/><stop offset=".912" stop-color="#b00"/><stop offset="1" stop-color="#900"/></linearGradient></defs>
<path fill="url(#p833)" d="M23.7 47.2l8.1-1.8l18.4-3l2 1.4l2-0.9l2.1-1.8l4-4.9l2.1-1.6l2-1.1l4.1-1.6l10.2-3.1l14.2-5.6l1.5 1.2l-12.2 4.9l-12.2 3.9l-4.1 1.8l-2 1.2l-2 2l-4.1 4.9l-2 1.3l-4.1-0.5l-18.3 3l-8.2 1.9z"/>
<path fill="url(#p832)" d="M25.2 48.2l8.2-1.9l18.3-3l4.1 0.5l2-1.3l4.1-4.9l2-2l2-1.2l4.1-1.8l12.2-3.9l12.2-4.9l1.6 1.4l-12.3 4.8l-12.2 4l-4 1.9l-2.1 1.4l-4 4.9l-2.1 2.1l-2 2.9l-2.1-2.7l-20.3 3.3l-8.1 1.9z"/>
<path fill="url(#p831)" d="M26.8 49.1l8.1-1.9l20.3-3.3l2.1 2.7l2-2.9l2.1-2.1l4-4.9l2.1-1.4l4-1.9l12.2-4l12.3-4.8l1.5 1.4l-12.2 4.6l-10.2 3.4l-4.1 1.8l-2 1.1l-2 1.7l-4.1 5l-2.1 1.9l-2 1.3l-2-1.6l-20.4 3.5l-8.1 1.9z"/>
<path fill="url(#p830)" d="M28.3 50l8.1-1.9l20.4-3.5l2 1.6l2-1.3l2.1-1.9l4.1-5l2-1.7l2-1.1l4.1-1.8l10.2-3.4l12.2-4.6l1.5 1.4l-22.4 7.9l-4.1 1.9l-2 1.3l-2 2l-4.1 5.1l-2 1.5l-4.1-0.5l-8.1 1.6l-12.3 2l-8.1 1.9z"/>
<path fill="url(#p829)" d="M29.8 50.9l8.1-1.9l12.3-2l8.1-1.6l4.1 0.5l2-1.5l4.1-5.1l2-2l2-1.3l4.1-1.9l22.4-7.9l1.5 1.4l-20.3 7.1l-6.1 2.9l-2.1 1.4l-2 2.3l-2 2.6l-2.1 2.3l-2 3.2l-2-2.9l-22.4 4l-8.2 1.9z"/>
<path fill="url(#p828)" d="M31.3 51.8l8.2-1.9l22.4-4l2 2.9l2-3.2l2.1-2.3l2-2.6l2-2.3l2.1-1.4l6.1-2.9l20.3-7.1l1.6 1.4l-18.4 6.2l-6.1 2.7l-2 1.2l-2 1.7l-4.1 5.1l-4.1 3.7l-2-1.9l-24.4 4.6l-6.1 1.6z"/>
<path fill="url(#p827)" d="M32.9 52.7l6.1-1.6l24.4-4.6l2 1.9l4.1-3.7l4.1-5.1l2-1.7l2-1.2l6.1-2.7l18.4-6.2l1.5 1.4l-18.3 6.1l-6.1 2.8l-2.1 1.3l-2 2l-4.1 5.1l-2 1.6l-2 0.2l-2.1-0.6l-24.4 4.9l-6.1 1.5z"/>
<path fill="url(#p826)" d="M34.4 53.5l6.1-1.5l24.4-4.9l2.1 0.6l2-0.2l2-1.6l4.1-5.1l2-2l2.1-1.3l6.1-2.8l18.3-6.1l1.5 1.4l-18.3 6l-6.1 2.9l-2 1.5l-2.1 2.3l-4.1 4.9l-2 3.5l-2-2.9l-2.1 0.1l-24.4 5.1l-6.1 1.6z"/>
<path fill="url(#p825)" d="M35.9 54.4l6.1-1.6l24.4-5.1l2.1-0.1l2 2.9l2-3.5l4.1-4.9l2.1-2.3l2-1.5l6.1-2.9l18.3-6l1.5 1.3l-16.2 5.2l-6.1 2.6l-2.1 1.3l-2 1.6l-4.1 5.2l-4.1 4l-2-2.2l-32.6 7.5z"/>
<path fill="url(#p824)" d="M37.4 55.3l32.6-7.5l2 2.2l4.1-4l4.1-5.2l2-1.6l2.1-1.3l6.1-2.6l16.2-5.2l1.6 1.4l-16.3 5l-6.1 2.8l-2.1 1.3l-2 1.9l-4.1 5.2l-2 1.7l-2 0.3l-2.1-0.9l-32.5 8z"/>
<path fill="url(#p823)" d="M39 56.2l32.5-8l2.1 0.9l2-0.3l2-1.7l4.1-5.2l2-1.9l2.1-1.3l6.1-2.8l16.3-5l1.5 1.2l-16.3 5l-6.1 2.9l-2 1.4l-2.1 2.3l-4 5l-2.1 3.3l-2-2.8l-2 0l-10.2 2.4l-22.4 6.1z"/>
<path fill="url(#p822)" d="M40.5 57.1l22.4-6.1l10.2-2.4l2 0l2 2.8l2.1-3.3l4-5l2.1-2.3l2-1.4l6.1-2.9l16.3-5l1.5 1.2l-14.2 4.3l-6.1 2.5l-4.1 2.8l-4.1 5.1l-4 4.2l-2.1-2.5l-2 0.4l-10.2 2.6l-22.4 6.6z"/>
<path fill="url(#p821)" d="M42 58.1l22.4-6.6l10.2-2.6l2-0.4l2.1 2.5l4-4.2l4.1-5.1l4.1-2.8l6.1-2.5l14.2-4.3l1.5 1.1l-14.2 4.3l-6.1 2.7l-2 1.3l-2.1 1.8l-4.1 5.1l-2 1.8l-2 0.2l-2.1-1.1l-2 0.4l-8.1 2.2l-24.5 7.9z"/>
<path fill="url(#p820)" d="M43.5 59.2l24.5-7.9l8.1-2.2l2-0.4l2.1 1.1l2-0.2l2-1.8l4.1-5.1l2.1-1.8l2-1.3l6.1-2.7l14.2-4.3l1.6 1l-14.3 4.4l-6.1 2.9l-2 1.3l-2.1 2.2l-4 5l-2.1 1.3l-2-1.1l-2-0.1l-4.1 1l-6.1 1.8l-24.4 8.5z"/>
<path fill="url(#p819)" d="M45.1 60.2l24.4-8.5l6.1-1.8l4.1-1l2 0.1l2 1.1l2.1-1.3l4-5l2.1-2.2l2-1.3l6.1-2.9l14.3-4.4l1.5 1l-14.2 4.6l-6.2 3l-2 1.5l-4.1 5l-4 4l-2.1-2.7l-4 0.8l-8.2 2.6l-24.4 9z"/>
<path fill="url(#p818)" d="M46.6 61.2l24.4-9l8.2-2.6l4-0.8l2.1 2.7l4-4l4.1-5l2-1.5l6.2-3l14.2-4.6l1.5 1.1l-12.2 4l-6.1 2.7l-2 1.3l-2.1 1.7l-4 5l-2.1 1.8l-2 0.1l-2-1.5l-6.1 1.5l-6.2 2.1l-24.4 9.5z"/>
<path fill="url(#p817)" d="M48.1 62.1l24.4-9.5l6.2-2.1l6.1-1.5l2 1.5l2-0.1l2.1-1.8l4-5l2.1-1.7l2-1.3l6.1-2.7l12.2-4l1.6 1.2l-12.3 4.2l-6.1 2.8l-2 1.3l-2 2l-4.1 4.8l-2 1.4l-2.1-1.4l-2-0.3l-4.1 1.1l-8.1 2.7l-16.3 6.8l-8.2 3z"/>
<path fill="url(#p816)" d="M49.6 62.9l8.2-3l16.3-6.8l8.1-2.7l4.1-1.1l2 0.3l2.1 1.4l2-1.4l4.1-4.8l2-2l2-1.3l6.1-2.8l12.3-4.2l1.5 1.3l-12.2 4.3l-6.1 3l-2.1 1.4l-4 4.6l-4.1 3.8l-2.1-2.8l-4 0.9l-10.2 3.3l-24.4 9.9z"/>
<path fill="url(#p815)" d="M51.2 63.6l24.4-9.9l10.2-3.3l4-0.9l2.1 2.8l4.1-3.8l4-4.6l2.1-1.4l6.1-3l12.2-4.3l1.5 1.4l-12.2 4.5l-6.1 3l-2 1.6l-4.1 4.6l-2.1 1.7l-2 0.1l-2-1.7l-4.1 1.2l-10.2 3.4l-24.4 9.9z"/>
<path fill="url(#p814)" d="M52.7 64.3l24.4-9.9l10.2-3.4l4.1-1.2l2 1.7l2-0.1l2.1-1.7l4.1-4.6l2-1.6l6.1-3l12.2-4.5l1.5 1.4l-10.1 3.8l-6.2 2.8l-2 1.2l-2 1.8l-4.1 4.4l-2 1.4l-2.1-1.5l-2-0.3l-14.2 4.8l-24.5 9.7z"/>
<path fill="url(#p813)" d="M54.2 64.9l24.5-9.7l14.2-4.8l2 0.3l2.1 1.5l2-1.4l4.1-4.4l2-1.8l2-1.2l6.2-2.8l10.1-3.8l1.6 1.5l-10.2 3.8l-6.1 3l-2.1 1.3l-6.1 6.1l-2 1.5l-2-2.8l-2.1 0.4l-14.2 4.9l-24.4 9.5z"/>
<path fill="url(#p812)" d="M55.8 65.4l24.4-9.5l14.2-4.9l2.1-0.4l2 2.8l2-1.5l6.1-6.1l2.1-1.3l6.1-3l10.2-3.8l1.5 1.4l-10.2 4l-4.1 1.9l-4 2.7l-4.1 4.1l-2 1.7l-2.1 0l-2-1.9l-18.3 6.4l-22.4 8.6z"/>
<path fill="url(#p811)" d="M57.3 66l22.4-8.6l18.3-6.4l2 1.9l2.1 0l2-1.7l4.1-4.1l4-2.7l4.1-1.9l10.2-4l1.5 1.5l-10.2 4l-4 2.1l-2.1 1.3l-6.1 5.6l-2 1.3l-2-1.6l-2.1-0.5l-40.7 14.9z"/>
<path fill="url(#p810)" d="M58.8 66.5l40.7-14.9l2.1 0.5l2 1.6l2-1.3l6.1-5.6l2.1-1.3l4-2.1l10.2-4l1.5 1.5l-10.1 4.1l-4.1 2.2l-2 1.4l-6.2 5.4l-2 1.3l-2-2.7l-2.1 0.3l-40.7 14.7z"/>
<path fill="url(#p89)" d="M60.3 67l40.7-14.7l2.1-0.3l2 2.7l2-1.3l6.2-5.4l2-1.4l4.1-2.2l10.1-4.1l1.6 1.5l-8.2 3.2l-4.1 2l-4 2.8l-4.1 3.7l-2 1.5l-2.1 0l-2-2.1l-42.7 15.2z"/>
<path fill="url(#p88)" d="M61.9 67.5l42.7-15.2l2 2.1l2.1 0l2-1.5l4.1-3.7l4-2.8l4.1-2l8.2-3.2l1.5 1.5l-8.2 3.2l-4 2.1l-4.1 3l-4.1 3.5l-2 1.3l-2-1.5l-2.1-0.8l-30.5 11l-12.2 4z"/>
<path fill="url(#p87)" d="M63.4 67.9l12.2-4l30.5-11l2.1 0.8l2 1.5l2-1.3l4.1-3.5l4.1-3l4-2.1l8.2-3.2l1.5 1.5l-10.2 4.2l-4 2.7l-6.1 5l-2.1 1.1l-2-2.6l-2 0.2l-12.3 4.5l-30.5 10.2z"/>
<path fill="url(#p86)" d="M64.9 68.3l30.5-10.2l12.3-4.5l2-0.2l2 2.6l2.1-1.1l6.1-5l4-2.7l10.2-4.2l1.5 1.4l-6.1 2.4l-4 1.9l-2.1 1.4l-6.1 5.1l-2 1.3l-2 0.2l-2.1-2.4l-14.2 5.1l-30.6 10z"/>
<path fill="url(#p85)" d="M66.4 68.8l30.6-10l14.2-5.1l2.1 2.4l2-0.2l2-1.3l6.1-5.1l2.1-1.4l4-1.9l6.1-2.4l1.6 1.5l-6.1 2.2l-4.1 2.1l-2 1.6l-4.1 4.1l-2.1 1.6l-2 0.9l-4.1-2.9l-14.2 5.2l-30.5 9.8z"/>
<path fill="url(#p84)" d="M68 69.3l30.5-9.8l14.2-5.2l4.1 2.9l2-0.9l2.1-1.6l4.1-4.1l2-1.6l4.1-2.1l6.1-2.2l1.5 1.3l-6.1 2.2l-2 1l-2.1 1.3l-2 2.1l-4.1 5.1l-2 1.5l-2.1 0.4l-2-3.3l-2-0.6l-2.1 0.5l-12.2 4.6l-14.2 4.2l-16.3 5.4z"/>
<path fill="url(#p83)" d="M69.5 69.8l16.3-5.4l14.2-4.2l12.2-4.6l2.1-0.5l2 0.6l2 3.3l2.1-0.4l2-1.5l4.1-5.1l2-2.1l2.1-1.3l2-1l6.1-2.2l1.5 1.3l-6.1 2.1l-2 1.1l-2.1 1.7l-2 2.7l-4.1 6.6l-2 1.5l-2-0.9l-2.1-4.3l-2-0.6l-2 0.3l-12.2 4.5l-14.3 4l-16.3 5.6z"/>
<path fill="url(#p82)" d="M71 70.4l16.3-5.6l14.3-4l12.2-4.5l2-0.3l2 0.6l2.1 4.3l2 0.9l2-1.5l4.1-6.6l2-2.7l2.1-1.7l2-1.1l6.1-2.1l1.5 1.2l-6.1 2.1l-2 1.2l-2 2.1l-2.1 3.4l-2 4.6l-2 3.9l-2.1 1.3l-2-3l-2-4.1l-2.1-1.2l-2-0.1l-14.3 5.1l-12.2 3.1l-16.3 5.9z"/>
<path fill="url(#p81)" d="M72.5 71l16.3-5.9l12.2-3.1l14.3-5.1l2 0.1l2.1 1.2l2 4.1l2 3l2.1-1.3l2-3.9l2-4.6l2.1-3.4l2-2.1l2-1.2l6.1-2.1l1.6 1.2l-6.1 2.2l-2.1 1.2l-2 2.4l-2 4.2l-2.1 5.4l-2 4.5l-2 1.2l-2.1-5l-2-3.8l-2.1-1.7l-2-0.4l-2 0.5l-12.2 4.5l-10.2 2.4l-4.1 1.3l-10.2 3.9l-2 1.8l-2 0z"/>
<path fill="url(#p80)" d="M74.1 71.9l2 0l2-1.8l10.2-3.9l4.1-1.3l10.2-2.4l12.2-4.5l2-0.5l2 0.4l2.1 1.7l2 3.8l2.1 5l2-1.2l2-4.5l2.1-5.4l2-4.2l2-2.4l2.1-1.2l6.1-2.2l1.5 1.2l-6.1 2.2l-2 1.4l-2.1 2.5l-2 4.4l-2 5.7l-2.1 4.7l-2 0.9l-2.1-5.7l-2-3.5l-2-2l-2.1-0.4l-2 0.4l-10.2 3.9l-12.2 2.9l-6.1 2.1l-8.1 3.2l-2.1 2.9l-2-0.8z"/>
</g>
<path d="M73.6 71.5Q75.8 76 76.2 91.3L77.2 91.3Q76.9 76 78.2 70.5z" fill="url(#sp)"/>
<rect x="157.6" y="12.9" width="6.8" height="112.7" fill="url(#jet)" stroke="#2a2a2a" stroke-width=".4"/>
<text class="c" x="166.3" y="127.3">24</text>
<text class="c" x="166.3" y="113.2">25</text>
<text class="c" x="166.3" y="99.1">26</text>
<text class="c" x="166.3" y="85.0">27</text>
<text class="c" x="166.3" y="71.0">28</text>
<text class="c" x="166.3" y="56.9">29</text>
<text class="c" x="166.3" y="42.8">30</text>
<text class="c" x="166.3" y="28.7">31</text>
<text class="c" x="166.3" y="14.6">32</text>
</g>
<g transform="translate(368.7 339.1)">
<text class="t" x="84.3" y="11.5">Shadow</text>
<path d="M23.7 84.8 L92.9 59.8 L144.8 93.2 M23.7 72.6 L92.9 47.6 L144.8 81.0 M23.7 60.5 L92.9 35.5 L144.8 68.9 M23.7 48.3 L92.9 23.3 L144.8 56.7 M23.7 36.2 L92.9 11.2 L144.8 44.6" fill="none" stroke="#d2d2d2" stroke-width=".9" stroke-dasharray="3.4 5.4"/>
<g transform="matrix(69.200 -25.000 -51.900 -33.400 75.60 125.60)">
<rect width="1" height="1" fill="#7c7c7c"/>
<rect x="0" y=".515" width="1" height=".13" fill="#2a2a2a" opacity=".16"/><rect x="0" y=".54" width="1" height=".08" fill="#2a2a2a" opacity=".16"/><circle cx=".385" cy=".83" r=".011" fill="#333" opacity=".8"/>
</g>
<polygon points="23.7,92.2 75.6,125.6 144.8,100.6 92.9,67.2" fill="#888" filter="url(#n)" opacity="0.15"/>
<path d="M23.7 92.5L75.6 125.9L144.8 100.9" fill="none" stroke="#0a0a0a" stroke-width="1.15" stroke-linejoin="miter"/>
<path d="M23.7 36.0 V92.2M23.7 90.9h-1.3M23.7 87.8h-1.3M23.7 84.8h-1.3M23.7 81.8h-1.3M23.7 78.7h-1.3M23.7 75.7h-1.3M23.7 72.6h-1.3M23.7 69.6h-1.3M23.7 66.6h-1.3M23.7 63.5h-1.3M23.7 60.5h-1.3M23.7 57.5h-1.3M23.7 54.4h-1.3M23.7 51.4h-1.3M23.7 48.3h-1.3M23.7 45.3h-1.3M23.7 42.3h-1.3M23.7 39.2h-1.3M23.7 36.2h-1.3M23.7 84.8h-2.2M23.7 72.6h-2.2M23.7 60.5h-2.2M23.7 48.3h-2.2M23.7 36.2h-2.2" fill="none" stroke="#000" stroke-width=".9"/>
<text class="z" x="20.2" y="86.5">30</text>
<text class="z" x="20.2" y="74.3">32</text>
<text class="z" x="20.2" y="62.2">34</text>
<text class="z" x="20.2" y="50.0">36</text>
<text class="z" x="20.2" y="37.9">38</text>
<text class="y" transform="translate(11.2 65) rotate(-90)">Temperature</text>
<g class="s">
<defs><linearGradient id="p931" gradientUnits="userSpaceOnUse" x1="24.5" x2="93.7"><stop offset="0" stop-color="#af5"/><stop offset=".031" stop-color="#af5"/><stop offset=".062" stop-color="#af5"/><stop offset=".094" stop-color="#df2"/><stop offset=".125" stop-color="#fe0"/><stop offset=".188" stop-color="#fb0"/><stop offset=".219" stop-color="#fa0"/><stop offset=".312" stop-color="#f00"/><stop offset=".344" stop-color="#d00"/><stop offset=".406" stop-color="#f00"/><stop offset=".469" stop-color="#f20"/><stop offset=".531" stop-color="#f00"/><stop offset=".594" stop-color="#f10"/><stop offset=".75" stop-color="#f00"/><stop offset=".844" stop-color="#d00"/><stop offset="1" stop-color="#f00"/></linearGradient>
<linearGradient id="p930" gradientUnits="userSpaceOnUse" x1="26.1" x2="95.3"><stop offset="0" stop-color="#bf4"/><stop offset=".062" stop-color="#bf4"/><stop offset=".125" stop-color="#fe0"/><stop offset=".219" stop-color="#f90"/><stop offset=".312" stop-color="#f10"/><stop offset=".344" stop-color="#e00"/><stop offset=".406" stop-color="#f00"/><stop offset=".469" stop-color="#f30"/><stop offset=".531" stop-color="#f00"/><stop offset=".625" stop-color="#f00"/><stop offset=".719" stop-color="#d00"/><stop offset=".781" stop-color="#e00"/><stop offset=".844" stop-color="#c00"/><stop offset="1" stop-color="#f10"/></linearGradient>
<linearGradient id="p929" gradientUnits="userSpaceOnUse" x1="27.8" x2="97"><stop offset="0" stop-color="#cf3"/><stop offset=".062" stop-color="#cf3"/><stop offset=".125" stop-color="#ff0"/><stop offset=".344" stop-color="#f00"/><stop offset=".406" stop-color="#f00"/><stop offset=".469" stop-color="#f20"/><stop offset=".531" stop-color="#e00"/><stop offset=".625" stop-color="#f00"/><stop offset=".688" stop-color="#d00"/><stop offset=".75" stop-color="#e00"/><stop offset=".844" stop-color="#c00"/><stop offset=".906" stop-color="#d00"/><stop offset=".938" stop-color="#f00"/><stop offset="1" stop-color="#f10"/></linearGradient>
<linearGradient id="p928" gradientUnits="userSpaceOnUse" x1="29.4" x2="98.6"><stop offset="0" stop-color="#cf3"/><stop offset=".062" stop-color="#cf3"/><stop offset=".125" stop-color="#fe0"/><stop offset=".188" stop-color="#f90"/><stop offset=".281" stop-color="#f50"/><stop offset=".344" stop-color="#f00"/><stop offset=".375" stop-color="#e00"/><stop offset=".469" stop-color="#f00"/><stop offset=".531" stop-color="#d00"/><stop offset=".594" stop-color="#e00"/><stop offset=".688" stop-color="#e00"/><stop offset=".75" stop-color="#f00"/><stop offset=".844" stop-color="#e00"/><stop offset=".906" stop-color="#e00"/><stop offset="1" stop-color="#f30"/></linearGradient>
<linearGradient id="p927" gradientUnits="userSpaceOnUse" x1="31" x2="100.2"><stop offset="0" stop-color="#ef1"/><stop offset=".062" stop-color="#df2"/><stop offset=".094" stop-color="#ff0"/><stop offset=".156" stop-color="#fa0"/><stop offset=".281" stop-color="#f60"/><stop offset=".344" stop-color="#f00"/><stop offset=".375" stop-color="#e00"/><stop offset=".531" stop-color="#c00"/><stop offset=".75" stop-color="#f10"/><stop offset=".906" stop-color="#f10"/><stop offset="1" stop-color="#f60"/></linearGradient>
<linearGradient id="p926" gradientUnits="userSpaceOnUse" x1="32.6" x2="101.8"><stop offset="0" stop-color="#fd0"/><stop offset=".062" stop-color="#fe0"/><stop offset=".094" stop-color="#fd0"/><stop offset=".188" stop-color="#f80"/><stop offset=".281" stop-color="#f70"/><stop offset=".344" stop-color="#f10"/><stop offset=".406" stop-color="#e00"/><stop offset=".5" stop-color="#b00"/><stop offset=".656" stop-color="#c00"/><stop offset=".719" stop-color="#e00"/><stop offset="1" stop-color="#f80"/></linearGradient>
<linearGradient id="p925" gradientUnits="userSpaceOnUse" x1="34.2" x2="103.4"><stop offset="0" stop-color="#fa0"/><stop offset=".125" stop-color="#fb0"/><stop offset=".219" stop-color="#f60"/><stop offset=".281" stop-color="#f60"/><stop offset=".344" stop-color="#f20"/><stop offset=".438" stop-color="#e00"/><stop offset=".5" stop-color="#d00"/><stop offset=".625" stop-color="#d00"/><stop offset=".688" stop-color="#f00"/><stop offset=".812" stop-color="#f50"/><stop offset=".875" stop-color="#f80"/><stop offset="1" stop-color="#fa0"/></linearGradient>
<linearGradient id="p924" gradientUnits="userSpaceOnUse" x1="35.9" x2="105.1"><stop offset="0" stop-color="#f80"/><stop offset=".125" stop-color="#f90"/><stop offset=".219" stop-color="#f40"/><stop offset=".281" stop-color="#f50"/><stop offset=".344" stop-color="#f20"/><stop offset=".406" stop-color="#f30"/><stop offset=".5" stop-color="#f00"/><stop offset=".625" stop-color="#f20"/><stop offset=".781" stop-color="#f60"/><stop offset=".906" stop-color="#fd0"/><stop offset="1" stop-color="#fd0"/></linearGradient>
<linearGradient id="p923" gradientUnits="userSpaceOnUse" x1="37.5" x2="106.7"><stop offset="0" stop-color="#f70"/><stop offset=".031" stop-color="#f80"/><stop offset=".125" stop-color="#f80"/><stop offset=".188" stop-color="#f60"/><stop offset=".344" stop-color="#f30"/><stop offset=".406" stop-color="#f50"/><stop offset=".469" stop-color="#f40"/><stop offset=".531" stop-color="#f40"/><stop offset=".625" stop-color="#f70"/><stop offset=".812" stop-color="#fb0"/><stop offset=".875" stop-color="#ff0"/><stop offset=".938" stop-color="#ef1"/><stop offset="1" stop-color="#ff0"/></linearGradient>
<linearGradient id="p922" gradientUnits="userSpaceOnUse" x1="39.1" x2="108.3"><stop offset="0" stop-color="#f90"/><stop offset=".031" stop-color="#fa0"/><stop offset=".125" stop-color="#f70"/><stop offset=".312" stop-color="#f70"/><stop offset=".406" stop-color="#f90"/><stop offset=".531" stop-color="#f90"/><stop offset=".625" stop-color="#fd0"/><stop offset=".75" stop-color="#ff0"/><stop offset=".906" stop-color="#bf4"/><stop offset=".938" stop-color="#bf4"/><stop offset="1" stop-color="#df2"/></linearGradient>
<linearGradient id="p921" gradientUnits="userSpaceOnUse" x1="40.7" x2="109.9"><stop offset="0" stop-color="#fe0"/><stop offset=".031" stop-color="#fd0"/><stop offset=".094" stop-color="#fa0"/><stop offset=".438" stop-color="#ff0"/><stop offset=".5" stop-color="#ef1"/><stop offset=".562" stop-color="#ef1"/><stop offset=".625" stop-color="#bf4"/><stop offset=".688" stop-color="#bf4"/><stop offset=".812" stop-color="#8f7"/><stop offset=".938" stop-color="#8f7"/><stop offset="1" stop-color="#af5"/></linearGradient>
<linearGradient id="p920" gradientUnits="userSpaceOnUse" x1="42.4" x2="111.6"><stop offset="0" stop-color="#cf3"/><stop offset=".094" stop-color="#ff0"/><stop offset=".188" stop-color="#ef1"/><stop offset=".344" stop-color="#af5"/><stop offset=".406" stop-color="#af5"/><stop offset=".469" stop-color="#6f9"/><stop offset=".562" stop-color="#7f8"/><stop offset=".625" stop-color="#6f9"/><stop offset=".719" stop-color="#6f9"/><stop offset=".812" stop-color="#4fb"/><stop offset="1" stop-color="#7f8"/></linearGradient>
<linearGradient id="p919" gradientUnits="userSpaceOnUse" x1="44" x2="113.2"><stop offset="0" stop-color="#7f8"/><stop offset=".125" stop-color="#6f9"/><stop offset=".219" stop-color="#8f7"/><stop offset=".344" stop-color="#4fb"/><stop offset=".406" stop-color="#5fa"/><stop offset=".469" stop-color="#0ff"/><stop offset=".562" stop-color="#2fd"/><stop offset=".656" stop-color="#1fe"/><stop offset=".719" stop-color="#3fc"/><stop offset=".812" stop-color="#1fe"/><stop offset=".938" stop-color="#6f9"/><stop offset="1" stop-color="#6f9"/></linearGradient>
<linearGradient id="p918" gradientUnits="userSpaceOnUse" x1="45.6" x2="114.8"><stop offset="0" stop-color="#1fe"/><stop offset=".031" stop-color="#0ff"/><stop offset=".125" stop-color="#0ff"/><stop offset=".219" stop-color="#2fd"/><stop offset=".312" stop-color="#0ff"/><stop offset=".344" stop-color="#0ef"/><stop offset=".406" stop-color="#1fe"/><stop offset=".469" stop-color="#0cf"/><stop offset=".594" stop-color="#0ef"/><stop offset=".656" stop-color="#0ef"/><stop offset=".688" stop-color="#0ff"/><stop offset=".75" stop-color="#2fd"/><stop offset=".812" stop-color="#1fe"/><stop offset=".938" stop-color="#7f8"/><stop offset="1" stop-color="#8f7"/></linearGradient>
<linearGradient id="p917" gradientUnits="userSpaceOnUse" x1="47.2" x2="116.4"><stop offset="0" stop-color="#08f"/><stop offset=".062" stop-color="#07f"/><stop offset=".188" stop-color="#0cf"/><stop offset=".25" stop-color="#0cf"/><stop offset=".344" stop-color="#0af"/><stop offset=".406" stop-color="#0df"/><stop offset=".469" stop-color="#0cf"/><stop offset=".594" stop-color="#0ef"/><stop offset=".656" stop-color="#0ef"/><stop offset=".688" stop-color="#0ff"/><stop offset=".781" stop-color="#4fb"/><stop offset=".844" stop-color="#4fb"/><stop offset=".938" stop-color="#af5"/><stop offset="1" stop-color="#bf4"/></linearGradient>
<linearGradient id="p916" gradientUnits="userSpaceOnUse" x1="48.8" x2="118"><stop offset="0" stop-color="#01f"/><stop offset=".062" stop-color="#02f"/><stop offset=".156" stop-color="#07f"/><stop offset=".531" stop-color="#0ff"/><stop offset=".719" stop-color="#4fb"/><stop offset=".781" stop-color="#7f8"/><stop offset=".875" stop-color="#9f6"/><stop offset=".938" stop-color="#df2"/><stop offset="1" stop-color="#ff0"/></linearGradient>
<linearGradient id="p915" gradientUnits="userSpaceOnUse" x1="50.5" x2="119.7"><stop offset="0" stop-color="#00f"/><stop offset=".062" stop-color="#02f"/><stop offset=".375" stop-color="#0ff"/><stop offset=".5" stop-color="#2fd"/><stop offset=".594" stop-color="#8f7"/><stop offset=".688" stop-color="#bf4"/><stop offset=".75" stop-color="#bf4"/><stop offset=".812" stop-color="#df2"/><stop offset=".875" stop-color="#cf3"/><stop offset=".906" stop-color="#ef1"/><stop offset="1" stop-color="#fb0"/></linearGradient>
<linearGradient id="p914" gradientUnits="userSpaceOnUse" x1="52.1" x2="121.3"><stop offset="0" stop-color="#04f"/><stop offset=".062" stop-color="#04f"/><stop offset=".125" stop-color="#06f"/><stop offset=".281" stop-color="#1fe"/><stop offset=".438" stop-color="#8f7"/><stop offset=".5" stop-color="#8f7"/><stop offset=".594" stop-color="#ff0"/><stop offset=".688" stop-color="#fd0"/><stop offset=".75" stop-color="#fd0"/><stop offset=".812" stop-color="#fc0"/><stop offset=".875" stop-color="#fd0"/><stop offset="1" stop-color="#f80"/></linearGradient>
<linearGradient id="p913" gradientUnits="userSpaceOnUse" x1="53.7" x2="122.9"><stop offset="0" stop-color="#08f"/><stop offset=".062" stop-color="#09f"/><stop offset=".188" stop-color="#0ff"/><stop offset=".219" stop-color="#1fe"/><stop offset=".312" stop-color="#9f6"/><stop offset=".438" stop-color="#ff0"/><stop offset=".531" stop-color="#fe0"/><stop offset=".594" stop-color="#fb0"/><stop offset=".688" stop-color="#f90"/><stop offset=".844" stop-color="#f80"/><stop offset="1" stop-color="#f50"/></linearGradient>
<linearGradient id="p912" gradientUnits="userSpaceOnUse" x1="55.3" x2="124.5"><stop offset="0" stop-color="#0df"/><stop offset=".094" stop-color="#1fe"/><stop offset=".156" stop-color="#5fa"/><stop offset=".219" stop-color="#8f7"/><stop offset=".312" stop-color="#ff0"/><stop offset=".469" stop-color="#f80"/><stop offset=".781" stop-color="#f60"/><stop offset=".906" stop-color="#f30"/><stop offset="1" stop-color="#f40"/></linearGradient>
<linearGradient id="p911" gradientUnits="userSpaceOnUse" x1="56.9" x2="126.1"><stop offset="0" stop-color="#5fa"/><stop offset=".094" stop-color="#7f8"/><stop offset=".156" stop-color="#cf3"/><stop offset=".219" stop-color="#ff0"/><stop offset=".25" stop-color="#fe0"/><stop offset=".344" stop-color="#f70"/><stop offset=".469" stop-color="#f30"/><stop offset=".625" stop-color="#f30"/><stop offset=".75" stop-color="#f40"/><stop offset=".906" stop-color="#f00"/><stop offset="1" stop-color="#f30"/></linearGradient>
<linearGradient id="p910" gradientUnits="userSpaceOnUse" x1="58.6" x2="127.8"><stop offset="0" stop-color="#cf3"/><stop offset=".094" stop-color="#ef1"/><stop offset=".125" stop-color="#fe0"/><stop offset=".344" stop-color="#f30"/><stop offset=".406" stop-color="#f10"/><stop offset=".625" stop-color="#f00"/><stop offset=".719" stop-color="#f30"/><stop offset=".875" stop-color="#f00"/><stop offset="1" stop-color="#f10"/></linearGradient>
<linearGradient id="p99" gradientUnits="userSpaceOnUse" x1="60.2" x2="129.4"><stop offset="0" stop-color="#fc0"/><stop offset=".094" stop-color="#fb0"/><stop offset=".219" stop-color="#f50"/><stop offset=".281" stop-color="#f10"/><stop offset=".312" stop-color="#f00"/><stop offset=".406" stop-color="#d00"/><stop offset=".5" stop-color="#e00"/><stop offset=".562" stop-color="#c00"/><stop offset=".656" stop-color="#f00"/><stop offset=".719" stop-color="#f20"/><stop offset=".812" stop-color="#f00"/><stop offset="1" stop-color="#d00"/></linearGradient>
<linearGradient id="p98" gradientUnits="userSpaceOnUse" x1="61.8" x2="131"><stop offset="0" stop-color="#f90"/><stop offset=".031" stop-color="#f80"/><stop offset=".094" stop-color="#f80"/><stop offset=".188" stop-color="#f40"/><stop offset=".25" stop-color="#f00"/><stop offset=".312" stop-color="#c00"/><stop offset=".5" stop-color="#d00"/><stop offset=".594" stop-color="#b00"/><stop offset=".688" stop-color="#f00"/><stop offset=".844" stop-color="#f10"/><stop offset="1" stop-color="#b00"/></linearGradient>
<linearGradient id="p97" gradientUnits="userSpaceOnUse" x1="63.4" x2="132.6"><stop offset="0" stop-color="#f60"/><stop offset=".031" stop-color="#f50"/><stop offset=".125" stop-color="#f60"/><stop offset=".188" stop-color="#f30"/><stop offset=".219" stop-color="#f10"/><stop offset=".25" stop-color="#d00"/><stop offset=".312" stop-color="#b00"/><stop offset=".406" stop-color="#d00"/><stop offset=".594" stop-color="#b00"/><stop offset=".719" stop-color="#e00"/><stop offset=".844" stop-color="#f10"/><stop offset=".875" stop-color="#f00"/><stop offset=".969" stop-color="#900"/><stop offset="1" stop-color="#900"/></linearGradient>
<linearGradient id="p96" gradientUnits="userSpaceOnUse" x1="65.1" x2="134.3"><stop offset="0" stop-color="#f50"/><stop offset=".156" stop-color="#f50"/><stop offset=".188" stop-color="#f30"/><stop offset=".219" stop-color="#f00"/><stop offset=".25" stop-color="#d00"/><stop offset=".312" stop-color="#c00"/><stop offset=".406" stop-color="#f00"/><stop offset=".5" stop-color="#c00"/><stop offset=".594" stop-color="#b00"/><stop offset=".719" stop-color="#e00"/><stop offset=".844" stop-color="#f10"/><stop offset=".875" stop-color="#f00"/><stop offset=".938" stop-color="#a00"/><stop offset="1" stop-color="#900"/></linearGradient>
<linearGradient id="p95" gradientUnits="userSpaceOnUse" x1="66.7" x2="135.9"><stop offset="0" stop-color="#f40"/><stop offset=".062" stop-color="#f50"/><stop offset=".156" stop-color="#f50"/><stop offset=".219" stop-color="#e00"/><stop offset=".25" stop-color="#c00"/><stop offset=".375" stop-color="#f00"/><stop offset=".438" stop-color="#f00"/><stop offset=".562" stop-color="#c00"/><stop offset=".656" stop-color="#d00"/><stop offset=".781" stop-color="#d00"/><stop offset=".844" stop-color="#f00"/><stop offset=".938" stop-color="#a00"/><stop offset="1" stop-color="#b00"/></linearGradient>
<linearGradient id="p94" gradientUnits="userSpaceOnUse" x1="68.3" x2="137.5"><stop offset="0" stop-color="#f40"/><stop offset=".062" stop-color="#f50"/><stop offset=".156" stop-color="#f40"/><stop offset=".188" stop-color="#f30"/><stop offset=".219" stop-color="#f00"/><stop offset=".25" stop-color="#d00"/><stop offset=".344" stop-color="#f00"/><stop offset=".438" stop-color="#f00"/><stop offset=".562" stop-color="#d00"/><stop offset=".625" stop-color="#e00"/><stop offset=".75" stop-color="#c00"/><stop offset=".844" stop-color="#e00"/><stop offset=".938" stop-color="#b00"/><stop offset="1" stop-color="#c00"/></linearGradient>
<linearGradient id="p93" gradientUnits="userSpaceOnUse" x1="69.9" x2="139.1"><stop offset="0" stop-color="#f30"/><stop offset=".156" stop-color="#f40"/><stop offset=".188" stop-color="#f30"/><stop offset=".219" stop-color="#f10"/><stop offset=".25" stop-color="#e00"/><stop offset=".594" stop-color="#f00"/><stop offset=".625" stop-color="#e00"/><stop offset=".688" stop-color="#b00"/><stop offset=".75" stop-color="#b00"/><stop offset=".844" stop-color="#d00"/><stop offset=".938" stop-color="#b00"/><stop offset="1" stop-color="#d00"/></linearGradient>
<linearGradient id="p92" gradientUnits="userSpaceOnUse" x1="71.5" x2="140.7"><stop offset="0" stop-color="#f40"/><stop offset=".094" stop-color="#f30"/><stop offset=".156" stop-color="#f40"/><stop offset=".25" stop-color="#f00"/><stop offset=".406" stop-color="#e00"/><stop offset=".625" stop-color="#f00"/><stop offset=".688" stop-color="#c00"/><stop offset=".75" stop-color="#b00"/><stop offset=".906" stop-color="#d00"/><stop offset=".938" stop-color="#c00"/><stop offset="1" stop-color="#d00"/></linearGradient>
<linearGradient id="p91" gradientUnits="userSpaceOnUse" x1="73.2" x2="142.4"><stop offset="0" stop-color="#f60"/><stop offset=".312" stop-color="#f00"/><stop offset=".406" stop-color="#d00"/><stop offset=".469" stop-color="#f00"/><stop offset=".656" stop-color="#f00"/><stop offset=".719" stop-color="#c00"/><stop offset=".781" stop-color="#b00"/><stop offset=".906" stop-color="#f00"/><stop offset=".969" stop-color="#c00"/><stop offset="1" stop-color="#c00"/></linearGradient>
<linearGradient id="p90" gradientUnits="userSpaceOnUse" x1="74.8" x2="144"><stop offset="0" stop-color="#f60"/><stop offset=".219" stop-color="#f30"/><stop offset=".312" stop-color="#e00"/><stop offset=".406" stop-color="#d00"/><stop offset=".531" stop-color="#f10"/><stop offset=".625" stop-color="#f00"/><stop offset=".75" stop-color="#b00"/><stop offset=".812" stop-color="#b00"/><stop offset=".875" stop-color="#f10"/><stop offset=".906" stop-color="#f20"/><stop offset=".938" stop-color="#e00"/><stop offset=".969" stop-color="#c00"/><stop offset="1" stop-color="#d00"/></linearGradient></defs>
<path fill="url(#p931)" d="M23.7 50.6l2.2-0.6l2.1-1.1l4.4-3.4l6.4-3.6l6.5-5.3l2.2-1.3l6.5-1.2l2.1-0.7l4.4-2.4l4.3-1l4.3-2l6.5-2.1l6.5-2.9l2.2-0.5l8.6-3.4l1.6 2.1l-10.8 3l-4.3 2.1l-6.5 2.2l-4.3 2.1l-6.5 2.2l-4.3 2.3l-6.5 1.1l-2.2 0.8l-8.6 6.6l-6.5 3.6l-4.4 3.1l-2.1 1l-2.2 0.5z"/>
<path fill="url(#p930)" d="M25.3 51.2l2.2-0.5l2.1-1l4.4-3.1l6.5-3.6l8.6-6.6l2.2-0.8l6.5-1.1l4.3-2.3l6.5-2.2l4.3-2.1l6.5-2.2l4.3-2.1l10.8-3l1.6 1.8l-2.1 0.7l-4.3 0.6l-4.4 1.3l-4.3 2.2l-6.5 2.1l-4.3 2.2l-6.5 2.3l-2.2 1.4l-2.1 1l-6.5 1.2l-2.2 0.9l-6.5 4.6l-12.9 8.1l-2.2 1l-2.2 0.6z"/>
<path fill="url(#p929)" d="M26.9 52l2.2-0.6l2.2-1l12.9-8.1l6.5-4.6l2.2-0.9l6.5-1.2l2.1-1l2.2-1.4l6.5-2.3l4.3-2.2l6.5-2.1l4.3-2.2l4.4-1.3l4.3-0.6l2.1-0.7l1.7 1.7l-2.2 0.8l-6.5 1.2l-8.6 3.9l-4.4 1.2l-4.3 1.9l-6.5 2l-4.3 2.4l-6.5 1.6l-2.1 1l-4.4 3l-6.5 3.9l-6.4 4.4l-6.5 2.8z"/>
<path fill="url(#p928)" d="M28.6 53l6.5-2.8l6.4-4.4l6.5-3.9l4.4-3l2.1-1l6.5-1.6l4.3-2.4l6.5-2l4.3-1.9l4.4-1.2l8.6-3.9l6.5-1.2l2.2-0.8l1.6 2.4l-6.5 1.1l-10.8 4.2l-4.3 1.1l-6.5 2.3l-4.3 1l-4.4 2.1l-6.5 2.3l-2.1 1.1l-4.3 3.4l-8.7 4.7l-4.3 3.2l-2.2 1.2l-4.3 1.3z"/>
<path fill="url(#p927)" d="M30.2 53.7l4.3-1.3l2.2-1.2l4.3-3.2l8.7-4.7l4.3-3.4l2.1-1.1l6.5-2.3l4.4-2.1l4.3-1l6.5-2.3l4.3-1.1l10.8-4.2l6.5-1.1l1.6 2.7l-6.5 1l-8.6 2.9l-8.7 1.6l-4.3 1.7l-6.5 1.9l-10.8 5.4l-4.3 3.4l-8.7 4.1l-4.3 2.9l-2.2 1.1l-4.3 1.1z"/>
<path fill="url(#p926)" d="M31.8 53.9l4.3-1.1l2.2-1.1l4.3-2.9l8.7-4.1l4.3-3.4l10.8-5.4l6.5-1.9l4.3-1.7l8.7-1.6l8.6-2.9l6.5-1l1.6 2.2l-8.6 2.4l-15.2 2.7l-10.8 3.6l-10.8 5.5l-4.3 3.1l-4.3 1.5l-8.7 4.7l-6.5 2.2z"/>
<path fill="url(#p925)" d="M33.4 54.1l6.5-2.2l8.7-4.7l4.3-1.5l4.3-3.1l10.8-5.5l10.8-3.6l15.2-2.7l8.6-2.4l1.7 2.4l-6.5 2.3l-8.7 0.9l-10.8 2.5l-8.6 2.8l-6.5 3.5l-4.4 1.3l-4.3 2.9l-4.3 1.2l-2.2 1.3l-2.1 1.7l-2.2 1.1l-8.6 2.6z"/>
<path fill="url(#p924)" d="M35.1 54.3l8.6-2.6l2.2-1.1l2.1-1.7l2.2-1.3l4.3-1.2l4.3-2.9l4.4-1.3l6.5-3.5l8.6-2.8l10.8-2.5l8.7-0.9l6.5-2.3l1.6 2.4l-6.5 2.6l-6.5 0.4l-21.6 5.7l-6.5 3.1l-4.3 0.9l-4.4 2.3l-4.3 1.5l-6.5 3.8l-8.6 2.5z"/>
<path fill="url(#p923)" d="M36.7 54.8l8.6-2.5l6.5-3.8l4.3-1.5l4.4-2.3l4.3-0.9l6.5-3.1l21.6-5.7l6.5-0.4l6.5-2.6l1.6 2.1l-4.3 2.3l-2.2 0.7l-4.3 0.6l-15.2 4.1l-6.4 1.1l-8.7 3.3l-6.5 1.7l-19.4 8.3l-2.2 0.4z"/>
<path fill="url(#p922)" d="M38.3 56l2.2-0.4l19.4-8.3l6.5-1.7l8.7-3.3l6.4-1.1l15.2-4.1l4.3-0.6l2.2-0.7l4.3-2.3l1.6 2.4l-4.3 2.5l-2.2 0.7l-12.9 3.5l-6.5 2.1l-4.4 0.4l-2.1 0.6l-2.2 0.9l-15.1 4.6l-4.3 1.6l-6.5 1.7l-2.2 0.9l-4.3 2.7l-2.2 0.7z"/>
<path fill="url(#p921)" d="M39.9 58.2l2.2-0.7l4.3-2.7l2.2-0.9l6.5-1.7l4.3-1.6l15.1-4.6l2.2-0.9l2.1-0.6l4.4-0.4l6.5-2.1l12.9-3.5l2.2-0.7l4.3-2.5l1.6 2.8l-4.3 2.1l-8.6 3.3l-8.7 2.2l-4.3 1.7l-4.3 0.8l-6.5 2.7l-4.3 0.6l-4.4 1.6l-10.8 2.6l-6.5 2l-2.1 1.1l-2.2 1.6l-2.2 1z"/>
<path fill="url(#p920)" d="M41.5 60.8l2.2-1l2.2-1.6l2.1-1.1l6.5-2l10.8-2.6l4.4-1.6l4.3-0.6l6.5-2.7l4.3-0.8l4.3-1.7l8.7-2.2l8.6-3.3l4.3-2.1l1.7 2.5l-6.5 2.5l-6.5 3.1l-6.5 1.7l-6.5 2.8l-6.5 2.1l-4.3 1.9l-4.3 0.1l-4.3 1.8l-8.7 1.9l-2.2 0.6l-4.3 2l-4.3 1.2l-4.3 2.1z"/>
<path fill="url(#p919)" d="M43.2 63.2l4.3-2.1l4.3-1.2l4.3-2l2.2-0.6l8.7-1.9l4.3-1.8l4.3-0.1l4.3-1.9l6.5-2.1l6.5-2.8l6.5-1.7l6.5-3.1l6.5-2.5l1.6 1.3l-4.3 1.7l-8.7 4.8l-6.5 1.7l-4.3 2.5l-6.5 2.3l-6.5 2.8l-4.3 0.2l-4.3 2.1l-8.7 1.8l-2.1 0.8l-4.4 2.3l-8.6 2.5z"/>
<path fill="url(#p918)" d="M44.8 65.6l8.6-2.5l4.4-2.3l2.1-0.8l8.7-1.8l4.3-2.1l4.3-0.2l6.5-2.8l6.5-2.3l4.3-2.5l6.5-1.7l8.7-4.8l4.3-1.7l1.6 0.8l-4.3 1.8l-6.5 4.2l-2.2 1.1l-4.3 1.3l-6.5 3.7l-4.3 1.2l-8.7 3.8l-4.3 0.9l-4.3 2.3l-4.3 0.8l-4.4 1.4l-10.8 5.3l-4.3 0.9z"/>
<path fill="url(#p917)" d="M46.4 69l4.3-0.9l10.8-5.3l4.4-1.4l4.3-0.8l4.3-2.3l4.3-0.9l8.7-3.8l4.3-1.2l6.5-3.7l4.3-1.3l2.2-1.1l6.5-4.2l4.3-1.8l1.6 0.6l-4.3 1.9l-6.5 4.2l-4.3 1.7l-8.7 4.9l-4.3 1.4l-6.5 3l-4.3 1.6l-6.5 3.2l-10.8 3.9l-2.2 1.1l-6.4 4l-4.4 1.6z"/>
<path fill="url(#p916)" d="M48 72.8l4.4-1.6l6.4-4l2.2-1.1l10.8-3.9l6.5-3.2l4.3-1.6l6.5-3l4.3-1.4l8.7-4.9l4.3-1.7l6.5-4.2l4.3-1.9l1.7 0.4l-4.4 2.2l-4.3 3l-4.3 1.4l-4.3 2.5l-10.9 4.8l-6.5 3.7l-4.3 1.7l-12.9 6.7l-6.5 2.8l-6.5 4l-4.4 2.1z"/>
<path fill="url(#p915)" d="M49.6 75l4.4-2.1l6.5-4l6.5-2.8l12.9-6.7l4.3-1.7l6.5-3.7l10.9-4.8l4.3-2.5l4.3-1.4l4.3-3l4.4-2.2l1.6 0.5l-4.4 2.4l-4.3 2.7l-4.3 0.9l-4.3 2.2l-4.4 1.4l-4.3 2.1l-2.1 1.1l-6.5 4.5l-4.4 1.7l-4.3 2.2l-10.8 6.5l-6.5 3.6l-4.3 2.2l-4.3 1.8z"/>
<path fill="url(#p914)" d="M51.3 75.3l4.3-1.8l4.3-2.2l6.5-3.6l10.8-6.5l4.3-2.2l4.4-1.7l6.5-4.5l2.1-1.1l4.3-2.1l4.4-1.4l4.3-2.2l4.3-0.9l4.3-2.7l4.4-2.4l1.6 0.7l-8.7 4.3l-12.9 4.7l-6.5 3.1l-4.3 3l-6.5 2.7l-10.8 6.2l-4.4 3.3l-6.5 3.8l-4.3 2.2l-4.3 1.7z"/>
<path fill="url(#p913)" d="M52.9 75.1l4.3-1.7l4.3-2.2l6.5-3.8l4.4-3.3l10.8-6.2l6.5-2.7l4.3-3l6.5-3.1l12.9-4.7l8.7-4.3l1.6 0.9l-6.5 2.4l-6.5 3.1l-6.4 2.5l-8.7 3.8l-4.3 2.2l-6.5 2.4l-8.7 5l-6.4 4.7l-4.4 2.4l-6.5 4l-4.3 2z"/>
<path fill="url(#p912)" d="M54.5 74.9l4.3-2l6.5-4l4.4-2.4l6.4-4.7l8.7-5l6.5-2.4l4.3-2.2l8.7-3.8l6.4-2.5l6.5-3.1l6.5-2.4l1.6 1.5l-6.5 1.7l-10.8 4.9l-21.6 8.3l-6.5 3.3l-6.5 4.7l-6.5 3.6l-4.3 3l-6.5 3.1z"/>
<path fill="url(#p911)" d="M56.1 73.9l6.5-3.1l4.3-3l6.5-3.6l6.5-4.7l6.5-3.3l21.6-8.3l10.8-4.9l6.5-1.7l1.7 1.3l-4.4 0.8l-8.6 3.7l-4.3 2.2l-2.2 0.8l-6.5 1.4l-13 5.1l-6.5 3.1l-6.4 4.2l-6.5 3.5l-4.4 3l-6.4 2.9z"/>
<path fill="url(#p910)" d="M57.8 72.7l6.4-2.9l4.4-3l6.5-3.5l6.4-4.2l6.5-3.1l13-5.1l6.5-1.4l2.2-0.8l4.3-2.2l8.6-3.7l4.4-0.8l1.6 0.9l-6.5 2.1l-13 5.8l-8.6 1.8l-8.7 3.5l-4.3 1.3l-8.7 4.4l-4.3 2.8l-6.5 3.5l-2.1 1.5l-6.5 2.9z"/>
<path fill="url(#p99)" d="M59.4 71.9l6.5-2.9l2.1-1.5l6.5-3.5l4.3-2.8l8.7-4.4l4.3-1.3l8.7-3.5l8.6-1.8l13-5.8l6.5-2.1l1.6 0.8l-10.8 4.9l-8.7 3.3l-4.3 1.2l-4.3 0.7l-6.5 2.8l-6.5 1.8l-6.5 2.6l-2.1 1.1l-4.4 3l-8.6 5.1l-6.5 2.5z"/>
<path fill="url(#p98)" d="M61 71.5l6.5-2.5l8.6-5.1l4.4-3l2.1-1.1l6.5-2.6l6.5-1.8l6.5-2.8l4.3-0.7l4.3-1.2l8.7-3.3l10.8-4.9l1.6 0.8l-10.8 5.9l-8.6 2.7l-6.5 1.3l-15.2 5.9l-6.5 1.8l-2.1 1.1l-6.5 4.4l-4.3 2.4l-6.5 2.3l-2.2 1.1z"/>
<path fill="url(#p97)" d="M62.6 71.6l2.2-1.1l6.5-2.3l4.3-2.4l6.5-4.4l2.1-1.1l6.5-1.8l15.2-5.9l6.5-1.3l8.6-2.7l10.8-5.9l1.6 1.3l-2.1 0.9l-6.5 4.3l-2.2 1.1l-4.3 1l-4.3 1.6l-8.7 2l-6.5 2.7l-6.4 3.2l-6.5 1.2l-4.4 2.2l-4.3 3.2l-2.1 1.1l-8.7 3.1l-2.2 1z"/>
<path fill="url(#p96)" d="M64.2 72l2.2-1l8.7-3.1l2.1-1.1l4.3-3.2l4.4-2.2l6.5-1.2l6.4-3.2l6.5-2.7l8.7-2l4.3-1.6l4.3-1l2.2-1.1l6.5-4.3l2.1-0.9l1.7 2.3l-2.2 0.4l-2.2 0.9l-6.4 4.2l-4.4 1.1l-4.3 1.6l-8.6 2.2l-6.5 2.7l-6.5 3.4l-6.5 1.3l-4.3 1.5l-4.4 3.4l-2.1 1.3l-6.5 2.4l-4.3 1.2z"/>
<path fill="url(#p95)" d="M65.9 72.7l4.3-1.2l6.5-2.4l2.1-1.3l4.4-3.4l4.3-1.5l6.5-1.3l6.5-3.4l6.5-2.7l8.6-2.2l4.3-1.6l4.4-1.1l6.4-4.2l2.2-0.9l2.2-0.4l1.6 2.2l-4.3 1l-6.5 3.6l-4.3 1.1l-10.9 4.1l-4.3 1.1l-10.8 5.1l-10.8 2.8l-2.2 1.4l-2.1 1.9l-2.2 1.3l-6.5 2.5l-4.3 1.2z"/>
<path fill="url(#p94)" d="M67.5 73.8l4.3-1.2l6.5-2.5l2.2-1.3l2.1-1.9l2.2-1.4l10.8-2.8l10.8-5.1l4.3-1.1l10.9-4.1l4.3-1.1l6.5-3.6l4.3-1l1.6 1.8l-4.3 1l-6.5 3l-6.5 1.7l-4.3 1.8l-4.3 2.4l-6.5 2.2l-10.8 4.3l-8.7 2.5l-4.3 3.1l-2.2 1.1l-10.8 3.7z"/>
<path fill="url(#p93)" d="M69.1 74.7l10.8-3.7l2.2-1.1l4.3-3.1l8.7-2.5l10.8-4.3l6.5-2.2l4.3-2.4l4.3-1.8l6.5-1.7l6.5-3l4.3-1l1.6 1.7l-4.3 1.1l-6.5 2.6l-6.5 1.9l-4.3 1.8l-4.3 2.5l-2.2 0.9l-21.6 7.6l-2.2 0.8l-4.3 2.8l-2.2 1.1l-10.8 3.6z"/>
<path fill="url(#p92)" d="M70.7 75.7l10.8-3.6l2.2-1.1l4.3-2.8l2.2-0.8l21.6-7.6l2.2-0.9l4.3-2.5l4.3-1.8l6.5-1.9l6.5-2.6l4.3-1.1l1.7 1.5l-2.2 0.6l-4.3 2.3l-6.5 1.5l-4.3 1.4l-8.7 4.4l-17.3 5.9l-8.6 3.7l-6.5 3.2l-4.4 1.4l-6.4 2.9z"/>
<path fill="url(#p91)" d="M72.4 77.2l6.4-2.9l4.4-1.4l6.5-3.2l8.6-3.7l17.3-5.9l8.7-4.4l4.3-1.4l6.5-1.5l4.3-2.3l2.2-0.6l1.6 1.5l-2.2 0.7l-4.3 3.1l-2.2 0.4l-2.1-0.1l-4.4 1.1l-4.3 1.7l-4.3 2.7l-2.2 0.9l-6.5 2.3l-8.6 2.4l-13 6.1l-8.6 3.5l-6.5 3.1z"/>
<path fill="url(#p90)" d="M74 78.7l6.5-3.1l8.6-3.5l13-6.1l8.6-2.4l6.5-2.3l2.2-0.9l4.3-2.7l4.3-1.7l4.4-1.1l2.1 0.1l2.2-0.4l4.3-3.1l2.2-0.7l1.6 2.1l-2.2 0.3l-4.3 3.2l-2.1 0.3l-2.2-0.1l-6.5 1.7l-2.2 0.8l-4.3 2.4l-8.6 3.8l-4.4 0.8l-4.3 1.4l-6.5 2.8l-8.6 4.7l-4.4 1.7l-4.3 2.1l-4.3 1.5z"/>
</g>

<rect x="157.6" y="12.9" width="6.8" height="112.7" fill="url(#jet)" stroke="#2a2a2a" stroke-width=".4"/>
<text class="c" x="166.3" y="127.3">34</text>
<text class="c" x="166.3" y="108.5">34.5</text>
<text class="c" x="166.3" y="89.7">35</text>
<text class="c" x="166.3" y="71.0">35.5</text>
<text class="c" x="166.3" y="52.2">36</text>
<text class="c" x="166.3" y="33.4">36.5</text>
<text class="c" x="166.3" y="14.6">37</text>
</g>
<text class="cap" x="283.8" y="153.5">(<tspan>a</tspan>)</text>
<text class="cap" x="283.9" y="322.8">(<tspan>b</tspan>)</text>
<text class="cap" x="283.9" y="492.4">(<tspan>c</tspan>)</text>
</svg></body></html>
